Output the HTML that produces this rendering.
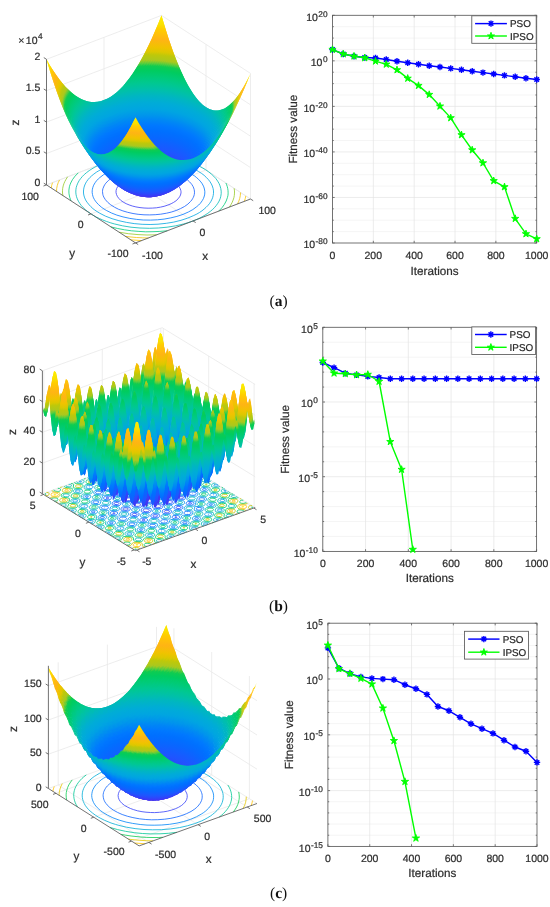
<!DOCTYPE html>
<html lang="en"><head><meta charset="utf-8"><title>Benchmark functions and convergence curves</title>
<style>html,body{margin:0;padding:0;background:#fff}svg{display:block}svg text{stroke:#2e2e2e;stroke-width:.22px;text-rendering:geometricPrecision}svg .cap text{stroke:none}</style></head>
<body><svg width="550" height="907" viewBox="0 0 550 907" font-family="'Liberation Sans',Arial,Helvetica,sans-serif">
<rect width="550" height="907" fill="#fff"/>
<g>
<path d="M135.5 242.9L46.5 184.9L46.5 59.3M193 220.9L104 162.9L104 37.3M250.5 199L161.5 141L161.5 15.4M135.5 242.9L250.5 199L250.5 73.4M91 213.9L206 170L206 44.4M46.5 184.9L161.5 141L161.5 15.4M46.5 184.9L161.5 141L250.5 199M46.5 153.5L161.5 109.6L250.5 167.6M46.5 122.1L161.5 78.2L250.5 136.2M46.5 90.7L161.5 46.8L250.5 104.8M46.5 59.3L161.5 15.4L250.5 73.4" fill="none" stroke="#e9e9e9" stroke-width="0.8"/>
<g fill="none" stroke-width="0.8" stroke-linejoin="round">
<path transform="scale(.1)" stroke-width="8" d="M1335 1774l42-8 45-6 43-3 47 1 40 3 47 7 41 9 39 13 34 15 29 16 25 19 20 21 13 21 8 22 2 13 0 12-5 21-9 18-15 20-21 20-24 16-24 13-34 14-37 12-35 8-42 7-41 3-42 1-41-2-40-4-41-7-36-9-32-11-29-12-30-16-25-18-17-17-15-19-10-22-5-21 1-20 6-20 12-21 17-19 20-17 27-18 26-12 29-11 37-12" stroke="#383cf8"/>
<path transform="scale(.1)" stroke-width="8" d="M1237 1725l54-15 64-12 65-7 68-1 68 3 68 8 62 13 55 16 53 21 46 24 22 15 16 12 17 16 13 14 11 14 11 18 7 16 5 16 2 14 1 18-2 16-4 16-6 14-7 13-8 13-13 15-26 26-34 24-40 21-44 19-49 16-47 11-58 10-55 5-55 2-57-1-59-5-51-8-54-12-47-14-45-17-39-20-37-23-30-25-24-27-16-26-6-14-4-14-3-27 1-15 3-14 11-27 7-12 11-16 25-26 29-23 38-23 42-19 45-16" stroke="#145eff"/>
<path transform="scale(.1)" stroke-width="8" d="M1191 1678l72-18 77-13 80-8 80-1 79 4 80 10 75 16 68 20 30 12 34 14 26 13 29 17 27 17 19 16 18 16 17 18 16 20 11 19 9 19 6 21 4 22 0 18-2 19-6 21-6 16-10 18-11 16-12 16-14 14-20 17-39 29-44 24-54 24-61 20-62 15-66 12-67 7-68 3-74-1-65-6-69-10-68-15-62-18-53-21-52-26-23-14-22-15-33-29-16-17-14-17-11-17-9-17-6-16-4-17-3-18 0-18 2-16 4-18 6-17 9-18 11-17 12-16 17-18 16-14 38-29 44-25 54-24 56-19" stroke="#0077ff"/>
<path transform="scale(.1)" stroke-width="8" d="M1140 1642l45-13 41-9 42-8 44-7 47-5 45-4 47-2 46 0 48 2 45 3 47 5 44 6 44 9 42 9 42 11 40 13 37 13 34 15 37 18 29 17 31 20 24 18 21 20 22 23 17 22 13 22 9 20 8 25 4 24 0 24-3 22-6 23-9 21-10 19-13 19-16 19-18 18-19 17-21 17-27 18-24 14-31 15-61 26-67 22-73 18-74 12-83 9-79 3-80-2-79-7-77-12-76-17-68-20-65-25-57-29-28-17-22-15-20-15-21-20-16-17-17-21-13-18-10-19-8-20-6-21-3-20 0-20 2-19 4-20 7-21 9-19 10-17 15-20 17-19 18-17 21-17 26-19 23-14 29-17 60-26 64-23" stroke="#00a5e1"/>
<path transform="scale(.1)" stroke-width="8" d="M1126 1601l45-11 48-10 44-8 52-7 51-5 55-3 53-1 47 0 49 3 52 4 47 6 51 8 48 9 52 13 41 11 45 15 42 17 39 17 36 19 33 19 30 21 27 22 24 22 22 24 18 26 13 22 10 24 8 28 4 26 0 24-4 27-7 25-10 23-13 22-14 20-19 23-18 18-24 20-25 19-28 18-29 17-30 16-38 16-35 14-42 14-37 11-81 19-87 14-88 8-87 3-96-3-90-8-85-14-82-19-41-12-38-13-36-14-34-15-32-15-29-17-27-17-30-21-23-19-20-19-19-21-16-21-14-23-11-23-8-22-5-24-2-22 1-23 3-22 7-23 9-22 13-24 15-21 19-23 18-18 24-20 25-19 28-18 29-17 30-16 38-16 35-14 74-24" stroke="#00bab7"/>
<path transform="scale(.1)" stroke-width="8" d="M1673 2308l-74 6-69 3-73 1-68-4-74-6-70-10-68-13-68-16M2259 1830l7 17 7 20 4 17 3 19 1 19 0 17-2 18-5 19-12 34-19 35-23 32-33 34M711 2009l-7-17-7-20-7-34-1-18 0-19 5-34 6-19 7-18 18-34 25-34 33-34M1297 1531l74-6 69-3 73-1 68 4 74 6 70 10 68 13 68 16" stroke="#00cb78"/>
<path transform="scale(.1)" stroke-width="8" d="M1566 2348l-96 2-90-4-97-9-92-15M2341 1883l4 26 0 22-2 24-4 22-8 24-10 24-12 22-15 24M629 1956l-4-26 0-22 2-25 5-24 7-22 10-23 12-22 15-24M1404 1491l96-2 90 4 97 9 92 15" stroke="#96c926"/>
<path transform="scale(.1)" stroke-width="8" d="M1485 2380l-62-2-59-3-54-5-55-6M2405 1925l-2 31-6 29-9 27-13 27M565 1914l2-31 6-29 9-27 13-27M1485 1459l62 2 59 3 54 5 55 6" stroke="#f3c004"/>
<path transform="scale(.1)" stroke-width="8" d="M1416 2406l-108-8M2458 1959l-6 28-8 26M512 1880l5-27 9-27M1554 1433l108 8" stroke="#ffc903"/>
</g>
<linearGradient id="ga" gradientUnits="userSpaceOnUse" x1="1355" y1="2429" x2="936.5" y2="1332.8"><stop offset="0" stop-color="#482cde"/><stop offset="0.05" stop-color="#4432ee"/><stop offset="0.1" stop-color="#383cf8"/><stop offset="0.17" stop-color="#1e56ff"/><stop offset="0.234" stop-color="#0867ff"/><stop offset="0.275" stop-color="#0070ff"/><stop offset="0.305" stop-color="#0078ff"/><stop offset="0.338" stop-color="#0087f5"/><stop offset="0.365" stop-color="#0096eb"/><stop offset="0.4" stop-color="#00a5e1"/><stop offset="0.44" stop-color="#00acd7"/><stop offset="0.485" stop-color="#00b6c1"/><stop offset="0.52" stop-color="#00c0aa"/><stop offset="0.56" stop-color="#00c891"/><stop offset="0.6" stop-color="#00cb78"/><stop offset="0.64" stop-color="#00cc5f"/><stop offset="0.668" stop-color="#0fcc50"/><stop offset="0.685" stop-color="#5acd3c"/><stop offset="0.705" stop-color="#aac81e"/><stop offset="0.74" stop-color="#bec80a"/><stop offset="0.76" stop-color="#dcc800"/><stop offset="0.79" stop-color="#f0c300"/><stop offset="0.84" stop-color="#ffb414"/><stop offset="0.91" stop-color="#ffcd00"/><stop offset="0.94" stop-color="#fae100"/><stop offset="1" stop-color="#ffee00"/></linearGradient>
<g transform="scale(.1)" fill="url(#ga)" >
<path transform="translate(-885.4 -577)" d="M1350 1170l32 56 32 51 32 48 32 44 32 40 32 37 32 32 32 29 32 24 32 21 32 17 32 13 32 9 32 5 32 2 31-3 32-6 32-11 32-14 32-18 32-22 32-25 32-30 32-33 32-38 32-41 32-45 32-49 32-53 32-57 32-61 32-64 32-69 31-72 32-76 32-80 10 32-32 80-32 76-32 72-32 69-32 64-32 61-32 57-32 53-32 49-32 45-32 41-32 37-32 34-32 30-32 25-31 22-32 18-32 14-32 11-32 6-32 3-32-2-32-5-32-9-32-13-32-17-32-21-32-24-32-29-32-32-32-37-32-40-32-44-31-48-32-51-32-56z"/>
<path transform="translate(-885.4 -577)" d="M1350 1170l32 56 32 51 32 48 32 44 32 40 32 37 32 32 32 29 32 24 32 21 32 17 32 13 32 9 32 5 32 2 31-3 32-6 32-11 32-14 32-18 32-22 32-25 32-30 32-33 32-38 32-41 32-45 32-49 32-53 32-57 32-61 32-64 32-69 31-72 32-76 32-80 19 63-32 80-32 76-32 73-32 68-32 65-32 60-32 57-32 53-32 49-32 45-31 41-32 38-32 33-32 30-32 26-32 22-32 18-32 14-32 10-32 6-32 3-32-1-32-6-32-9-32-13-32-17-32-20-32-25-31-29-32-32-32-36-32-40-32-44-32-48-32-52-32-56z"/>
<path transform="translate(-876.1 -570.9)" d="M1350 1196l32 56 32 51 32 48 32 44 32 40 32 37 32 32 32 28 32 25 32 21 32 17 32 13 32 9 32 5 32 2 31-3 32-6 32-11 32-14 32-18 32-22 32-25 32-30 32-34 32-37 32-41 32-45 32-49 32-53 32-57 32-61 32-64 32-69 31-72 32-76 32-80 19 62-32 80-32 76-32 73-32 68-32 65-32 60-32 57-32 53-32 49-32 45-31 41-32 38-32 33-32 30-32 26-32 21-32 18-32 15-32 10-32 6-32 3-32-2-32-5-32-9-32-13-32-17-32-21-32-24-31-29-32-32-32-36-32-41-32-44-32-47-32-52-32-56z"/>
<path transform="translate(-866.8 -564.9)" d="M1350 1221l32 56 32 52 32 48 32 44 32 40 32 36 32 32 32 29 32 24 32 21 32 17 32 13 32 9 32 5 32 2 31-3 32-6 32-10 32-14 32-18 32-22 32-26 32-30 32-33 32-38 32-41 32-45 32-49 32-53 32-57 32-60 32-65 32-68 31-73 32-76 32-80 19 61-32 80-32 77-32 72-32 68-32 65-32 60-32 57-32 53-32 49-32 45-31 42-32 37-32 33-32 30-32 26-32 22-32 18-32 14-32 10-32 7-32 2-32-1-32-6-32-9-32-13-32-17-32-20-32-25-31-29-32-32-32-36-32-40-32-44-32-48-32-52-32-56z"/>
<path transform="translate(-857.6 -558.9)" d="M1350 1246l32 56 32 51 32 48 32 44 32 40 32 37 32 32 32 29 32 24 32 21 32 17 32 13 32 9 32 5 32 2 31-3 32-6 32-10 32-15 32-18 32-22 32-25 32-30 32-33 32-38 32-41 32-45 32-49 32-53 32-57 32-61 32-64 32-69 31-72 32-76 32-80 19 60-32 80-32 76-32 73-32 68-32 64-32 61-32 57-32 53-32 49-32 45-31 41-32 38-32 33-32 30-32 26-32 21-32 18-32 15-32 10-32 6-32 3-32-2-32-5-32-9-32-13-32-17-32-21-32-24-31-29-32-32-32-36-32-41-32-44-32-48-32-51-32-56z"/>
<path transform="translate(-848.3 -552.8)" d="M1350 1270l32 56 32 52 32 48 32 44 32 40 32 36 32 32 32 29 32 25 32 20 32 17 32 13 32 9 32 6 32 1 31-3 32-6 32-10 32-14 32-18 32-22 32-26 32-30 32-33 32-38 32-41 32-45 32-49 32-53 32-57 32-60 32-65 32-68 31-73 32-76 32-80 19 59-32 80-32 76-32 73-32 68-32 65-32 60-32 57-32 53-32 49-32 45-31 41-32 38-32 33-32 30-32 26-32 22-32 18-32 14-32 10-32 6-32 3-32-1-32-6-32-9-32-13-32-17-32-21-32-24-31-29-32-32-32-36-32-40-32-44-32-48-32-52-32-56z"/>
<path transform="translate(-839 -546.8)" d="M1350 1294l32 56 32 51 32 48 32 44 32 40 32 37 32 32 32 29 32 24 32 21 32 17 32 13 32 9 32 5 32 2 31-3 32-6 32-11 32-14 32-18 32-22 32-25 32-30 32-33 32-38 32-41 32-45 32-49 32-53 32-57 32-61 32-64 32-69 31-72 32-76 32-80 19 58-32 80-32 76-32 72-32 69-32 64-32 61-32 57-32 53-32 49-32 45-31 41-32 37-32 34-32 30-32 25-32 22-32 18-32 14-32 11-32 6-32 3-32-2-32-5-32-9-32-13-32-17-32-21-32-25-31-28-32-32-32-37-32-40-32-44-32-48-32-51-32-56z"/>
<path transform="translate(-829.7 -540.7)" d="M1350 1317l32 56 32 52 32 47 32 44 32 41 32 36 32 32 32 29 32 24 32 21 32 17 32 13 32 9 32 5 32 2 31-3 32-6 32-10 32-14 32-18 32-22 32-26 32-30 32-33 32-38 32-41 32-45 32-49 32-53 32-57 32-60 32-65 32-68 31-73 32-76 32-80 19 57-32 80-32 76-32 72-32 69-32 64-32 61-32 57-32 53-32 49-32 45-31 41-32 38-32 33-32 30-32 25-32 22-32 18-32 14-32 11-32 6-32 3-32-2-32-5-32-9-32-13-32-17-32-21-32-24-31-29-32-32-32-37-32-40-32-44-32-48-32-51-32-56z"/>
<path transform="translate(-820.5 -534.7)" d="M1350 1340l32 55 32 52 32 48 32 44 32 40 32 37 32 32 32 28 32 25 32 21 32 17 32 13 32 9 32 5 32 1 31-2 32-6 32-11 32-14 32-18 32-22 32-26 32-29 32-34 32-37 32-41 32-45 32-49 32-53 32-57 32-61 32-64 32-69 31-72 32-76 32-80 19 55-32 81-32 76-32 72-32 68-32 65-32 61-32 56-32 53-32 49-32 45-31 42-32 37-32 34-32 29-32 26-32 22-32 18-32 14-32 10-32 7-32 2-32-1-32-6-32-9-32-13-32-17-32-20-32-25-31-28-32-33-32-36-32-40-32-44-32-48-32-52-32-56z"/>
<path transform="translate(-811.2 -528.6)" d="M1350 1362l32 56 32 51 32 48 32 44 32 40 32 37 32 32 32 28 32 25 32 21 32 17 32 13 32 9 32 5 32 2 31-3 32-6 32-11 32-14 32-18 32-22 32-25 32-30 32-34 32-37 32-41 32-45 32-49 32-53 32-57 32-61 32-64 32-69 31-72 32-76 32-80 19 54-32 81-32 76-32 72-32 68-32 65-32 61-32 56-32 53-32 49-32 45-31 42-32 37-32 34-32 29-32 26-32 22-32 18-32 14-32 10-32 7-32 2-32-1-32-6-32-9-32-13-32-17-32-20-32-25-31-28-32-33-32-36-32-40-32-44-32-48-32-52-32-56z"/>
<path transform="translate(-801.9 -522.6)" d="M1350 1383l32 56 32 52 32 48 32 44 32 40 32 36 32 33 32 28 32 25 32 20 32 17 32 13 32 9 32 6 32 1 31-2 32-7 32-10 32-14 32-18 32-22 32-26 32-30 32-33 32-37 32-42 32-45 32-49 32-53 32-57 32-60 32-65 32-68 31-72 32-77 32-80 19 54-32 80-32 76-32 72-32 69-32 64-32 61-32 57-32 53-32 49-32 45-31 41-32 37-32 34-32 30-32 25-32 22-32 18-32 14-32 11-32 6-32 3-32-2-32-5-32-9-32-13-32-17-32-21-32-24-31-29-32-32-32-37-32-40-32-44-32-48-32-51-32-56z"/>
<path transform="translate(-792.7 -516.6)" d="M1350 1404l32 56 32 52 32 48 32 44 32 40 32 36 32 32 32 29 32 25 32 20 32 17 32 13 32 9 32 6 32 1 31-2 32-7 32-10 32-14 32-18 32-22 32-26 32-30 32-33 32-37 32-42 32-45 32-49 32-53 32-57 32-60 32-65 32-68 31-72 32-77 32-80 19 53-32 80-32 76-32 72-32 69-32 64-32 61-32 57-32 53-32 49-32 45-31 41-32 37-32 34-32 30-32 25-32 22-32 18-32 14-32 11-32 6-32 2-32-1-32-5-32-9-32-13-32-17-32-21-32-25-31-28-32-32-32-37-32-40-32-44-32-48-32-52-32-55z"/>
<path transform="translate(-783.4 -510.5)" d="M1350 1425l32 55 32 52 32 48 32 44 32 40 32 37 32 32 32 28 32 25 32 21 32 17 32 13 32 9 32 5 32 1 31-2 32-6 32-11 32-14 32-18 32-22 32-25 32-30 32-34 32-37 32-41 32-45 32-49 32-53 32-57 32-61 32-64 32-69 31-72 32-76 32-80 19 51-32 80-32 76-32 73-32 68-32 65-32 60-32 57-32 53-32 49-32 45-31 41-32 38-32 33-32 30-32 26-32 22-32 18-32 14-32 10-32 6-32 3-32-2-32-5-32-9-32-13-32-17-32-21-32-24-31-29-32-32-32-36-32-41-32-44-32-47-32-52-32-56z"/>
<path transform="translate(-774.1 -504.5)" d="M1350 1445l32 55 32 52 32 48 32 44 32 40 32 36 32 33 32 28 32 25 32 21 32 17 32 13 32 9 32 5 32 1 31-2 32-7 32-10 32-14 32-18 32-22 32-26 32-29 32-34 32-37 32-41 32-46 32-49 32-52 32-57 32-61 32-64 32-69 31-72 32-76 32-80 19 50-32 80-32 76-32 72-32 69-32 64-32 61-32 57-32 53-32 49-32 45-31 41-32 38-32 33-32 30-32 25-32 22-32 18-32 14-32 11-32 6-32 3-32-2-32-5-32-9-32-13-32-17-32-21-32-24-31-29-32-32-32-37-32-40-32-44-32-48-32-51-32-56z"/>
<path transform="translate(-764.8 -498.4)" d="M1350 1464l32 56 32 51 32 48 32 44 32 41 32 36 32 32 32 29 32 24 32 21 32 17 32 13 32 9 32 5 32 2 31-3 32-6 32-10 32-15 32-18 32-21 32-26 32-30 32-33 32-38 32-41 32-45 32-49 32-53 32-57 32-61 32-64 32-68 31-73 32-76 32-80 19 49-32 80-32 76-32 73-32 68-32 65-32 60-32 57-32 53-32 49-32 45-31 41-32 38-32 33-32 30-32 26-32 22-32 18-32 14-32 10-32 6-32 3-32-2-32-5-32-9-32-13-32-17-32-21-32-24-31-29-32-32-32-36-32-40-32-44-32-48-32-52-32-56z"/>
<path transform="translate(-755.6 -492.4)" d="M1350 1483l32 56 32 51 32 48 32 44 32 40 32 37 32 32 32 29 32 24 32 21 32 17 32 13 32 9 32 5 32 2 31-3 32-6 32-11 32-14 32-18 32-22 32-25 32-30 32-34 32-37 32-41 32-45 32-49 32-53 32-57 32-61 32-64 32-69 31-72 32-76 32-80 19 48-32 80-32 76-32 72-32 69-32 64-32 61-32 57-32 53-32 49-32 45-31 41-32 38-32 33-32 30-32 25-32 22-32 18-32 14-32 11-32 6-32 3-32-2-32-5-32-9-32-13-32-17-32-21-32-24-31-29-32-32-32-37-32-40-32-44-32-48-32-51-32-56z"/>
<path transform="translate(-746.3 -486.4)" d="M1350 1501l32 56 32 52 32 47 32 44 32 41 32 36 32 32 32 29 32 24 32 21 32 17 32 13 32 9 32 5 32 2 31-3 32-6 32-10 32-14 32-18 32-22 32-26 32-30 32-33 32-38 32-41 32-45 32-49 32-53 32-57 32-60 32-65 32-68 31-73 32-76 32-80 19 47-32 80-32 76-32 73-32 68-32 65-32 60-32 57-32 53-32 49-32 45-31 41-32 38-32 33-32 30-32 26-32 21-32 18-32 15-32 10-32 6-32 3-32-2-32-5-32-9-32-13-32-17-32-21-32-24-31-29-32-32-32-36-32-41-32-44-32-47-32-52-32-56z"/>
<path transform="translate(-737 -480.3)" d="M1350 1519l32 56 32 51 32 48 32 44 32 40 32 37 32 32 32 28 32 25 32 21 32 17 32 13 32 9 32 5 32 2 31-3 32-6 32-11 32-14 32-18 32-22 32-25 32-30 32-34 32-37 32-41 32-45 32-49 32-53 32-57 32-61 32-64 32-69 31-72 32-76 32-80 19 46-32 80-32 76-32 72-32 69-32 64-32 61-32 57-32 52-32 49-32 46-31 41-32 37-32 34-32 29-32 26-32 22-32 18-32 14-32 11-32 6-32 2-32-1-32-5-32-9-32-13-32-17-32-21-32-25-31-28-32-33-32-36-32-40-32-44-32-48-32-52-32-55z"/>
<path transform="translate(-727.8 -474.3)" d="M1350 1536l32 56 32 51 32 48 32 44 32 40 32 37 32 32 32 29 32 24 32 21 32 17 32 13 32 9 32 5 32 2 31-3 32-6 32-10 32-15 32-18 32-21 32-26 32-30 32-33 32-38 32-41 32-45 32-49 32-53 32-57 32-61 32-64 32-68 31-73 32-76 32-80 19 45-32 80-32 76-32 72-32 69-32 64-32 61-32 57-32 53-32 49-32 45-31 41-32 37-32 34-32 30-32 25-32 22-32 18-32 14-32 11-32 6-32 2-32-1-32-5-32-9-32-13-32-17-32-21-32-25-31-28-32-32-32-37-32-40-32-44-32-48-32-52-32-55z"/>
<path transform="translate(-718.5 -468.2)" d="M1350 1553l32 55 32 52 32 48 32 44 32 40 32 36 32 33 32 28 32 25 32 21 32 17 32 13 32 9 32 5 32 1 31-2 32-7 32-10 32-14 32-18 32-22 32-26 32-29 32-34 32-37 32-41 32-46 32-49 32-53 32-56 32-61 32-64 32-69 31-72 32-76 32-80 19 43-32 80-32 77-32 72-32 68-32 65-32 60-32 57-32 53-32 49-32 45-31 42-32 37-32 33-32 30-32 26-32 22-32 18-32 14-32 10-32 7-32 2-32-1-32-6-32-9-32-13-32-17-32-20-32-25-31-29-32-32-32-36-32-40-32-44-32-48-32-52-32-56z"/>
<path transform="translate(-709.2 -462.2)" d="M1350 1569l32 55 32 52 32 48 32 44 32 40 32 36 32 33 32 28 32 25 32 21 32 17 32 13 32 9 32 5 32 1 31-2 32-6 32-11 32-14 32-18 32-22 32-26 32-29 32-34 32-37 32-41 32-46 32-49 32-52 32-57 32-61 32-64 32-69 31-72 32-76 32-80 19 42-32 80-32 77-32 72-32 68-32 65-32 60-32 57-32 53-32 49-32 45-31 42-32 37-32 33-32 30-32 26-32 22-32 18-32 14-32 10-32 6-32 3-32-1-32-6-32-9-32-13-32-17-32-20-32-25-31-29-32-32-32-36-32-40-32-44-32-48-32-52-32-56z"/>
<path transform="translate(-699.9 -456.1)" d="M1350 1584l32 56 32 52 32 48 32 44 32 40 32 36 32 32 32 29 32 25 32 20 32 17 32 13 32 9 32 6 32 1 31-3 32-6 32-10 32-14 32-18 32-22 32-26 32-30 32-33 32-38 32-41 32-45 32-49 32-53 32-57 32-60 32-65 32-68 31-73 32-76 32-80 19 42-32 80-32 76-32 72-32 69-32 64-32 61-32 57-32 53-32 49-32 45-31 41-32 37-32 34-32 30-32 25-32 22-32 18-32 14-32 11-32 6-32 2-32-1-32-5-32-9-32-13-32-17-32-21-32-25-31-28-32-32-32-37-32-40-32-44-32-48-32-52-32-55z"/>
<path transform="translate(-690.7 -450.1)" d="M1350 1599l32 56 32 52 32 48 32 44 32 40 32 36 32 32 32 29 32 25 32 20 32 17 32 13 32 9 32 6 32 1 31-3 32-6 32-10 32-14 32-18 32-22 32-26 32-30 32-33 32-38 32-41 32-45 32-49 32-53 32-57 32-60 32-65 32-68 31-73 32-76 32-80 19 41-32 80-32 76-32 72-32 69-32 64-32 61-32 57-32 52-32 49-32 46-31 41-32 37-32 34-32 29-32 26-32 22-32 18-32 14-32 10-32 7-32 2-32-1-32-5-32-9-32-13-32-17-32-21-32-25-31-28-32-33-32-36-32-40-32-44-32-48-32-52-32-55z"/>
<path transform="translate(-681.4 -444.1)" d="M1350 1614l32 55 32 52 32 48 32 44 32 40 32 36 32 33 32 28 32 25 32 21 32 17 32 13 32 9 32 5 32 1 31-2 32-7 32-10 32-14 32-18 32-22 32-26 32-29 32-34 32-37 32-41 32-46 32-49 32-52 32-57 32-61 32-64 32-69 31-72 32-76 32-80 19 39-32 80-32 76-32 73-32 68-32 64-32 61-32 57-32 53-32 49-32 45-31 41-32 38-32 33-32 30-32 26-32 21-32 18-32 15-32 10-32 6-32 3-32-2-32-5-32-9-32-13-32-17-32-21-32-24-31-29-32-32-32-36-32-41-32-44-32-48-32-51-32-56z"/>
<path transform="translate(-672.1 -438)" d="M1350 1628l32 55 32 52 32 48 32 44 32 40 32 36 32 33 32 28 32 25 32 21 32 17 32 13 32 9 32 5 32 1 31-2 32-7 32-10 32-14 32-18 32-22 32-26 32-29 32-34 32-37 32-41 32-46 32-49 32-53 32-56 32-61 32-65 32-68 31-72 32-76 32-80 19 38-32 80-32 76-32 72-32 69-32 64-32 61-32 57-32 53-32 49-32 45-31 41-32 37-32 34-32 30-32 25-32 22-32 18-32 14-32 11-32 6-32 3-32-2-32-5-32-9-32-13-32-17-32-21-32-25-31-28-32-32-32-37-32-40-32-44-32-48-32-51-32-56z"/>
<path transform="translate(-662.9 -432)" d="M1350 1641l32 56 32 51 32 48 32 44 32 40 32 37 32 32 32 29 32 24 32 21 32 17 32 13 32 9 32 5 32 2 31-3 32-6 32-11 32-14 32-18 32-22 32-25 32-30 32-33 32-38 32-41 32-45 32-49 32-53 32-57 32-61 32-64 32-69 31-72 32-76 32-80 19 37-32 80-32 76-32 73-32 68-32 65-32 60-32 57-32 53-32 49-32 45-31 41-32 38-32 33-32 30-32 26-32 21-32 19-32 14-32 10-32 6-32 3-32-2-32-5-32-9-32-13-32-17-32-21-32-24-31-29-32-32-32-36-32-41-32-44-32-47-32-52-32-56z"/>
<path transform="translate(-653.6 -425.9)" d="M1350 1654l32 55 32 52 32 48 32 44 32 40 32 37 32 32 32 28 32 25 32 21 32 17 32 13 32 9 32 5 32 1 31-2 32-6 32-11 32-14 32-18 32-22 32-26 32-29 32-34 32-37 32-41 32-45 32-49 32-53 32-57 32-61 32-64 32-69 31-72 32-76 32-80 19 36-32 80-32 76-32 72-32 69-32 64-32 61-32 57-32 53-32 49-32 45-31 41-32 37-32 34-32 30-32 25-32 22-32 18-32 14-32 11-32 6-32 2-32-1-32-5-32-9-32-13-32-17-32-21-32-25-31-28-32-32-32-37-32-40-32-44-32-48-32-51-32-56z"/>
<path transform="translate(-644.3 -419.9)" d="M1350 1666l32 56 32 51 32 48 32 44 32 41 32 36 32 32 32 29 32 24 32 21 32 17 32 13 32 9 32 5 32 2 31-3 32-6 32-10 32-15 32-18 32-21 32-26 32-30 32-33 32-38 32-41 32-45 32-49 32-53 32-57 32-61 32-64 32-68 31-73 32-76 32-80 19 35-32 80-32 76-32 73-32 68-32 64-32 61-32 57-32 53-32 49-32 45-31 41-32 38-32 33-32 30-32 26-32 21-32 18-32 15-32 10-32 6-32 3-32-2-32-5-32-9-32-13-32-17-32-21-32-24-31-29-32-32-32-37-32-40-32-44-32-48-32-51-32-56z"/>
<path transform="translate(-635.1 -413.9)" d="M1350 1678l32 55 32 52 32 48 32 44 32 40 32 36 32 33 32 28 32 25 32 21 32 17 32 13 32 9 32 5 32 1 31-2 32-6 32-11 32-14 32-18 32-22 32-26 32-29 32-34 32-37 32-41 32-45 32-49 32-53 32-57 32-61 32-64 32-69 31-72 32-76 32-80 19 34-32 80-32 76-32 72-32 69-32 64-32 61-32 56-32 53-32 49-32 46-31 41-32 37-32 34-32 29-32 26-32 22-32 18-32 14-32 10-32 7-32 2-32-1-32-5-32-9-32-13-32-17-32-21-32-25-31-28-32-33-32-36-32-40-32-44-32-48-32-52-32-55z"/>
<path transform="translate(-625.8 -407.8)" d="M1350 1689l32 56 32 51 32 48 32 44 32 40 32 37 32 32 32 29 32 24 32 21 32 17 32 13 32 9 32 5 32 2 31-3 32-6 32-11 32-14 32-18 32-22 32-25 32-30 32-33 32-38 32-41 32-45 32-49 32-53 32-57 32-61 32-64 32-69 31-72 32-76 32-80 19 33-32 80-32 76-32 72-32 69-32 64-32 61-32 57-32 52-32 50-32 45-31 41-32 37-32 34-32 29-32 26-32 22-32 18-32 14-32 11-32 6-32 2-32-1-32-5-32-9-32-13-32-17-32-21-32-25-31-28-32-33-32-36-32-40-32-44-32-48-32-52-32-55z"/>
<path transform="translate(-616.5 -401.8)" d="M1350 1700l32 55 32 52 32 48 32 44 32 40 32 36 32 33 32 28 32 25 32 21 32 16 32 13 32 10 32 5 32 1 31-2 32-7 32-10 32-14 32-18 32-22 32-26 32-29 32-34 32-37 32-42 32-45 32-49 32-53 32-56 32-61 32-65 32-68 31-72 32-76 32-80 19 31-32 80-32 76-32 73-32 68-32 65-32 60-32 57-32 53-32 49-32 45-31 41-32 38-32 33-32 30-32 26-32 22-32 18-32 14-32 10-32 6-32 3-32-1-32-6-32-9-32-13-32-17-32-20-32-25-31-29-32-32-32-36-32-40-32-44-32-48-32-52-32-56z"/>
<path transform="translate(-607.2 -395.7)" d="M1350 1710l32 55 32 52 32 48 32 44 32 40 32 36 32 33 32 28 32 25 32 21 32 17 32 13 32 9 32 5 32 1 31-2 32-7 32-10 32-14 32-18 32-22 32-26 32-29 32-34 32-37 32-41 32-46 32-49 32-53 32-56 32-61 32-64 32-69 31-72 32-76 32-80 19 30-32 80-32 76-32 73-32 68-32 65-32 60-32 57-32 53-32 49-32 45-31 41-32 38-32 33-32 30-32 26-32 22-32 18-32 14-32 10-32 6-32 3-32-1-32-6-32-9-32-13-32-17-32-20-32-25-31-29-32-32-32-36-32-40-32-44-32-48-32-52-32-56z"/>
<path transform="translate(-598 -389.7)" d="M1350 1719l32 56 32 52 32 48 32 44 32 40 32 36 32 32 32 29 32 24 32 21 32 17 32 13 32 9 32 5 32 2 31-3 32-6 32-10 32-14 32-18 32-22 32-26 32-30 32-33 32-38 32-41 32-45 32-49 32-53 32-57 32-60 32-65 32-68 31-73 32-76 32-80 19 30-32 80-32 76-32 72-32 69-32 64-32 61-32 57-32 52-32 49-32 46-31 41-32 37-32 34-32 29-32 26-32 22-32 18-32 14-32 10-32 7-32 2-32-1-32-5-32-9-32-13-32-17-32-21-32-25-31-28-32-33-32-36-32-40-32-44-32-48-32-52-32-55z"/>
<path transform="translate(-588.7 -383.6)" d="M1350 1728l32 56 32 52 32 48 32 44 32 40 32 36 32 32 32 29 32 24 32 21 32 17 32 13 32 9 32 5 32 2 31-3 32-6 32-10 32-14 32-18 32-22 32-26 32-30 32-33 32-38 32-41 32-45 32-49 32-53 32-57 32-60 32-65 32-68 31-73 32-76 32-80 19 29-32 80-32 76-32 72-32 69-32 64-32 61-32 56-32 53-32 49-32 46-31 41-32 37-32 34-32 29-32 26-32 22-32 18-32 14-32 10-32 7-32 2-32-1-32-5-32-9-32-13-32-17-32-21-32-25-31-28-32-33-32-36-32-40-32-44-32-48-32-52-32-55z"/>
<path transform="translate(-579.4 -377.6)" d="M1350 1737l32 55 32 52 32 48 32 44 32 40 32 36 32 33 32 28 32 25 32 21 32 17 32 13 32 9 32 5 32 1 31-2 32-7 32-10 32-14 32-18 32-22 32-26 32-29 32-34 32-37 32-41 32-46 32-49 32-53 32-56 32-61 32-64 32-69 31-72 32-76 32-80 19 27-32 80-32 76-32 72-32 69-32 64-32 61-32 57-32 53-32 49-32 45-31 41-32 38-32 33-32 30-32 25-32 22-32 18-32 14-32 11-32 6-32 3-32-2-32-5-32-9-32-13-32-17-32-21-32-24-31-29-32-32-32-37-32-40-32-44-32-48-32-51-32-56z"/>
<path transform="translate(-570.2 -371.6)" d="M1350 1745l32 55 32 52 32 48 32 44 32 40 32 36 32 33 32 28 32 25 32 21 32 16 32 13 32 10 32 5 32 1 31-2 32-7 32-10 32-14 32-18 32-22 32-26 32-29 32-34 32-37 32-42 32-45 32-49 32-53 32-56 32-61 32-65 32-68 31-72 32-76 32-80 19 26-32 80-32 76-32 72-32 69-32 64-32 61-32 57-32 53-32 49-32 45-31 41-32 37-32 34-32 30-32 25-32 22-32 18-32 14-32 11-32 6-32 2-32-1-32-5-32-9-32-13-32-17-32-21-32-25-31-28-32-32-32-37-32-40-32-44-32-48-32-52-32-55z"/>
<path transform="translate(-560.9 -365.5)" d="M1350 1752l32 56 32 51 32 48 32 44 32 40 32 37 32 32 32 29 32 24 32 21 32 17 32 13 32 9 32 5 32 2 31-3 32-6 32-11 32-14 32-18 32-22 32-25 32-30 32-34 32-37 32-41 32-45 32-49 32-53 32-57 32-61 32-64 32-69 31-72 32-76 32-80 19 25-32 80-32 76-32 73-32 68-32 64-32 61-32 57-32 53-32 49-32 45-31 41-32 38-32 33-32 30-32 26-32 21-32 18-32 15-32 10-32 6-32 3-32-2-32-5-32-9-32-13-32-17-32-21-32-24-31-29-32-32-32-36-32-41-32-44-32-48-32-51-32-56z"/>
<path transform="translate(-551.6 -359.5)" d="M1350 1759l32 55 32 52 32 48 32 44 32 40 32 36 32 33 32 28 32 25 32 21 32 17 32 13 32 9 32 5 32 1 31-2 32-7 32-10 32-14 32-18 32-22 32-26 32-29 32-34 32-37 32-41 32-46 32-49 32-52 32-57 32-61 32-64 32-69 31-72 32-76 32-80 19 24-32 80-32 76-32 72-32 69-32 64-32 61-32 57-32 53-32 49-32 45-31 41-32 37-32 34-32 30-32 25-32 22-32 18-32 14-32 11-32 6-32 2-32-1-32-5-32-9-32-13-32-17-32-21-32-25-31-28-32-32-32-37-32-40-32-44-32-48-32-52-32-55z"/>
<path transform="translate(-542.3 -353.4)" d="M1350 1765l32 56 32 51 32 48 32 44 32 40 32 37 32 32 32 29 32 24 32 21 32 17 32 13 32 9 32 5 32 2 31-3 32-6 32-11 32-14 32-18 32-22 32-25 32-30 32-33 32-38 32-41 32-45 32-49 32-53 32-57 32-61 32-64 32-69 31-72 32-76 32-80 19 23-32 80-32 76-32 72-32 69-32 64-32 61-32 57-32 53-32 49-32 45-31 41-32 38-32 33-32 30-32 25-32 22-32 18-32 14-32 11-32 6-32 3-32-2-32-5-32-9-32-13-32-17-32-21-32-24-31-29-32-32-32-37-32-40-32-44-32-48-32-51-32-56z"/>
<path transform="translate(-533.1 -347.4)" d="M1350 1771l32 55 32 52 32 48 32 44 32 40 32 36 32 33 32 28 32 25 32 21 32 17 32 13 32 9 32 5 32 1 31-2 32-7 32-10 32-14 32-18 32-22 32-26 32-29 32-34 32-37 32-41 32-46 32-49 32-52 32-57 32-61 32-64 32-69 31-72 32-76 32-80 19 22-32 80-32 76-32 72-32 68-32 65-32 61-32 56-32 53-32 49-32 46-31 41-32 37-32 34-32 29-32 26-32 22-32 18-32 14-32 10-32 7-32 2-32-1-32-5-32-9-32-13-32-17-32-21-32-25-31-28-32-33-32-36-32-40-32-44-32-48-32-52-32-55z"/>
<path transform="translate(-523.8 -341.4)" d="M1350 1776l32 56 32 51 32 48 32 44 32 40 32 37 32 32 32 29 32 24 32 21 32 17 32 13 32 9 32 5 32 2 31-3 32-6 32-11 32-14 32-18 32-22 32-25 32-30 32-34 32-37 32-41 32-45 32-49 32-53 32-57 32-61 32-64 32-69 31-72 32-76 32-80 19 21-32 80-32 76-32 72-32 69-32 64-32 61-32 57-32 52-32 49-32 46-31 41-32 37-32 34-32 29-32 26-32 22-32 18-32 14-32 10-32 7-32 2-32-1-32-5-32-9-32-13-32-17-32-21-32-25-31-28-32-33-32-36-32-40-32-44-32-48-32-52-32-55z"/>
<path transform="translate(-514.5 -335.3)" d="M1350 1781l32 55 32 52 32 48 32 44 32 40 32 36 32 33 32 28 32 25 32 21 32 16 32 13 32 10 32 5 32 1 31-2 32-7 32-10 32-14 32-18 32-22 32-26 32-29 32-34 32-37 32-42 32-45 32-49 32-53 32-56 32-61 32-65 32-68 31-72 32-76 32-80 19 19-32 80-32 76-32 73-32 68-32 65-32 60-32 57-32 53-32 49-32 45-31 41-32 38-32 33-32 30-32 26-32 22-32 18-32 14-32 10-32 6-32 3-32-1-32-6-32-9-32-13-32-17-32-20-32-25-31-29-32-32-32-36-32-40-32-44-32-48-32-52-32-56z"/>
<path transform="translate(-505.3 -329.3)" d="M1350 1785l32 55 32 52 32 48 32 44 32 40 32 36 32 33 32 28 32 25 32 21 32 17 32 13 32 9 32 5 32 1 31-2 32-7 32-10 32-14 32-18 32-22 32-26 32-29 32-34 32-37 32-41 32-46 32-49 32-53 32-56 32-61 32-65 32-68 31-72 32-76 32-80 19 18-32 80-32 76-32 73-32 68-32 65-32 60-32 57-32 53-32 49-32 45-31 41-32 38-32 33-32 30-32 26-32 22-32 18-32 14-32 10-32 6-32 3-32-1-32-6-32-9-32-13-32-17-32-21-32-24-31-29-32-32-32-36-32-40-32-44-32-48-32-52-32-56z"/>
<path transform="translate(-496 -323.2)" d="M1350 1788l32 56 32 52 32 47 32 44 32 41 32 36 32 32 32 29 32 24 32 21 32 17 32 13 32 9 32 5 32 2 31-3 32-6 32-10 32-14 32-18 32-22 32-26 32-30 32-33 32-38 32-41 32-45 32-49 32-53 32-57 32-60 32-65 32-68 31-73 32-76 32-80 19 18-32 80-32 76-32 72-32 69-32 64-32 61-32 57-32 52-32 49-32 46-31 41-32 37-32 34-32 29-32 26-32 22-32 18-32 14-32 10-32 7-32 2-32-1-32-5-32-9-32-13-32-17-32-21-32-25-31-28-32-33-32-36-32-40-32-44-32-48-32-52-32-55z"/>
<path transform="translate(-486.7 -317.2)" d="M1350 1791l32 56 32 52 32 47 32 44 32 41 32 36 32 32 32 29 32 24 32 21 32 17 32 13 32 9 32 5 32 2 31-3 32-6 32-10 32-14 32-18 32-22 32-26 32-30 32-33 32-38 32-41 32-45 32-49 32-53 32-57 32-60 32-65 32-68 31-73 32-76 32-80 19 17-32 80-32 76-32 72-32 68-32 65-32 61-32 56-32 53-32 49-32 46-31 41-32 37-32 34-32 29-32 26-32 22-32 18-32 14-32 10-32 7-32 2-32-1-32-5-32-10-32-13-32-16-32-21-32-25-31-28-32-33-32-36-32-40-32-44-32-48-32-52-32-55z"/>
<path transform="translate(-477.4 -311.1)" d="M1350 1794l32 55 32 52 32 48 32 44 32 40 32 36 32 33 32 28 32 25 32 21 32 17 32 13 32 9 32 5 32 1 31-2 32-7 32-10 32-14 32-18 32-22 32-26 32-29 32-34 32-37 32-41 32-46 32-49 32-53 32-56 32-61 32-65 32-68 31-72 32-76 32-80 19 15-32 80-32 76-32 72-32 69-32 64-32 61-32 57-32 53-32 49-32 45-31 41-32 38-32 33-32 30-32 25-32 22-32 18-32 14-32 11-32 6-32 3-32-2-32-5-32-9-32-13-32-17-32-21-32-24-31-29-32-32-32-37-32-40-32-44-32-48-32-51-32-56z"/>
<path transform="translate(-468.2 -305.1)" d="M1350 1796l32 55 32 52 32 48 32 44 32 40 32 36 32 33 32 28 32 25 32 21 32 16 32 13 32 10 32 5 32 1 31-2 32-7 32-10 32-14 32-18 32-22 32-26 32-29 32-34 32-37 32-42 32-45 32-49 32-53 32-56 32-61 32-65 32-68 31-72 32-76 32-80 19 14-32 80-32 76-32 72-32 69-32 64-32 61-32 57-32 53-32 49-32 45-31 41-32 37-32 34-32 29-32 26-32 22-32 18-32 14-32 11-32 6-32 2-32-1-32-5-32-9-32-13-32-17-32-21-32-25-31-28-32-32-32-37-32-40-32-44-32-48-32-52-32-55z"/>
<path transform="translate(-458.9 -299.1)" d="M1350 1797l32 56 32 51 32 48 32 44 32 40 32 37 32 32 32 29 32 24 32 21 32 17 32 13 32 9 32 5 32 2 31-3 32-6 32-11 32-14 32-18 32-22 32-25 32-30 32-34 32-37 32-41 32-45 32-49 32-53 32-57 32-61 32-64 32-69 31-72 32-76 32-80 19 13-32 80-32 76-32 73-32 68-32 64-32 61-32 57-32 53-32 49-32 45-31 41-32 38-32 33-32 30-32 26-32 21-32 18-32 15-32 10-32 6-32 3-32-2-32-5-32-9-32-13-32-17-32-21-32-24-31-29-32-32-32-36-32-41-32-44-32-48-32-51-32-56z"/>
<path transform="translate(-449.6 -293)" d="M1350 1798l32 55 32 52 32 48 32 44 32 40 32 36 32 33 32 28 32 25 32 21 32 17 32 13 32 9 32 5 32 1 31-2 32-7 32-10 32-14 32-18 32-22 32-26 32-29 32-34 32-37 32-41 32-46 32-49 32-52 32-57 32-61 32-64 32-69 31-72 32-76 32-80 19 12-32 80-32 76-32 72-32 69-32 64-32 61-32 57-32 53-32 49-32 45-31 41-32 37-32 34-32 29-32 26-32 22-32 18-32 14-32 11-32 6-32 2-32-1-32-5-32-9-32-13-32-17-32-21-32-25-31-28-32-32-32-37-32-40-32-44-32-48-32-52-32-55z"/>
<path transform="translate(-440.4 -287)" d="M1350 1798l32 56 32 51 32 48 32 44 32 40 32 37 32 32 32 29 32 24 32 21 32 17 32 13 32 9 32 5 32 2 31-3 32-6 32-11 32-14 32-18 32-22 32-25 32-30 32-33 32-38 32-41 32-45 32-49 32-53 32-57 32-61 32-64 32-69 31-72 32-76 32-80 19 11-32 80-32 76-32 72-32 69-32 64-32 61-32 57-32 53-32 49-32 45-31 41-32 38-32 33-32 30-32 25-32 22-32 18-32 14-32 11-32 6-32 3-32-2-32-5-32-9-32-13-32-17-32-21-32-24-31-29-32-32-32-37-32-40-32-44-32-48-32-51-32-56z"/>
<path transform="translate(-431.1 -280.9)" d="M1350 1798l32 55 32 52 32 48 32 44 32 40 32 36 32 33 32 28 32 25 32 21 32 17 32 13 32 9 32 5 32 1 31-2 32-7 32-10 32-14 32-18 32-22 32-26 32-29 32-34 32-37 32-41 32-46 32-49 32-52 32-57 32-61 32-64 32-69 31-72 32-76 32-80 19 10-32 80-32 76-32 72-32 68-32 65-32 61-32 56-32 53-32 49-32 46-31 41-32 37-32 34-32 29-32 26-32 22-32 18-32 14-32 10-32 7-32 2-32-1-32-5-32-10-32-13-32-16-32-21-32-25-31-28-32-33-32-36-32-40-32-44-32-48-32-52-32-55z"/>
<path transform="translate(-421.8 -274.9)" d="M1350 1797l32 56 32 51 32 48 32 44 32 40 32 37 32 32 32 29 32 24 32 21 32 17 32 13 32 9 32 5 32 2 31-3 32-6 32-11 32-14 32-18 32-22 32-25 32-30 32-34 32-37 32-41 32-45 32-49 32-53 32-57 32-61 32-64 32-69 31-72 32-76 32-80 19 9-32 80-32 76-32 72-32 69-32 64-32 61-32 57-32 52-32 49-32 46-31 41-32 37-32 34-32 29-32 26-32 22-32 18-32 14-32 10-32 7-32 2-32-1-32-5-32-9-32-13-32-17-32-21-32-25-31-28-32-33-32-36-32-40-32-44-32-48-32-52-32-55z"/>
<path transform="translate(-412.6 -268.9)" d="M1350 1796l32 55 32 52 32 48 32 44 32 40 32 36 32 33 32 28 32 25 32 21 32 16 32 13 32 10 32 5 32 1 31-2 32-7 32-10 32-14 32-18 32-22 32-26 32-29 32-34 32-37 32-42 32-45 32-49 32-53 32-56 32-61 32-65 32-68 31-72 32-76 32-80 19 7-32 80-32 76-32 73-32 68-32 65-32 60-32 57-32 53-32 49-32 45-31 41-32 38-32 33-32 30-32 26-32 22-32 18-32 14-32 10-32 6-32 3-32-1-32-6-32-9-32-13-32-17-32-21-32-24-31-29-32-32-32-36-32-40-32-44-32-48-32-52-32-56z"/>
<path transform="translate(-403.3 -262.8)" d="M1350 1794l32 55 32 52 32 48 32 44 32 40 32 36 32 33 32 28 32 25 32 21 32 17 32 13 32 9 32 5 32 1 31-2 32-7 32-10 32-14 32-18 32-22 32-26 32-29 32-34 32-37 32-41 32-46 32-49 32-53 32-56 32-61 32-65 32-68 31-72 32-76 32-80 19 6-32 80-32 76-32 73-32 68-32 65-32 60-32 57-32 53-32 49-32 45-31 41-32 38-32 33-32 30-32 26-32 22-32 18-32 14-32 10-32 6-32 3-32-1-32-6-32-9-32-13-32-17-32-20-32-25-31-29-32-32-32-36-32-40-32-44-32-48-32-52-32-56z"/>
<path transform="translate(-394 -256.8)" d="M1350 1791l32 56 32 52 32 47 32 44 32 41 32 36 32 32 32 29 32 24 32 21 32 17 32 13 32 9 32 5 32 2 31-3 32-6 32-10 32-14 32-18 32-22 32-26 32-30 32-33 32-38 32-41 32-45 32-49 32-53 32-57 32-60 32-65 32-68 31-73 32-76 32-80 19 6-32 80-32 76-32 72-32 69-32 64-32 61-32 57-32 52-32 49-32 46-31 41-32 37-32 34-32 29-32 26-32 22-32 18-32 14-32 10-32 7-32 2-32-1-32-5-32-9-32-13-32-17-32-21-32-25-31-28-32-33-32-36-32-40-32-44-32-48-32-52-32-55z"/>
<path transform="translate(-384.7 -250.7)" d="M1350 1788l32 56 32 52 32 47 32 44 32 41 32 36 32 32 32 29 32 24 32 21 32 17 32 13 32 9 32 5 32 2 31-3 32-6 32-10 32-14 32-18 32-22 32-26 32-30 32-33 32-38 32-41 32-45 32-49 32-53 32-57 32-60 32-65 32-68 31-73 32-76 32-80 19 5-32 80-32 76-32 72-32 68-32 65-32 61-32 56-32 53-32 49-32 46-31 41-32 37-32 34-32 29-32 26-32 22-32 18-32 14-32 10-32 7-32 2-32-1-32-5-32-9-32-13-32-17-32-21-32-25-31-28-32-33-32-36-32-40-32-44-32-48-32-52-32-55z"/>
<path transform="translate(-375.5 -244.7)" d="M1350 1785l32 55 32 52 32 48 32 44 32 40 32 36 32 33 32 28 32 25 32 21 32 17 32 13 32 9 32 5 32 1 31-2 32-7 32-10 32-14 32-18 32-22 32-26 32-29 32-34 32-37 32-41 32-46 32-49 32-53 32-56 32-61 32-65 32-68 31-72 32-76 32-80 19 3-32 80-32 76-32 72-32 69-32 64-32 61-32 57-32 53-32 49-32 45-31 41-32 38-32 33-32 30-32 25-32 22-32 18-32 14-32 11-32 6-32 3-32-2-32-5-32-9-32-13-32-17-32-21-32-24-31-29-32-32-32-37-32-40-32-44-32-48-32-51-32-56z"/>
<path transform="translate(-366.2 -238.6)" d="M1350 1781l32 55 32 52 32 48 32 44 32 40 32 36 32 33 32 28 32 25 32 21 32 16 32 13 32 10 32 5 32 1 31-2 32-7 32-10 32-14 32-18 32-22 32-26 32-29 32-34 32-37 32-42 32-45 32-49 32-53 32-56 32-61 32-65 32-68 31-72 32-76 32-80 19 2-32 80-32 76-32 72-32 69-32 64-32 61-32 57-32 53-32 49-32 45-31 41-32 37-32 34-32 30-32 25-32 22-32 18-32 14-32 11-32 6-32 2-32-1-32-5-32-9-32-13-32-17-32-21-32-25-31-28-32-32-32-37-32-40-32-44-32-48-32-52-32-55z"/>
<path transform="translate(-356.9 -232.6)" d="M1350 1776l32 56 32 51 32 48 32 44 32 40 32 37 32 32 32 29 32 24 32 21 32 17 32 13 32 9 32 5 32 2 31-3 32-6 32-11 32-14 32-18 32-22 32-25 32-30 32-34 32-37 32-41 32-45 32-49 32-53 32-57 32-61 32-64 32-69 31-72 32-76 32-80 19 1-32 80-32 76-32 73-32 68-32 64-32 61-32 57-32 53-32 49-32 45-31 41-32 38-32 33-32 30-32 26-32 21-32 18-32 15-32 10-32 6-32 3-32-2-32-5-32-9-32-13-32-17-32-21-32-24-31-29-32-32-32-36-32-41-32-44-32-48-32-51-32-56z"/>
<path transform="translate(-347.7 -226.6)" d="M1350 1771l32 55 32 52 32 48 32 44 32 40 32 36 32 33 32 28 32 25 32 21 32 17 32 13 32 9 32 5 32 1 31-2 32-7 32-10 32-14 32-18 32-22 32-26 32-29 32-34 32-37 32-41 32-46 32-49 32-52 32-57 32-61 32-64 32-69 31-72 32-76 32-80 19 0-32 80-32 76-32 72-32 69-32 64-32 61-32 57-32 53-32 49-32 45-31 41-32 37-32 34-32 30-32 25-32 22-32 18-32 14-32 11-32 6-32 2-32-1-32-5-32-9-32-13-32-17-32-21-32-25-31-28-32-32-32-37-32-40-32-44-32-48-32-52-32-55z"/>
<path transform="translate(-338.4 -220.5)" d="M1350 1765l32 56 32 51 32 48 32 44 32 40 32 37 32 32 32 29 32 24 32 21 32 17 32 13 32 9 32 5 32 2 31-3 32-6 32-11 32-14 32-18 32-22 32-25 32-30 32-33 32-38 32-41 32-45 32-49 32-53 32-57 32-61 32-64 32-69 31-72 32-76 32-80 19-1-32 80-32 76-32 72-32 69-32 64-32 61-32 57-32 53-32 49-32 45-31 41-32 38-32 33-32 30-32 25-32 22-32 18-32 14-32 11-32 6-32 3-32-2-32-5-32-9-32-13-32-17-32-21-32-24-31-29-32-32-32-37-32-40-32-44-32-48-32-51-32-56z"/>
<path transform="translate(-329.1 -214.5)" d="M1350 1759l32 55 32 52 32 48 32 44 32 40 32 36 32 33 32 28 32 25 32 21 32 17 32 13 32 9 32 5 32 1 31-2 32-7 32-10 32-14 32-18 32-22 32-26 32-29 32-34 32-37 32-41 32-46 32-49 32-52 32-57 32-61 32-64 32-69 31-72 32-76 32-80 19-2-32 80-32 76-32 72-32 69-32 64-32 61-32 56-32 53-32 49-32 46-31 41-32 37-32 34-32 29-32 26-32 22-32 18-32 14-32 10-32 7-32 2-32-1-32-5-32-9-32-13-32-17-32-21-32-25-31-28-32-33-32-36-32-40-32-44-32-48-32-52-32-55z"/>
<path transform="translate(-319.8 -208.4)" d="M1350 1752l32 56 32 51 32 48 32 44 32 40 32 37 32 32 32 29 32 24 32 21 32 17 32 13 32 9 32 5 32 2 31-3 32-6 32-11 32-14 32-18 32-22 32-25 32-30 32-34 32-37 32-41 32-45 32-49 32-53 32-57 32-61 32-64 32-69 31-72 32-76 32-80 19-3-32 80-32 76-32 72-32 69-32 64-32 61-32 57-32 52-32 49-32 46-31 41-32 37-32 34-32 29-32 26-32 22-32 18-32 14-32 10-32 7-32 2-32-1-32-5-32-9-32-13-32-17-32-21-32-25-31-28-32-33-32-36-32-40-32-44-32-48-32-52-32-55z"/>
<path transform="translate(-310.6 -202.4)" d="M1350 1745l32 55 32 52 32 48 32 44 32 40 32 36 32 33 32 28 32 25 32 21 32 16 32 13 32 10 32 5 32 1 31-2 32-7 32-10 32-14 32-18 32-22 32-26 32-29 32-34 32-37 32-42 32-45 32-49 32-53 32-56 32-61 32-65 32-68 31-72 32-76 32-80 19-5-32 80-32 76-32 73-32 68-32 65-32 60-32 57-32 53-32 49-32 45-31 41-32 38-32 33-32 30-32 26-32 22-32 18-32 14-32 10-32 6-32 3-32-1-32-6-32-9-32-13-32-17-32-20-32-25-31-29-32-32-32-36-32-40-32-44-32-48-32-52-32-56z"/>
<path transform="translate(-301.3 -196.4)" d="M1350 1737l32 55 32 52 32 48 32 44 32 40 32 36 32 33 32 28 32 25 32 21 32 17 32 13 32 9 32 5 32 1 31-2 32-7 32-10 32-14 32-18 32-22 32-26 32-29 32-34 32-37 32-41 32-46 32-49 32-53 32-56 32-61 32-64 32-69 31-72 32-76 32-80 19-6-32 80-32 76-32 73-32 68-32 65-32 60-32 57-32 53-32 49-32 45-31 41-32 38-32 33-32 30-32 26-32 22-32 18-32 14-32 10-32 6-32 3-32-1-32-6-32-9-32-13-32-17-32-20-32-25-31-29-32-32-32-36-32-40-32-44-32-48-32-52-32-56z"/>
<path transform="translate(-292 -190.3)" d="M1350 1728l32 56 32 52 32 48 32 44 32 40 32 36 32 32 32 29 32 24 32 21 32 17 32 13 32 9 32 5 32 2 31-3 32-6 32-10 32-14 32-18 32-22 32-26 32-30 32-33 32-38 32-41 32-45 32-49 32-53 32-57 32-60 32-65 32-68 31-73 32-76 32-80 19-6-32 80-32 76-32 72-32 69-32 64-32 61-32 57-32 52-32 50-32 45-31 41-32 37-32 34-32 29-32 26-32 22-32 18-32 14-32 11-32 6-32 2-32-1-32-5-32-9-32-13-32-17-32-21-32-25-31-28-32-33-32-36-32-40-32-44-32-48-32-52-32-55z"/>
<path transform="translate(-282.8 -184.3)" d="M1350 1719l32 56 32 52 32 48 32 44 32 40 32 36 32 32 32 29 32 24 32 21 32 17 32 13 32 9 32 5 32 2 31-3 32-6 32-10 32-14 32-18 32-22 32-26 32-30 32-33 32-38 32-41 32-45 32-49 32-53 32-57 32-60 32-65 32-68 31-73 32-76 32-80 19-7-32 80-32 76-32 72-32 69-32 64-32 61-32 56-32 53-32 49-32 46-31 41-32 37-32 34-32 29-32 26-32 22-32 18-32 14-32 10-32 7-32 2-32-1-32-5-32-9-32-13-32-17-32-21-32-25-31-28-32-33-32-36-32-40-32-44-32-48-32-52-32-55z"/>
<path transform="translate(-273.5 -178.2)" d="M1350 1710l32 55 32 52 32 48 32 44 32 40 32 36 32 33 32 28 32 25 32 21 32 17 32 13 32 9 32 5 32 1 31-2 32-7 32-10 32-14 32-18 32-22 32-26 32-29 32-34 32-37 32-41 32-46 32-49 32-53 32-56 32-61 32-64 32-69 31-72 32-76 32-80 19-9-32 80-32 76-32 73-32 68-32 64-32 61-32 57-32 53-32 49-32 45-31 41-32 38-32 33-32 30-32 26-32 21-32 18-32 15-32 10-32 6-32 3-32-2-32-5-32-9-32-13-32-17-32-21-32-24-31-29-32-32-32-37-32-40-32-44-32-48-32-51-32-56z"/>
<path transform="translate(-264.2 -172.2)" d="M1350 1700l32 55 32 52 32 48 32 44 32 40 32 36 32 33 32 28 32 25 32 21 32 16 32 13 32 10 32 5 32 1 31-2 32-7 32-10 32-14 32-18 32-22 32-26 32-29 32-34 32-37 32-42 32-45 32-49 32-53 32-56 32-61 32-65 32-68 31-72 32-76 32-80 19-10-32 80-32 76-32 72-32 69-32 64-32 61-32 57-32 53-32 49-32 45-31 41-32 37-32 34-32 30-32 25-32 22-32 18-32 14-32 11-32 6-32 2-32-1-32-5-32-9-32-13-32-17-32-21-32-25-31-28-32-32-32-37-32-40-32-44-32-48-32-51-32-56z"/>
<path transform="translate(-254.9 -166.1)" d="M1350 1689l32 56 32 51 32 48 32 44 32 40 32 37 32 32 32 29 32 24 32 21 32 17 32 13 32 9 32 5 32 2 31-3 32-6 32-11 32-14 32-18 32-22 32-25 32-30 32-33 32-38 32-41 32-45 32-49 32-53 32-57 32-61 32-64 32-69 31-72 32-76 32-80 19-11-32 80-32 76-32 73-32 68-32 65-32 60-32 57-32 53-32 49-32 45-31 41-32 38-32 33-32 30-32 26-32 21-32 19-32 14-32 10-32 6-32 3-32-2-32-5-32-9-32-13-32-17-32-21-32-24-31-29-32-32-32-36-32-41-32-44-32-47-32-52-32-56z"/>
<path transform="translate(-245.7 -160.1)" d="M1350 1678l32 55 32 52 32 48 32 44 32 40 32 36 32 33 32 28 32 25 32 21 32 17 32 13 32 9 32 5 32 1 31-2 32-6 32-11 32-14 32-18 32-22 32-26 32-29 32-34 32-37 32-41 32-45 32-49 32-53 32-57 32-61 32-64 32-69 31-72 32-76 32-80 19-12-32 80-32 76-32 72-32 69-32 64-32 61-32 57-32 53-32 49-32 45-31 41-32 37-32 34-32 30-32 25-32 22-32 18-32 14-32 11-32 6-32 3-32-2-32-5-32-9-32-13-32-17-32-21-32-25-31-28-32-32-32-37-32-40-32-44-32-48-32-51-32-56z"/>
<path transform="translate(-236.4 -154.1)" d="M1350 1666l32 56 32 51 32 48 32 44 32 41 32 36 32 32 32 29 32 24 32 21 32 17 32 13 32 9 32 5 32 2 31-3 32-6 32-10 32-15 32-18 32-21 32-26 32-30 32-33 32-38 32-41 32-45 32-49 32-53 32-57 32-61 32-64 32-68 31-73 32-76 32-80 19-13-32 80-32 76-32 73-32 68-32 64-32 61-32 57-32 53-32 49-32 45-31 41-32 38-32 33-32 30-32 26-32 21-32 18-32 15-32 10-32 6-32 3-32-2-32-5-32-9-32-13-32-17-32-21-32-24-31-29-32-32-32-36-32-41-32-44-32-48-32-51-32-56z"/>
<path transform="translate(-227.1 -148)" d="M1350 1654l32 55 32 52 32 48 32 44 32 40 32 37 32 32 32 28 32 25 32 21 32 17 32 13 32 9 32 5 32 1 31-2 32-6 32-11 32-14 32-18 32-22 32-26 32-29 32-34 32-37 32-41 32-45 32-49 32-53 32-57 32-61 32-64 32-69 31-72 32-76 32-80 19-14-32 80-32 76-32 72-32 69-32 64-32 61-32 57-32 52-32 49-32 46-31 41-32 37-32 34-32 29-32 26-32 22-32 18-32 14-32 10-32 7-32 2-32-1-32-5-32-9-32-13-32-17-32-21-32-25-31-28-32-33-32-36-32-40-32-44-32-48-32-52-32-55z"/>
<path transform="translate(-217.9 -142)" d="M1350 1641l32 56 32 51 32 48 32 44 32 40 32 37 32 32 32 29 32 24 32 21 32 17 32 13 32 9 32 5 32 2 31-3 32-6 32-11 32-14 32-18 32-22 32-25 32-30 32-33 32-38 32-41 32-45 32-49 32-53 32-57 32-61 32-64 32-69 31-72 32-76 32-80 19-15-32 80-32 76-32 72-32 69-32 64-32 61-32 57-32 53-32 49-32 45-31 41-32 37-32 34-32 30-32 25-32 22-32 18-32 14-32 11-32 6-32 2-32-1-32-5-32-9-32-13-32-17-32-21-32-25-31-28-32-32-32-37-32-40-32-44-32-48-32-52-32-55z"/>
<path transform="translate(-208.6 -135.9)" d="M1350 1628l32 55 32 52 32 48 32 44 32 40 32 36 32 33 32 28 32 25 32 21 32 17 32 13 32 9 32 5 32 1 31-2 32-7 32-10 32-14 32-18 32-22 32-26 32-29 32-34 32-37 32-41 32-46 32-49 32-53 32-56 32-61 32-65 32-68 31-72 32-76 32-80 19-17-32 80-32 77-32 72-32 68-32 65-32 60-32 57-32 53-32 49-32 45-31 42-32 37-32 33-32 30-32 26-32 22-32 18-32 14-32 10-32 6-32 3-32-1-32-6-32-9-32-13-32-17-32-20-32-25-31-29-32-32-32-36-32-40-32-44-32-48-32-52-32-56z"/>
<path transform="translate(-199.3 -129.9)" d="M1350 1614l32 55 32 52 32 48 32 44 32 40 32 36 32 33 32 28 32 25 32 21 32 17 32 13 32 9 32 5 32 1 31-2 32-7 32-10 32-14 32-18 32-22 32-26 32-29 32-34 32-37 32-41 32-46 32-49 32-52 32-57 32-61 32-64 32-69 31-72 32-76 32-80 19-18-32 80-32 77-32 72-32 68-32 65-32 60-32 57-32 53-32 49-32 45-31 42-32 37-32 33-32 30-32 26-32 22-32 18-32 14-32 10-32 7-32 2-32-1-32-6-32-9-32-13-32-17-32-20-32-25-31-29-32-32-32-36-32-40-32-44-32-48-32-52-32-56z"/>
<path transform="translate(-190.1 -123.9)" d="M1350 1599l32 56 32 52 32 48 32 44 32 40 32 36 32 32 32 29 32 25 32 20 32 17 32 13 32 9 32 6 32 1 31-3 32-6 32-10 32-14 32-18 32-22 32-26 32-30 32-33 32-38 32-41 32-45 32-49 32-53 32-57 32-60 32-65 32-68 31-73 32-76 32-80 19-18-32 80-32 76-32 72-32 69-32 64-32 61-32 57-32 53-32 49-32 45-31 41-32 37-32 34-32 30-32 25-32 22-32 18-32 14-32 11-32 6-32 2-32-1-32-5-32-9-32-13-32-17-32-21-32-25-31-28-32-32-32-37-32-40-32-44-32-48-32-52-32-55z"/>
<path transform="translate(-180.8 -117.8)" d="M1350 1584l32 56 32 52 32 48 32 44 32 40 32 36 32 32 32 29 32 25 32 20 32 17 32 13 32 9 32 6 32 1 31-3 32-6 32-10 32-14 32-18 32-22 32-26 32-30 32-33 32-38 32-41 32-45 32-49 32-53 32-57 32-60 32-65 32-68 31-73 32-76 32-80 19-19-32 80-32 76-32 72-32 69-32 64-32 61-32 57-32 52-32 49-32 46-31 41-32 37-32 34-32 29-32 26-32 22-32 18-32 14-32 11-32 6-32 2-32-1-32-5-32-9-32-13-32-17-32-21-32-25-31-28-32-33-32-36-32-40-32-44-32-48-32-52-32-55z"/>
<path transform="translate(-171.5 -111.8)" d="M1350 1569l32 55 32 52 32 48 32 44 32 40 32 36 32 33 32 28 32 25 32 21 32 17 32 13 32 9 32 5 32 1 31-2 32-6 32-11 32-14 32-18 32-22 32-26 32-29 32-34 32-37 32-41 32-46 32-49 32-52 32-57 32-61 32-64 32-69 31-72 32-76 32-80 19-21-32 80-32 76-32 73-32 68-32 65-32 60-32 57-32 53-32 49-32 45-31 41-32 38-32 33-32 30-32 26-32 21-32 18-32 15-32 10-32 6-32 3-32-2-32-5-32-9-32-13-32-17-32-21-32-24-31-29-32-32-32-36-32-41-32-44-32-47-32-52-32-56z"/>
<path transform="translate(-162.2 -105.7)" d="M1350 1553l32 55 32 52 32 48 32 44 32 40 32 36 32 33 32 28 32 25 32 21 32 17 32 13 32 9 32 5 32 1 31-2 32-7 32-10 32-14 32-18 32-22 32-26 32-29 32-34 32-37 32-41 32-46 32-49 32-53 32-56 32-61 32-64 32-69 31-72 32-76 32-80 19-22-32 80-32 76-32 72-32 69-32 64-32 61-32 57-32 53-32 49-32 45-31 41-32 38-32 33-32 30-32 25-32 22-32 18-32 14-32 11-32 6-32 3-32-2-32-5-32-9-32-13-32-17-32-21-32-24-31-29-32-32-32-37-32-40-32-44-32-48-32-51-32-56z"/>
<path transform="translate(-153 -99.7)" d="M1350 1536l32 56 32 51 32 48 32 44 32 40 32 37 32 32 32 29 32 24 32 21 32 17 32 13 32 9 32 5 32 2 31-3 32-6 32-10 32-15 32-18 32-21 32-26 32-30 32-33 32-38 32-41 32-45 32-49 32-53 32-57 32-61 32-64 32-68 31-73 32-76 32-80 19-23-32 80-32 76-32 73-32 68-32 65-32 60-32 57-32 53-32 49-32 45-31 41-32 38-32 33-32 30-32 26-32 22-32 18-32 14-32 10-32 6-32 3-32-2-32-5-32-9-32-13-32-17-32-21-32-24-31-29-32-32-32-36-32-40-32-44-32-48-32-52-32-56z"/>
<path transform="translate(-143.7 -93.6)" d="M1350 1519l32 56 32 51 32 48 32 44 32 40 32 37 32 32 32 28 32 25 32 21 32 17 32 13 32 9 32 5 32 2 31-3 32-6 32-11 32-14 32-18 32-22 32-25 32-30 32-34 32-37 32-41 32-45 32-49 32-53 32-57 32-61 32-64 32-69 31-72 32-76 32-80 19-24-32 80-32 76-32 72-32 69-32 64-32 61-32 57-32 53-32 49-32 45-31 41-32 38-32 33-32 30-32 25-32 22-32 18-32 14-32 11-32 6-32 3-32-2-32-5-32-9-32-13-32-17-32-21-32-24-31-29-32-32-32-37-32-40-32-44-32-48-32-51-32-56z"/>
<path transform="translate(-134.4 -87.6)" d="M1350 1501l32 56 32 52 32 47 32 44 32 41 32 36 32 32 32 29 32 24 32 21 32 17 32 13 32 9 32 5 32 2 31-3 32-6 32-10 32-14 32-18 32-22 32-26 32-30 32-33 32-38 32-41 32-45 32-49 32-53 32-57 32-60 32-65 32-68 31-73 32-76 32-80 19-25-32 80-32 76-32 73-32 68-32 65-32 60-32 57-32 53-32 49-32 45-31 41-32 38-32 33-32 30-32 26-32 22-32 18-32 14-32 10-32 6-32 3-32-2-32-5-32-9-32-13-32-17-32-21-32-24-31-29-32-32-32-36-32-41-32-44-32-47-32-52-32-56z"/>
<path transform="translate(-125.2 -81.6)" d="M1350 1483l32 56 32 51 32 48 32 44 32 40 32 37 32 32 32 29 32 24 32 21 32 17 32 13 32 9 32 5 32 2 31-3 32-6 32-11 32-14 32-18 32-22 32-25 32-30 32-34 32-37 32-41 32-45 32-49 32-53 32-57 32-61 32-64 32-69 31-72 32-76 32-80 19-26-32 80-32 76-32 72-32 69-32 64-32 61-32 57-32 53-32 49-32 45-31 41-32 37-32 34-32 30-32 25-32 22-32 18-32 14-32 11-32 6-32 2-32-1-32-5-32-9-32-13-32-17-32-21-32-25-31-28-32-32-32-37-32-40-32-44-32-48-32-52-32-55z"/>
<path transform="translate(-115.9 -75.5)" d="M1350 1464l32 56 32 51 32 48 32 44 32 41 32 36 32 32 32 29 32 24 32 21 32 17 32 13 32 9 32 5 32 2 31-3 32-6 32-10 32-15 32-18 32-21 32-26 32-30 32-33 32-38 32-41 32-45 32-49 32-53 32-57 32-61 32-64 32-68 31-73 32-76 32-80 19-27-32 80-32 76-32 72-32 69-32 64-32 61-32 57-32 53-32 49-32 45-31 41-32 37-32 34-32 30-32 25-32 22-32 18-32 14-32 11-32 6-32 3-32-2-32-5-32-9-32-13-32-17-32-21-32-24-31-29-32-32-32-37-32-40-32-44-32-48-32-51-32-56z"/>
<path transform="translate(-106.6 -69.5)" d="M1350 1445l32 55 32 52 32 48 32 44 32 40 32 36 32 33 32 28 32 25 32 21 32 17 32 13 32 9 32 5 32 1 31-2 32-7 32-10 32-14 32-18 32-22 32-26 32-29 32-34 32-37 32-41 32-46 32-49 32-52 32-57 32-61 32-64 32-69 31-72 32-76 32-80 19-29-32 81-32 76-32 72-32 68-32 65-32 61-32 56-32 53-32 49-32 45-31 42-32 37-32 34-32 29-32 26-32 22-32 18-32 14-32 10-32 7-32 2-32-1-32-6-32-9-32-13-32-17-32-20-32-25-31-28-32-33-32-36-32-40-32-44-32-48-32-52-32-56z"/>
<path transform="translate(-97.3 -63.4)" d="M1350 1425l32 55 32 52 32 48 32 44 32 40 32 37 32 32 32 28 32 25 32 21 32 17 32 13 32 9 32 5 32 1 31-2 32-6 32-11 32-14 32-18 32-22 32-25 32-30 32-34 32-37 32-41 32-45 32-49 32-53 32-57 32-61 32-64 32-69 31-72 32-76 32-80 19-30-32 81-32 76-32 72-32 68-32 65-32 61-32 56-32 53-32 49-32 45-31 42-32 37-32 34-32 29-32 26-32 22-32 18-32 14-32 10-32 7-32 2-32-1-32-6-32-9-32-13-32-17-32-20-32-25-31-28-32-33-32-36-32-40-32-44-32-48-32-52-32-56z"/>
<path transform="translate(-88.1 -57.4)" d="M1350 1404l32 56 32 52 32 48 32 44 32 40 32 36 32 32 32 29 32 25 32 20 32 17 32 13 32 9 32 6 32 1 31-2 32-7 32-10 32-14 32-18 32-22 32-26 32-30 32-33 32-37 32-42 32-45 32-49 32-53 32-57 32-60 32-65 32-68 31-72 32-77 32-80 19-30-32 80-32 76-32 72-32 69-32 64-32 61-32 57-32 53-32 49-32 45-31 41-32 38-32 33-32 30-32 25-32 22-32 18-32 14-32 11-32 6-32 3-32-2-32-5-32-9-32-13-32-17-32-21-32-24-31-29-32-32-32-37-32-40-32-44-32-48-32-51-32-56z"/>
<path transform="translate(-78.8 -51.4)" d="M1350 1383l32 56 32 52 32 48 32 44 32 40 32 36 32 33 32 28 32 25 32 20 32 17 32 13 32 9 32 6 32 1 31-2 32-7 32-10 32-14 32-18 32-22 32-26 32-30 32-33 32-37 32-42 32-45 32-49 32-53 32-57 32-60 32-65 32-68 31-72 32-77 32-80 19-31-32 80-32 76-32 72-32 69-32 64-32 61-32 57-32 53-32 49-32 45-31 41-32 37-32 34-32 30-32 25-32 22-32 18-32 14-32 11-32 6-32 3-32-2-32-5-32-9-32-13-32-17-32-21-32-25-31-28-32-32-32-37-32-40-32-44-32-48-32-51-32-56z"/>
<path transform="translate(-69.5 -45.3)" d="M1350 1362l32 56 32 51 32 48 32 44 32 40 32 37 32 32 32 28 32 25 32 21 32 17 32 13 32 9 32 5 32 2 31-3 32-6 32-11 32-14 32-18 32-22 32-25 32-30 32-34 32-37 32-41 32-45 32-49 32-53 32-57 32-61 32-64 32-69 31-72 32-76 32-80 19-33-32 80-32 76-32 73-32 68-32 65-32 60-32 57-32 53-32 49-32 45-31 41-32 38-32 33-32 30-32 26-32 22-32 18-32 14-32 10-32 6-32 3-32-1-32-6-32-9-32-13-32-17-32-21-32-24-31-29-32-32-32-36-32-40-32-44-32-48-32-52-32-56z"/>
<path transform="translate(-60.3 -39.3)" d="M1350 1340l32 55 32 52 32 48 32 44 32 40 32 37 32 32 32 28 32 25 32 21 32 17 32 13 32 9 32 5 32 1 31-2 32-6 32-11 32-14 32-18 32-22 32-26 32-29 32-34 32-37 32-41 32-45 32-49 32-53 32-57 32-61 32-64 32-69 31-72 32-76 32-80 19-34-32 80-32 76-32 73-32 68-32 64-32 61-32 57-32 53-32 49-32 45-31 41-32 38-32 33-32 30-32 26-32 21-32 18-32 15-32 10-32 6-32 3-32-2-32-5-32-9-32-13-32-17-32-21-32-24-31-29-32-32-32-36-32-41-32-44-32-48-32-51-32-56z"/>
<path transform="translate(-51 -33.2)" d="M1350 1317l32 56 32 52 32 47 32 44 32 41 32 36 32 32 32 29 32 24 32 21 32 17 32 13 32 9 32 5 32 2 31-3 32-6 32-10 32-14 32-18 32-22 32-26 32-30 32-33 32-38 32-41 32-45 32-49 32-53 32-57 32-60 32-65 32-68 31-73 32-76 32-80 19-35-32 80-32 77-32 72-32 68-32 65-32 60-32 57-32 53-32 49-32 45-31 42-32 37-32 33-32 30-32 26-32 22-32 18-32 14-32 10-32 7-32 2-32-1-32-6-32-9-32-13-32-17-32-20-32-25-31-29-32-32-32-36-32-40-32-44-32-48-32-52-32-56z"/>
<path transform="translate(-41.7 -27.2)" d="M1350 1294l32 56 32 51 32 48 32 44 32 40 32 37 32 32 32 29 32 24 32 21 32 17 32 13 32 9 32 5 32 2 31-3 32-6 32-11 32-14 32-18 32-22 32-25 32-30 32-33 32-38 32-41 32-45 32-49 32-53 32-57 32-61 32-64 32-69 31-72 32-76 32-80 19-36-32 80-32 76-32 73-32 68-32 65-32 60-32 57-32 53-32 49-32 45-31 41-32 38-32 33-32 30-32 26-32 21-32 18-32 15-32 10-32 6-32 3-32-2-32-5-32-9-32-13-32-17-32-21-32-24-31-29-32-32-32-36-32-41-32-44-32-47-32-52-32-56z"/>
<path transform="translate(-32.4 -21.1)" d="M1350 1270l32 56 32 52 32 48 32 44 32 40 32 36 32 32 32 29 32 25 32 20 32 17 32 13 32 9 32 6 32 1 31-3 32-6 32-10 32-14 32-18 32-22 32-26 32-30 32-33 32-38 32-41 32-45 32-49 32-53 32-57 32-60 32-65 32-68 31-73 32-76 32-80 19-37-32 80-32 76-32 73-32 68-32 65-32 60-32 57-32 53-32 49-32 45-31 41-32 38-32 33-32 30-32 26-32 22-32 18-32 14-32 10-32 6-32 3-32-1-32-6-32-9-32-13-32-17-32-20-32-25-31-29-32-32-32-36-32-40-32-44-32-48-32-52-32-56z"/>
<path transform="translate(-23.2 -15.1)" d="M1350 1246l32 56 32 51 32 48 32 44 32 40 32 37 32 32 32 29 32 24 32 21 32 17 32 13 32 9 32 5 32 2 31-3 32-6 32-10 32-15 32-18 32-22 32-25 32-30 32-33 32-38 32-41 32-45 32-49 32-53 32-57 32-61 32-64 32-69 31-72 32-76 32-80 19-38-32 80-32 76-32 72-32 69-32 64-32 61-32 57-32 53-32 49-32 45-31 41-32 38-32 33-32 30-32 25-32 22-32 18-32 14-32 11-32 6-32 3-32-2-32-5-32-9-32-13-32-17-32-21-32-24-31-29-32-32-32-37-32-40-32-44-32-48-32-51-32-56z"/>
<path transform="translate(-13.9 -9.1)" d="M1350 1221l32 56 32 52 32 48 32 44 32 40 32 36 32 32 32 29 32 24 32 21 32 17 32 13 32 9 32 5 32 2 31-3 32-6 32-10 32-14 32-18 32-22 32-26 32-30 32-33 32-38 32-41 32-45 32-49 32-53 32-57 32-60 32-65 32-68 31-73 32-76 32-80 19-39-32 80-32 76-32 73-32 68-32 64-32 61-32 57-32 53-32 49-32 45-31 41-32 38-32 33-32 30-32 26-32 21-32 18-32 15-32 10-32 6-32 3-32-2-32-5-32-9-32-13-32-17-32-21-32-24-31-29-32-32-32-36-32-41-32-44-32-48-32-51-32-56z"/>
</g>
<path d="M250.5 199L135.5 242.9L46.5 184.9L46.5 59.3M135.5 242.9l2.7 1.7M193 220.9l2.7 1.7M250.5 199l2.7 1.7M135.5 242.9l-3 1.1M91 213.9l-3 1.1M46.5 184.9l-3 1.1M46.5 184.9l-2.7 -1.7M46.5 153.5l-2.7 -1.7M46.5 122.1l-2.7 -1.7M46.5 90.7l-2.7 -1.7M46.5 59.3l-2.7 -1.7" fill="none" stroke="#5a5a5a" stroke-width="0.85"/>
<g fill="#2e2e2e">
<text x="40.3" y="60.3" text-anchor="end" font-size="10.5">2</text>
<text x="40.3" y="91.4" text-anchor="end" font-size="10.5">1.5</text>
<text x="40.3" y="122.6" text-anchor="end" font-size="10.5">1</text>
<text x="40.3" y="154.3" text-anchor="end" font-size="10.5">0.5</text>
<text x="40.4" y="186.1" text-anchor="end" font-size="10.5">0</text>
<text x="18.3" y="43.6" font-size="10.5">×<tspan dx="1.4">10</tspan><tspan dx="0.4" dy="-4.3" font-size="8.3">4</tspan></text>
<text transform="translate(19 122.6) rotate(-90)" text-anchor="middle" font-size="11.7">z</text>
<text x="30.2" y="199.6" text-anchor="middle" font-size="10.5">100</text>
<text x="80.6" y="228.4" text-anchor="middle" font-size="10.5">0</text>
<text x="118" y="257.4" text-anchor="middle" font-size="10.5">-100</text>
<text x="152.4" y="258.5" text-anchor="middle" font-size="10.5">-100</text>
<text x="202.5" y="236.3" text-anchor="middle" font-size="10.5">0</text>
<text x="258.4" y="214.4" text-anchor="start" font-size="10.5">100</text>
<text x="72.2" y="256.7" text-anchor="middle" font-size="11.7">y</text>
<text x="205.1" y="259.7" text-anchor="middle" font-size="11.7">x</text>
</g>
</g>
<g>
<path d="M136.8 550.1L43.8 493.3L43.8 370.3M195.3 529L102.3 472.2L102.3 349.2M253.8 508L160.8 451.2L160.8 328.2M134.3 549.9L254.1 506.8L254.1 383.8M88.9 522.2L208.7 479.1L208.7 356.1M43.5 494.5L163.3 451.4L163.3 328.4M42.4 493.8L162.2 450.7L255.2 507.5M42.4 463.1L162.2 419.9L255.2 476.8M42.4 432.3L162.2 389.2L255.2 446M42.4 401.6L162.2 358.4L255.2 415.2M42.4 370.8L162.2 327.7L255.2 384.5" fill="none" stroke="#e9e9e9" stroke-width="0.8"/>
<g fill="none" stroke-width="0.85" stroke-linejoin="round">
<path transform="scale(.1)" stroke-width="8.5" d="M1753 5168l9-1 5 2 2 1 0 3-3 3-5 1-8-1-3-1-2-3 1-2 4-2M1643 5213l0 1-2 0 2-1M1875 5130l-1 0 1 0M1540 5149l12-2 16 3 6 3 2 2 0 3 0 3-5 5-11 4-13 0-11-3-6-4-2-5 1-3 2-2 3-2 6-2M1663 5104l14 1 13 4 2 2 3 4 0 3-1 3-3 2-6 4-13 2-13-1-12-4-5-5 0-4 2-3 2-2 6-3 11-3M1773 5065l11-1 7 0 9 2 7 4 1 2 1 2 0 3-3 4-3 2-10 3-14 0-11-3-5-3-2-5 3-6 2-2 7-2M1428 5194l9 0 7 1 6 3 1 4-2 2-7 3-5 1-10-2-6-3 0-3 3-4 4-2M1894 5027l7-1 8 1 6 3 1 3 0 2-3 2-7 3-6 0-8-1-4-2-1-2-1-3 2-3 6-2M1564 5047l19-1 10 2 9 2 6 4 2 2 1 4 0 4-3 5-5 4-12 4-17 0-11-1-9-3-3-2-4-4-2-4 1-4 5-7 6-3 7-2M1454 5089l15 0 15 4 3 1 5 4 1 5-1 4-2 3-5 4-12 3-19 0-14-3-3-2-5-4-1-5 1-3 2-4 5-3 7-3 8-1M1687 5005l20 2 13 4 2 1 3 5-1 7-1 2-6 4-12 4-19 0-14-3-3-2-4-4-1-6 1-3 2-3 4-4 7-2 9-2M1335 5135l11-1 16 3 6 3 1 2 1 3-1 3-4 5-12 3-12 0-12-2-5-4-2-2 0-3 1-3 2-3 3-2 7-2M1800 4967l16 0 11 2 6 4 1 2 1 3-1 3-2 3-3 2-8 2-11 1-6 0-10-2-4-3-3-3 0-3 1-3 4-4 8-4M1230 5187l-1 0 1 0M1928 4936l-2 0 2 0M1357 5034l20-1 10 1 9 3 3 1 4 5 2 3-1 5-2 4-5 5-12 3-18 1-10-2-9-2-3-2-5-4-1-4 0-4 2-3 3-4 7-4 6-1M1478 4990l22 1 10 2 7 3 3 2 3 5 0 5-2 4-4 5-6 3-14 3-21-1-10-2-7-3-4-4-2-5 1-4 3-6 8-5 13-3M1590 4950l19-1 10 2 9 2 3 2 5 4 1 4 0 4-3 5-5 4-13 4-11 0-10-1-15-3-3-1-4-5-2-3 1-5 2-4 5-5 11-3M1250 5078l14 0 13 4 3 2 1 3 1 4-1 3-2 3-6 3-13 3-14-1-12-4-3-2-2-4 0-4 2-3 2-2 6-3 11-2M1716 4910l14 1 12 4 3 2 2 4 0 4-2 3-5 4-12 3-16 0-13-4-4-5-1-2 0-3 3-4 6-4 13-3M1137 5127l6 1 4 1 2 2 0 3-3 2-5 1-7 0-4-2-2-2 1-3 4-2 4-1M1835 4876l7 0 4 2 2 2-1 3-4 2-5 1-9-2-2-2 0-3 3-2 5-1M1384 4937l18-1 11 1 9 3 3 2 4 4 2 5-2 5-4 5-3 2-12 3-17 1-10-2-9-2-6-4-2-2-1-4 0-4 2-3 3-4 7-3 7-2M1275 4979l15 0 14 3 3 2 4 4 1 6-1 3-2 3-4 4-12 3-19 0-10-2-8-3-2-1-3-5 0-6 2-3 6-4 3-2 13-2M1508 4895l14 1 14 3 3 2 5 4 1 5-1 3-2 4-5 3-12 4-18 0-11-2-7-3-3-2-3-5 0-3 3-6 5-4 3-1 14-3M1156 5024l16 0 10 2 4 3 3 3 0 3-1 3-4 5-7 2-5 1-12 0-11-2-6-4-1-2-1-3 1-3 2-3 3-2 9-3M1622 4857l13 0 12 2 5 4 2 2 0 3 0 3-6 5-7 2-17 1-10-3-6-3-1-2-1-3 1-3 4-5 11-3M1050 5077l-2 0 2 0M1747 4826l-1 0-1 0 2 0M1183 4927l14 0 11 3 5 3 2 3 0 2-1 3-4 5-7 2-11 1-6 0-10-2-7-4-1-2-1-2 0-3 3-4 3-2 10-3M1304 4884l13 1 12 4 5 5 0 4-2 3-4 4-13 3-16 0-13-4-4-4-1-2 0-3 2-4 4-3 4-2 13-2M1416 4843l13 0 11 3 6 4 1 2 1 3-1 3-5 4-6 2-6 1-13 0-12-3-5-4 0-3 0-4 5-4 11-4M1072 4973l12 1 5 4 0 3-4 4-4 2-9 0-9-3-3-3 0-3 6-4 6-1M1537 4805l7 1 8 2 3 3-1 4-3 2-7 2-6 0-10-2-2-2-1-2 1-4 4-2 7-2M1217 4836l6 1 3 1 2 3-1 2-3 2-5 1-5 0-5-2-2-1 0-4 3-2 7-1M1102 4883l-1 0 1 0M1335 4799l-2 1 0-1 2 0" stroke="#2f45fa"/>
<path transform="scale(.1)" stroke-width="8.5" d="M1731 5260l7 1 9 2 4 4 1 3-2 2-5 4-9 2-12-1-7-3-3-5 2-4 6-3 9-2M1843 5217l14 1 9 2 4 4 0 5-4 5-7 2-11 1-7-1-7-1-5-4-1-3 0-3 4-5 11-3M1964 5177l7 0 9 2 4 4 0 3-1 3-6 3-9 2-11-1-7-3-3-5 1-3 6-4 10-1M1617 5310l2 2-5-1 3-1M2082 5142l1 3-3-2 2-1M1742 5155l23 0 12 1 9 3 6 3 2 2 2 5-1 6-4 6-3 2-6 3-8 2-11 1-13 0-11-2-9-3-3-1-4-4-1-6 1-6 2-5 5-4 12-3M1632 5197l21 1 11 2 7 3 3 2 3 4 1 4-2 5-2 4-6 4-11 3-21 1-12-2-8-2-5-4-3-4 0-4 1-6 4-5 3-2 8-3 8-1M1865 5114l21 0 10 2 8 3 2 2 4 5 0 4-1 4-3 4-5 4-12 4-21 0-11-1-9-3-5-4-2-3-1-4 2-7 3-5 7-3 13-2M1513 5243l17-1 16 3 6 4 2 2 1 4 0 3-4 5-3 2-12 4-17 0-10-2-9-5-2-5 0-3 2-4 2-3 6-3 5-1M1978 5075l18 0 15 3 6 3 2 2 1 5 0 3-4 5-3 2-13 3-15 0-15-3-5-4-2-2 0-6 1-3 5-4 9-4M1402 5291l10-1 5 1 7 4 1 4-2 2-7 3-11 0-5-1-5-4 0-2 3-4 4-2M2099 5041l8-2 9 1 6 4 1 2 0 3-3 2-8 2-6 1-8-2-3-2-2-2 0-2 2-3 4-2M1531 5138l30 0 18 2 9 3 6 3 3 5 0 5-2 7-3 5-4 5-6 3-9 2-10 1-20 0-18-3-8-2-6-4-2-5-1-5 2-9 3-6 5-4 7-3 6 0M1642 5095l14-1 23 2 17 2 10 2 6 4 3 4 0 6-2 8-3 5-4 5-7 4-8 2-17 0-17 0-18-3-9-2-5-4-2-5 0-8 2-8 2-6 5-4 3-2 7-1M1764 5054l29 1 17 2 9 2 6 4 3 4 1 6-1 6-3 6-5 5-6 3-9 2-11 1-19-1-18-2-9-2-5-4-3-5 1-8 3-9 6-8 7-2 7-1M1423 5182l22 1 12 1 9 3 6 3 3 5 0 5-1 5-4 5-5 4-12 4-10 1-17-1-11-2-9-2-5-4-3-5 0-7 2-6 4-4 3-2 7-3 9-1M1888 5015l22 0 11 2 9 3 6 3 3 5 1 5-2 5-3 5-6 4-12 4-11 0-16 0-11-2-9-2-5-4-3-5 0-5 3-7 3-5 6-4 14-2M1307 5230l17-1 16 3 6 3 2 2 1 3-1 4-1 3-5 5-12 3-11 1-16-2-10-5-1-3-1-5 1-3 3-4 7-3 5-1M2005 4978l17 0 15 3 3 2 5 4 1 5 0 3-4 4-3 2-13 3-15 0-15-3-5-3-2-3 0-6 1-3 5-4 10-4M1205 5283l0 1-5 1 3-2 2 0M2136 4948l-2 2-2 0 0-1 4-1M1539 5036l15 0 47 3 18 2 9 3 2 2 1 5-1 9-4 12-3 6-5 5-3 1-9 2-18 0-33-2-18-2-8-3-2-2-1-5 2-15 6-19 3-2 2 0M1435 5079l54 3 12 2 9 2 2 2 1 5-1 9-4 11-3 6-5 4-3 2-9 1-17 1-24-2-17-2-10-2-5-4-2-4 0-9 2-11 3-6 4-5 3-1 10-2M1667 4996l18 0 30 2 16 3 8 3 4 4 1 5-1 9-3 8-3 5-5 5-3 1-9 2-17 0-30-1-18-2-9-3-2-2-1-3 1-5 3-14 3-9 4-5 3-2 10-1M1324 5125l12-1 19 1 18 2 10 2 3 2 4 4 1 5-2 9-3 6-4 5-6 3-9 2-10 1-20-1-17-2-9-3-6-3-2-5-1-8 2-7 3-5 5-4 12-3M1789 4957l10 0 20 1 17 2 9 3 6 3 3 5 0 8-2 7-3 5-5 4-13 3-30 0-18-2-10-2-5-4-2-4 0-6 3-9 3-6 4-4 8-3 5-1M1219 5171l22 0 11 2 7 3 3 2 3 5 0 3-2 6-3 4-4 3-12 4-10 1-11-1-11-1-8-3-6-4-3-4 0-6 1-4 2-3 6-4 7-2 8-1M1917 4920l19 0 16 4 6 4 3 4 1 4-1 5-3 4-5 4-13 3-11 1-13-1-16-4-3-1-4-4-1-6 2-6 4-5 6-4 13-2M1113 5220l11 2 6 3 2 3-1 3-2 3-7 3-11 1-10-2-6-4-1-4 5-5 8-2 6-1M2044 4885l11 2 6 4 1 2 0 3-4 4-8 3-8 0-10-2-6-4-1-2 1-3 2-3 7-3 9-1M1452 4980l74 4 17 3 1 2 0 6-7 27-4 8-2 3-11 0-70-4-17-3-1-2 0-6 9-33 2-2 2-3 7 0M1337 5024l12-1 26 2 40 2 10 2 2 2-1 6-4 16-5 12-4 5-3 2-15 1-52-3-11-2-8-3-2-2-2-5 1-8 2-10 5-11 6-4 3-1M1570 4940l17 0 40 3 17 2 8 3 3 4 1 5-2 13-4 12-4 5-4 1-9 2-59-3-19-2-4-1-2-2 1-6 4-16 5-12 4-5 3-2 4-1M1237 5069l20 0 23 1 11 2 8 3 2 2 2 5-1 8-3 8-3 5-5 5-12 3-17 1-17-1-17-2-9-3-6-4-3-4 0-8 2-8 3-6 6-4 7-2 9-1M1703 4901l17 0 17 2 16 3 7 3 4 4 2 5 0 7-4 9-4 5-6 3-15 3-18-1-23-1-11-2-8-3-3-4-1-5 3-11 4-8 5-5 3-1 15-3M1122 5116l10-1 15 0 12 1 9 3 3 1 4 5 2 5-2 5-3 6-5 4-11 4-11 0-13 0-12-2-8-2-6-4-3-4-1-6 1-3 2-3 4-5 7-3 6-1M1820 4864l11 0 13 0 12 2 8 2 6 4 3 4 1 6-1 3-4 6-5 4-13 3-22 0-12-1-9-3-3-1-4-5-2-5 2-5 3-6 5-4 11-4M1019 5164l13 1 8 3 4 4 0 3-1 3-6 4-11 2-13-1-8-3-4-4 0-3 2-3 4-3 3-2 9-1M1950 4829l13 1 8 3 4 4-1 5-5 4-12 3-13-1-8-3-4-4 0-3 1-3 6-4 11-2M1371 4927l17 0 33 2 18 2 8 3 3 4 0 6-4 19-4 12-3 2-5 0-19 0-52-4-15-4-3-4 0-6 3-12 4-9 6-8 7-2 6-1M1260 4970l20 0 30 2 11 1 9 3 2 2 1 3-1 5-4 17-4 9-5 4-4 1-11 0-49-3-10-2-8-3-4-4-1-5 2-11 3-9 4-5 3-2 7-2 9-1M1493 4886l19 0 23 2 16 3 8 3 4 4 1 8-3 14-4 9-6 3-16 2-48-3-12-2-9-2-2-2-1-3 0-5 4-14 4-9 5-4 3-2 14-2M1142 5015l14-1 19 1 18 2 10 2 3 2 4 4 0 5-1 9-5 9-4 4-8 3-4 1-11 0-20-1-17-2-9-3-6-3-3-5-1-5 1-7 3-5 4-5 7-3 6-2M1607 4848l12-1 20 1 17 2 9 3 6 3 2 5 1 8-2 7-3 5-5 4-13 3-30 0-18-2-10-2-3-2-4-4-1-5 2-9 3-6 4-5 6-3 7-2M1039 5061l22 0 15 4 3 1 4 4 1 6-2 6-4 5-6 4-13 2-21-1-10-2-8-3-4-4-2-2 0-6 2-4 2-3 5-4 8-2 8-1M1738 4810l21 0 9 3 7 3 3 2 3 4 0 6-1 4-2 3-6 4-7 2-8 1-22 0-11-2-7-3-5-4-1-6 1-3 3-6 8-6 15-2M923 5111l11-1 10 2 6 4 1 2-1 3-2 3-7 3-10 1-10-2-6-4-1-2 0-3 4-4 5-2M1855 4776l10-1 10 2 6 4 1 4-5 5-8 2-6 1-11-2-6-3-2-3 1-3 2-3 8-3M1288 4875l14 0 23 1 17 3 7 3 4 4 1 5-2 11-3 9-5 4-3 2-15 2-41-3-10-2-8-3-5-4-1-5 2-9 3-7 7-7 8-3 7-1M1167 4919l15-2 19 1 18 2 9 2 5 4 3 5 0 5-2 10-3 5-5 5-3 1-9 2-11 0-20-1-17-2-9-2-6-4-3-4-1-6 1-6 3-6 5-5 6-3 5-1M1400 4835l13-1 19 0 19 3 8 2 6 4 2 5 1 8-3 9-4 5-6 4-15 2-37-3-11-1-8-3-2-2-3-5 0-5 2-7 3-5 4-5 6-3 6-2M1062 4962l24 0 11 2 9 2 5 4 3 5 0 5-3 7-3 5-6 4-14 2-12 0-16-1-10-2-7-3-5-4-2-5 1-6 2-5 8-6 7-3 8-1M1528 4795l22 0 11 2 9 2 5 4 3 5 0 7-2 6-4 4-6 4-15 2-26-1-11-2-7-3-5-4-1-5 1-6 2-4 4-5 6-4 14-2M948 5009l17 0 15 3 5 3 2 3 0 6-1 3-5 4-12 4-15 0-15-3-6-3-2-3-1-5 0-3 4-4 3-2 11-3M1647 4758l16-1 14 4 3 2 4 4 1 4-1 3-4 6-10 3-18 1-16-3-6-3-2-2-1-3 1-4 1-3 5-5 7-2 6-1M844 5063l0 1-4 1 2-2 2 0M1776 4728l-3 2-2 0 0-1 5-1M1201 4825l12-1 13 0 11 2 9 3 5 3 3 5 0 5-2 6-4 5-6 3-14 3-23-2-11-2-7-2-3-2-3-5-1-5 1-4 6-7 7-3 7-2M1093 4867l21 0 14 4 5 4 2 3 1 4-2 7-3 5-3 2-12 3-11 1-15-1-10-2-8-3-2-2-4-5 0-5 2-5 2-2 5-4 8-3 10-1M1325 4783l21 1 14 3 5 4 3 4 0 4-1 6-4 5-3 2-12 3-11 1-14-1-11-2-7-3-5-4-2-5 1-4 3-6 9-5 14-3M975 4912l16 0 15 3 5 4 2 2 0 5-1 4-5 4-12 4-18 0-8-2-7-2-5-4-1-3 0-6 4-4 3-2 12-3M1441 4744l16 0 14 4 5 3 2 3 1 3-1 4-2 2-5 4-12 4-19-1-13-4-5-3-1-3 0-3 2-5 2-2 6-4 10-2M866 4959l12 2 3 2 2 2 0 3-4 4-5 1-8 1-9-3-4-4 0-3 6-3 7-2M1565 4708l6 1 8 2 2 4 0 3-3 2-8 2-6 0-9-2-3-2-1-2 1-3 4-3 9-2M1126 4776l12 1 7 3 3 5 0 3-2 3-2 2-8 2-11 1-11-2-6-3-3-5 2-5 6-3 13-2M1005 4819l10 0 8 2 5 4 1 3-1 3-6 4-9 1-8 0-9-2-4-4 0-3 1-3 6-3 6-2M1238 4735l8 0 10 2 5 4 1 3-1 3-3 3-4 1-9 2-7-1-9-2-4-4-1-3 2-2 5-4 7-2M893 4868l3 2-2 1-2-3 1 0M1357 4701l5 1-3 1-2-2" stroke="#056aff"/>
<path transform="scale(.1)" stroke-width="8.5" d="M1835 5333l-7 1-11 0-5-1-7-3-3-5 0-3 2-3 6-3 7-2 8 0 7 1 8 2 4 4 1 3-2 5-5 3M1944 5294l-10-1-8-1-4-2-5-3-2-5 1-3 2-3 6-3 15-2 15 2 7 3 2 2 1 5-2 4M2068 5249l-8 2-11-1-5-1-7-3-2-4-1-3 3-4 5-3 7-2 8 0 7 1 8 3 5 3 1 3-1 3-2 2-4 3M1710 5361l4 1 4 3-1 3-2 2-10 1-5-1-3-2-1-2 1-3 4-1 9-1M2175 5194l8 3 1 2-2 2-3 2-5 1-7-1-5-3 0-3 3-2 4-1 6 0M1715 5249l28 1 21 4 6 4 2 2 2 5-1 6-3 6-4 4-7 4-8 2-11 1-14 0-12-2-10-2-6-3-4-4-2-6 1-8 3-6 4-5 8-2 7-1M1826 5206l13 0 20 2 13 1 10 3 6 3 3 5 1 5-1 6-4 5-4 4-7 4-8 2-10 1-18-1-22-3-6-3-4-4-2-6 1-7 3-9 4-5 4-1 8-2M1948 5166l28 1 20 4 6 3 3 5 1 5-2 6-2 4-4 4-7 3-8 2-17 1-14-1-11-1-9-3-5-4-2-4 0-9 2-6 3-5 3-2 7-3 8 0M1606 5294l21 1 11 2 8 3 2 1 4 5 0 4-1 5-3 4-5 4-12 3-11 1-11 0-11-2-8-3-5-3-3-5 0-6 1-4 4-5 3-1 7-3 9-1M2071 5127l21 1 10 2 8 3 3 1 3 5 1 4-1 4-3 5-6 4-12 3-21 1-11-2-9-3-5-3-2-5 0-6 2-6 5-4 3-2 14-2M1487 5343l14-2 15 3 6 3 2 2 1 2-1 3-2 4-3 2-7 3-14 1-11-2-4-1-5-4-2-5 1-3 2-3 8-3M2186 5091l10-1 6 0 11 3 7 3 2 2 0 5-3 5-11 4-12 1-12-2-7-4-3-3 0-3 1-3 4-4 7-3M1187 4816l18 0 51 2 11-1 4-1 5-5 9-23 6-7 6-4 4-1 15-1 43 1 23 4 3 1 2 5-2 26 2 5 2 2 3 2 9 3 24 2 31 1 10-1 8-2 5-5 3-5 11-26 2-3 5 0 82 4 12 2 4 1 0 6-3 23 0 6 3 5 3 1 7 3 29 4 32 1 13-3 3-2 5-4 12-26 4-4 4-1 17-1 31 2 18 2 15 3 5 4 3 5 0 8-3 21 0 3 2 2 3 1 11 2 56 6 15 2 6 4 2 5 0 9-4 20 1 6 3 2 10 2 60 6 13 4 4 4 2 8-2 11-4 12-5 5-3 2-10 1-56-2-15 2-4 1-5 4-3 6-3 9-1 9 1 5 4 4 3 2 20 4 61 6 2 2 0 6-8 30-4 9-3 2-5 0-57-2-22 1-7 3-5 4-3 6-3 9-1 6 0 5 3 5 3 2 14 3 54 6 9 2 3 2 2 5-2 9-4 12-2 5-4 5-6 4-5 1-22 1-50-2-10 1-4 2-4 4-10 27-4 5-5 4-15 2-63-3-11 1-4 1-5 5-8 20-4 8-5 4-4 2-8 2-17 0-24-1-26-2-10-2-3-1-2-5 2-26-2-5-2-2-3-2-9-3-24-2-31-1-10 1-8 2-5 5-3 5-11 26-2 3-5 0-82-4-12-2-4-1 0-6 3-23 0-6-3-5-3-1-7-3-29-4-32-1-13 3-3 2-5 4-12 26-4 4-4 1-17 1-31-2-18-2-15-3-5-4-3-5 0-8 3-21 0-3-2-2-3-1-11-2-56-6-15-2-6-4-2-5 0-9 4-20-1-6-3-2-10-2-49-5-16-2-8-3-3-2-2-5-1-5 4-17 2-6 5-5 3-2 10-1 56 2 15-2 4-1 5-4 5-12 2-9 0-5-2-5-6-4-20-4-56-5-5-1-2-2 1-9 8-30 3-6 3-2 62 2 22-1 4-1 5-4 4-5 4-9 2-9 0-5-3-5-3-2-14-3-54-6-9-2-3-2-2-5 2-9 4-12 4-8 5-4 3-2 9-1 18-1 50 2 10-1 4-2 4-4 7-21 5-8 4-5 3-2 9-1M1491 5231l48 3 29 3 5 1 2 2 1 5 0 6-4 10-5 8-5 4-7 3-10 1-17 1-32-3-12-5-4-4-1-5 1-13 3-12 1-3 3-2 4 0M1957 5064l46 3 17 2 9 2 6 4 3 4 1 9-2 7-3 5-5 5-6 3-9 2-17 0-20 0-19-2-11-2-3-1-2-5 1-12 6-21 2-3 6 0M1384 5281l9-2 11 0 15 1 17 2 8 3 3 2 2 4 0 6-1 5-4 5-5 4-7 3-10 1-11 1-23-3-11-4-4-5-2-5 1-7 3-6 5-4 4-1M2081 5030l8-2 11 0 16 1 16 3 7 2 5 4 2 5 0 6-3 5-4 5-11 4-10 1-15 0-13-1-10-1-4-2-6-4-1-2-1-5 2-7 2-6 5-4 4-2M1281 5329l14-1 14 2 7 4 1 2 1 2 0 3-5 6-7 3-15 1-11-2-3-1-6-4-2-5 2-4 2-2 8-4M2213 4994l15-1 12 3 6 3 2 2 0 6-3 4-11 4-12 1-6-1-9-2-6-4-1-4 1-3 4-5 8-3M1629 5147l-10 5-4 5-3 5-2 9 0 6 2 5 3 2 9 2 11 2 42 3 16-1 4-1 2-3 4-12 2-11-2-8-5-4-14-4-18-1-22-1-15 2M1749 5104l-11 4-4 5-3 5-3 8 0 6 1 5 5 4 9 2 10 2 45 3 11 0 4-1 5-5 4-12 1-13-1-5-5-4-15-3-19-2-18 0-16 1M1289 5219l24 0 52 4 5 1 2 2 0 3-4 12-4 10-5 7-6 4-9 2-10 1-33-2-11-2-8-3-6-3-3-5-1-5 1-7 3-12 4-5 4-1 5-1M1987 4968l15 0 27 2 17 2 9 3 6 3 3 5 0 8-1 7-3 5-4 5-7 3-9 2-17 1-27-1-20-2-10-2-1-2 1-6 8-25 4-5 2-2 7-1M1193 5268l22 0 15 3 6 4 2 2 1 5-1 4-3 6-5 4-11 4-11 1-11-1-11-1-9-3-5-4-3-4 0-6 1-5 4-4 4-2 7-2 8-1M2124 4933l21 1 10 2 7 3 3 2 3 4 1 5-1 4-3 4-6 4-13 3-11 1-12-1-17-3-3-2-4-4-1-5 2-7 4-5 6-3 14-3M1084 5321l7 0 4 2 3 2 0 2-3 3-4 1-5 1-5-1-4-2-1-2 0-2 2-2 6-2M2248 4902l7 1 4 1 2 2 1 3-3 2-8 2-6-1-4-2-1-2 0-2 2-2 6-2M1429 5134l-9 2-6 3-5 5-3 5-2 6 0 6 2 5 6 3 9 3 18 2 21 1 11-1 9-2 3-1 6-8 2-6 1-8-2-5-5-4-7-3-16-3-16-1-17 1M1786 5007l-14 2-6 4-4 4-3 8-1 6 2 5 4 4 7 3 10 2 17 2 19 1 15-2 6-4 4-5 3-6 1-9-1-6-4-4-8-3-11-1-19-2-17 1M1552 5093l-13 3-6 3-4 5-3 7 0 6 3 5 6 3 8 3 11 1 18 1 11 0 13-3 5-4 3-5 2-7-1-6-3-4-6-4-9-2-11-2-24 0M1668 5051l-13 3-5 4-4 5-2 6 0 5 3 5 6 4 8 2 11 2 27 1 13-3 6-4 4-5 1-5 1-6-2-5-4-4-8-3-10-1-15-2-17 1M1093 5211l26-1 18 2 10 2 4 1 4 5 0 5-1 6-3 6-4 4-6 4-8 2-11 1-12 0-14-2-10-2-7-3-4-4-2-5 0-6 3-6 4-5 7-3 6-1M2025 4876l15-1 14 1 11 2 9 2 5 4 4 4 1 6-2 7-3 5-6 4-13 3-11 0-18 0-13-1-9-3-3-1-4-5-1-5 3-9 3-5 5-4 7-3 6-1M978 5276l-3-3 0-3 1-2 2-3 7-3 8-1 7 0 8 1 6 2 4 4 0 3-1 4-6 4-8 2-5 0-12-1-6-2M2178 4847l3 3 1 3-1 3-2 2-7 3-9 2-8-1-7-1-6-2-3-4-1-3 2-4 5-3 8-3 6 0 10 1 7 2M1213 5119l-4 0-7 4-6 7-5 11-2 10 1 5 3 2 10 2 12 1 47 2 10-2 3-1 5-4 2-3 3-9 1-8-1-6-2-2-5-4-9-2-19-3-20-1-17 1M1801 4907l-8 2-5 4-5 8-2 11 1 5 3 5 7 3 9 3 17 2 26 1 11 0 8-2 5-4 4-6 4-10 2-9 0-6-2-2-8-3-38-3-29 1M1335 5080l-10 5-4 5-4 6 0 6 1 5 5 4 4 1 9 3 12 1 17 1 11-1 12-4 5-4 3-5 1-7-2-5-3-5-7-3-10-2-18-2-12 0-10 1M1687 4954l-10 4-4 5-2 6 0 6 2 5 4 3 4 2 9 2 18 3 14 0 10-1 11-5 4-5 3-5 1-6-1-5-4-4-7-3-10-2-19-2-13 0-10 2M1459 5039l-12 4-5 5-3 5 0 5 1 5 5 4 4 2 9 2 12 1 18 0 13-3 6-4 3-5 1-5-1-6-4-4-3-1-9-3-11-2-14 0-10 0M1574 4997l-11 5-4 4-2 6-1 4 2 5 5 4 4 1 9 3 12 1 21-1 11-3 5-5 3-5 0-6-2-5-2-2-7-3-21-4-12 0-10 1M1007 5154l30 0 23 4 3 1 4 5 0 5-1 6-4 7-4 5-6 4-8 2-23 1-17-2-9-2-7-3-5-4-2-7 1-7 2-5 4-5 7-3 12-2M1938 4819l10 0 18 1 11 2 8 3 6 3 3 5 1 7-2 6-3 6-6 4-12 3-17 0-23-1-11-2-8-2-4-5 0-5 3-10 4-6 8-6 14-3M882 5218l1-5 3-4 11-4 16 0 6 1 8 2 3 5 1 2-1 4-4 4-11 4-9 0-10-1M2094 4795l-1 5-3 4-11 4-16 0-6-1-8-2-3-5-1-2 1-4 4-4 11-4 9 0 10 1M1117 5063l-4 1-5 4-6 13-4 15 2 5 3 2 11 1 26 2 18 1 17-1 8-2 3-2 4-5 3-5 2-8-1-8-3-5-7-3-14-3-18-2-20-1-15 1M1709 4851l-8 2-5 4-5 9-1 11 1 6 4 4 7 3 10 2 21 3 19 0 11-1 8-2 5-4 4-5 4-8 2-10 1-5-1-3-3-2-4-1-41-3-29 0M1249 5024l-13 3-5 4-4 5-1 6 0 5 2 5 5 4 9 2 13 2 19 1 10-1 12-4 5-4 3-5 2-6-1-5-4-5-6-3-9-2-11-2-15-1-11 1M1605 4896l-13 3-7 4-3 4-3 7 1 6 2 5 6 3 8 3 10 2 19 1 11-1 12-3 6-4 3-5 2-7 0-6-3-4-3-2-8-3-11-2-29-1M1372 4983l-13 3-6 3-4 5-2 7 1 5 4 4 3 2 9 3 11 1 22 0 12-3 6-4 3-5 2-4-1-5-3-5-3-2-8-2-10-2-23-1M1488 4941l-13 3-6 4-2 4-2 6 1 6 4 4 3 1 9 3 11 2 14 0 10 0 12-4 5-5 2-4 1-6-1-5-5-4-4-2-9-2-12-1-18 0M912 5101l9-1 18 0 19 1 9 3 3 1 4 5 1 5-2 6-2 6-4 4-6 4-8 2-11 1-13 0-13-2-10-2-7-3-4-4-3-5 1-6 2-6 5-5 7-3 5-1M1844 4766l10-1 14 0 17 3 8 2 6 4 3 4 1 6-1 7-3 5-6 4-13 3-29 0-12-2-10-2-4-1-4-5 0-5 1-6 3-6 4-4 6-4 9-2M798 5166l-3-3-1-3 1-3 2-2 7-3 9-2 8 1 7 1 6 2 3 4 1 3-2 4-5 3-8 3-6 0-10-1-7-2M1998 4737l3 3 0 3-1 2-2 3-7 3-8 1-7 0-8-1-6-2-4-4 0-3 1-4 6-4 8-2 5 0 12 1 6 2M1153 4966l-9 1-3 2-5 4-3 6-2 7-1 8 3 5 6 3 9 3 19 1 18 1 10-1 12-4 5-4 4-5 2-8-1-5-2-5-6-4-9-2-15-2-20-2-12 1M1505 4839l-9 2-3 1-5 5-2 5-2 9 1 6 3 4 6 4 9 2 17 2 16 1 16-2 7-2 6-4 3-5 3-6 1-6-1-5-4-5-3-1-9-3-18-2-21-1-11 1M1272 4926l-11 3-5 5-3 5-1 6 1 5 3 5 6 3 9 3 11 1 15 1 11-1 9-2 7-3 4-4 3-6 1-6-1-5-4-4-4-2-8-2-12-2-20-1-11 1M1388 4884l-4 1-7 3-4 5-2 5-1 7 2 5 4 4 4 2 9 2 11 2 18 0 11-1 8-2 6-3 4-5 2-4 1-6-1-5-4-4-8-4-10-2-17-1-22 1M932 5001l21-2 41 2 12 1 4 2 1 2-2 9-5 16-2 6-4 5-2 2-9 1-26-1-20-2-15-2-8-3-5-4-2-8 1-7 3-6 5-7 7-3 5-1M1630 4749l18-1 21 2 17 2 12 4 4 4 2 8-1 10-3 9-4 5-4 1-10 1-52-2-24-3-2-2 1-6 4-13 4-8 7-7 10-4M833 5047l23 1 14 3 3 2 4 4 1 5-2 7-4 5-6 3-13 3-22-1-10-2-7-3-5-4-1-3-1-5 2-5 2-2 6-4 8-3 8-1M1764 4713l21 0 10 3 7 3 2 2 3 4 0 6-1 5-4 4-4 2-12 3-25 0-11-2-8-3-2-2-3-4 0-6 4-7 8-5 8-3 7 0M726 5100l5 1 4 2 1 2 0 2-2 2-4 1-5 1-8-2-2-2-1-3 3-2 9-2M1890 4681l9 3 1 2 0 2-2 2-6 2-7 0-4-2-3-2 0-2 3-3 9-2M1167 4865l-4 1-5 5-4 15-1 7 0 5 3 5 3 2 15 3 19 2 18 0 16-1 8-3 5-4 4-5 3-5 1-8 0-5-3-5-7-3-15-3-18-2-27-1-11 0M1283 4823l-4 1-3 5-3 10-2 11 2 8 5 4 4 2 10 2 18 1 16 1 17-1 8-2 6-4 4-5 4-8 2-9-2-6-1-2-7-3-16-3-22-2-26-1-10 1M957 4904l16-1 26 0 25 2 8 3 2 5 0 6-3 15-4 12-2 3-5 1-26-2-32-3-11-2-7-3-5-4-2-5 0-6 2-6 3-6 5-5 10-4M1422 4737l14-2 27 1 17 2 12 5 4 4 1 8-2 16-3 9-3 2-6 0-19-1-46-3-15-3-2-2-1-5 0-6 4-10 3-6 4-4 7-4 4-1M856 4949l24 0 11 1 9 3 6 4 2 4 0 6-3 7-3 5-6 4-14 2-12 0-16-1-10-3-7-2-5-4-2-5 0-6 3-5 7-6 8-3 8-1M1555 4698l22 0 11 2 8 3 5 3 3 5 1 7-2 6-4 5-3 2-13 3-18 0-14-1-11-2-8-3-3-2-2-4 0-6 3-7 4-5 6-3 15-3M745 4997l14 0 10 3 6 4 1 4-1 3-1 3-4 3-10 3-14 0-6-1-7-3-5-5-1-4 2-3 5-4 11-3M1676 4662l15 1 8 2 4 2 3 4 1 3-1 3-6 5-13 3-12-1-12-3-4-4-1-2 1-4 2-3 5-3 10-3M1112 4767l12-1 18 1 16 3 6 3 4 4 2 6-1 7-3 9-4 5-4 1-15 2-34-3-10-2-8-2-5-4-2-5 1-6 3-7 3-3 5-4 8-3 8-1M991 4810l13-1 14 0 17 2 9 3 5 4 2 4 0 9-2 6-3 5-3 2-3 2-9 1-11 1-21-2-14-3-8-2-3-2-3-5-1-5 2-6 2-4 4-4 7-3 6-2M1224 4726l12-1 14 0 17 3 8 2 6 4 2 5 1 8-2 6-4 5-2 3-4 1-9 2-12 0-20-2-15-2-7-3-3-2-3-4-1-6 2-6 6-7 7-4 7-2M887 4853l21 1 14 4 3 1 4 5 1 5-2 6-4 5-2 2-12 4-11 0-14 0-11-3-8-3-5-3-1-4-1-4 2-5 8-7 8-2 10-2M1352 4686l21 1 13 4 5 3 3 5 0 6-1 4-4 5-3 1-12 4-12 0-13-1-11-2-8-3-4-3-2-6 1-4 3-5 9-6 15-3M772 4900l13 0 10 3 6 4 1 4-1 3-1 3-5 3-9 3-13 0-14-4-5-5-1-4 2-3 5-4 12-3M1470 4649l14 1 9 2 5 4 2 2 0 3-1 3-5 5-5 1-8 2-13-1-11-3-5-4-1-2 1-4 2-3 6-4 10-2M1032 4719l10 1 8 1 4 2 5 3 2 5-1 3-2 3-6 3-15 2-15-2-7-3-2-2-1-5 2-4M908 4764l8-2 11 1 5 1 7 3 2 4 1 3-3 4-5 3-7 2-8 0-7-1-8-3-5-3-1-3 1-3 2-2 4-3M1141 4680l7-1 11 0 5 1 7 3 3 5 0 3-2 3-6 3-7 2-8 0-7-1-8-2-4-4-1-3 2-5 5-3M806 4809l5 1 3 3 0 3-3 2-4 1-6 0-8-3-1-2 2-2 3-2 9-1M1271 4642l5 1 3 2 1 2-1 3-4 1-9 1-4-1-4-3 1-3 2-2 10-1" stroke="#0099e9"/>
<path transform="scale(.1)" stroke-width="8.5" d="M1592 5420l-10 0-7-2-4-1-5-4-2-5 1-5 2-3 7-3 15-2 9 1 10 2 6 3 2 2 2 5-2 4M1697 5383l-15-3-7-4-4-4-1-7 1-7 4-5 6-3 9-2 12 0 17 1 11 2 11 5 3 4 0 6M1808 5343l-11-2-8-3-3-1-4-5-2-8 2-11 3-5 5-4 10-1 13 0 22 2 17 2 11 5 3 4 0 6M1922 5302l-11-2-9-3-3-1-3-5-1-8 1-9 2-10 4-4 11-1 20 1 36 5 11 4 4 5 0 5M2040 5259l-11-1-9-3-3-2-3-4-1-8 2-11 2-6 6-4 9-1 12 0 23 2 16 3 11 4 4 5 0 5M2162 5215l-12-1-8-3-3-2-3-4-1-5 1-8 4-6 5-3 9-2 11-1 14 1 15 3 8 3 5 4 2 5 0 2M2290 5169l-7 0-11-2-4-1-5-4-1-5 1-4 1-3 6-4 14-2 12 1 9 2 7 3 2 2 1 4-1 5M1081 4758l11-1 57 2 11 0 10-1 7-3 4-5 5-8 8-17 4-5 3-2 4-1 11 0 63 2 15-2 3-1 5-5 9-19 6-8 6-4 14-2 17 0 25 1 18 2 9 2 3 2 3 5 0 22 3 8 6 3 9 3 24 2 26 1 10-1 8-2 6-4 4-5 9-20 4-5 3-1 9-2 18 0 37 2 19 2 10 2 3 2 2 4 0 23 2 8 5 4 9 2 23 3 31 2 14-3 4-1 5-5 13-24 6-4 4-1 16-1 26 1 22 2 14 4 6 3 2 5 1 6-1 20 2 5 2 2 14 3 62 6 10 2 3 2 3 2 1 5-2 17 0 9 1 2 4 5 7 3 10 2 61 6 10 2 2 2 0 3-4 27 1 5 3 5 6 3 10 2 53 6 15 4 2 2 1 5-3 29 1 5 2 2 4 2 9 2 53 7 13 4 4 4 2 7-2 12-5 11-5 4-3 2-10 1-48 0-16 1-7 3-5 4-3 6-2 6-2 9 1 5 4 5 2 1 9 3 10 2 47 5 10 3 2 2 2 5-2 9-4 17-5 8-6 4-4 1-54-1-11 1-10 2-6 3-5 4-5 12-1 6 0 5 2 5 6 4 15 3 46 6 9 2 3 2 1 2 1 6-3 14-4 8-4 5-7 3-4 2-16 1-48-1-15 2-3 2-4 5-12 29-4 4-4 2-15 2-55-1-10 1-8 2-6 4-3 5-11 26-1 3-3 2-11 1-62-2-11 1-9 2-7 6-5 8-8 17-4 5-3 2-4 1-11 0-63-2-15 2-3 1-5 5-9 19-4 6-5 4-3 2-9 2-16 0-24-1-25-2-9-2-3-2-3-5 0-22-3-8-6-3-9-3-24-2-26-1-10 1-8 2-6 4-4 5-9 20-4 5-3 1-9 2-18 0-37-2-19-2-10-2-3-2-2-4 0-23-2-8-5-4-9-2-23-3-31-2-14 3-4 1-5 5-13 24-6 4-4 1-16 1-26-1-22-2-14-4-6-3-2-5-1-6 1-20-2-5-2-2-14-3-62-6-10-2-3-2-3-2-1-5 2-17 0-9-1-2-4-5-7-3-10-2-61-6-10-2-2-2 0-3 4-27-1-5-3-5-6-3-10-2-53-6-15-4-2-2-1-5 3-29-1-5-2-2-4-2-9-2-42-5-16-3-8-3-2-1-2-3-2-5 1-8 3-12 3-5 5-4 3-2 10-1 48 0 16-1 7-3 5-4 5-12 2-6-1-6-2-5-4-3-9-3-10-2-52-7-5-1-2-2-1-2 0-9 4-17 4-9 4-4 4-2 10-1 48 1 11-1 10-2 3-1 6-4 4-5 3-8 1-7 0-5-2-5-6-4-15-3-46-6-9-2-3-2-2-5 1-9 3-11 5-8 5-4 4-1 9-2 17-1 42 1 15-2 3-2 4-5 12-29 4-4 4-2 15-2 55 1 10-1 8-2 6-4 3-5 11-26 1-3 3-2M1473 5331l36 1 29 4 4 1 4 4 0 8-3 7-5 8-5 4-7 3-9 2-13 0-18-1-13-2-8-3-5-3-3-5-1-5 1-10 4-9 2-2 4-2 6 0M2171 5079l13 0 21 2 17 3 9 2 6 3 4 5 1 5-1 7-4 6-4 4-7 3-9 2-16 1-14 0-19-2-10-2-5-4-1-5 1-9 3-9 4-8 3-2 8-2M1375 5380l21 1 14 3 2 2 3 5 0 6-2 3-5 4-12 4-16 1-11-1-8-3-3-2-4-4-1-5 1-4 1-3 6-4 8-2 6-1M2307 5045l19 1 13 4 3 2 3 4 0 5-1 3-2 3-5 4-13 3-20 0-14-4-3-1-3-5-1-5 2-5 5-5 3-1 14-3M1612 5246l-12 3-6 4-3 5-4 9 0 6 2 5 3 2 7 2 11 2 40 3 15-2 3-2 4-5 2-9 1-8-2-5-4-4-8-3-15-3-17-1-17 1M1964 5119l-12 4-5 4-4 5-2 5 0 6 1 5 5 4 7 3 10 2 37 3 15-1 4-2 4-5 3-9 2-9-1-6-4-4-8-3-17-2-19-1-16 1M1735 5205l-13 3-6 3-4 5-2 4-1 6 1 5 4 4 8 3 13 3 15 1 17 0 9-1 4-2 3-2 3-5 3-6 0-6-2-5-4-4-7-3-10-2-13-2-18 1M1851 5163l-13 3-5 4-4 5-2 6 0 5 3 5 6 3 9 3 11 2 20 1 11 0 9-2 3-2 6-8 2-8-1-5-3-5-5-3-9-3-12-1-15-1-11 1M1263 5319l9-1 12 0 44 3 9 2 3 2 1 2 0 6-4 10-3 5-4 5-6 4-9 2-10 1-15 0-18-2-9-3-7-3-4-4-2-5 0-6 2-9 4-6 7-3M2194 4984l11-1 19 0 19 3 14 3 6 4 4 4 1 5-1 8-3 5-5 4-7 4-9 1-30 1-20-1-10-2-4-2-2-5 0-6 3-9 5-11 5-4 4-1M1150 5382l1-4 4-5 3-1 8-3 11 0 9 0 13 4 5 4 0 2-1 6-4 4-12 4-7 1-11-1M2367 4962l-1 5-3 3-11 4-11 1-11 0-5-2-8-3-3-4-1-3 2-4 4-5 7-3 4-1 18 1M1403 5234l-11 4-5 5-4 5-2 6 1 5 3 5 3 1 8 3 11 2 20 1 12 0 13-3 5-4 4-5 1-6-1-6-2-4-5-4-8-3-17-2-16-1-10 1M1991 5023l-12 4-4 4-3 6-1 5 1 5 4 4 6 3 9 3 17 2 24 0 4-1 7-3 4-5 3-5 1-7 0-5-4-5-6-3-10-2-13-1-17 0-10 1M1529 5195l-12 3-4 3-4 4-1 3 0 6 1 2 5 4 8 3 11 1 20 0 12-3 4-4 2-3 1-4-1-5-4-4-3-2-8-3-10-1-17 0M1880 5068l-11 4-3 2-4 5-1 3 0 5 4 4 3 2 8 2 10 2 19 0 12-3 5-4 2-3 1-6-1-3-3-4-3-2-8-3-12-1-18 0M1647 5155l-11 4-5 5-1 6 3 4 3 2 14 4 15 0 13-3 5-4 2-3 0-6-2-2-5-4-13-4-18 1M1763 5113l-11 4-4 5-1 3 2 5 2 2 7 3 16 3 12-1 11-3 3-2 2-5 1-5-2-3-5-3-4-2-12-2-17 1M1051 5321l3-5 6-4 13-3 11-1 17 1 11 2 8 3 5 4 0 5-1 6-6 7-6 4-8 2-16 1M2286 4912l-2 3-4 5-7 3-9 1-16 1-14-1-11-2-7-3-4-4 0-5 3-8 3-5 6-4 4-1 9-2 12 0M1193 5219l-12 3-7 7-5 8-1 6-1 6 3 4 8 3 12 2 40 1 14-2 6-3 4-5 2-7 0-8-2-5-5-4-7-3-16-3-16-1-17 1M2017 4922l-13 4-5 4-3 5-2 8 1 5 3 5 5 4 8 2 17 3 19 1 12 0 5-1 7-3 5-4 4-8 3-11-1-5-3-4-4-2-10-2-20-1-28 0M1322 5181l-13 3-8 6-3 6 0 3 3 5 2 2 7 3 11 2 20 0 13-3 4-2 3-4 2-4-1-5-1-3-4-4-8-3-8-1-19-1M1910 4970l-13 3-6 3-2 3-2 5 1 5 5 5 3 1 8 3 12 1 17 0 12-4 4-5 2-2 1-4-2-6-4-4-3-1-15-3-18 0M1444 5143l-13 3-4 5-1 3 1 4 6 4 10 2 12 0 8-2 4-1 4-4 0-3 0-3-4-4-10-3-13-1M1795 5016l-8 2-4 2-4 4 0 4 1 3 6 4 14 2 11 0 8-3 5-4 0-4 0-2-4-4-13-4-12 0M1563 5103l-8 2-4 3-2 3 1 3 2 2 8 3 11 0 8-2 3-3 1-3-1-3-3-2-8-2-8-1M1679 5061l-8 3-3 2-1 3 1 3 5 3 7 2 11-1 7-3 2-2 0-4-3-3-9-3-9 0M956 5263l4-5 5-4 13-3 17 0 23 1 12 1 9 2 2 2 1 3 0 6-4 11-6 7-10 5-9 2-11 0M2200 4860l-4 5-5 4-13 3-17 1-23-1-12-2-9-2-2-3-1-2 1-6 3-10 6-8 5-4 4-1 10-2 11 0M1099 5165l-10 5-4 4-3 7-1 6 1 5 4 4 4 2 22 3 17 1 11-1 12-4 5-4 3-5 1-8-1-5-4-4-7-3-14-3-14-1-12 0-10 1M1923 4869l-7 3-6 4-3 5-1 6 1 5 4 5 10 5 10 2 16 1 11 0 10-1 10-5 5-5 3-7 1-6-2-5-2-2-7-3-11-2-20-2-12 1-10 1M1229 5128l-12 4-4 4-1 3 1 6 4 4 4 2 16 2 14 0 11-5 4-4 1-3 0-4-2-2-5-4-14-4-17 1M1816 4916l-11 4-4 5-1 3 1 5 5 4 4 2 15 3 14-1 11-4 3-3 2-3 0-6-3-4-3-2-15-3-18 0M1357 5090l-10 1-6 4 0 4 4 4 8 2 9 1 6-2 3-2 2-2 1-3-3-3-7-3-7-1M1708 4963l-9 2-5 4-1 3 5 4 9 3 7 0 6-2 6-3 1-3-3-4-7-3-9-1M1474 5052l-5 1-1 3 2 2 8 1 4-2-1-3-3-2-4 0M1595 5010l-6 0-3 2-1 2 3 2 5 1 5-1 1-2 0-2-4-2M865 5207l3-5 6-4 13-3 37 0 20 2 10 2 1 2 1 3-3 9-4 9-5 8-6 4-4 1-9 2-12 0M2111 4806l-3 5-6 4-13 3-37 0-20-2-10-2-1-2-1-3 3-9 4-9 5-8 6-4 4-1 9-2 12 0M1018 5108l-14 2-6 4-5 5-3 7-1 6 2 5 5 4 9 3 12 1 26 0 14-2 6-3 5-5 2-6 0-6-3-5-4-4-8-3-10-2-16-1-11 0M1836 4812l-9 2-6 3-4 5-2 5 0 6 1 5 4 4 7 3 14 3 14 1 12 0 10-1 10-5 4-4 3-7 1-6-1-5-4-4-4-2-22-3-17-1-11 1M1142 5071l-13 3-6 4-2 3-1 3 1 4 3 4 3 2 15 3 16 0 10-3 3-2 4-4 1-3-1-4-5-5-13-4-15-1M1730 4860l-13 3-6 4-1 2-1 3 0 4 2 2 5 4 14 4 16-1 10-2 3-2 4-5 1-3 0-3-3-4-2-2-14-4-15 0M1260 5035l-7 2-3 2-1 3 1 2 5 4 10 2 8-1 7-2 2-3 1-3-5-4-9-3-9 1M1612 4908l-7 3-2 2 0 4 5 4 10 2 6 0 8-3 3-3 0-3-4-4-9-3-10 1M1382 4996l-5 3 0 2 4 2 6 0 3-2 1-2-3-2-6-1M1498 4954l-4 2 1 3 3 2 4 0 5-1 1-3-2-2-8-1M776 5153l4-5 5-4 13-3 17-1 23 1 12 2 9 2 2 3 1 2-1 6-3 10-6 8-5 4-4 1-10 2-11 0M2020 4750l-4 5-5 4-13 3-17 0-23-1-12-1-9-2-2-2-1-3 0-6 4-11 6-7 10-5 9-2 11 0M917 5050l-5 1-7 3-6 7-3 6-3 10 1 5 3 4 9 3 18 2 19 1 16-1 13-4 5-4 3-5 2-8-1-5-3-5-5-4-8-2-17-3-19-1-12 0M1741 4754l-9 2-6 3-4 5-2 6 0 9 2 5 5 4 7 3 12 2 17 2 15 0 10-1 7-3 5-4 4-5 4-9 1-9-3-4-4-2-10-2-19-2-32 0M1043 5014l-12 4-4 5-2 2-1 4 2 6 4 4 3 1 16 3 12 1 10-1 12-4 3-4 2-3 1-4-1-4-5-5-3-1-8-3-12-1-17 0M1630 4803l-11 4-4 4-2 3 0 4 2 5 4 4 4 1 9 3 11 1 16-1 11-4 4-3 3-4 1-3-1-5-4-5-3-1-9-3-12-1-19 1M1161 4977l-7 4-2 2 0 4 2 4 6 4 10 2 15-1 8-3 4-4 0-4-1-3-3-2-7-3-12-1-13 1M1517 4850l-8 2-4 5 0 5 4 4 4 2 13 2 11-1 4-1 6-3 3-5-1-5-6-4-9-2-7 0-10 1M1290 4936l-9 2-5 4 0 4 3 3 9 3 7 0 6-1 7-4 1-3-1-3-2-2-8-2-8-1M1405 4894l-8 2-3 3-1 3 1 3 3 2 8 2 8 1 8-2 3-2 2-3 0-4-6-4-9-1-6 0M690 5101l2-3 4-5 7-3 9-1 16-1 14 1 11 2 7 3 4 4 0 5-3 8-3 5-6 4-4 1-9 2-12 0M1925 4692l-3 5-6 4-13 3-11 1-17-1-11-2-8-3-5-4 0-5 1-6 6-7 6-4 8-2 16-1M940 4955l-4 2-5 3-4 6-2 6 0 6 2 5 5 4 3 1 10 2 13 1 17 0 10-1 12-4 4-4 3-6 1-5-1-5-4-4-6-3-9-3-18-2-17 0-10 1M1528 4744l-7 3-4 5-3 5 0 6 2 5 3 4 11 5 21 3 12 0 10-1 8-3 6-3 4-5 3-5 1-6-2-5-2-3-7-3-9-2-20-2-18 0-9 2M1071 4916l-12 3-5 4-2 3-1 4 1 5 3 4 3 2 8 3 12 1 18 0 11-4 3-2 4-5 1-3 0-5-4-4-3-2-8-2-10-2-19 0M1423 4789l-12 3-4 4-2 4-1 3 1 5 4 4 6 3 16 3 11 1 10-2 10-4 5-5 1-3 1-3-2-5-2-2-7-3-18-3-17 0M1190 4876l-11 3-5 5-1 3 0 4 4 5 3 1 14 4 14 0 13-3 4-3 3-4 0-5-1-3-5-4-14-3-18 0M1311 4833l-13 3-5 4-2 3 0 6 2 2 5 4 13 4 18-1 11-4 5-5 1-6-3-4-3-2-14-4-15 0M728 4989l16-1 19 0 20 1 10 2 4 2 2 5-1 9-4 12-5 7-3 2-9 2-12 0-20-1-17-3-9-2-6-4-4-4-1-5 1-6 2-4 4-5 5-4 8-3M1659 4654l12-1 18 1 15 1 13 4 5 4 4 7 0 6-2 9-4 6-2 2-4 1-10 1-44-1-12-2-9-2-3-2-1-5 1-6 4-10 4-5 5-4 10-4M609 5051l1-5 3-3 11-4 11-1 11 0 5 2 8 3 3 4 1 3-2 4-4 5-7 3-4 1-18-1M1826 4631l-1 4-4 5-3 1-8 3-11 0-9 0-13-4-5-4 0-2 1-6 4-4 12-4 7-1 11 1M964 4854l-4 0-6 4-3 6-2 6-2 9 1 6 4 4 3 2 10 2 18 2 19 0 10-1 9-2 6-4 4-4 3-6 1-5 0-5-3-5-6-3-9-3-17-2-19-2-17 1M1316 4727l-5 1-5 4-4 8-1 9 1 6 3 4 10 5 10 2 16 2 18 0 9-2 8-2 6-4 3-5 3-6 1-6-1-5-1-3-6-3-9-2-20-3-20-1-16 1M1089 4813l-9 2-3 2-4 5-3 6-1 8 2 5 4 4 3 1 9 3 12 1 15 1 11-1 9-2 7-3 4-4 4-6 0-6-1-5-2-2-6-3-9-3-11-2-20-1-11 0M1209 4771l-9 1-4 2-5 4-3 6-1 6 1 6 3 4 5 4 9 2 12 2 13 1 16-1 8-3 6-3 4-5 2-4 1-6-1-5-2-2-6-4-9-2-11-2-29-1M754 4893l15-2 20 0 19 2 10 2 5 4 1 5-1 9-4 12-3 5-3 2-4 1-11 1-34-3-15-3-8-3-4-4-3-4 0-6 1-4 4-6 4-4 11-4M1452 4642l13-2 18 0 15 2 13 4 5 3 4 8-1 9-2 9-4 5-4 2-10 1-44-3-12-1-9-3-4-4-1-3 1-5 3-7 3-6 4-4 6-4 6-1M644 4941l8-2 11 0 19 2 4 2 5 3 2 5-1 6-2 4-4 3-11 4-18 0-16-4-7-3-2-2-2-4 1-3 3-6 5-4 5-1M1575 4606l15-2 12 1 9 2 7 3 4 4 1 5-1 4-4 5-3 2-8 2-16 1-11-1-10-2-6-3-2-2-1-3 0-4 1-3 3-4 10-5M1054 4711l11 2 9 3 3 1 3 5 1 8-1 9-2 10-4 4-11 1-20-1-36-5-11-4-4-5 0-5M936 4754l11 1 9 3 3 2 3 4 1 8-2 11-2 6-6 4-9 1-12 0-23-2-16-3-11-4-4-5 0-5M1168 4670l11 2 8 3 3 1 4 5 2 8-2 11-3 5-5 4-10 1-13 0-22-2-17-2-11-5-3-4 0-6M814 4798l12 1 8 3 3 2 3 4 1 5-1 8-4 6-5 3-9 2-11 1-14-1-15-3-8-3-5-4-2-5 0-2M1279 4630l15 3 7 4 4 4 1 7-1 7-4 5-6 3-9 2-12 0-17-1-11-2-11-5-3-4 0-6M686 4844l7 0 11 2 4 1 5 4 1 5-1 4-1 3-6 4-14 2-12-1-9-2-7-3-2-2-1-4 1-5M1384 4593l10 0 7 2 4 1 5 4 2 5-1 5-2 3-7 3-15 2-9-1-10-2-6-3-2-2-2-5 2-4" stroke="#00b9ba"/>
<path transform="scale(.1)" stroke-width="8.5" d="M1468 5465l-15-3-7-3-4-5-1-5 1-5 4-5 7-4 9-1 12 0 15 1 9 2 7 3 2 3 1 5 0 3M1572 5428l-11-2-8-3-3-2-3-4-2-8 0-17-1-5-2-2-5-1-31-3-45-2-15 2-3 1-4 5-11 19-7 6-7 3-9 2-24 0-24-2-9-3-7-3-4-4-2-5-1-22-3-5-3-1-10-2-19-2-58-3-4 0-4 2-2 2-10 19-4 5-5 5-11 4-16 1M1679 5389l-18-2-7-3-3-5 1-17-1-8-4-4-6-4-15-3-24-1-17 0-12 3-9 6-5 8-4 13-1 6 1 2 9 3 67 6 7 4 2 2-1 9M1786 5351l-11 1-4 2-3 3M2138 5224l-11 2-7 4M2267 5177l-18-1-4-2-3-1-2-3 0-5 4-27-1-2-3-2-16-3-28-1-18 0-14 2-9 5-6 8-2 5-1 6 1 5 2 3 5 3 8 3 52 7 9 2 3 2 2 2-1 9M2383 4972l-7 7-11 4-21 1-43 0-9 1-2 2-4 9-5 19-1 8 2 5 2 2 9 3 45 6 10 2 8 3 5 4 2 5 0 5-1 6-3 6-4 5-5 4-8 2-15 2-42 0-15 1-4 2-4 5-4 8-3 12-2 10-1 5 2 3 3 1 46 6 16 3 10 5 4 4 1 5M2398 5130l-16-2-4-2-5-3-2-5 1-8 3-5 6-4 8-2 11 0 13 1 10 2 8 3 5 3 2 5 0 3M1360 5490l3 2-1 1-4 1-5-2 0-1 4-1 3 0M2524 5071l3 2-1 1-3 1-3 0-3-2 0-1 4-1 3 0M1702 5304l-11 5-5 4-3 5-1 5 1 6 3 4 3 2 9 2 14 2 20 2 11-1 9-1 4-2 2-2 3-5 2-8-2-8-3-4-7-3-9-3-13-1-13 0-14 1M2058 5177l-12 3-5 4-4 5-1 7 1 5 4 4 3 2 8 3 10 2 21 2 12 0 9-2 4-1 2-2 4-6 2-6 0-7-2-5-5-4-8-3-14-2-18 0-11 1M1824 5263l-11 4-5 4-3 5-1 3 1 6 3 4 3 2 9 2 10 2 25 1 13-3 3-2 4-5 1-5 0-5-2-5-5-4-8-3-10-2-14 0-13 1M1940 5221l-11 4-4 5-3 4 0 5 0 3 4 5 3 1 8 3 14 2 14 1 11-1 8-2 3-1 3-2 3-6 1-6-1-5-3-5-6-3-10-2-12-1-12 0-10 1M1235 5433l1-3 4-5 3-1 8-3 10-1 16 1 11 2 8 2 5 4 1 6-2 5-4 5-6 4-8 2-17 1M2463 5021l-1 3-5 4-7 3-9 2-10 1-13-1-10-2-7-3-4-5 0-5 3-7 4-5 7-3 4-1 18 0M1376 5331l-12 3-5 4-4 5-4 9-1 6 1 5 2 2 9 3 11 1 28 2 18 1 10-2 3-2 4-4 3-10 0-7-2-6-5-4-7-3-15-3-18-1-16 1M2200 5034l-12 4-6 4-3 5-2 5 0 6 1 5 5 4 7 3 13 2 34 3 15-1 4-2 4-5 3-9 2-10 0-5-3-5-8-2-18-2-20-1-16 1M1505 5293l-13 3-8 6-3 5 0 4 3 5 2 1 8 3 10 2 20 1 13-3 3-2 4-5 2-3-1-5-1-3-4-4-7-3-10-2-18 0M2092 5081l-13 3-5 4-2 2-2 3 0 6 1 2 5 4 7 3 9 2 20 1 13-3 5-3 3-3 1-6 0-3-2-5-3-2-7-3-11-2-19 0M1626 5255l-9 1-3 2-5 4-1 3 1 3 4 4 12 4 13 0 8-2 4-2 3-3 1-4 0-2-4-4-11-4-13 0M1978 5128l-9 2-3 1-4 4-1 3 1 3 4 4 10 3 13 1 11-2 4-3 2-3 1-3 0-2-2-3-5-3-10-2-12 0M1746 5215l-9 2-4 3-1 5 3 3 9 2 10 1 8-3 3-2 1-4-1-2-2-2-9-3-8 0M1861 5173l-8 2-3 3-1 3 1 3 3 1 8 3 8 1 9-2 3-2 2-3 0-2-1-2-5-4-10-1-6 0M1133 5371l4-9 2-2 9-2 69 2 9-1 2-2 3-6 2-13 0-8-3-5-2-2-11-5-16-2-24-2-16 2-8 2-5 4-6 7-9 17-4 4-9 2-18 0M2300 4921l-4 8-7 4-10 1-53 0-10 1-7 3-6 7-3 6 0 5 1 8 4 5 3 1 12 4 17 3 27 2 18 0 3-2 2-2 11-26 3-6 7-3 4 0 19 0M1293 5280l-12 3-4 2-3 5-2 3 0 6 3 4 3 2 8 2 12 2 19 0 12-3 5-4 2-3 1-4-1-5-4-5-3-1-8-3-11-2-17 1M2116 4983l-12 4-3 2-4 4-1 3 1 6 3 4 3 2 8 3 11 2 19 0 12-4 5-4 2-3 1-3-1-6-3-4-3-2-14-4-13 0-11 0M1414 5245l-7 3-2 3 0 2 2 3 5 2 9 2 10-1 5-3 3-3 0-3-2-2-4-2-9-2-10 1M2002 5033l-5 2-4 4 2 5 4 2 9 2 8 0 7-2 2-2 2-3 0-3-2-2-5-2-8-2-10 1M1080 5262l-13 4-5 3-4 5-4 7 0 6 1 5 6 4 9 2 12 1 29 0 13-2 6-4 4-5 1-7-1-6-3-5-6-3-9-3-11-1-14-1-11 0M2140 4881l-13 3-6 4-4 5-2 6 1 6 3 4 5 4 9 3 16 2 16 1 11-1 4-1 7-3 4-5 3-5 2-8 0-6-4-4-4-2-10-2-12-1-26 0M1208 5228l-5 0-8 3-4 5-1 3 2 4 5 4 10 2 17-1 7-2 5-5 0-3 0-2-5-5-11-3-12 0M2031 4931l-12 4-5 4 0 3 2 4 5 4 9 2 7 1 10-1 8-3 4-4 1-3-1-3-4-4-11-3-13-1M1033 5310l-2-4-3-2-9-3M2217 4870l1 3 3 2 10 4M987 5209l-11 4-5 4-3 6-1 5 1 5 4 4 4 2 10 2 12 1 23-1 12-4 2-2 4-5 1-6-1-5-8-6-8-3-14-2-12 0-10 1M2046 4828l-11 4-5 4-2 5-1 5 2 4 3 3 6 4 9 2 11 2 13 0 10-1 11-4 5-5 3-5 1-6-2-5-2-2-8-3-21-3-22 1M1121 5174l-10 2-5 4-1 4 4 4 7 2 10 0 6-1 6-4 1-3-3-4-7-3-8-1M1944 4878l-9 2-6 4-1 4 5 4 7 2 9 0 7-1 6-4 0-3-2-4-8-3-8-1M900 5152l-13 3-6 4-3 5-2 6 0 6 3 4 4 2 8 2 12 2 22 0 9-2 7-3 5-4 2-3 1-5-1-5-4-4-6-4-9-2-11-2-18 0M1960 4771l-10 2-7 3-2 2-4 5-1 6 1 5 8 6 8 3 10 1 22 1 9-2 6-3 5-4 3-5 1-4 0-5-3-4-2-2-9-3-11-1-24-1M1024 5119l-7 3-3 4 0 3 5 4 11 2 7-1 7-2 3-4 1-3-5-4-9-2-10 0M1848 4823l-8 3-2 2-1 2 1 3 5 4 10 1 8 0 7-3 3-3 0-3-4-4-9-2-10 0M800 5095l-4 1-7 3-4 5-4 7-1 6 0 6 4 4 4 2 10 2 15 1 18 0 10-1 12-4 4-4 3-6 1-6-2-5-4-4-7-3-10-3-15-1-12-1-11 1M1860 4714l-8 2-6 4-4 5-1 5 0 6 2 4 5 4 7 3 10 3 14 1 12 0 10-1 8-3 5-3 4-5 4-7 0-9-3-4-4-2-9-2-17-1-19-1-10 1M929 5061l-8 3-2 2-2 2-1 3 2 5 6 4 10 2 15-1 8-3 5-4 0-3-2-4-5-4-9-2-7-1-10 1M1752 4765l-7 2-5 5 0 3 0 2 5 5 3 1 15 3 10-1 8-3 3-3 2-4-2-5-5-4-10-2-17 1M759 5143l-1-3-3-2-10-4M1943 4703l2 4 3 2 9 3M676 5092l4-8 7-4 10-1 53 0 10-1 7-3 6-7 3-6 0-5-1-8-4-5-3-1-12-4-17-3-27-2-18 0-3 2-2 2-11 26-3 6-7 3-4 0-19 0M1843 4642l-4 9-2 2-9 2-69-2-9 1-2 2-3 6-2 13 0 8 3 5 2 2 11 5 16 2 24 2 16-2 8-2 5-4 6-7 9-17 4-4 9-2 18 0M835 5000l-12 4-4 4-2 3-2 3 1 6 3 4 3 2 14 4 13 0 11 0 12-4 3-2 4-4 1-3-1-6-3-4-3-2-8-3-11-2-19 0M1659 4704l-12 3-5 5-2 3-1 3 1 5 4 5 7 3 15 3 12 0 10-1 10-5 4-4 2-4 0-3-1-5-2-2-7-3-16-3-19 0M957 4966l-6 3-2 3 0 3 2 2 5 2 8 2 10-1 5-2 4-4-1-3-1-2-4-2-9-2-11 1M1545 4754l-7 4-1 2 2 5 4 2 9 2 9 0 6-2 4-5 0-2-2-3-5-2-9-2-10 1M593 5041l4-5 6-3 13-3 16-1 48 0 4-1 2-2 3-6 3-9 3-13 1-8-2-5-2-2-14-4-40-5-14-3-7-4-3-4-1-6 0-5 2-6 3-6 5-4 7-3 9-2 10-1 48 0 9-1 4-2 4-5 4-8 5-19 1-8-2-3-8-2-41-5-20-4-6-4-3-2-1-2-1-5M1404 4585l11 2 8 3 3 2 3 4 2 8 0 17 1 5 2 2 5 1 31 3 45 2 15-2 3-1 4-5 11-19 7-6 7-3 9-2 24 0 24 2 9 3 7 3 4 4 2 5 1 22 3 5 3 1 10 2 19 2 58 3 4 0 4-2 2-2 10-19 4-5 5-5 11-4 16-1M728 4938l-4 1-6 4-3 6-3 9-1 7 0 5 3 5 4 1 10 2 19 2 29-1 9-2 6-4 5-4 3-6 0-8-1-5-5-4-7-3-10-2-18-2-19-1-11 0M1552 4642l-5 1-6 4-3 8-1 10 1 5 3 4 6 4 8 2 11 2 18 1 16-1 8-2 7-3 4-4 5-9 2-6 0-6-1-2-2-2-9-3-39-3-23 0M859 4902l-11 4-4 5-2 3 0 4 1 5 4 4 3 2 16 3 12 0 11-1 11-4 4-4 2-3 0-3-1-5-2-2-6-4-9-3-11-1-18 0M1447 4691l-8 2-3 2-4 5-1 3-1 3 2 5 4 4 3 2 9 2 12 1 16 0 12-4 4-4 2-4 1-3-1-5-2-3-6-3-9-2-11-2-19 1M978 4866l-6 3-2 3-1 3 2 5 6 3 9 2 7 1 10-1 7-3 4-5 0-5-1-2-6-4-14-2-6 0-9 2M1330 4739l-6 4-2 2 0 4 2 3 2 2 8 3 12 2 13-2 6-4 2-2 1-3-2-5-6-4-4-1-12-1-14 2M1107 4824l-9 2-4 4-1 3 0 1 3 3 8 3 11 0 8-2 3-3 1-3-1-3-3-1-8-3-8-1M1222 4782l-8 3-2 2-2 3 1 3 6 4 7 1 11-1 7-3 2-2 0-4-3-3-9-2-10-1M513 4992l1-3 5-4 7-3 9-2 10-1 13 1 10 2 7 3 4 5 0 5-3 7-4 5-7 3-4 1-18 0M1741 4580l-1 3-4 5-3 1-8 3-10 1-16-1-11-2-8-2-5-4-1-6 2-5 4-5 6-4 8-2 17-1M709 4836l18 1 4 2 3 1 2 3 0 5-4 27 1 2 3 2 16 3 28 1 18 0 14-2 9-5 6-8 2-5 1-6-1-5-2-3-5-3-8-3-52-7-9-2-3-2-2-2 1-9M1297 4624l18 2 7 3 3 5-1 17 1 8 4 4 6 4 15 3 24 1 17 0 12-3 9-6 5-8 4-13 1-6-1-2-9-3-67-6-7-4-2-2 1-9M876 4800l-4 1-6 3-4 6-2 6 0 7 2 5 5 4 3 2 10 2 12 1 16 0 10-1 8-2 7-3 4-5 3-5 0-4-1-5-4-4-6-4-10-2-17-2-15-1-11 1M1228 4673l-8 3-4 5-2 6-1 6 2 6 3 4 11 5 10 2 14 1 12-1 9-1 8-3 6-4 3-4 2-5 1-6-2-5-2-2-7-3-10-2-18-2-17-1-10 1M996 4760l-4 2-6 3-3 6-1 3 0 6 2 5 5 3 3 2 10 2 12 1 12 0 10-1 11-4 4-5 3-4 0-6-2-5-9-5-9-2-16-2-12 0-10 1M1112 4718l-4 2-5 4-3 6-1 5 1 5 2 2 5 4 3 2 10 2 9 1 12 0 11-1 11-4 5-4 4-5 0-6-2-5-2-2-7-3-15-3-13-1-12 0-9 1M578 4883l16 2 4 2 5 3 2 5-1 8-3 5-6 4-8 2-11 0-13-1-10-2-8-3-5-3-2-5 0-3M1508 4548l15 3 7 3 4 5 1 5-1 5-4 5-7 4-9 1-12 0-15-1-9-2-7-3-2-3-1-5 0-3M456 4938l3 2 0 1-4 1-3 0-3-2 1-1 3-1 3 0M1620 4519l3 2 0 1-4 1-3 0-3-2 1-1 6-1M838 4789l11-2 7-4M1190 4662l11-1 4-2 3-3" stroke="#00cb6c"/>
<path transform="scale(.1)" stroke-width="8.5" d="M1323 5487l3-6 2-2 7-3 9-1 19 0 17 2 8 3 5 3 1 3 0 6M1451 5471l-15-3-4-1-5-4-3-7-2-20-3-4-3-2-13-4-29-2-25-1-15 2-3 1-6 4-12 18-7 7-11 4-16 1M1551 5435l-12 2-7 5M2374 5139l-12 2-3 1-4 4M2477 5029l-6 7-12 4-15 2-41 0-13 3-6 4-2 2-5 12-1 8 0 5 0 3 4 4 11 5 39 6 14 3 7 3 2 2 1 3 1 5M2512 5089l-17-2-6-3-4-5 0-8 5-9 5-3 9-3 17 0M1470 5388l-8 2-7 3-4 5-3 4-2 6 0 6 3 4 3 2 9 2 11 2 30 2 15-2 3-2 4-4 3-10 0-6-3-5-5-4-8-3-16-2-14-1-11 1M2289 5093l-10 4-5 5-2 5-1 4 1 5 4 5 4 1 7 3 16 3 16 1 12 0 5-1 8-2 5-8 3-8 0-5-1-6-5-4-8-2-18-2-16 0-15 2M1594 5351l-11 4-6 6 0 6 3 4 3 2 9 2 8 1 17 0 8-2 3-2 4-5 1-4-2-5-5-4-3-1-16-3-13 1M2186 5139l-12 3-6 3-2 3-1 3 1 4 1 2 5 4 15 4 18 0 8-3 6-4 1-2 1-3 0-4-3-5-3-1-13-4-16 0M1717 5313l-8 3-3 2-1 2 1 3 5 4 10 2 9 0 6-3 3-3 0-4-4-4-9-2-9 0M2068 5187l-7 2-3 4 1 3 5 4 10 2 7 0 8-3 3-4 0-3-4-4-9-2-11 1M1838 5275l-4 1-2 2 1 2 5 2 6 0 3-2 1-2-3-2-7-1M1954 5233l-4 2 0 3 4 2 7 0 3-1 2-3-3-3-4 0-5 0M1263 5374l-13 3-5 4-5 5-3 7-1 6 2 5 2 2 8 3 11 1 18 2 18 0 13-3 3-2 5-4 2-6 0-8-2-5-5-4-7-3-15-3-15 0-11 0M2323 4993l-9 2-7 3-5 4-3 3-1 6 0 6 4 4 6 4 8 2 13 3 26 1 9-2 4-1 5-4 3-6 3-8 0-5-2-5-2-2-8-3-11-2-16-1-17 1M1390 5339l-9 2-3 2-4 4-1 3 0 3 4 4 12 3 13 1 7-2 5-2 4-4 1-3-1-3-3-4-4-1-9-3-12 0M2214 5043l-9 2-3 1-5 4-1 4 1 2 4 4 12 4 12 0 11-2 4-3 2-3 1-3-2-4-6-4-10-2-11 0M1216 5422l-2-4-2-2-11-3M2399 4982l2 3 3 2 10 4M1175 5324l-11 4-5 5 0 6 3 5 3 2 13 3 15 1 14-3 5-4 2-2 1-4-1-4-3-4-3-2-8-2-8-1-17 0M2235 4943l-12 4-5 5 0 4 2 4 2 3 6 3 16 3 14-1 4-1 7-3 5-6 0-6-3-4-3-2-15-3-18 0M1091 5273l-8 2-3 2-1 3 0 3 6 4 8 2 11-1 7-3 2-3-1-4-3-3-8-2-10 0M2151 4892l-9 2-4 3-1 3 1 2 2 2 8 3 11 1 8-3 4-3 0-3-1-3-2-2-9-2-8 0M1001 5221l-4 2-1 3 3 2 8 0 4-1 1-1 0-3-4-2-7 0M2057 4841l-2 4 2 2 4 1 5-1 5-2-1-3-3-1-6-1-4 1M910 5166l-5 2 1 3 3 1 6 1 4-1 2-3-2-3-6-1-3 1M1969 4785l-4 1-1 1 0 3 5 2 6 0 4-2 1-3-3-2-8 0M817 5105l-8 3-4 3 0 3 1 3 2 2 9 2 8 0 9-2 3-2 2-2-1-4-6-4-9-2-6 0M1877 4724l-9 2-5 5 0 2 2 3 6 3 8 2 10-2 7-3 1-3 0-3-6-4-8-2-6 0M723 5044l-13 3-5 4-2 3-1 4 0 3 3 4 3 2 15 3 16 0 10-2 6-4 2-2 1-3 0-4-4-5-3-1-13-4-15-1M1783 4663l-14 3-5 4-2 2-1 4 1 4 3 4 3 2 14 3 15 0 12-3 4-2 4-4 0-6-3-5-3-2-13-3-15-1M621 4982l-9 2-4 1-5 4-3 6-3 8 0 5 2 5 5 4 10 2 16 1 18 0 10-1 11-4 5-4 4-5 0-4 0-6-4-4-6-4-8-2-13-3-26-1M1676 4602l-8 2-3 2-5 4-2 8 0 6 2 5 5 4 7 3 10 2 14 1 12 0 10-1 8-2 5-4 5-5 3-7 1-6-1-3-1-2-6-3-10-3-16-1-19-1-11 1M742 4950l-6 4-3 5 2 5 6 4 10 2 16-1 7-2 5-5 1-3-1-2-1-2-6-4-16-3-14 2M1565 4654l-6 4-1 2-1 3 2 5 2 2 8 3 11 1 11-1 4-1 6-4 2-5-1-5-5-3-6-2-12-1-14 2M577 5031l-2-3-3-2-10-4M1760 4591l2 4 2 2 11 3M499 4984l6-7 12-4 15-2 41 0 13-3 6-4 2-2 3-6 2-8 1-11 0-3-4-4-11-5-39-6-14-3-7-3-2-2-1-3-1-5M1525 4542l15 3 4 1 5 4 3 7 2 20 3 4 3 2 13 4 25 2 29 1 15-2 3-1 6-4 12-18 7-7 11-4 16-1M640 4885l-4 1-6 3-3 6-3 8 0 5 1 6 5 4 3 1 10 2 13 1 16 0 10-1 9-2 6-3 5-5 2-3 1-6-1-5-4-5-7-3-9-2-17-2-17-1-10 1M1464 4588l-8 3-2 2-4 5-1 8 0 5 3 5 5 4 8 3 10 2 15 1 11 0 9-2 8-3 5-4 4-4 2-5 1-6-1-5-2-2-7-3-10-2-19-2-17-1-10 1M771 4848l-4 1-7 3-5 6 0 3 1 5 5 4 3 2 14 2 16 0 12-5 4-5 1-3-1-3-3-4-3-2-15-4-18 0M1364 4636l-13 3-6 4-1 4 0 5 1 3 5 4 13 3 15 1 12-3 6-4 3-4 0-6-3-4-3-2-14-3-15-1M890 4812l-5 4-1 3 1 4 7 3 5 1 11-1 7-2 3-4-1-3-2-2-7-3-8-1-10 1M1246 4684l-7 3-2 4 0 3 1 2 7 3 9 1 10-1 4-3 3-3-1-3-5-4-10-2-9 0M1012 4774l-2 3 3 3 4 0 5 0 4-2 0-3-4-2-6 0-4 1M1132 4731l-3 2-1 2 3 2 7 1 4-1 2-2-1-2-3-2-8 0M464 4924l17 2 6 3 4 5 0 8-5 9-5 3-9 3-17 0M1653 4526l-3 6-2 2-7 3-9 1-19 0-17-2-8-3-5-3-1-3 0-6M602 4874l12-2 3-1 4-4M1425 4578l12-2 7-5" stroke="#c3c808"/>
<path transform="scale(.1)" stroke-width="8.5" d="M1357 5432l-12 3-6 3-4 5-3 6 0 6 4 4 3 2 8 2 12 2 24 1 14-3 3-2 4-4 2-7-1-5-2-5-5-3-8-3-10-2-12-1-11 1M2412 5051l-8 3-6 3-4 4-1 4-1 3 2 5 4 4 6 3 21 4 12 1 11-1 4-1 7-3 5-8 2-6 0-5-3-5-3-2-8-2-12-2-15 0-13 1M1480 5398l-7 3-3 4 0 3 5 4 10 2 9-1 7-2 3-4 0-3-1-2-7-3-5-1-11 0M2304 5102l-7 2-3 2-1 3 1 2 5 4 10 2 9 0 7-3 3-3 0-3-5-4-9-3-10 1M1274 5384l-9 3-3 3-1 3 1 2 2 2 9 3 9 0 9-2 3-2 1-2 1-2-1-3-6-3-10-2-5 0M2333 5003l-8 2-5 4 0 4 3 3 8 3 11 0 8-2 3-3 1-3-1-3-2-2-8-2-10-1M634 4994l-8 2-3 2-1 3 1 4 5 3 9 2 10-1 7-3 2-2 0-3-1-2-6-4-9-1-6 0M1694 4613l-9 2-4 3 0 5 3 3 8 3 10 0 9-3 3-3 1-3-1-2-2-2-9-3-9 0M524 4930l-4 1-5 4-3 6-2 6 0 5 1 3 5 4 4 1 10 2 12 1 22-1 8-3 6-3 4-4 1-4 1-3-2-5-4-4-6-3-13-3-14-2-12 0-9 2M1583 4549l-4 1-5 4-3 5-1 6 2 5 3 5 11 4 10 2 12 1 11-1 9-1 9-5 4-5 3-6 0-6-1-2-3-2-7-3-10-2-18-2-12 0-10 2M658 4896l-7 3-3 3 0 3 2 3 7 3 5 1 10-1 7-2 3-2 1-3-1-2-5-4-10-2-9 0M1478 4601l-6 4-1 3 2 3 7 3 5 1 11 0 7-3 3-4 0-3-2-2-7-3-10-1-9 2" stroke="#ffbe0c"/>
<path transform="scale(.1)" stroke-width="8.5" d="M1366 5444l-5 3 1 3 3 1 7 1 4-1 2-3 0-1-3-2-4-1-5 0M2425 5063l-4 1-2 2 1 3 7 2 5 0 4-2 0-3-2-2-9-1M544 4942l-4 2-1 3 3 2 9 1 4-1 2-2-1-3-3-1-9-1M1604 4561l-4 1-2 3 0 1 3 2 4 1 5 0 5-3-1-3-3-1-7-1" stroke="#feec00"/>
</g>
<linearGradient id="gb" gradientUnits="userSpaceOnUse" x1="1354" y1="5506" x2="958.8" y2="4407.4"><stop offset="0" stop-color="#482cde"/><stop offset="0.05" stop-color="#4432ee"/><stop offset="0.1" stop-color="#383cf8"/><stop offset="0.17" stop-color="#1e56ff"/><stop offset="0.234" stop-color="#0867ff"/><stop offset="0.275" stop-color="#0070ff"/><stop offset="0.305" stop-color="#0078ff"/><stop offset="0.338" stop-color="#0087f5"/><stop offset="0.365" stop-color="#0096eb"/><stop offset="0.4" stop-color="#00a5e1"/><stop offset="0.44" stop-color="#00acd7"/><stop offset="0.485" stop-color="#00b6c1"/><stop offset="0.52" stop-color="#00c0aa"/><stop offset="0.56" stop-color="#00c891"/><stop offset="0.6" stop-color="#00cb78"/><stop offset="0.64" stop-color="#00cc5f"/><stop offset="0.668" stop-color="#0fcc50"/><stop offset="0.685" stop-color="#5acd3c"/><stop offset="0.705" stop-color="#aac81e"/><stop offset="0.74" stop-color="#bec80a"/><stop offset="0.76" stop-color="#dcc800"/><stop offset="0.79" stop-color="#f0c300"/><stop offset="0.84" stop-color="#ffb414"/><stop offset="0.91" stop-color="#ffcd00"/><stop offset="0.94" stop-color="#fae100"/><stop offset="1" stop-color="#ffee00"/></linearGradient>
<g transform="scale(.1)" fill="url(#gb)" >
<path transform="translate(-925.8 -565.4)" d="M1350 4614l11 50 11-1 10-47 11-76 11-75 11-46 11 1 11 50 11 87 11 96 11 78 10 34 11-16 11-60 11-81 11-73 11-39 11 12 11 58 11 89 10 92 11 65 11 19 11-32 11-71 11-85 11-69 11-29 11 21 10 66 11 90 11 84 11 52 11 3 11-47 11-80 11-86 11-64 11-19 10 31 11 72 11 88 11 75 11 37 11-13 11-60 11-88 11-86 10-56 11-9 11 40 11 76 11 85 11 64 11 22 11-29 11-73 10-93 11-83 11-49 11 2 11 48 11 78 11 80 11 52 11 6 10-45 11-83 11-96 11-80 11-39 11 12 11 56 11 78 11 72 10 39 11-10 11-60 11-92 11-98 11-73 11-30 11 22 11 61 11 77 10 63 11 24 11-27 11-73 11-99 11-97 11-66 11-19 11 30 10 65 11 73 11 53 11 8 11-42 11-85 11-105 11-94 11-58 10-9 11 39 11 67 11 67 11 40 11-7 11-58 8 59-11 58-11 7-10-39-11-68-11-67-11-39-11 9-11 58-11 95-11 104-11 85-10 43-11-9-11-52-11-74-11-65-11-30-11 19-11 67-11 96-10 100-11 73-11 26-11-24-11-63-11-77-11-61-11-22-11 30-11 74-10 97-11 92-11 60-11 10-11-39-11-72-11-78-11-56-11-12-10 40-11 79-11 96-11 83-11 45-11-5-11-53-11-79-11-78-10-49-11-1-11 48-11 84-11 92-11 73-11 29-11-21-11-65-10-85-11-76-11-40-11 9-11 56-11 86-11 88-11 60-11 14-10-38-11-75-11-88-11-72-11-31-11 19-11 64-11 86-11 80-10 47-11-3-11-52-11-84-11-89-11-66-11-22-11 29-11 69-11 85-10 71-11 32-11-19-11-65-11-91-11-89-11-59-11-11-11 38-10 73-11 81-11 60-11 16-11-34-11-77-11-97-11-86-11-51-10-1-11 47-11 75-11 75-11 48-11 0-11-50z"/>
<path transform="translate(-925.8 -565.4)" d="M1350 4614l11 50 11-1 10-47 11-76 11-75 11-46 11 1 11 50 11 87 11 96 11 78 10 34 11-16 11-60 11-81 11-73 11-39 11 12 11 58 11 89 10 92 11 65 11 19 11-32 11-71 11-85 11-69 11-29 11 21 10 66 11 90 11 84 11 52 11 3 11-47 11-80 11-86 11-64 11-19 10 31 11 72 11 88 11 75 11 37 11-13 11-60 11-88 11-86 10-56 11-9 11 40 11 76 11 85 11 64 11 22 11-29 11-73 10-93 11-83 11-49 11 2 11 48 11 78 11 80 11 52 11 6 10-45 11-83 11-96 11-80 11-39 11 12 11 56 11 78 11 72 10 39 11-10 11-60 11-92 11-98 11-73 11-30 11 22 11 61 11 77 10 63 11 24 11-27 11-73 11-99 11-97 11-66 11-19 11 30 10 65 11 73 11 53 11 8 11-42 11-85 11-105 11-94 11-58 10-9 11 39 11 67 11 67 11 40 11-7 11-58 17 68-11 58-11 7-11-40-11-68-11-67-11-38-11 8-10 59-11 94-11 104-11 85-11 43-11-9-11-52-11-73-11-65-10-31-11 19-11 67-11 97-11 99-11 73-11 27-11-25-11-63-10-76-11-62-11-21-11 29-11 74-11 98-11 92-11 59-11 11-11-39-10-72-11-79-11-56-11-11-11 39-11 80-11 96-11 83-11 45-10-6-11-52-11-80-11-78-11-49-11-1-11 48-11 84-11 93-10 72-11 30-11-22-11-65-11-84-11-76-11-41-11 9-11 57-10 86-11 87-11 60-11 14-11-37-11-75-11-89-11-71-11-32-10 20-11 63-11 87-11 80-11 46-11-2-11-52-11-84-11-90-10-66-11-21-11 29-11 69-11 85-11 70-11 32-11-18-11-65-11-92-10-89-11-59-11-11-11 38-11 73-11 81-11 60-11 17-11-35-10-77-11-96-11-87-11-51-11 0-11 46-11 75-11 76-11 47-10 1-11-50z"/>
<path transform="translate(-917.3 -560.3)" d="M1350 4668l11 50 11-1 10-47 11-76 11-75 11-46 11 1 11 50 11 87 11 96 11 78 10 34 11-16 11-60 11-81 11-73 11-39 11 12 11 58 11 89 10 92 11 65 11 19 11-32 11-71 11-85 11-69 11-29 11 21 10 66 11 90 11 84 11 52 11 3 11-47 11-80 11-86 11-64 11-19 10 31 11 72 11 88 11 75 11 37 11-13 11-60 11-88 11-86 10-56 11-9 11 40 11 76 11 85 11 64 11 22 11-29 11-73 10-93 11-83 11-49 11 2 11 48 11 78 11 80 11 52 11 6 10-45 11-83 11-96 11-80 11-39 11 12 11 56 11 78 11 72 10 39 11-10 11-60 11-92 11-98 11-73 11-30 11 22 11 61 11 77 10 63 11 24 11-27 11-73 11-99 11-97 11-66 11-19 11 30 10 65 11 73 11 53 11 8 11-42 11-85 11-105 11-94 11-58 10-9 11 39 11 67 11 67 11 40 11-7 11-58 17-30-11 58-11 7-11-40-11-67-11-67-11-39-11 9-10 58-11 94-11 105-11 85-11 42-11-8-11-53-11-73-11-65-10-30-11 19-11 66-11 97-11 99-11 73-11 27-11-24-11-63-10-77-11-61-11-22-11 30-11 73-11 98-11 92-11 60-11 10-11-39-10-72-11-79-11-55-11-12-11 39-11 80-11 96-11 83-11 45-10-6-11-52-11-80-11-78-11-48-11-2-11 49-11 83-11 93-10 73-11 29-11-22-11-64-11-85-11-76-11-40-11 9-11 56-10 86-11 88-11 60-11 13-11-37-11-75-11-88-11-72-11-31-10 19-11 64-11 86-11 80-11 47-11-3-11-52-11-84-11-90-10-66-11-21-11 29-11 69-11 85-11 71-11 32-11-19-11-65-11-92-10-89-11-58-11-12-11 39-11 73-11 81-11 60-11 16-11-34-10-78-11-96-11-87-11-50-11-1-11 46-11 75-11 76-11 47-10 1-11-50z"/>
<path transform="translate(-908.9 -555.1)" d="M1350 4671l11 50 11 0 10-48 11-75 11-75 11-47 11 1 11 51 11 86 11 97 11 77 10 35 11-17 11-60 11-81 11-73 11-38 11 11 11 59 11 89 10 91 11 65 11 19 11-32 11-71 11-84 11-70 11-29 11 22 10 66 11 89 11 85 11 51 11 3 11-47 11-80 11-86 11-64 11-19 10 31 11 72 11 88 11 76 11 37 11-14 11-60 11-87 11-86 10-57 11-9 11 40 11 76 11 85 11 65 11 22 11-30 11-73 10-92 11-84 11-48 11 1 11 49 11 78 11 79 11 53 11 6 10-45 11-84 11-96 11-79 11-39 11 11 11 56 11 78 11 72 10 39 11-10 11-60 11-92 11-97 11-74 11-29 11 21 11 61 11 77 10 63 11 24 11-26 11-73 11-99 11-97 11-67 11-19 11 30 10 66 11 73 11 52 11 9 11-43 11-85 11-104 11-95 11-58 10-9 11 39 11 67 11 68 11 40 11-8 11-58 17-105-11 58-11 8-11-40-11-68-11-67-11-38-11 8-10 59-11 94-11 104-11 85-11 43-11-9-11-52-11-73-11-65-10-31-11 19-11 67-11 97-11 99-11 73-11 26-11-24-11-63-10-77-11-61-11-21-11 29-11 74-11 97-11 92-11 60-11 10-11-38-10-73-11-78-11-56-11-11-11 39-11 79-11 97-11 83-11 45-10-6-11-53-11-79-11-78-11-49-11-1-11 48-11 84-11 93-10 72-11 30-11-22-11-65-11-85-11-75-11-41-11 9-11 57-10 86-11 87-11 60-11 14-11-37-11-76-11-88-11-72-11-31-10 19-11 64-11 86-11 80-11 47-11-3-11-51-11-85-11-89-10-66-11-22-11 30-11 69-11 84-11 71-11 32-11-19-11-65-11-91-10-89-11-59-11-11-11 38-11 73-11 81-11 60-11 17-11-35-10-77-11-97-11-86-11-51-11 0-11 46-11 75-11 75-11 48-10 1-11-51z"/>
<path transform="translate(-900.4 -549.9)" d="M1350 4628l11 50 11-1 10-47 11-76 11-75 11-46 11 0 11 51 11 87 11 96 11 77 10 35 11-17 11-60 11-81 11-73 11-38 11 11 11 59 11 89 10 92 11 65 11 18 11-32 11-70 11-85 11-69 11-29 11 21 10 66 11 90 11 84 11 52 11 2 11-46 11-80 11-87 11-63 11-20 10 32 11 71 11 89 11 75 11 37 11-14 11-60 11-87 11-86 10-57 11-9 11 41 11 76 11 84 11 65 11 22 11-30 11-72 10-93 11-84 11-48 11 1 11 49 11 78 11 80 11 52 11 6 10-45 11-83 11-96 11-80 11-39 11 11 11 56 11 79 11 72 10 39 11-11 11-59 11-92 11-98 11-74 11-29 11 21 11 62 11 76 10 63 11 25 11-27 11-73 11-99 11-97 11-67 11-19 11 31 10 65 11 73 11 52 11 9 11-43 11-85 11-104 11-94 11-59 10-8 11 38 11 67 11 68 11 40 11-7 11-58 17-133-11 58-11 8-11-40-11-68-11-67-11-38-11 8-10 58-11 95-11 104-11 85-11 43-11-9-11-52-11-73-11-65-10-31-11 19-11 67-11 97-11 99-11 73-11 26-11-24-11-63-10-77-11-61-11-21-11 29-11 74-11 97-11 92-11 60-11 10-10-38-11-73-11-78-11-56-11-11-11 39-11 79-11 96-11 84-11 45-10-6-11-53-11-79-11-78-11-49-11-1-11 48-11 84-11 93-10 72-11 30-11-22-11-65-11-85-11-75-11-41-11 9-11 57-10 86-11 87-11 60-11 14-11-37-11-76-11-88-11-72-11-31-10 19-11 64-11 86-11 80-11 47-11-3-11-51-11-85-11-89-10-66-11-22-11 30-11 69-11 84-11 71-11 32-11-19-11-65-10-91-11-89-11-59-11-11-11 38-11 73-11 81-11 60-11 17-11-35-10-77-11-97-11-86-11-51-11 0-11 46-11 75-11 75-11 48-10 0-11-50z"/>
<path transform="translate(-892 -544.8)" d="M1350 4556l11 50 11 0 10-48 11-75 11-75 11-47 11 1 11 51 11 86 11 97 11 77 10 34 11-16 11-60 11-81 11-73 11-38 11 11 11 59 11 89 10 91 11 65 11 19 11-32 11-71 11-85 11-69 11-29 11 21 10 67 11 89 11 84 11 52 11 3 11-47 11-80 11-86 11-64 11-19 10 31 11 72 11 88 11 75 11 38 11-14 11-60 11-88 11-86 10-56 11-9 11 40 11 76 11 85 11 65 11 21 11-29 11-73 10-92 11-84 11-48 11 1 11 49 11 78 11 79 11 53 11 5 10-45 11-83 11-96 11-79 11-40 11 12 11 56 11 78 11 72 10 39 11-10 11-60 11-92 11-97 11-74 11-30 11 22 11 61 11 77 10 63 11 24 11-27 11-72 11-100 11-97 11-66 11-19 11 30 10 65 11 74 11 52 11 8 11-42 11-85 11-104 11-95 11-58 10-9 11 39 11 67 11 68 11 39 11-7 11-58 17-103-11 58-11 7-11-40-11-67-11-67-11-39-11 9-10 58-11 94-11 105-11 85-11 42-11-8-11-53-11-73-11-65-10-30-11 19-11 66-11 97-11 99-11 73-11 27-11-24-11-63-10-77-11-61-11-22-11 30-11 73-11 98-11 92-11 60-11 10-11-39-10-72-11-79-11-55-11-12-11 39-11 80-11 96-11 83-11 45-10-6-11-52-11-80-11-78-11-48-11-2-11 49-11 83-11 93-10 73-11 29-11-22-11-64-11-85-11-76-11-40-11 9-11 56-10 86-11 87-11 61-11 13-11-37-11-75-11-88-11-72-11-31-10 19-11 64-11 86-11 80-11 47-11-3-11-52-11-84-11-90-10-66-11-21-11 29-11 69-11 85-11 71-11 32-11-19-11-65-10-92-11-89-11-58-11-12-11 39-11 73-11 81-11 60-11 16-11-35-10-77-11-96-11-87-11-50-11-1-11 46-11 75-11 76-11 47-10 1-11-50z"/>
<path transform="translate(-883.5 -539.6)" d="M1350 4485l11 50 11 0 10-48 11-75 11-75 11-47 11 1 11 50 11 87 11 96 11 78 10 34 11-16 11-60 11-81 11-73 11-38 11 11 11 59 11 89 10 91 11 65 11 19 11-32 11-71 11-85 11-69 11-29 11 21 10 66 11 90 11 84 11 52 11 3 11-47 11-80 11-86 11-64 11-19 10 31 11 72 11 88 11 75 11 38 11-14 11-60 11-88 11-86 10-56 11-9 11 40 11 76 11 85 11 65 11 21 11-29 11-73 10-93 11-83 11-49 11 2 11 48 11 79 11 79 11 53 11 5 10-45 11-83 11-96 11-80 11-39 11 12 11 56 11 78 11 72 10 39 11-10 11-60 11-92 11-97 11-74 11-30 11 22 11 61 11 77 10 63 11 24 11-27 11-73 11-99 11-97 11-66 11-19 11 30 10 65 11 74 11 52 11 8 11-42 11-85 11-105 11-94 11-58 10-9 11 39 11 67 11 67 11 40 11-7 11-58 17-27-11 57-11 8-11-40-11-68-11-67-11-38-11 8-10 59-11 94-11 104-11 85-11 43-11-9-11-52-11-73-11-65-10-31-11 19-11 67-11 97-11 99-11 73-11 27-11-25-11-63-10-76-11-62-11-21-11 29-11 74-11 98-11 92-11 59-11 11-10-39-11-72-11-79-11-56-11-11-11 39-11 80-11 96-11 83-11 45-10-6-11-52-11-80-11-78-11-49-11-1-11 48-11 84-11 93-10 72-11 30-11-22-11-65-11-85-11-75-11-41-11 9-11 57-10 86-11 87-11 60-11 14-11-37-11-75-11-89-11-71-11-32-10 20-11 63-11 86-11 80-11 47-11-2-11-52-11-84-11-90-10-66-11-21-11 29-11 69-11 84-11 71-11 32-11-18-11-66-10-91-11-89-11-59-11-11-11 38-11 73-11 81-11 60-11 17-11-35-10-77-11-97-11-86-11-51-11 0-11 46-11 75-11 75-11 48-10 1-11-50z"/>
<path transform="translate(-875 -534.4)" d="M1350 4443l11 50 11-1 10-47 11-76 11-75 11-46 11 0 11 51 11 87 11 96 11 77 10 35 11-17 11-60 11-81 11-73 11-38 11 11 11 59 11 89 10 91 11 66 11 18 11-32 11-71 11-84 11-69 11-29 11 21 10 66 11 90 11 84 11 52 11 2 11-46 11-81 11-86 11-63 11-20 10 32 11 71 11 89 11 75 11 37 11-14 11-60 11-87 11-86 10-57 11-9 11 41 11 76 11 84 11 65 11 22 11-30 11-72 10-93 11-84 11-48 11 1 11 49 11 78 11 80 11 52 11 6 10-45 11-83 11-96 11-80 11-39 11 11 11 56 11 79 11 72 10 39 11-11 11-59 11-92 11-98 11-74 11-29 11 21 11 62 11 76 10 63 11 25 11-27 11-73 11-99 11-97 11-67 11-19 11 31 10 65 11 73 11 52 11 9 11-43 11-85 11-104 11-94 11-59 10-8 11 38 11 67 11 68 11 40 11-7 11-58 17 69-11 58-11 7-11-40-11-67-11-67-11-39-11 9-10 58-11 94-11 105-11 85-11 42-11-8-11-53-11-73-11-65-10-30-11 19-11 66-11 97-11 99-11 73-11 27-11-24-11-63-10-77-11-61-11-22-11 30-11 74-11 97-11 92-11 60-11 10-11-39-10-72-11-78-11-56-11-12-11 39-11 80-11 96-11 83-11 45-10-5-11-53-11-79-11-79-11-48-11-2-11 49-11 83-11 93-10 73-11 29-11-22-11-64-11-85-11-76-11-40-11 9-11 56-10 86-11 88-11 60-11 14-11-38-11-75-11-88-11-72-11-31-10 19-11 64-11 86-11 80-11 47-11-3-11-52-11-84-11-90-10-66-11-21-11 29-11 69-11 85-11 71-11 32-11-19-11-65-11-91-10-89-11-59-11-11-11 38-11 73-11 81-11 60-11 16-11-34-10-78-11-96-11-87-11-50-11-1-11 47-11 75-11 75-11 48-10 0-11-50z"/>
<path transform="translate(-866.6 -529.3)" d="M1350 4447l11 50 11 0 10-48 11-75 11-75 11-47 11 1 11 51 11 86 11 97 11 77 10 35 11-17 11-60 11-81 11-73 11-38 11 11 11 59 11 89 10 91 11 65 11 19 11-32 11-71 11-85 11-69 11-29 11 22 10 66 11 89 11 85 11 51 11 3 11-47 11-80 11-86 11-64 11-19 10 31 11 72 11 88 11 76 11 37 11-14 11-60 11-88 11-85 10-57 11-9 11 40 11 76 11 85 11 65 11 21 11-29 11-73 10-92 11-84 11-48 11 1 11 49 11 78 11 79 11 53 11 5 10-45 11-83 11-96 11-79 11-39 11 11 11 56 11 78 11 72 10 39 11-10 11-60 11-92 11-97 11-74 11-29 11 21 11 61 11 77 10 63 11 24 11-26 11-73 11-100 11-96 11-67 11-19 11 30 10 65 11 74 11 52 11 9 11-43 11-85 11-104 11-95 11-58 10-9 11 39 11 67 11 68 11 39 11-7 11-58 17 155-11 58-11 8-11-40-11-68-11-67-11-38-11 8-10 59-11 94-11 104-11 85-11 43-11-9-11-52-11-73-11-65-10-31-11 19-11 67-11 97-11 99-11 73-11 27-11-25-11-63-10-77-11-61-11-21-11 29-11 74-11 97-11 93-11 59-11 11-11-39-10-73-11-78-11-56-11-11-11 39-11 79-11 97-11 83-11 45-10-6-11-53-11-79-11-78-11-49-11-1-11 48-11 84-11 93-10 72-11 30-11-22-11-65-11-85-11-75-11-41-11 9-11 57-10 86-11 87-11 60-11 14-11-37-11-76-11-88-11-72-11-31-10 20-11 63-11 86-11 80-11 47-11-3-11-51-11-85-11-89-10-66-11-22-11 30-11 69-11 84-11 71-11 32-11-19-11-65-11-91-10-89-11-59-11-11-11 38-11 73-11 81-11 60-11 17-11-35-10-77-11-97-11-86-11-51-11 0-11 46-11 75-11 75-11 48-10 1-11-51z"/>
<path transform="translate(-858.1 -524.1)" d="M1350 4502l11 50 11-1 10-47 11-76 11-75 11-46 11 1 11 50 11 87 11 96 11 77 10 35 11-17 11-60 11-81 11-73 11-38 11 11 11 59 11 89 10 92 11 65 11 19 11-33 11-70 11-85 11-69 11-29 11 21 10 66 11 90 11 84 11 52 11 2 11-46 11-80 11-87 11-63 11-20 10 32 11 71 11 89 11 75 11 37 11-13 11-61 11-87 11-86 10-57 11-9 11 41 11 76 11 85 11 64 11 22 11-30 11-72 10-93 11-84 11-48 11 1 11 49 11 78 11 80 11 52 11 6 10-45 11-83 11-96 11-80 11-39 11 12 11 55 11 79 11 72 10 39 11-11 11-59 11-92 11-98 11-74 11-29 11 21 11 62 11 77 10 63 11 24 11-27 11-73 11-99 11-97 11-67 11-19 11 31 10 65 11 73 11 52 11 9 11-43 11-85 11-104 11-94 11-59 10-8 11 38 11 68 11 67 11 40 11-7 11-58 17 201-11 58-11 7-11-40-11-67-11-67-11-39-11 9-10 58-11 94-11 105-11 85-11 42-11-9-11-52-11-73-11-65-10-30-11 19-11 66-11 97-11 99-11 73-11 27-11-24-11-63-10-77-11-61-11-22-11 30-11 73-11 98-11 92-11 59-11 11-11-39-10-72-11-79-11-55-11-12-11 39-11 80-11 96-11 83-11 45-10-6-11-52-11-80-11-78-11-48-11-2-11 49-11 83-11 93-10 72-11 30-11-22-11-64-11-85-11-76-11-41-11 10-11 56-10 86-11 87-11 61-11 13-11-37-11-75-11-88-11-72-11-31-10 19-11 63-11 87-11 80-11 46-11-2-11-52-11-84-11-90-10-66-11-21-11 29-11 69-11 85-11 71-11 32-11-19-11-65-10-92-11-89-11-59-11-11-11 39-11 73-11 81-11 60-11 16-11-35-10-77-11-96-11-87-11-50-11-1-11 46-11 75-11 76-11 47-10 1-11-50z"/>
<path transform="translate(-849.7 -518.9)" d="M1350 4592l11 50 11 0 10-48 11-75 11-75 11-47 11 1 11 51 11 86 11 97 11 77 10 34 11-16 11-60 11-81 11-73 11-38 11 11 11 59 11 89 10 91 11 65 11 19 11-32 11-71 11-85 11-69 11-29 11 22 10 66 11 89 11 84 11 52 11 3 11-47 11-80 11-86 11-64 11-19 10 31 11 72 11 88 11 75 11 38 11-14 11-60 11-88 11-86 10-56 11-9 11 40 11 76 11 85 11 65 11 21 11-29 11-73 10-92 11-84 11-48 11 1 11 49 11 78 11 79 11 53 11 5 10-45 11-83 11-96 11-79 11-40 11 12 11 56 11 78 11 72 10 39 11-10 11-60 11-92 11-97 11-74 11-30 11 22 11 61 11 77 10 63 11 24 11-27 11-72 11-100 11-96 11-67 11-19 11 30 10 65 11 74 11 52 11 8 11-42 11-85 11-104 11-95 11-58 10-9 11 39 11 67 11 68 11 39 11-7 11-58 17 192-11 58-11 7-11-40-11-67-11-67-11-39-11 9-10 58-11 94-11 105-11 85-11 42-11-8-11-53-11-73-11-65-10-30-11 19-11 66-11 97-11 99-11 73-11 27-11-24-11-63-10-77-11-61-11-22-11 30-11 73-11 98-11 92-11 60-11 10-11-39-10-72-11-79-11-55-11-12-11 39-11 80-11 96-11 83-11 45-10-6-11-52-11-80-11-78-11-48-11-2-11 49-11 83-11 93-10 73-11 29-11-22-11-64-11-85-11-76-11-40-11 9-11 56-10 86-11 87-11 61-11 13-11-37-11-75-11-88-11-72-11-31-10 19-11 64-11 86-11 80-11 47-11-3-11-52-11-84-11-90-10-66-11-21-11 29-11 69-11 85-11 71-11 32-11-19-11-65-11-92-10-89-11-58-11-12-11 39-11 73-11 81-11 60-11 16-11-35-10-77-11-96-11-87-11-50-11-1-11 46-11 75-11 76-11 47-10 1-11-50z"/>
<path transform="translate(-841.2 -513.8)" d="M1350 4693l11 50 11-1 10-48 11-75 11-75 11-46 11 0 11 51 11 86 11 97 11 77 10 35 11-17 11-60 11-81 11-73 11-38 11 11 11 59 11 89 10 91 11 66 11 18 11-32 11-71 11-84 11-69 11-30 11 22 10 66 11 90 11 84 11 52 11 2 11-47 11-80 11-86 11-63 11-20 10 32 11 71 11 89 11 75 11 37 11-14 11-60 11-87 11-86 10-57 11-9 11 41 11 75 11 85 11 65 11 22 11-30 11-72 10-93 11-84 11-48 11 1 11 49 11 78 11 80 11 52 11 6 10-45 11-83 11-96 11-80 11-39 11 11 11 56 11 79 11 72 10 39 11-11 11-59 11-93 11-97 11-74 11-29 11 21 11 61 11 77 10 63 11 25 11-27 11-73 11-99 11-97 11-67 11-19 11 31 10 65 11 73 11 52 11 9 11-43 11-85 11-104 11-94 11-59 10-8 11 38 11 67 11 68 11 40 11-8 11-57 17 130-11 58-11 7-11-40-11-68-11-67-11-38-11 8-10 59-11 94-11 104-11 85-11 43-11-9-11-52-11-73-11-65-10-31-11 19-11 67-11 97-11 99-11 73-11 27-11-25-11-63-10-76-11-62-11-21-11 29-11 74-11 98-11 92-11 59-11 11-11-39-10-72-11-79-11-56-11-11-11 39-11 80-11 96-11 83-11 45-10-6-11-52-11-80-11-78-11-49-11-1-11 48-11 84-11 93-10 72-11 30-11-22-11-65-11-84-11-76-11-41-11 9-11 57-10 86-11 87-11 60-11 14-11-37-11-75-11-89-11-71-11-32-10 20-11 63-11 87-11 80-11 46-11-2-11-52-11-84-11-90-10-66-11-21-11 29-11 69-11 85-11 70-11 32-11-18-11-66-10-91-11-89-11-59-11-11-11 38-11 73-11 81-11 60-11 17-11-35-10-77-11-96-11-87-11-51-11 0-11 46-11 75-11 76-11 47-10 1-11-50z"/>
<path transform="translate(-832.8 -508.6)" d="M1350 4774l11 50 11-1 10-47 11-76 11-75 11-46 11 0 11 51 11 87 11 96 11 77 10 35 11-17 11-60 11-81 11-73 11-38 11 11 11 59 11 89 10 91 11 66 11 18 11-32 11-71 11-84 11-69 11-29 11 21 10 66 11 90 11 84 11 52 11 2 11-46 11-81 11-86 11-63 11-20 10 32 11 71 11 89 11 75 11 37 11-14 11-60 11-87 11-86 10-57 11-9 11 41 11 76 11 84 11 65 11 22 11-30 11-72 10-93 11-84 11-48 11 1 11 49 11 78 11 80 11 52 11 6 10-45 11-83 11-96 11-80 11-39 11 11 11 56 11 79 11 72 10 39 11-11 11-59 11-92 11-98 11-74 11-29 11 21 11 62 10 76 11 63 11 25 11-27 11-73 11-99 11-97 11-67 11-19 11 31 10 65 11 73 11 52 11 9 11-43 11-85 11-104 11-94 11-59 10-8 11 38 11 67 11 68 11 40 11-7 11-58 17 36-11 58-11 7-11-40-11-67-11-67-11-39-11 9-10 58-11 94-11 105-11 85-11 42-11-8-11-53-11-73-11-65-10-30-11 19-11 66-11 97-11 99-11 73-11 27-11-24-11-63-10-77-11-61-11-22-11 30-11 73-11 98-11 92-11 60-11 10-11-39-10-72-11-79-11-55-11-12-11 39-11 80-11 96-11 83-11 45-10-6-11-52-11-80-11-78-11-48-11-2-11 49-11 83-11 93-10 73-11 29-11-22-11-64-11-85-11-76-11-40-11 9-11 56-10 86-11 88-11 60-11 13-11-37-11-75-11-88-11-72-11-31-10 19-11 64-11 86-11 80-11 47-11-3-11-52-11-84-11-90-10-66-11-21-11 29-11 69-11 85-11 71-11 32-11-19-11-65-11-92-10-89-11-58-11-12-11 39-11 73-11 81-11 60-11 16-11-34-10-78-11-96-11-87-11-50-11-1-11 46-11 75-11 76-11 47-10 1-11-50z"/>
<path transform="translate(-824.3 -503.5)" d="M1350 4812l11 50 11 0 10-48 11-75 11-75 11-47 11 1 11 51 11 86 11 97 11 77 10 35 11-17 11-60 11-81 11-73 11-38 11 11 11 59 11 89 10 91 11 65 11 19 11-32 11-71 11-84 11-70 11-29 11 22 10 66 11 89 11 85 11 51 11 3 11-47 11-80 11-86 11-64 11-19 10 31 11 72 11 88 11 76 11 37 11-14 11-60 11-87 11-86 10-57 11-9 11 40 11 76 11 85 11 65 11 22 11-30 11-73 10-92 11-84 11-48 11 1 11 49 11 78 11 79 11 53 11 6 10-45 11-84 11-96 11-79 11-39 11 11 11 56 11 78 11 72 10 39 11-10 11-60 11-92 11-97 11-74 11-29 11 21 11 61 11 77 10 63 11 24 11-26 11-73 11-99 11-97 11-67 11-19 11 30 10 66 11 73 11 52 11 9 11-43 11-85 11-104 11-95 11-58 10-9 11 39 11 67 11 68 11 40 11-8 11-58 17-58-11 58-11 7-11-40-11-67-11-67-11-39-11 9-10 58-11 94-11 105-11 85-11 42-11-9-11-52-11-73-11-65-10-30-11 19-11 66-11 97-11 99-11 73-11 27-11-24-11-63-10-77-11-61-11-22-11 30-11 73-11 98-11 92-11 59-11 11-11-39-10-72-11-79-11-55-11-12-11 39-11 80-11 96-11 83-11 45-10-6-11-52-11-80-11-78-11-48-11-2-11 49-11 83-11 93-10 73-11 29-11-22-11-64-11-85-11-76-11-41-11 10-11 56-10 86-11 87-11 61-11 13-11-37-11-75-11-88-11-72-11-31-10 19-11 63-11 87-11 80-11 47-11-3-11-52-11-84-11-90-10-66-11-21-11 29-11 69-11 85-11 71-11 32-11-19-11-65-11-92-10-89-11-59-11-11-11 39-11 73-11 81-11 60-11 16-11-35-10-77-11-96-11-87-11-50-11-1-11 46-11 75-11 76-11 47-10 1-11-50z"/>
<path transform="translate(-815.9 -498.3)" d="M1350 4800l11 50 11-1 10-47 11-76 11-75 11-46 11 0 11 51 11 87 11 96 11 77 10 35 11-17 11-60 11-81 11-73 11-38 11 11 11 59 11 89 10 91 11 66 11 18 11-32 11-70 11-85 11-69 11-29 11 21 10 66 11 90 11 84 11 52 11 2 11-46 11-80 11-87 11-63 11-20 10 32 11 71 11 89 11 75 11 37 11-14 11-60 11-87 11-86 10-57 11-9 11 41 11 76 11 84 11 65 11 22 11-30 11-72 10-93 11-84 11-48 11 1 11 49 11 78 11 80 11 52 11 6 10-45 11-83 11-96 11-80 11-39 11 11 11 56 11 79 11 72 10 39 11-11 11-59 11-92 11-98 11-74 11-29 11 21 11 62 10 76 11 63 11 25 11-27 11-73 11-99 11-97 11-67 11-19 11 31 10 65 11 73 11 52 11 9 11-43 11-85 11-104 11-94 11-59 10-8 11 38 11 67 11 68 11 40 11-7 11-58 17-123-11 58-11 7-11-40-11-67-11-68-11-38-11 8-10 59-11 94-11 105-11 84-11 43-11-9-11-52-11-73-11-65-10-31-11 19-11 67-11 97-11 99-11 73-11 27-11-24-11-63-10-77-11-62-11-21-11 29-11 74-11 98-11 92-11 59-11 11-11-39-10-72-11-79-11-55-11-12-11 39-11 80-11 96-11 83-11 45-10-6-11-52-11-80-11-78-11-49-11-1-11 49-11 83-11 93-10 72-11 30-11-22-11-64-11-85-11-76-11-41-11 9-11 57-10 86-11 87-11 61-11 13-11-37-11-75-11-89-11-71-11-32-10 20-11 63-11 87-11 80-11 46-11-2-11-52-11-84-11-90-10-66-11-21-11 29-11 69-11 85-11 70-11 33-11-19-11-65-11-92-10-89-11-59-11-11-11 39-11 72-11 81-11 60-11 17-11-35-10-77-11-96-11-87-11-50-11-1-11 46-11 75-11 76-11 47-10 1-11-50z"/>
<path transform="translate(-807.4 -493.1)" d="M1350 4744l11 50 11-1 10-48 11-75 11-75 11-46 11 0 11 51 11 86 11 97 11 77 10 35 11-17 11-60 11-81 11-73 11-38 11 11 11 59 11 89 10 91 11 66 11 18 11-32 11-71 11-84 11-69 11-30 11 22 10 66 11 90 11 84 11 52 11 2 11-47 11-80 11-86 11-63 11-20 10 32 11 71 11 89 11 75 11 37 11-14 11-60 11-87 11-86 10-57 11-9 11 41 11 75 11 85 11 65 11 22 11-30 11-72 10-93 11-84 11-48 11 1 11 49 11 78 11 80 11 52 11 6 10-45 11-83 11-96 11-80 11-39 11 11 11 56 11 79 11 72 10 39 11-11 11-59 11-92 11-98 11-74 11-29 11 21 11 62 11 76 10 63 11 25 11-27 11-73 11-99 11-97 11-67 11-19 11 31 10 65 11 73 11 52 11 9 11-43 11-85 11-104 11-94 11-59 10-8 11 38 11 67 11 68 11 40 11-8 11-57 17-136-11 58-11 7-11-40-11-67-11-68-11-38-11 8-10 59-11 94-11 105-11 84-11 43-11-9-11-52-11-73-11-65-10-31-11 19-11 67-11 97-11 99-11 73-11 27-11-24-11-63-10-77-11-62-11-21-11 29-11 74-11 98-11 92-11 59-11 11-11-39-10-72-11-79-11-55-11-12-11 39-11 80-11 96-11 83-11 45-10-6-11-52-11-80-11-78-11-49-11-1-11 49-11 83-11 93-10 72-11 30-11-22-11-64-11-85-11-76-11-41-11 9-11 57-10 86-11 87-11 61-11 13-11-37-11-75-11-89-11-71-11-32-10 20-11 63-11 87-11 80-11 46-11-2-11-52-11-84-11-90-10-66-11-21-11 29-11 69-11 85-11 70-11 33-11-19-11-65-11-92-10-89-11-59-11-11-11 39-11 72-11 81-11 60-11 17-11-35-10-77-11-96-11-87-11-50-11-1-11 46-11 75-11 76-11 47-10 1-11-50z"/>
<path transform="translate(-799 -488)" d="M1350 4666l11 51 11-1 10-48 11-75 11-75 11-46 11 0 11 51 11 86 11 97 11 77 10 35 11-17 11-60 11-81 11-73 11-38 11 11 11 59 11 89 10 91 11 65 11 19 11-32 11-71 11-84 11-69 11-30 11 22 10 66 11 89 11 85 11 51 11 3 11-47 11-80 11-86 11-64 11-19 10 31 11 72 11 88 11 76 11 37 11-14 11-60 11-87 11-86 10-57 11-9 11 41 11 75 11 85 11 65 11 22 11-30 11-72 10-93 11-84 11-48 11 1 11 49 11 78 11 79 11 53 11 6 10-45 11-84 11-96 11-79 11-39 11 11 11 56 11 78 11 73 10 38 11-10 11-60 11-92 11-97 11-74 11-29 11 21 11 61 11 77 10 63 11 24 11-26 11-73 11-99 11-97 11-67 11-19 11 31 10 65 11 73 11 52 11 9 11-43 11-85 11-104 11-94 11-59 10-8 11 38 11 67 11 68 11 40 11-8 11-58 17-93-11 58-11 8-11-40-11-68-11-67-11-38-11 8-10 58-11 95-11 104-11 85-11 43-11-9-11-52-11-73-11-65-10-31-11 19-11 67-11 97-11 99-11 73-11 26-11-24-11-63-10-77-11-61-11-21-11 29-11 74-11 97-11 92-11 60-11 10-10-38-11-73-11-78-11-56-11-11-11 39-11 79-11 96-11 84-11 45-10-6-11-53-11-79-11-78-11-49-11-1-11 48-11 84-11 92-10 73-11 30-11-22-11-65-11-85-11-76-11-40-11 9-11 57-10 86-11 87-11 60-11 14-11-37-11-76-11-88-11-72-11-31-10 19-11 64-11 86-11 80-11 47-11-3-11-51-11-85-11-89-10-66-11-22-11 30-11 69-11 84-11 71-11 32-11-19-11-65-11-91-10-89-11-59-11-11-11 38-11 73-11 81-11 60-11 17-11-35-10-77-11-97-11-86-11-51-11-1-11 47-11 75-11 75-11 48-10 0-11-50z"/>
<path transform="translate(-790.5 -482.8)" d="M1350 4597l11 51 11-1 10-48 11-75 11-75 11-46 11 0 11 51 11 86 11 97 11 77 10 35 11-17 11-60 11-81 11-73 11-38 11 11 11 59 11 89 10 91 11 65 11 19 11-32 11-71 11-84 11-69 11-30 11 22 10 66 11 89 11 85 11 51 11 3 11-47 11-80 11-86 11-64 11-19 10 31 11 72 11 88 11 76 11 37 11-14 11-60 11-87 11-86 10-57 11-9 11 41 11 75 11 85 11 65 11 22 11-30 11-72 10-93 11-84 11-48 11 1 11 49 11 78 11 79 11 53 11 6 10-45 11-83 11-97 11-79 11-39 11 11 11 56 11 78 11 73 10 38 11-10 11-60 11-92 11-97 11-74 11-29 11 21 11 61 11 77 10 63 11 24 11-26 11-73 11-99 11-97 11-67 11-19 11 31 10 65 11 73 11 52 11 9 11-43 11-85 11-104 11-94 11-59 10-8 11 38 11 67 11 68 11 40 11-8 11-58 17-9-11 58-11 8-11-40-11-68-11-67-11-38-11 8-10 59-11 94-11 104-11 85-11 43-11-9-11-52-11-73-11-65-10-31-11 19-11 67-11 97-11 99-11 73-11 26-11-24-11-63-10-77-11-61-11-21-11 29-11 74-11 97-11 92-11 60-11 10-10-38-11-73-11-78-11-56-11-11-11 39-11 79-11 97-11 83-11 45-10-6-11-53-11-79-11-78-11-49-11-1-11 48-11 84-11 93-10 72-11 30-11-22-11-65-11-85-11-75-11-41-11 9-11 57-10 86-11 87-11 60-11 14-11-37-11-76-11-88-11-72-11-31-10 19-11 64-11 86-11 80-11 47-11-3-11-51-11-85-11-89-10-66-11-22-11 30-11 69-11 84-11 71-11 32-11-19-11-65-10-91-11-89-11-59-11-11-11 38-11 73-11 81-11 60-11 17-11-35-10-77-11-97-11-86-11-51-11 0-11 46-11 75-11 75-11 48-10 1-11-51z"/>
<path transform="translate(-782 -477.6)" d="M1350 4563l11 50 11 0 10-48 11-75 11-75 11-47 11 1 11 50 11 87 11 96 11 78 10 34 11-16 11-60 11-81 11-73 11-39 11 12 11 59 11 89 10 91 11 65 11 19 11-32 11-71 11-85 11-69 11-29 11 21 10 66 11 90 11 84 11 52 11 3 11-47 11-80 11-86 11-64 11-19 10 31 11 72 11 88 11 75 11 37 11-13 11-60 11-88 11-86 10-56 11-9 11 40 11 76 11 85 11 64 11 22 11-29 11-73 10-93 11-83 11-49 11 2 11 48 11 79 11 79 11 52 11 6 10-45 11-83 11-96 11-80 11-39 11 12 11 56 11 78 11 72 10 39 11-10 11-60 11-92 11-97 11-74 11-30 11 22 11 61 11 77 10 63 11 24 11-27 11-73 11-99 11-97 11-66 11-19 11 30 10 65 11 73 11 53 11 8 11-42 11-85 11-105 11-94 11-58 10-9 11 39 11 67 11 67 11 40 11-7 11-58 17 88-11 58-11 7-11-39-11-68-11-67-11-39-11 9-10 58-11 95-11 104-11 85-11 43-11-9-11-52-11-74-11-65-10-30-11 19-11 67-11 96-11 100-11 73-11 26-11-24-11-63-10-77-11-61-11-21-11 29-11 74-11 97-11 92-11 60-11 10-10-39-11-72-11-78-11-56-11-12-11 40-11 79-11 96-11 83-11 45-10-5-11-53-11-79-11-78-11-49-11-1-11 48-11 84-11 92-10 73-11 29-11-21-11-65-11-85-11-76-11-40-11 9-11 57-10 85-11 88-11 60-11 14-11-37-11-76-11-88-11-72-11-31-10 19-11 64-11 86-11 80-11 47-11-3-11-51-11-85-11-89-10-66-11-22-11 29-11 69-11 85-11 71-11 32-11-19-11-65-11-91-10-89-11-59-11-11-11 38-11 73-11 81-11 60-11 17-11-35-10-77-11-97-11-86-11-51-11-1-11 47-11 75-11 75-11 48-10 0-11-50z"/>
<path transform="translate(-773.6 -472.5)" d="M1350 4578l11 50 11 0 10-48 11-75 11-75 11-47 11 1 11 50 11 87 11 96 11 78 10 34 11-16 11-60 11-81 11-73 11-38 11 11 11 59 11 89 10 91 11 65 11 19 11-32 11-71 11-85 11-69 11-29 11 21 10 66 11 90 11 84 11 52 11 3 11-47 11-80 11-86 11-64 11-19 10 31 11 72 11 88 11 75 11 38 11-14 11-60 11-88 11-86 10-56 11-9 11 40 11 76 11 85 11 65 11 21 11-29 11-73 10-93 11-83 11-49 11 2 11 49 11 78 11 79 11 53 11 5 10-45 11-83 11-96 11-79 11-40 11 12 11 56 11 78 11 72 10 39 11-10 11-60 11-92 11-97 11-74 11-30 11 22 11 61 11 77 10 63 11 24 11-27 11-72 11-100 11-97 11-66 11-19 11 30 10 65 11 74 11 52 11 8 11-42 11-85 11-104 11-95 11-58 10-9 11 39 11 67 11 68 11 39 11-7 11-58 17 166-11 58-11 7-11-39-11-68-11-67-11-39-11 9-10 58-11 95-11 104-11 85-11 43-11-9-11-52-11-74-11-65-10-30-11 19-11 67-11 96-11 100-11 73-11 26-11-24-11-63-10-77-11-61-11-21-11 29-11 74-11 97-11 92-11 60-11 10-11-39-10-72-11-78-11-56-11-12-11 40-11 79-11 96-11 83-11 45-10-5-11-53-11-79-11-78-11-49-11-1-11 48-11 84-11 92-10 73-11 29-11-21-11-65-11-85-11-76-11-40-11 9-11 56-10 86-11 88-11 60-11 14-11-38-11-75-11-88-11-72-11-31-10 19-11 64-11 86-11 80-11 47-11-3-11-52-11-84-11-89-10-66-11-22-11 29-11 69-11 85-11 71-11 32-11-19-11-65-11-91-10-89-11-59-11-11-11 38-11 73-11 81-11 60-11 16-11-34-10-77-11-97-11-86-11-51-11-1-11 47-11 75-11 75-11 48-10 0-11-50z"/>
<path transform="translate(-765.1 -467.3)" d="M1350 4641l11 50 11-1 10-47 11-76 11-75 11-46 11 1 11 50 11 87 11 96 11 77 10 35 11-16 11-60 11-81 11-73 11-39 11 11 11 59 11 89 10 92 11 65 11 19 11-32 11-71 11-85 11-69 11-29 11 21 10 66 11 90 11 84 11 52 11 3 11-47 11-80 11-87 11-63 11-19 10 31 11 72 11 88 11 75 11 37 11-13 11-61 11-87 11-86 10-56 11-10 11 41 11 76 11 85 11 64 11 22 11-29 11-73 10-93 11-83 11-49 11 2 11 48 11 78 11 80 11 52 11 6 10-45 11-83 11-96 11-80 11-39 11 12 11 55 11 79 11 72 10 39 11-10 11-60 11-92 11-98 11-73 11-30 11 22 11 61 11 77 10 63 11 24 11-27 11-73 11-99 11-97 11-66 11-19 11 30 10 65 11 73 11 53 11 8 11-42 11-85 11-105 11-94 11-58 10-9 11 39 11 67 11 67 11 40 11-7 11-58 17 198-11 58-11 8-11-40-11-68-11-67-11-38-11 8-10 59-11 94-11 104-11 85-11 43-11-9-11-52-11-73-11-65-10-31-11 19-11 67-11 97-11 99-11 73-11 26-11-24-11-63-10-77-11-61-11-21-11 29-11 74-11 97-11 92-11 60-11 10-10-38-11-73-11-78-11-56-11-11-11 39-11 79-11 97-11 83-11 45-10-6-11-53-11-79-11-78-11-49-11-1-11 48-11 84-11 93-10 72-11 30-11-22-11-65-11-85-11-75-11-41-11 9-11 57-10 86-11 87-11 60-11 14-11-37-11-76-11-88-11-72-11-31-10 19-11 64-11 86-11 80-11 47-11-3-11-51-11-85-11-89-10-66-11-22-11 30-11 69-11 84-11 71-11 32-11-19-11-65-10-91-11-89-11-59-11-11-11 38-11 73-11 81-11 60-11 17-11-35-10-77-11-97-11-86-11-51-11 0-11 46-11 75-11 75-11 48-10 1-11-51z"/>
<path transform="translate(-756.7 -462.1)" d="M1350 4734l11 50 11-1 10-47 11-76 11-75 11-46 11 1 11 50 11 87 11 96 11 77 10 35 11-16 11-60 11-82 11-72 11-39 11 11 11 59 11 89 10 92 11 65 11 19 11-32 11-71 11-85 11-69 11-29 11 21 10 66 11 90 11 84 11 52 11 2 11-46 11-80 11-87 11-63 11-20 10 32 11 72 11 88 11 75 11 37 11-13 11-61 11-87 11-86 10-56 11-10 11 41 11 76 11 85 11 64 11 22 11-30 11-72 10-93 11-83 11-49 11 2 11 48 11 78 11 80 11 52 11 6 10-45 11-83 11-96 11-80 11-39 11 12 11 55 11 79 11 72 10 39 11-11 11-59 11-92 11-98 11-74 11-29 11 22 11 61 11 77 10 63 11 24 11-27 11-73 11-99 11-97 11-67 11-18 11 30 10 65 11 73 11 52 11 9 11-42 11-85 11-105 11-94 11-58 10-9 11 39 11 67 11 67 11 40 11-7 11-58 17 174-11 58-11 8-11-40-11-68-11-67-11-38-11 8-10 59-11 94-11 104-11 85-11 43-11-9-11-52-11-73-11-65-10-31-11 19-11 67-11 97-11 99-11 73-11 27-11-25-11-63-10-77-11-61-11-21-11 29-11 74-11 97-11 93-11 59-11 11-11-39-10-73-11-78-11-56-11-11-11 39-11 79-11 97-11 83-11 45-10-6-11-53-11-79-11-78-11-49-11-1-11 48-11 84-11 93-10 72-11 30-11-22-11-65-11-85-11-75-11-41-11 9-11 57-10 86-11 87-11 60-11 14-11-37-11-76-11-88-11-72-11-31-10 20-11 63-11 86-11 80-11 47-11-3-11-51-11-85-11-89-10-66-11-22-11 30-11 69-11 84-11 71-11 32-11-19-11-65-11-91-10-89-11-59-11-11-11 38-11 73-11 81-11 60-11 17-11-35-10-77-11-97-11-86-11-51-11 0-11 46-11 75-11 75-11 48-10 1-11-51z"/>
<path transform="translate(-748.2 -457)" d="M1350 4829l11 50 11 0 10-48 11-75 11-75 11-47 11 1 11 51 11 86 11 97 11 77 10 34 11-16 11-60 11-81 11-73 11-38 11 11 11 59 11 89 10 91 11 65 11 19 11-32 11-71 11-85 11-69 11-29 11 21 10 67 11 89 11 84 11 52 11 3 11-47 11-80 11-86 11-64 11-19 10 31 11 72 11 88 11 75 11 38 11-14 11-60 11-88 11-86 10-56 11-9 11 40 11 76 11 85 11 65 11 21 11-29 11-73 10-92 11-84 11-48 11 1 11 49 11 78 11 79 11 53 11 5 10-45 11-83 11-96 11-79 11-40 11 12 11 56 11 78 11 72 10 39 11-10 11-60 11-92 11-97 11-74 11-30 11 22 11 61 11 77 10 63 11 24 11-27 11-72 11-100 11-97 11-66 11-19 11 30 10 65 11 74 11 52 11 8 11-42 11-85 11-104 11-95 11-58 10-9 11 39 11 67 11 68 11 39 11-7 11-58 17 102-11 58-11 7-11-39-11-68-11-67-11-39-11 9-10 58-11 95-11 104-11 85-11 43-11-9-11-52-11-74-11-65-10-30-11 19-11 67-11 96-11 100-11 73-11 26-11-24-11-63-10-77-11-61-11-21-11 29-11 74-11 97-11 92-11 60-11 10-10-39-11-72-11-78-11-56-11-12-11 40-11 79-11 96-11 83-11 45-10-5-11-53-11-79-11-78-11-49-11-1-11 48-11 84-11 92-10 73-11 29-11-21-11-65-11-85-11-76-11-40-11 9-11 57-10 85-11 88-11 60-11 14-11-37-11-76-11-88-11-72-11-31-10 19-11 64-11 86-11 80-11 47-11-3-11-51-11-85-11-89-10-66-11-22-11 29-11 69-11 85-11 71-11 32-11-19-11-65-10-91-11-89-11-59-11-11-11 38-11 73-11 81-11 60-11 17-11-35-10-77-11-97-11-86-11-51-11-1-11 47-11 75-11 75-11 48-10 0-11-50z"/>
<path transform="translate(-739.8 -451.8)" d="M1350 4898l11 50 11 0 10-48 11-75 11-75 11-47 11 1 11 51 11 86 11 97 11 77 10 34 11-16 11-60 11-81 11-73 11-38 11 11 11 59 11 89 10 91 11 65 11 19 11-32 11-71 11-85 11-69 11-29 11 22 10 66 11 89 11 84 11 52 11 3 11-47 11-80 11-86 11-64 11-19 10 31 11 72 11 88 11 75 11 38 11-14 11-60 11-88 11-86 10-56 11-9 11 40 11 76 11 85 11 65 11 21 11-29 11-73 10-92 11-84 11-48 11 1 11 49 11 78 11 79 11 53 11 5 10-45 11-83 11-96 11-79 11-40 11 12 11 56 11 78 11 72 10 39 11-10 11-60 11-92 11-97 11-74 11-30 11 22 11 61 11 77 10 63 11 24 11-27 11-72 11-100 11-96 11-67 11-19 11 30 10 65 11 74 11 52 11 8 11-42 11-85 11-104 11-95 11-58 10-9 11 39 11 67 11 68 11 39 11-7 11-58 17 5-11 58-11 7-11-39-11-68-11-67-11-39-11 9-10 58-11 95-11 104-11 85-11 42-11-8-11-52-11-74-11-65-10-30-11 19-11 66-11 97-11 100-11 72-11 27-11-24-11-63-10-77-11-61-11-22-11 30-11 74-11 97-11 92-11 60-11 10-11-39-10-72-11-78-11-56-11-12-11 40-11 79-11 96-11 83-11 45-10-5-11-53-11-79-11-78-11-49-11-2-11 49-11 83-11 93-10 73-11 29-11-21-11-65-11-85-11-76-11-40-11 9-11 56-10 86-11 88-11 60-11 14-11-38-11-75-11-88-11-72-11-31-10 19-11 64-11 86-11 80-11 47-11-3-11-52-11-84-11-90-10-66-11-21-11 29-11 69-11 85-11 71-11 32-11-19-11-65-11-91-10-89-11-59-11-11-11 38-11 73-11 81-11 60-11 16-11-34-10-78-11-96-11-87-11-50-11-1-11 47-11 75-11 75-11 48-10 0-11-50z"/>
<path transform="translate(-731.3 -446.7)" d="M1350 4921l11 50 11-1 10-47 11-76 11-75 11-46 11 1 11 50 11 87 11 96 11 77 10 35 11-16 11-60 11-81 11-73 11-39 11 12 11 58 11 89 10 92 11 65 11 19 11-32 11-71 11-85 11-69 11-29 11 21 10 66 11 90 11 84 11 52 11 3 11-47 11-80 11-87 11-63 11-19 10 31 11 72 11 88 11 75 11 37 11-13 11-61 11-87 11-86 10-56 11-9 11 40 11 76 11 85 11 64 11 22 11-29 11-73 10-93 11-83 11-49 11 2 11 48 11 78 11 80 11 52 11 6 10-45 11-83 11-96 11-80 11-39 11 12 11 55 11 79 11 72 10 39 11-10 11-60 11-92 11-98 11-73 11-30 11 22 11 61 11 77 10 63 11 24 11-27 11-73 11-99 11-97 11-66 11-19 11 30 10 65 11 73 11 53 11 8 11-42 11-85 11-105 11-94 11-58 10-9 11 39 11 67 11 67 11 40 11-7 11-58 17-85-11 58-11 7-11-39-11-68-11-67-11-39-11 9-10 58-11 95-11 104-11 85-11 42-11-8-11-52-11-74-11-65-10-30-11 19-11 67-11 96-11 100-11 72-11 27-11-24-11-63-10-77-11-61-11-22-11 30-11 74-11 97-11 92-11 60-11 10-11-39-10-72-11-78-11-56-11-12-11 40-11 79-11 96-11 83-11 45-10-5-11-53-11-79-11-78-11-49-11-1-11 48-11 84-11 92-10 73-11 29-11-21-11-65-11-85-11-76-11-40-11 9-11 56-10 86-11 88-11 60-11 14-11-38-11-75-11-88-11-72-11-31-10 19-11 64-11 86-11 80-11 47-11-3-11-52-11-84-11-89-10-66-11-22-11 29-11 69-11 85-11 71-11 32-11-19-11-65-10-91-11-89-11-59-11-11-11 38-11 73-11 81-11 60-11 16-11-34-10-77-11-97-11-86-11-51-11-1-11 47-11 75-11 75-11 48-10 0-11-50z"/>
<path transform="translate(-722.9 -441.5)" d="M1350 4893l11 50 11-1 10-47 11-76 11-75 11-46 11 1 11 50 11 87 11 96 11 77 10 35 11-17 11-60 11-81 11-72 11-39 11 11 11 59 11 89 10 92 11 65 11 19 11-33 11-70 11-85 11-69 11-29 11 21 10 66 11 90 11 84 11 52 11 2 11-46 11-80 11-87 11-63 11-20 10 32 11 71 11 89 11 75 11 37 11-13 11-61 11-87 11-86 10-57 11-9 11 41 11 76 11 85 11 64 11 22 11-30 11-72 10-93 11-83 11-49 11 1 11 49 11 78 11 80 11 52 11 6 10-45 11-83 11-96 11-80 11-39 11 12 11 55 11 79 11 72 10 39 11-11 11-59 11-92 11-98 11-74 11-29 11 21 11 62 11 77 10 63 11 24 11-27 11-73 11-99 11-97 11-67 11-19 11 31 10 65 11 73 11 52 11 9 11-43 11-84 11-105 11-94 11-59 10-8 11 38 11 68 11 67 11 40 11-7 11-58 17-138-11 58-11 8-11-40-11-68-11-67-11-38-11 8-10 58-11 95-11 104-11 85-11 43-11-9-11-52-11-73-11-65-10-31-11 19-11 67-11 97-11 99-11 73-11 26-11-24-11-63-10-77-11-61-11-21-11 29-11 74-11 97-11 92-11 60-11 10-10-38-11-73-11-78-11-56-11-11-11 39-11 79-11 96-11 84-11 45-10-6-11-53-11-79-11-78-11-49-11-1-11 48-11 84-11 92-10 73-11 30-11-22-11-65-11-85-11-76-11-40-11 9-11 57-10 86-11 87-11 60-11 14-11-37-11-76-11-88-11-72-11-31-10 19-11 64-11 86-11 80-11 47-11-3-11-51-11-85-11-89-10-66-11-22-11 30-11 69-11 84-11 71-11 32-11-19-11-65-10-91-11-89-11-59-11-11-11 38-11 73-11 81-11 60-11 17-11-35-10-77-11-97-11-86-11-51-11 0-11 46-11 75-11 75-11 48-10 0-11-50z"/>
<path transform="translate(-714.4 -436.3)" d="M1350 4826l11 50 11-1 10-47 11-76 11-75 11-46 11 1 11 50 11 87 11 96 11 77 10 35 11-16 11-60 11-82 11-72 11-39 11 11 11 59 11 89 10 92 11 65 11 19 11-32 11-71 11-85 11-69 11-29 11 21 10 66 11 90 11 84 11 52 11 2 11-46 11-80 11-87 11-63 11-20 10 32 11 72 11 88 11 75 11 37 11-13 11-61 11-87 11-86 10-56 11-10 11 41 11 76 11 85 11 64 11 22 11-30 11-72 10-93 11-83 11-49 11 2 11 48 11 78 11 80 11 52 11 6 10-45 11-83 11-96 11-80 11-39 11 12 11 55 11 79 11 72 10 39 11-11 11-59 11-92 11-98 11-74 11-29 11 22 11 61 11 77 10 63 11 24 11-27 11-73 11-99 11-97 11-67 11-19 11 31 10 65 11 73 11 52 11 9 11-42 11-85 11-105 11-94 11-58 10-9 11 38 11 68 11 67 11 40 11-7 11-58 17-136-11 58-11 7-11-39-11-68-11-67-11-39-11 9-10 58-11 95-11 104-11 85-11 43-11-9-11-52-11-74-11-65-10-30-11 19-11 67-11 96-11 100-11 73-11 26-11-24-11-63-10-77-11-61-11-21-11 29-11 74-11 97-11 92-11 60-11 10-11-39-10-72-11-78-11-56-11-11-11 39-11 79-11 96-11 84-11 45-10-6-11-53-11-79-11-78-11-49-11-1-11 48-11 84-11 92-10 73-11 29-11-21-11-65-11-85-11-76-11-40-11 9-11 57-10 85-11 88-11 60-11 14-11-37-11-76-11-88-11-72-11-31-10 19-11 64-11 86-11 80-11 47-11-3-11-51-11-85-11-89-10-66-11-22-11 29-11 69-11 85-11 71-11 32-11-19-11-65-11-91-10-89-11-59-11-11-11 38-11 73-11 81-11 60-11 17-11-35-10-77-11-97-11-86-11-51-11-1-11 47-11 75-11 75-11 48-10 0-11-50z"/>
<path transform="translate(-706 -431.2)" d="M1350 4745l11 50 11 0 10-48 11-75 11-75 11-47 11 1 11 50 11 87 11 96 11 78 10 34 11-16 11-60 11-81 11-73 11-38 11 11 11 59 11 89 10 91 11 65 11 19 11-32 11-71 11-85 11-69 11-29 11 21 10 66 11 90 11 84 11 52 11 3 11-47 11-80 11-86 11-64 11-19 10 31 11 72 11 88 11 75 11 38 11-14 11-60 11-88 11-86 10-56 11-9 11 40 11 76 11 85 11 64 11 22 11-29 11-73 10-93 11-83 11-49 11 2 11 48 11 79 11 79 11 53 11 5 10-45 11-83 11-96 11-80 11-39 11 12 11 56 11 78 11 72 10 39 11-10 11-60 11-92 11-97 11-74 11-30 11 22 11 61 11 77 10 63 11 24 11-27 11-73 11-99 11-97 11-66 11-19 11 30 10 65 11 73 11 53 11 8 11-42 11-85 11-105 11-94 11-58 10-9 11 39 11 67 11 67 11 40 11-7 11-58 17-80-11 58-11 7-11-40-11-67-11-67-11-39-11 9-10 58-11 94-11 105-11 85-11 42-11-8-11-53-11-73-11-65-10-30-11 19-11 66-11 97-11 99-11 73-11 27-11-24-11-63-10-77-11-61-11-22-11 30-11 73-11 98-11 92-11 60-11 10-10-39-11-72-11-79-11-55-11-12-11 39-11 80-11 96-11 83-11 45-10-6-11-52-11-80-11-78-11-48-11-2-11 49-11 83-11 93-10 73-11 29-11-22-11-64-11-85-11-76-11-40-11 9-11 56-10 86-11 87-11 61-11 13-11-37-11-75-11-88-11-72-11-31-10 19-11 64-11 86-11 80-11 47-11-3-11-52-11-84-11-90-10-66-11-21-11 29-11 69-11 85-11 71-11 32-11-19-11-65-11-92-10-89-11-58-11-12-11 39-11 73-11 81-11 60-11 16-11-35-10-77-11-96-11-87-11-50-11-1-11 46-11 75-11 76-11 47-10 1-11-50z"/>
<path transform="translate(-697.5 -426)" d="M1350 4680l11 50 11-1 10-47 11-76 11-75 11-46 11 1 11 50 11 87 11 96 11 77 10 35 11-16 11-60 11-81 11-73 11-39 11 12 11 58 11 89 10 92 11 65 11 19 11-32 11-71 11-85 11-69 11-29 11 21 10 66 11 90 11 84 11 52 11 3 11-47 11-80 11-87 11-63 11-19 10 31 11 72 11 88 11 75 11 37 11-13 11-61 11-87 11-86 10-56 11-9 11 40 11 76 11 85 11 64 11 22 11-29 11-73 10-93 11-83 11-49 11 2 11 48 11 78 11 80 11 52 11 6 10-45 11-83 11-96 11-80 11-39 11 12 11 55 11 79 11 72 10 39 11-10 11-60 11-92 11-98 11-73 11-30 11 22 11 61 11 77 10 63 11 24 11-27 11-73 11-99 11-97 11-66 11-19 11 30 10 65 11 73 11 53 11 8 11-42 11-85 11-105 11-94 11-58 10-9 11 39 11 67 11 67 11 40 11-7 11-58 17 10-11 58-11 7-11-39-11-68-11-67-11-39-11 9-10 58-11 95-11 104-11 85-11 43-11-9-11-52-11-73-11-66-10-30-11 19-11 67-11 97-11 99-11 73-11 26-11-24-11-63-10-77-11-61-11-21-11 29-11 74-11 97-11 92-11 60-11 10-11-39-10-72-11-78-11-56-11-11-11 39-11 79-11 96-11 84-11 45-10-6-11-53-11-79-11-78-11-49-11-1-11 48-11 84-11 92-10 73-11 30-11-22-11-65-11-85-11-76-11-40-11 9-11 57-10 86-11 87-11 60-11 14-11-37-11-76-11-88-11-72-11-31-10 19-11 64-11 86-11 80-11 47-11-3-11-51-11-85-11-89-10-66-11-22-11 29-11 70-11 84-11 71-11 32-11-19-11-65-11-91-10-89-11-59-11-11-11 38-11 73-11 81-11 60-11 17-11-35-10-77-11-97-11-86-11-51-11-1-11 47-11 75-11 75-11 48-10 0-11-50z"/>
<path transform="translate(-689 -420.8)" d="M1350 4655l11 50 11-1 10-47 11-76 11-75 11-46 11 0 11 51 11 87 11 96 11 77 10 35 11-17 11-60 11-81 11-73 11-38 11 11 11 59 11 89 10 91 11 66 11 18 11-32 11-71 11-84 11-69 11-29 11 21 10 66 11 90 11 84 11 52 11 2 11-46 11-81 11-86 11-63 11-20 10 32 11 71 11 89 11 75 11 37 11-14 11-60 11-87 11-86 10-57 11-9 11 41 11 76 11 84 11 65 11 22 11-30 11-72 10-93 11-84 11-48 11 1 11 49 11 78 11 80 11 52 11 6 10-45 11-83 11-96 11-80 11-39 11 11 11 56 11 79 11 72 10 39 11-11 11-59 11-92 11-98 11-74 11-29 11 21 11 62 11 76 10 63 11 25 11-27 11-73 11-99 11-97 11-67 11-19 11 31 10 65 11 73 11 52 11 9 11-43 11-85 11-104 11-94 11-59 10-8 11 38 11 67 11 68 11 40 11-7 11-58 17 105-11 58-11 7-11-39-11-68-11-67-11-39-11 9-10 58-11 95-11 104-11 85-11 43-11-9-11-52-11-74-11-65-10-30-11 19-11 67-11 96-11 100-11 73-11 26-11-24-11-63-10-77-11-61-11-21-11 29-11 74-11 97-11 92-11 60-11 10-10-39-11-72-11-78-11-56-11-11-11 39-11 79-11 96-11 84-11 45-10-6-11-53-11-79-11-78-11-49-11-1-11 48-11 84-11 92-10 73-11 29-11-21-11-65-11-85-11-76-11-40-11 9-11 57-10 85-11 88-11 60-11 14-11-37-11-76-11-88-11-72-11-31-10 19-11 64-11 86-11 80-11 47-11-3-11-51-11-85-11-89-10-66-11-22-11 29-11 69-11 85-11 71-11 32-11-19-11-65-11-91-10-89-11-59-11-11-11 38-11 73-11 81-11 60-11 17-11-35-10-77-11-97-11-86-11-51-11-1-11 47-11 75-11 75-11 48-10 0-11-50z"/>
<path transform="translate(-680.6 -415.7)" d="M1350 4680l11 50 11-1 10-47 11-76 11-75 11-46 11 1 11 50 11 87 11 96 11 78 10 34 11-16 11-60 11-81 11-73 11-39 11 12 11 58 11 89 10 92 11 65 11 19 11-32 11-71 11-85 11-69 11-29 11 21 10 66 11 90 11 84 11 52 11 3 11-47 11-80 11-86 11-64 11-19 10 31 11 72 11 88 11 75 11 37 11-13 11-60 11-88 11-86 10-56 11-9 11 40 11 76 11 85 11 64 11 22 11-29 11-73 10-93 11-83 11-49 11 2 11 48 11 78 11 80 11 52 11 6 10-45 11-83 11-96 11-80 11-39 11 12 11 55 11 79 11 72 10 39 11-10 11-60 11-92 11-98 11-73 11-30 11 22 11 61 11 77 10 63 11 24 11-27 11-73 11-99 11-97 11-66 11-19 11 30 10 65 11 73 11 53 11 8 11-42 11-85 11-105 11-94 11-58 10-9 11 39 11 67 11 67 11 40 11-7 11-58 17 174-11 58-11 7-11-40-11-67-11-68-11-38-11 8-10 59-11 94-11 105-11 85-11 42-11-9-11-52-11-73-11-65-10-31-11 19-11 67-11 97-11 99-11 73-11 27-11-24-11-63-10-77-11-61-11-22-11 29-11 74-11 98-11 92-11 59-11 11-11-39-10-72-11-79-11-55-11-12-11 39-11 80-11 96-11 83-11 45-10-6-11-52-11-80-11-78-11-49-11-1-11 49-11 83-11 93-10 72-11 30-11-22-11-64-11-85-11-76-11-41-11 10-11 56-10 86-11 87-11 61-11 13-11-37-11-75-11-89-11-71-11-32-10 20-11 63-11 87-11 80-11 46-11-2-11-52-11-84-11-90-10-66-11-21-11 29-11 69-11 85-11 71-11 32-11-19-11-65-11-92-10-89-11-59-11-11-11 39-11 72-11 82-11 60-11 16-11-35-10-77-11-96-11-87-11-50-11-1-11 46-11 75-11 76-11 47-10 1-11-50z"/>
<path transform="translate(-672.1 -410.5)" d="M1350 4750l11 50 11-1 10-47 11-76 11-75 11-46 11 1 11 50 11 87 11 96 11 77 10 35 11-16 11-60 11-81 11-73 11-39 11 12 11 58 11 89 10 92 11 65 11 19 11-32 11-71 11-85 11-69 11-29 11 21 10 66 11 90 11 84 11 52 11 3 11-47 11-80 11-87 11-63 11-19 10 31 11 72 11 88 11 75 11 37 11-13 11-61 11-87 11-86 10-56 11-9 11 40 11 76 11 85 11 64 11 22 11-29 11-73 10-93 11-83 11-49 11 2 11 48 11 78 11 80 11 52 11 6 10-45 11-83 11-96 11-80 11-39 11 12 11 55 11 79 11 72 10 39 11-10 11-60 11-92 11-98 11-73 11-30 11 22 11 61 11 77 10 63 11 24 11-27 11-73 11-99 11-97 11-66 11-19 11 30 10 65 11 73 11 53 11 8 11-42 11-85 11-105 11-94 11-58 10-9 11 39 11 67 11 67 11 40 11-7 11-58 17 192-11 58-11 7-11-40-11-67-11-67-11-39-11 9-10 58-11 94-11 105-11 85-11 42-11-8-11-53-11-73-11-65-10-30-11 19-11 66-11 97-11 99-11 73-11 27-11-24-11-63-10-77-11-61-11-22-11 30-11 73-11 98-11 92-11 60-11 10-10-39-11-72-11-78-11-56-11-12-11 39-11 80-11 96-11 83-11 45-10-6-11-52-11-80-11-78-11-48-11-2-11 49-11 83-11 93-10 73-11 29-11-22-11-64-11-85-11-76-11-40-11 9-11 56-10 86-11 88-11 60-11 13-11-37-11-75-11-88-11-72-11-31-10 19-11 64-11 86-11 80-11 47-11-3-11-52-11-84-11-90-10-66-11-21-11 29-11 69-11 85-11 71-11 32-11-19-11-65-11-92-10-89-11-58-11-12-11 39-11 73-11 81-11 60-11 16-11-34-10-78-11-96-11-87-11-50-11-1-11 46-11 75-11 76-11 47-10 1-11-50z"/>
<path transform="translate(-663.7 -405.3)" d="M1350 4843l11 51 11-1 10-48 11-75 11-75 11-46 11 0 11 51 11 86 11 97 11 77 10 35 11-17 11-60 11-81 11-73 11-38 11 11 11 59 11 89 10 91 11 65 11 19 11-32 11-71 11-84 11-69 11-30 11 22 10 66 11 89 11 85 11 51 11 3 11-47 11-80 11-86 11-63 11-20 10 31 11 72 11 88 11 76 11 37 11-14 11-60 11-87 11-86 10-57 11-9 11 41 11 75 11 85 11 65 11 22 11-30 11-72 10-93 11-84 11-48 11 1 11 49 11 78 11 79 11 53 11 6 10-45 11-83 11-97 11-79 11-39 11 11 11 56 11 78 11 73 10 39 11-11 11-59 11-93 11-97 11-74 11-29 11 21 11 61 11 77 10 63 11 25 11-27 11-73 11-99 11-97 11-67 11-19 11 31 10 65 11 73 11 52 11 9 11-43 11-85 11-104 11-94 11-59 10-8 11 38 11 67 11 68 11 40 11-8 11-58 17 155-11 58-11 7-11-40-11-68-11-67-11-38-11 8-10 59-11 94-11 104-11 85-11 43-11-9-11-52-11-73-11-65-10-31-11 19-11 67-11 97-11 99-11 73-11 27-11-25-11-63-10-76-11-62-11-21-11 29-11 74-11 98-11 92-11 59-11 11-11-39-10-72-11-79-11-56-11-11-11 39-11 80-11 96-11 83-11 45-10-6-11-52-11-80-11-78-11-49-11-1-11 48-11 84-11 93-10 72-11 30-11-22-11-65-11-84-11-76-11-41-11 9-11 57-10 86-11 87-11 60-11 14-11-37-11-75-11-89-11-71-11-32-10 20-11 63-11 86-11 80-11 47-11-2-11-52-11-84-11-90-10-66-11-21-11 29-11 69-11 84-11 71-11 32-11-18-11-66-11-91-10-89-11-59-11-11-11 38-11 73-11 81-11 60-11 17-11-35-10-77-11-97-11-86-11-51-11 0-11 46-11 75-11 76-11 47-10 1-11-50z"/>
<path transform="translate(-655.2 -400.2)" d="M1350 4932l11 50 11-1 10-47 11-76 11-75 11-46 11 0 11 51 11 87 11 96 11 77 10 35 11-17 11-60 11-81 11-73 11-38 11 11 11 59 11 89 10 92 11 65 11 18 11-32 11-70 11-85 11-69 11-29 11 21 10 66 11 90 11 84 11 52 11 2 11-46 11-80 11-87 11-63 11-20 10 32 11 71 11 89 11 75 11 37 11-14 11-60 11-87 11-86 10-57 11-9 11 41 11 76 11 84 11 65 11 22 11-30 11-72 10-93 11-84 11-48 11 1 11 49 11 78 11 80 11 52 11 6 10-45 11-83 11-96 11-80 11-39 11 11 11 56 11 79 11 72 10 39 11-11 11-59 11-92 11-98 11-74 11-29 11 21 11 62 11 76 10 63 11 25 11-27 11-73 11-99 11-97 11-67 11-19 11 31 10 65 11 73 11 52 11 9 11-43 11-85 11-104 11-94 11-59 10-8 11 38 11 67 11 68 11 40 11-7 11-58 17 72-11 58-11 7-11-39-11-68-11-67-11-39-11 9-10 58-11 95-11 104-11 85-11 42-11-8-11-52-11-74-11-65-10-30-11 19-11 67-11 96-11 100-11 72-11 27-11-24-11-63-10-77-11-61-11-22-11 30-11 74-11 97-11 92-11 60-11 10-10-39-11-72-11-78-11-56-11-12-11 40-11 79-11 96-11 83-11 45-10-5-11-53-11-79-11-78-11-49-11-1-11 48-11 84-11 92-10 73-11 29-11-21-11-65-11-85-11-76-11-40-11 9-11 56-10 86-11 88-11 60-11 14-11-38-11-75-11-88-11-72-11-31-10 19-11 64-11 86-11 80-11 47-11-3-11-52-11-84-11-89-10-66-11-22-11 29-11 69-11 85-11 71-11 32-11-19-11-65-10-91-11-89-11-59-11-11-11 38-11 73-11 81-11 60-11 16-11-34-10-77-11-97-11-86-11-51-11-1-11 47-11 75-11 75-11 48-10 0-11-50z"/>
<path transform="translate(-646.8 -395)" d="M1350 4987l11 50 11 0 10-48 11-75 11-75 11-47 11 1 11 51 11 86 11 97 11 77 10 35 11-17 11-60 11-81 11-73 11-38 11 11 11 59 11 89 10 91 11 65 11 19 11-32 11-71 11-85 11-69 11-29 11 22 10 66 11 89 11 85 11 51 11 3 11-47 11-80 11-86 11-64 11-19 10 31 11 72 11 88 11 76 11 37 11-14 11-60 11-88 11-85 10-57 11-9 11 40 11 76 11 85 11 65 11 21 11-29 11-73 10-92 11-84 11-48 11 1 11 49 11 78 11 79 11 53 11 6 10-45 11-84 11-96 11-79 11-39 11 11 11 56 11 78 11 72 10 39 11-10 11-60 11-92 11-97 11-74 11-29 11 21 11 61 11 77 10 63 11 24 11-26 11-73 11-100 11-96 11-67 11-19 11 30 10 65 11 74 11 52 11 9 11-43 11-85 11-104 11-95 11-58 10-9 11 39 11 67 11 68 11 39 11-7 11-58 17-26-11 58-11 8-11-40-11-68-11-67-11-39-11 9-10 58-11 95-11 104-11 85-11 43-11-9-11-52-11-73-11-66-10-30-11 19-11 67-11 97-11 99-11 73-11 26-11-24-11-63-10-77-11-61-11-21-11 29-11 74-11 97-11 92-11 60-11 10-10-39-11-72-11-78-11-56-11-11-11 39-11 79-11 96-11 84-11 45-10-6-11-53-11-79-11-78-11-49-11-1-11 48-11 84-11 92-10 73-11 30-11-22-11-65-11-85-11-76-11-40-11 9-11 57-10 86-11 87-11 60-11 14-11-37-11-76-11-88-11-72-11-31-10 19-11 64-11 86-11 80-11 47-11-3-11-51-11-85-11-89-10-66-11-22-11 29-11 70-11 84-11 71-11 32-11-19-11-65-10-91-11-89-11-59-11-11-11 38-11 73-11 81-11 60-11 17-11-35-10-77-11-97-11-86-11-51-11-1-11 47-11 75-11 75-11 48-10 0-11-50z"/>
<path transform="translate(-638.3 -389.9)" d="M1350 4994l11 50 11-1 10-47 11-76 11-75 11-46 11 1 11 50 11 87 11 96 11 77 10 35 11-16 11-60 11-82 11-72 11-39 11 11 11 59 11 89 10 92 11 65 11 19 11-32 11-71 11-85 11-69 11-29 11 21 10 66 11 90 11 84 11 52 11 2 11-46 11-80 11-87 11-63 11-20 10 32 11 72 11 88 11 75 11 37 11-13 11-61 11-87 11-86 10-56 11-10 11 41 11 76 11 85 11 64 11 22 11-30 11-72 10-93 11-83 11-49 11 2 11 48 11 78 11 80 11 52 11 6 10-45 11-83 11-96 11-80 11-39 11 12 11 55 11 79 11 72 10 39 11-11 11-59 11-92 11-98 11-74 11-29 11 22 11 61 11 77 10 63 11 24 11-27 11-73 11-99 11-97 11-67 11-19 11 31 10 65 11 73 11 52 11 9 11-42 11-85 11-105 11-94 11-58 10-9 11 38 11 68 11 67 11 40 11-7 11-58 17-109-11 58-11 7-11-39-11-68-11-67-11-39-11 9-10 58-11 95-11 104-11 85-11 43-11-9-11-52-11-74-11-65-10-30-11 19-11 67-11 96-11 100-11 73-11 26-11-24-11-63-10-77-11-61-11-21-11 29-11 74-11 97-11 92-11 60-11 10-10-39-11-72-11-78-11-56-11-12-11 40-11 79-11 96-11 83-11 45-10-5-11-53-11-79-11-78-11-49-11-1-11 48-11 84-11 92-10 73-11 29-11-21-11-65-11-85-11-76-11-40-11 9-11 57-10 85-11 88-11 60-11 14-11-37-11-76-11-88-11-72-11-31-10 19-11 64-11 86-11 80-11 47-11-3-11-51-11-85-11-89-10-66-11-22-11 29-11 69-11 85-11 71-11 32-11-19-11-65-10-91-11-89-11-59-11-11-11 38-11 73-11 81-11 60-11 17-11-35-10-77-11-97-11-86-11-51-11-1-11 47-11 75-11 75-11 48-10 0-11-50z"/>
<path transform="translate(-629.9 -384.7)" d="M1350 4951l11 50 11 0 10-48 11-76 11-74 11-47 11 1 11 50 11 87 11 96 11 78 10 34 11-16 11-60 11-81 11-73 11-39 11 12 11 58 11 89 10 92 11 65 11 19 11-32 11-71 11-85 11-69 11-29 11 21 10 66 11 90 11 84 11 52 11 3 11-47 11-80 11-86 11-64 11-19 10 31 11 72 11 88 11 75 11 37 11-13 11-60 11-88 11-86 10-56 11-9 11 40 11 76 11 85 11 64 11 22 11-29 11-73 10-93 11-83 11-49 11 2 11 48 11 79 11 79 11 52 11 6 10-45 11-83 11-96 11-80 11-39 11 12 11 56 11 78 11 72 10 39 11-10 11-60 11-92 11-98 11-73 11-30 11 22 11 61 11 77 10 63 11 24 11-27 11-73 11-99 11-97 11-66 11-19 11 30 10 65 11 73 11 53 11 8 11-42 11-85 11-105 11-94 11-58 10-9 11 39 11 67 11 67 11 40 11-7 11-58 17-148-11 58-11 7-11-40-11-67-11-67-11-39-11 9-10 58-11 94-11 105-11 85-11 42-11-9-11-52-11-73-11-65-10-30-11 18-11 67-11 97-11 99-11 73-11 27-11-24-11-63-10-77-11-61-11-22-11 29-11 74-11 98-11 92-11 59-11 11-11-39-10-72-11-79-11-55-11-12-11 39-11 80-11 96-11 83-11 45-10-6-11-52-11-80-11-78-11-48-11-2-11 49-11 83-11 93-10 72-11 30-11-22-11-64-11-85-11-76-11-41-11 10-11 56-10 86-11 87-11 61-11 13-11-37-11-75-11-88-11-72-11-32-10 20-11 63-11 87-11 80-11 46-11-2-11-52-11-84-11-90-10-66-11-21-11 29-11 69-11 85-11 71-11 32-11-19-11-65-11-92-10-89-11-59-11-11-11 39-11 73-11 81-11 60-11 16-11-35-10-77-11-96-11-87-11-50-11-1-11 46-11 75-11 76-11 47-10 1-11-50z"/>
<path transform="translate(-621.4 -379.5)" d="M1350 4875l11 50 11-1 10-47 11-76 11-75 11-46 11 1 11 50 11 87 11 96 11 77 10 35 11-16 11-60 11-81 11-73 11-39 11 11 11 59 11 89 10 92 11 65 11 19 11-32 11-71 11-85 11-69 11-29 11 21 10 66 11 90 11 84 11 52 11 3 11-47 11-80 11-87 11-63 11-19 10 31 11 72 11 88 11 75 11 37 11-13 11-61 11-87 11-86 10-56 11-10 11 41 11 76 11 85 11 64 11 22 11-29 11-73 10-93 11-83 11-49 11 2 11 48 11 78 11 80 11 52 11 6 10-45 11-83 11-96 11-80 11-39 11 12 11 55 11 79 11 72 10 39 11-11 11-59 11-92 11-98 11-73 11-30 11 22 11 61 11 77 10 63 11 24 11-27 11-73 11-99 11-97 11-66 11-19 11 30 10 65 11 73 11 52 11 9 11-42 11-85 11-105 11-94 11-58 10-9 11 39 11 67 11 67 11 40 11-7 11-58 17-132-11 58-11 7-11-39-11-68-11-67-11-39-11 9-10 58-11 95-11 104-11 85-11 43-11-9-11-52-11-74-11-65-10-30-11 19-11 67-11 96-11 100-11 73-11 26-11-24-11-63-10-77-11-61-11-21-11 29-11 74-11 97-11 92-11 60-11 10-10-39-11-72-11-78-11-56-11-12-11 40-11 79-11 96-11 83-11 45-10-5-11-53-11-79-11-78-11-49-11-1-11 48-11 84-11 92-10 73-11 29-11-21-11-65-11-85-11-76-11-40-11 9-11 57-10 85-11 88-11 60-11 14-11-37-11-76-11-88-11-72-11-31-10 19-11 64-11 86-11 80-11 47-11-3-11-51-11-85-11-89-10-66-11-22-11 29-11 69-11 85-11 71-11 32-11-19-11-65-10-91-11-89-11-59-11-11-11 38-11 73-11 81-11 60-11 17-11-35-10-77-11-97-11-86-11-51-11-1-11 47-11 75-11 75-11 48-10 0-11-50z"/>
<path transform="translate(-613 -374.4)" d="M1350 4793l11 50 11-1 10-48 11-75 11-75 11-46 11 0 11 51 11 86 11 97 11 77 10 35 11-17 11-60 11-81 11-73 11-38 11 11 11 59 11 89 10 91 11 65 11 19 11-32 11-71 11-84 11-69 11-30 11 22 10 66 11 90 11 84 11 52 11 2 11-47 11-80 11-86 11-63 11-20 10 32 11 71 11 88 11 76 11 37 11-14 11-60 11-87 11-86 10-57 11-9 11 41 11 75 11 85 11 65 11 22 11-30 11-72 10-93 11-84 11-48 11 1 11 49 11 78 11 80 11 52 11 6 10-45 11-83 11-96 11-80 11-39 11 11 11 56 11 79 11 72 10 39 11-11 11-59 11-93 11-97 11-74 11-29 11 21 11 61 11 77 10 63 11 25 11-27 11-73 11-99 11-97 11-67 11-19 11 31 10 65 11 73 11 52 11 9 11-43 11-85 11-104 11-94 11-59 10-8 11 38 11 67 11 68 11 40 11-8 11-57 17-65-11 58-11 7-11-40-11-67-11-68-11-38-11 8-10 59-11 94-11 105-11 84-11 43-11-9-11-52-11-73-11-65-10-31-11 19-11 67-11 97-11 99-11 73-11 27-11-24-11-63-10-77-11-62-11-21-11 29-11 74-11 98-11 92-11 59-11 11-10-39-11-72-11-79-11-55-11-12-11 39-11 80-11 96-11 83-11 45-10-6-11-52-11-80-11-78-11-49-11-1-11 49-11 83-11 93-10 72-11 30-11-22-11-64-11-85-11-76-11-41-11 9-11 57-10 86-11 87-11 61-11 13-11-37-11-75-11-89-11-71-11-32-10 20-11 63-11 87-11 80-11 46-11-2-11-52-11-84-11-90-10-66-11-21-11 29-11 69-11 85-11 70-11 33-11-19-11-65-10-92-11-89-11-59-11-11-11 39-11 72-11 81-11 60-11 17-11-35-10-77-11-96-11-87-11-50-11-1-11 46-11 75-11 76-11 47-10 1-11-50z"/>
<path transform="translate(-604.5 -369.2)" d="M1350 4733l11 50 11-1 10-47 11-76 11-75 11-46 11 1 11 50 11 87 11 96 11 77 10 35 11-16 11-60 11-81 11-73 11-39 11 12 11 58 11 89 10 92 11 65 11 19 11-32 11-71 11-85 11-69 11-29 11 21 10 66 11 90 11 84 11 52 11 3 11-47 11-80 11-87 11-63 11-19 10 31 11 72 11 88 11 75 11 37 11-13 11-61 11-87 11-86 10-56 11-10 11 41 11 76 11 85 11 64 11 22 11-29 11-73 10-93 11-83 11-49 11 2 11 48 11 78 11 80 11 52 11 6 10-45 11-83 11-96 11-80 11-39 11 12 11 55 11 79 11 72 10 39 11-10 11-60 11-92 11-98 11-73 11-30 11 22 11 61 11 77 10 63 11 24 11-27 11-73 11-99 11-97 11-66 11-19 11 30 10 65 11 73 11 53 11 8 11-42 11-85 11-105 11-94 11-58 10-9 11 39 11 67 11 67 11 40 11-7 11-58 17 30-11 58-11 7-11-40-11-67-11-67-11-39-11 9-10 58-11 94-11 105-11 85-11 42-11-8-11-53-11-73-11-65-10-30-11 19-11 66-11 97-11 99-11 73-11 27-11-24-11-63-10-77-11-61-11-22-11 30-11 73-11 98-11 92-11 60-11 10-11-39-10-72-11-78-11-56-11-12-11 39-11 80-11 96-11 83-11 45-10-6-11-52-11-79-11-79-11-48-11-2-11 49-11 83-11 93-10 73-11 29-11-22-11-64-11-85-11-76-11-40-11 9-11 56-10 86-11 88-11 60-11 13-11-37-11-75-11-88-11-72-11-31-10 19-11 64-11 86-11 80-11 47-11-3-11-52-11-84-11-90-10-66-11-21-11 29-11 69-11 85-11 71-11 32-11-19-11-65-11-92-10-89-11-58-11-12-11 39-11 73-11 81-11 60-11 16-11-34-10-78-11-96-11-87-11-50-11-1-11 47-11 74-11 76-11 48-10 0-11-50z"/>
<path transform="translate(-596 -364)" d="M1350 4717l11 51 11-1 10-48 11-75 11-75 11-46 11 0 11 51 11 86 11 97 11 77 10 35 11-17 11-60 11-81 11-73 11-38 11 11 11 59 11 89 10 91 11 65 11 19 11-32 11-71 11-84 11-69 11-30 11 22 10 66 11 89 11 85 11 51 11 3 11-47 11-80 11-86 11-64 11-19 10 31 11 72 11 88 11 76 11 37 11-14 11-60 11-87 11-86 10-57 11-9 11 41 11 75 11 85 11 65 11 22 11-30 11-72 10-93 11-84 11-48 11 1 11 49 11 78 11 79 11 53 11 6 10-45 11-83 11-97 11-79 11-39 11 11 11 56 11 78 11 73 10 38 11-10 11-60 11-92 11-97 11-74 11-29 11 21 11 61 11 77 10 63 11 24 11-26 11-73 11-99 11-97 11-67 11-19 11 31 10 65 11 73 11 52 11 9 11-43 11-85 11-104 11-94 11-59 10-8 11 38 11 67 11 68 11 40 11-8 11-58 17 122-11 58-11 7-11-40-11-68-11-67-11-38-11 8-10 59-11 94-11 104-11 85-11 43-11-9-11-52-11-73-11-65-10-31-11 19-11 67-11 97-11 99-11 73-11 27-11-25-11-63-10-76-11-62-11-21-11 29-11 74-11 98-11 92-11 59-11 11-11-39-10-72-11-79-11-56-11-11-11 39-11 80-11 96-11 83-11 45-10-6-11-52-11-80-11-78-11-49-11-1-11 48-11 84-11 93-10 72-11 30-11-22-11-65-11-84-11-76-11-41-11 9-11 57-10 86-11 87-11 60-11 14-11-37-11-75-11-89-11-71-11-32-10 20-11 63-11 87-11 80-11 46-11-2-11-52-11-84-11-90-10-66-11-21-11 29-11 69-11 85-11 70-11 32-11-18-11-65-11-92-10-89-11-59-11-11-11 38-11 73-11 81-11 60-11 17-11-35-10-77-11-96-11-87-11-51-11 0-11 46-11 75-11 76-11 47-10 1-11-50z"/>
<path transform="translate(-587.6 -358.9)" d="M1350 4753l11 50 11-1 10-47 11-76 11-75 11-46 11 1 11 50 11 87 11 96 11 77 10 35 11-17 11-60 11-81 11-73 11-38 11 11 11 59 11 89 10 92 11 65 11 18 11-32 11-70 11-85 11-69 11-29 11 21 10 66 11 90 11 84 11 52 11 2 11-46 11-80 11-87 11-63 11-20 10 32 11 71 11 89 11 75 11 37 11-14 11-60 11-87 11-86 10-57 11-9 11 41 11 76 11 84 11 65 11 22 11-30 11-72 10-93 11-84 11-48 11 1 11 49 11 78 11 80 11 52 11 6 10-45 11-83 11-96 11-80 11-39 11 12 11 55 11 79 11 72 10 39 11-11 11-59 11-92 11-98 11-74 11-29 11 21 11 62 11 76 10 63 11 25 11-27 11-73 11-99 11-97 11-67 11-19 11 31 10 65 11 73 11 52 11 9 11-43 11-85 11-104 11-94 11-59 10-8 11 38 11 67 11 68 11 40 11-7 11-58 17 178-11 58-11 7-11-40-11-67-11-67-11-39-11 9-10 58-11 94-11 105-11 85-11 42-11-9-11-52-11-73-11-65-10-31-11 19-11 67-11 97-11 99-11 73-11 27-11-24-11-63-10-77-11-61-11-22-11 29-11 74-11 98-11 92-11 59-11 11-11-39-10-72-11-79-11-55-11-12-11 39-11 80-11 96-11 83-11 45-10-6-11-52-11-80-11-78-11-48-11-2-11 49-11 83-11 93-10 72-11 30-11-22-11-64-11-85-11-76-11-41-11 10-11 56-10 86-11 87-11 61-11 13-11-37-11-75-11-88-11-72-11-32-10 20-11 63-11 87-11 80-11 46-11-2-11-52-11-84-11-90-10-66-11-21-11 29-11 69-11 85-11 71-11 32-11-19-11-65-11-92-10-89-11-59-11-11-11 39-11 72-11 82-11 60-11 16-11-35-10-77-11-96-11-87-11-50-11-1-11 46-11 75-11 76-11 47-10 1-11-50z"/>
<path transform="translate(-579.1 -353.7)" d="M1350 4828l11 50 11 0 10-48 11-75 11-75 11-47 11 1 11 51 11 86 11 97 11 77 10 35 11-17 11-60 11-81 11-73 11-38 11 11 11 59 11 89 10 91 11 65 11 19 11-32 11-71 11-84 11-70 11-29 11 22 10 66 11 89 11 85 11 51 11 3 11-47 11-80 11-86 11-64 11-19 10 31 11 72 11 88 11 76 11 37 11-14 11-60 11-87 11-86 10-57 11-9 11 40 11 76 11 85 11 65 11 22 11-30 11-73 10-92 11-84 11-48 11 1 11 49 11 78 11 79 11 53 11 6 10-45 11-84 11-96 11-79 11-39 11 11 11 56 11 78 11 72 10 39 11-10 11-60 11-92 11-97 11-74 11-29 11 21 11 61 11 77 10 63 11 24 11-26 11-73 11-99 11-97 11-67 11-19 11 30 10 66 11 73 11 52 11 9 11-43 11-85 11-104 11-95 11-58 10-9 11 39 11 67 11 68 11 40 11-8 11-58 17 182-11 58-11 7-11-40-11-67-11-67-11-39-11 9-10 58-11 94-11 105-11 85-11 42-11-8-11-52-11-74-11-65-10-30-11 19-11 66-11 97-11 99-11 73-11 27-11-24-11-63-10-77-11-61-11-22-11 30-11 74-11 97-11 92-11 60-11 10-11-39-10-72-11-78-11-56-11-12-11 40-11 79-11 96-11 83-11 45-10-5-11-53-11-79-11-79-11-48-11-2-11 49-11 83-11 93-10 73-11 29-11-21-11-65-11-85-11-76-11-40-11 9-11 56-10 86-11 88-11 60-11 14-11-38-11-75-11-88-11-72-11-31-10 19-11 64-11 86-11 80-11 47-11-3-11-52-11-84-11-90-10-66-11-21-11 29-11 69-11 85-11 71-11 32-11-19-11-65-11-91-10-89-11-59-11-11-11 38-11 73-11 81-11 60-11 16-11-34-10-78-11-96-11-87-11-50-11-1-11 47-11 75-11 75-11 48-10 0-11-50z"/>
<path transform="translate(-570.7 -348.5)" d="M1350 4920l11 51 11-1 10-48 11-75 11-75 11-46 11 0 11 51 11 86 11 97 11 77 10 35 11-17 11-60 11-81 11-73 11-38 11 11 11 59 11 89 10 91 11 65 11 19 11-32 11-71 11-84 11-69 11-30 11 22 10 66 11 90 11 84 11 51 11 3 11-47 11-80 11-86 11-63 11-20 10 31 11 72 11 88 11 76 11 37 11-14 11-60 11-87 11-86 10-57 11-9 11 41 11 75 11 85 11 65 11 22 11-30 11-72 10-93 11-84 11-48 11 1 11 49 11 78 11 80 11 52 11 6 10-45 11-83 11-97 11-79 11-39 11 11 11 56 11 78 11 73 10 39 11-11 11-59 11-93 11-97 11-74 11-29 11 21 11 61 11 77 10 63 11 25 11-27 11-73 11-99 11-97 11-67 11-19 11 31 10 65 11 73 11 52 11 9 11-43 11-85 11-104 11-94 11-59 10-8 11 38 11 67 11 68 11 40 11-8 11-58 17 131-11 58-11 7-11-39-11-68-11-67-11-39-11 9-10 58-11 95-11 104-11 85-11 43-11-9-11-52-11-74-11-65-10-30-11 19-11 67-11 96-11 100-11 73-11 26-11-24-11-63-10-77-11-61-11-21-11 29-11 74-11 97-11 92-11 60-11 10-11-39-10-72-11-78-11-56-11-12-11 40-11 79-11 96-11 83-11 45-10-5-11-53-11-79-11-78-11-49-11-1-11 48-11 84-11 92-10 73-11 29-11-21-11-65-11-85-11-76-11-40-11 9-11 56-10 86-11 88-11 60-11 14-11-38-11-75-11-88-11-72-11-31-10 19-11 64-11 86-11 80-11 47-11-3-11-52-11-84-11-89-10-66-11-22-11 29-11 69-11 85-11 71-11 32-11-19-11-65-10-91-11-89-11-59-11-11-11 38-11 73-11 81-11 60-11 16-11-34-10-77-11-97-11-86-11-51-11-1-11 47-11 75-11 75-11 48-10 0-11-50z"/>
<path transform="translate(-562.2 -343.4)" d="M1350 5000l11 50 11-1 10-47 11-76 11-75 11-46 11 1 11 50 11 87 11 96 11 77 10 35 11-17 11-60 11-81 11-72 11-39 11 11 11 59 11 89 10 92 11 65 11 19 11-33 11-70 11-85 11-69 11-29 11 21 10 66 11 90 11 84 11 52 11 2 11-46 11-80 11-87 11-63 11-20 10 32 11 71 11 89 11 75 11 37 11-13 11-61 11-87 11-86 10-57 11-9 11 41 11 76 11 85 11 64 11 22 11-30 11-72 10-93 11-83 11-49 11 1 11 49 11 78 11 80 11 52 11 6 10-45 11-83 11-96 11-80 11-39 11 12 11 55 11 79 11 72 10 39 11-11 11-59 11-92 11-98 11-74 11-29 11 21 11 62 11 77 10 63 11 24 11-27 11-73 11-99 11-97 11-67 11-19 11 31 10 65 11 73 11 52 11 9 11-43 11-84 11-105 11-94 11-59 10-8 11 38 11 68 11 67 11 40 11-7 11-58 17 41-11 58-11 8-11-40-11-68-11-67-11-38-11 8-10 59-11 94-11 104-11 85-11 43-11-9-11-52-11-73-11-65-10-31-11 19-11 67-11 97-11 99-11 73-11 26-11-24-11-63-10-77-11-61-11-21-11 29-11 74-11 97-11 92-11 60-11 10-11-38-10-73-11-78-11-56-11-11-11 39-11 79-11 97-11 83-11 45-10-6-11-53-11-79-11-78-11-49-11-1-11 48-11 84-11 93-10 72-11 30-11-22-11-65-11-85-11-75-11-41-11 9-11 57-10 86-11 87-11 60-11 14-11-37-11-76-11-88-11-72-11-31-10 19-11 64-11 86-11 80-11 47-11-3-11-51-11-85-11-89-10-66-11-22-11 30-11 69-11 84-11 71-11 32-11-19-11-65-11-91-10-89-11-59-11-11-11 38-11 73-11 81-11 60-11 17-11-35-10-77-11-97-11-86-11-51-11 0-11 46-11 75-11 75-11 48-10 1-11-51z"/>
<path transform="translate(-553.8 -338.2)" d="M1350 5041l11 50 11-1 10-47 11-76 11-75 11-46 11 1 11 50 11 87 11 96 11 77 10 35 11-16 11-60 11-82 11-72 11-39 11 11 11 59 11 89 10 92 11 65 11 19 11-32 11-71 11-85 11-69 11-29 11 21 10 66 11 90 11 84 11 52 11 2 11-46 11-80 11-87 11-63 11-20 10 32 11 72 11 88 11 75 11 37 11-13 11-61 11-87 11-86 10-56 11-10 11 41 11 76 11 85 11 64 11 22 11-30 11-72 10-93 11-83 11-49 11 2 11 48 11 78 11 80 11 52 11 6 10-45 11-83 11-96 11-80 11-39 11 12 11 55 11 79 11 72 10 39 11-11 11-59 11-92 11-98 11-74 11-29 11 22 11 61 11 77 10 63 11 24 11-27 11-73 11-99 11-97 11-67 11-18 11 30 10 65 11 73 11 52 11 9 11-42 11-85 11-105 11-94 11-58 10-9 11 39 11 67 11 67 11 40 11-7 11-58 17-56-11 58-11 7-11-39-11-68-11-67-11-39-11 9-10 58-11 95-11 104-11 85-11 42-11-8-11-52-11-74-11-65-10-30-11 19-11 66-11 97-11 99-11 73-11 27-11-24-11-63-10-77-11-61-11-22-11 30-11 74-11 97-11 92-11 60-11 10-11-39-10-72-11-78-11-56-11-12-11 40-11 79-11 96-11 83-11 45-10-5-11-53-11-79-11-78-11-49-11-2-11 49-11 83-11 93-10 73-11 29-11-21-11-65-11-85-11-76-11-40-11 9-11 56-10 86-11 88-11 60-11 14-11-38-11-75-11-88-11-72-11-31-10 19-11 64-11 86-11 80-11 47-11-3-11-52-11-84-11-90-10-66-11-21-11 29-11 69-11 85-11 71-11 32-11-19-11-65-11-91-10-89-11-59-11-11-11 38-11 73-11 81-11 60-11 16-11-34-10-78-11-96-11-87-11-50-11-1-11 47-11 75-11 75-11 48-10 0-11-50z"/>
<path transform="translate(-545.3 -333.1)" d="M1350 5031l11 50 11 0 10-48 11-75 11-75 11-47 11 1 11 51 11 86 11 97 11 77 10 34 11-16 11-60 11-81 11-73 11-38 11 11 11 59 11 89 10 91 11 65 11 19 11-32 11-71 11-85 11-69 11-29 11 21 10 67 11 89 11 84 11 52 11 3 11-47 11-80 11-86 11-64 11-19 10 31 11 72 11 88 11 75 11 38 11-14 11-60 11-88 11-86 10-56 11-9 11 40 11 76 11 85 11 65 11 21 11-29 11-73 10-92 11-84 11-48 11 1 11 49 11 78 11 79 11 53 11 5 10-45 11-83 11-96 11-79 11-40 11 12 11 56 11 78 11 72 10 39 11-10 11-60 11-92 11-97 11-74 11-30 11 22 11 61 11 77 10 63 11 24 11-27 11-72 11-100 11-97 11-66 11-19 11 30 10 65 11 74 11 52 11 8 11-42 11-85 11-104 11-95 11-58 10-9 11 39 11 67 11 68 11 39 11-7 11-58 17-129-11 58-11 7-11-40-11-68-11-67-11-38-11 8-10 59-11 94-11 104-11 85-11 43-11-9-11-52-11-73-11-65-10-31-11 19-11 67-11 97-11 99-11 73-11 27-11-25-11-63-10-76-11-62-11-21-11 29-11 74-11 98-11 92-11 59-11 11-10-39-11-72-11-79-11-56-11-11-11 39-11 80-11 96-11 83-11 45-10-6-11-52-11-80-11-78-11-49-11-1-11 48-11 84-11 93-10 72-11 30-11-22-11-65-11-84-11-76-11-41-11 9-11 57-10 86-11 87-11 60-11 14-11-37-11-75-11-89-11-71-11-32-10 20-11 63-11 87-11 80-11 46-11-2-11-52-11-84-11-90-10-66-11-21-11 29-11 69-11 85-11 70-11 32-11-18-11-65-10-92-11-89-11-59-11-11-11 38-11 73-11 81-11 60-11 17-11-35-10-77-11-96-11-87-11-51-11 0-11 46-11 75-11 76-11 47-10 1-11-50z"/>
<path transform="translate(-536.9 -327.9)" d="M1350 4975l11 50 11-1 10-47 11-76 11-75 11-46 11 1 11 50 11 87 11 96 11 77 10 35 11-17 11-60 11-81 11-72 11-39 11 11 11 59 11 89 10 92 11 65 11 19 11-33 11-70 11-85 11-69 11-29 11 21 10 66 11 90 11 84 11 52 11 2 11-46 11-80 11-87 11-63 11-20 10 32 11 71 11 89 11 75 11 37 11-13 11-61 11-87 11-86 10-57 11-9 11 41 11 76 11 85 11 64 11 22 11-30 11-72 10-93 11-83 11-49 11 1 11 49 11 78 11 80 11 52 11 6 10-45 11-83 11-96 11-80 11-39 11 12 11 55 11 79 11 72 10 39 11-11 11-59 11-92 11-98 11-74 11-29 11 21 11 62 11 77 10 63 11 24 11-27 11-73 11-99 11-97 11-67 11-19 11 31 10 65 11 73 11 52 11 9 11-43 11-84 11-105 11-94 11-59 10-8 11 38 11 68 11 67 11 40 11-7 11-58 17-155-11 58-11 7-11-40-11-68-11-67-11-38-11 8-10 59-11 94-11 104-11 85-11 43-11-9-11-52-11-73-11-65-10-31-11 19-11 67-11 97-11 99-11 73-11 27-11-25-11-63-10-76-11-62-11-21-11 29-11 74-11 98-11 92-11 59-11 11-11-39-10-72-11-79-11-56-11-11-11 39-11 80-11 96-11 83-11 45-10-6-11-52-11-80-11-78-11-49-11-1-11 48-11 84-11 93-10 72-11 30-11-22-11-65-11-84-11-76-11-41-11 9-11 57-10 86-11 87-11 60-11 14-11-37-11-75-11-89-11-71-11-32-10 20-11 63-11 87-11 80-11 46-11-2-11-52-11-84-11-90-10-66-11-21-11 29-11 69-11 85-11 70-11 32-11-18-11-65-11-92-10-89-11-59-11-11-11 38-11 73-11 81-11 60-11 17-11-35-10-77-11-96-11-87-11-51-11 0-11 46-11 75-11 76-11 47-10 1-11-50z"/>
<path transform="translate(-528.4 -322.7)" d="M1350 4891l11 50 11 0 10-48 11-75 11-75 11-47 11 1 11 51 11 86 11 97 11 77 10 35 11-17 11-60 11-81 11-73 11-38 11 11 11 59 11 89 10 91 11 65 11 19 11-32 11-71 11-84 11-70 11-29 11 22 10 66 11 89 11 85 11 51 11 3 11-47 11-80 11-86 11-64 11-19 10 31 11 72 11 88 11 76 11 37 11-14 11-60 11-87 11-86 10-57 11-9 11 40 11 76 11 85 11 65 11 22 11-30 11-73 10-92 11-84 11-48 11 1 11 49 11 78 11 79 11 53 11 6 10-45 11-84 11-96 11-79 11-39 11 11 11 56 11 78 11 72 10 39 11-10 11-60 11-92 11-97 11-74 11-29 11 21 11 61 11 77 10 63 11 24 11-26 11-73 11-99 11-97 11-67 11-19 11 30 10 66 11 73 11 52 11 9 11-43 11-85 11-104 11-95 11-58 10-9 11 39 11 67 11 68 11 40 11-8 11-58 17-124-11 58-11 7-11-40-11-67-11-67-11-39-11 9-10 58-11 94-11 105-11 85-11 42-11-8-11-53-11-73-11-65-10-30-11 19-11 66-11 97-11 99-11 73-11 27-11-24-11-63-10-77-11-61-11-22-11 30-11 74-11 97-11 92-11 60-11 10-10-39-11-72-11-78-11-56-11-12-11 39-11 80-11 96-11 83-11 45-10-6-11-52-11-79-11-79-11-48-11-2-11 49-11 83-11 93-10 73-11 29-11-22-11-64-11-85-11-76-11-40-11 9-11 56-10 86-11 88-11 60-11 13-11-37-11-75-11-88-11-72-11-31-10 19-11 64-11 86-11 80-11 47-11-3-11-52-11-84-11-90-10-66-11-21-11 29-11 69-11 85-11 71-11 32-11-19-11-65-11-91-10-90-11-58-11-12-11 39-11 73-11 81-11 60-11 16-11-34-10-78-11-96-11-87-11-50-11-1-11 47-11 74-11 76-11 48-10 0-11-50z"/>
<path transform="translate(-520 -317.6)" d="M1350 4809l11 50 11 0 10-48 11-75 11-75 11-47 11 1 11 51 11 86 11 97 11 77 10 35 11-17 11-60 11-81 11-73 11-38 11 11 11 59 11 89 10 91 11 65 11 19 11-32 11-71 11-84 11-70 11-29 11 22 10 66 11 89 11 85 11 51 11 3 11-47 11-80 11-86 11-64 11-19 10 31 11 72 11 88 11 76 11 37 11-14 11-60 11-87 11-86 10-57 11-9 11 40 11 76 11 85 11 65 11 22 11-30 11-73 10-92 11-84 11-48 11 1 11 49 11 78 11 79 11 53 11 6 10-45 11-84 11-96 11-79 11-39 11 11 11 56 11 78 11 72 10 39 11-10 11-60 11-92 11-97 11-74 11-29 11 21 11 61 11 77 10 63 11 24 11-26 11-73 11-99 11-97 11-67 11-19 11 30 10 66 11 73 11 52 11 9 11-43 11-85 11-104 11-95 11-58 10-9 11 39 11 67 11 68 11 40 11-8 11-58 17-47-11 58-11 7-11-40-11-67-11-68-11-38-11 8-10 59-11 94-11 105-11 85-11 42-11-9-11-52-11-73-11-65-10-31-11 19-11 67-11 97-11 99-11 73-11 27-11-24-11-63-10-77-11-61-11-22-11 29-11 74-11 98-11 92-11 59-11 11-11-39-10-72-11-79-11-55-11-12-11 39-11 80-11 96-11 83-11 45-10-6-11-52-11-80-11-78-11-48-11-2-11 49-11 83-11 93-10 72-11 30-11-22-11-64-11-85-11-76-11-41-11 10-11 56-10 86-11 87-11 61-11 13-11-37-11-75-11-88-11-72-11-32-10 20-11 63-11 87-11 80-11 46-11-2-11-52-11-84-11-90-10-66-11-21-11 29-11 69-11 85-11 71-11 32-11-19-11-65-10-92-11-89-11-59-11-11-11 39-11 72-11 82-11 60-11 16-11-35-10-77-11-96-11-87-11-50-11-1-11 46-11 75-11 76-11 47-10 1-11-50z"/>
<path transform="translate(-511.5 -312.4)" d="M1350 4757l11 50 11-1 10-47 11-76 11-75 11-46 11 1 11 50 11 87 11 96 11 77 10 35 11-17 11-60 11-81 11-73 11-38 11 11 11 59 11 89 10 92 11 65 11 19 11-33 11-70 11-85 11-69 11-29 11 21 10 66 11 90 11 84 11 52 11 2 11-46 11-80 11-87 11-63 11-20 10 32 11 71 11 89 11 75 11 37 11-13 11-61 11-87 11-86 10-57 11-9 11 41 11 76 11 84 11 65 11 22 11-30 11-72 10-93 11-84 11-48 11 1 11 49 11 78 11 80 11 52 11 6 10-45 11-83 11-96 11-80 11-39 11 12 11 55 11 79 11 72 10 39 11-11 11-59 11-92 11-98 11-74 11-29 11 21 11 62 11 76 10 64 11 24 11-27 11-73 11-99 11-97 11-67 11-19 11 31 10 65 11 73 11 52 11 9 11-43 11-85 11-104 11-94 11-59 10-8 11 38 11 67 11 68 11 40 11-7 11-58 17 49-11 58-11 7-11-39-11-68-11-67-11-39-11 9-10 58-11 95-11 104-11 85-11 43-11-9-11-52-11-74-11-65-10-30-11 19-11 67-11 96-11 100-11 73-11 26-11-24-11-63-10-77-11-61-11-21-11 29-11 74-11 97-11 92-11 60-11 10-10-39-11-72-11-78-11-56-11-12-11 40-11 79-11 96-11 83-11 45-10-5-11-53-11-79-11-78-11-49-11-1-11 48-11 84-11 92-10 73-11 29-11-21-11-65-11-85-11-76-11-40-11 9-11 57-10 85-11 88-11 60-11 14-11-37-11-76-11-88-11-72-11-31-10 19-11 64-11 86-11 80-11 47-11-3-11-51-11-85-11-89-10-66-11-22-11 29-11 69-11 85-11 71-11 32-11-19-11-65-10-91-11-89-11-59-11-11-11 38-11 73-11 81-11 60-11 17-11-35-10-77-11-97-11-86-11-51-11-1-11 47-11 75-11 75-11 48-10 0-11-50z"/>
<path transform="translate(-503 -307.2)" d="M1350 4751l11 51 11-1 10-48 11-75 11-75 11-46 11 0 11 51 11 86 11 97 11 77 10 35 11-17 11-60 11-81 11-73 11-38 11 11 11 59 11 89 10 91 11 65 11 19 11-32 11-71 11-84 11-69 11-30 11 22 10 66 11 89 11 85 11 51 11 3 11-47 11-80 11-86 11-63 11-20 10 31 11 72 11 88 11 76 11 37 11-14 11-60 11-87 11-86 10-57 11-9 11 41 11 75 11 85 11 65 11 22 11-30 11-72 10-93 11-84 11-48 11 1 11 49 11 78 11 79 11 53 11 6 10-45 11-83 11-97 11-79 11-39 11 11 11 56 11 78 11 73 10 39 11-11 11-59 11-93 11-97 11-74 11-29 11 21 11 61 11 77 10 63 11 25 11-27 11-73 11-99 11-97 11-67 11-19 11 31 10 65 11 73 11 52 11 9 11-43 11-85 11-104 11-94 11-59 10-8 11 38 11 67 11 68 11 40 11-8 11-58 17 135-11 58-11 7-11-40-11-67-11-67-11-39-11 9-10 58-11 94-11 105-11 85-11 42-11-8-11-53-11-73-11-65-10-30-11 19-11 66-11 97-11 99-11 73-11 27-11-24-11-63-10-77-11-61-11-22-11 30-11 73-11 98-11 92-11 60-11 10-11-39-10-72-11-79-11-55-11-12-11 39-11 80-11 96-11 83-11 45-10-6-11-52-11-80-11-78-11-48-11-2-11 49-11 83-11 93-10 73-11 29-11-22-11-64-11-85-11-76-11-40-11 9-11 56-10 86-11 87-11 61-11 13-11-37-11-75-11-88-11-72-11-31-10 19-11 64-11 86-11 80-11 47-11-3-11-52-11-84-11-90-10-66-11-21-11 29-11 69-11 85-11 71-11 32-11-19-11-65-11-92-10-89-11-58-11-12-11 39-11 73-11 81-11 60-11 16-11-35-10-77-11-96-11-87-11-50-11-1-11 46-11 75-11 76-11 47-10 1-11-50z"/>
<path transform="translate(-494.6 -302.1)" d="M1350 4796l11 50 11-1 10-47 11-76 11-75 11-46 11 1 11 50 11 87 11 96 11 77 10 35 11-16 11-60 11-81 11-73 11-39 11 12 11 58 11 89 10 92 11 65 11 19 11-32 11-71 11-85 11-69 11-29 11 21 10 66 11 90 11 84 11 52 11 3 11-47 11-80 11-87 11-63 11-19 10 31 11 72 11 88 11 75 11 37 11-13 11-61 11-87 11-86 10-56 11-9 11 40 11 76 11 85 11 64 11 22 11-29 11-73 10-93 11-83 11-49 11 2 11 48 11 78 11 80 11 52 11 6 10-45 11-83 11-96 11-80 11-39 11 12 11 55 11 79 11 72 10 39 11-10 11-60 11-92 11-98 11-73 11-30 11 22 11 61 11 77 10 63 11 24 11-27 11-73 11-99 11-97 11-66 11-19 11 30 10 65 11 73 11 53 11 8 11-42 11-85 11-105 11-94 11-58 10-9 11 39 11 67 11 67 11 40 11-7 11-58 17 179-11 58-11 7-11-40-11-67-11-68-11-38-11 8-10 59-11 94-11 105-11 84-11 43-11-9-11-52-11-73-11-65-10-31-11 19-11 67-11 97-11 99-11 73-11 27-11-24-11-63-10-77-11-62-11-21-11 29-11 74-11 98-11 92-11 59-11 11-10-39-11-72-11-79-11-55-11-12-11 39-11 80-11 96-11 83-11 45-10-6-11-52-11-80-11-78-11-49-11-1-11 49-11 83-11 93-10 72-11 30-11-22-11-64-11-85-11-76-11-41-11 9-11 57-10 86-11 87-11 61-11 13-11-37-11-75-11-89-11-71-11-32-10 20-11 63-11 87-11 80-11 46-11-2-11-52-11-84-11-90-10-66-11-21-11 29-11 69-11 85-11 70-11 33-11-19-11-65-10-92-11-89-11-59-11-11-11 39-11 72-11 81-11 60-11 17-11-35-10-77-11-96-11-87-11-50-11-1-11 46-11 75-11 76-11 47-10 1-11-50z"/>
<path transform="translate(-486.1 -296.9)" d="M1350 4876l11 50 11-1 10-47 11-76 11-75 11-46 11 0 11 51 11 87 11 96 11 77 10 35 11-17 11-60 11-81 11-73 11-38 11 11 11 59 11 89 10 91 11 66 11 18 11-32 11-70 11-85 11-69 11-29 11 21 10 66 11 90 11 84 11 52 11 2 11-46 11-81 11-86 11-63 11-20 10 32 11 71 11 89 11 75 11 37 11-14 11-60 11-87 11-86 10-57 11-9 11 41 11 76 11 84 11 65 11 22 11-30 11-72 10-93 11-84 11-48 11 1 11 49 11 78 11 80 11 52 11 6 10-45 11-83 11-96 11-80 11-39 11 11 11 56 11 79 11 72 10 39 11-11 11-59 11-92 11-98 11-74 11-29 11 21 11 62 11 76 10 63 11 25 11-27 11-73 11-99 11-97 11-67 11-19 11 31 10 65 11 73 11 52 11 9 11-43 11-85 11-104 11-94 11-59 10-8 11 38 11 67 11 68 11 40 11-7 11-58 17 167-11 58-11 8-11-40-11-68-11-67-11-39-11 9-10 58-11 95-11 104-11 85-11 43-11-9-11-52-11-73-11-66-10-30-11 19-11 67-11 97-11 99-11 73-11 26-11-24-11-63-10-77-11-61-11-21-11 29-11 74-11 97-11 92-11 60-11 10-10-39-11-72-11-78-11-56-11-11-11 39-11 79-11 96-11 84-11 45-10-6-11-53-11-79-11-78-11-49-11-1-11 48-11 84-11 92-10 73-11 30-11-22-11-65-11-85-11-76-11-40-11 9-11 57-10 86-11 87-11 60-11 14-11-37-11-76-11-88-11-72-11-31-10 19-11 64-11 86-11 80-11 47-11-3-11-51-11-85-11-89-10-66-11-22-11 29-11 70-11 84-11 71-11 32-11-19-11-65-10-91-11-89-11-59-11-11-11 38-11 73-11 81-11 60-11 17-11-35-10-77-11-97-11-86-11-51-11-1-11 47-11 75-11 75-11 48-10 0-11-50z"/>
<path transform="translate(-477.7 -291.7)" d="M1350 4964l11 51 11-1 10-48 11-75 11-75 11-46 11 0 11 51 11 86 11 97 11 77 10 35 11-17 11-60 11-81 11-73 11-38 11 11 11 59 11 89 10 91 11 65 11 19 11-32 11-71 11-84 11-69 11-30 11 22 10 66 11 89 11 85 11 51 11 3 11-47 11-80 11-86 11-64 11-19 10 31 11 72 11 88 11 76 11 37 11-14 11-60 11-87 11-86 10-57 11-9 11 41 11 75 11 85 11 65 11 22 11-30 11-72 10-93 11-84 11-48 11 1 11 49 11 78 11 79 11 53 11 6 10-45 11-83 11-97 11-79 11-39 11 11 11 56 11 78 11 73 10 38 11-10 11-60 11-92 11-97 11-74 11-29 11 21 11 61 11 77 10 63 11 24 11-26 11-73 11-99 11-97 11-67 11-19 11 31 10 65 11 73 11 52 11 9 11-43 11-85 11-104 11-94 11-59 10-8 11 38 11 67 11 68 11 40 11-8 11-58 17 105-11 58-11 7-11-40-11-67-11-67-11-39-11 9-10 58-11 94-11 105-11 85-11 42-11-8-11-53-11-73-11-65-10-30-11 19-11 66-11 97-11 99-11 73-11 27-11-24-11-63-10-77-11-61-11-22-11 30-11 74-11 97-11 92-11 60-11 10-10-39-11-72-11-78-11-56-11-12-11 39-11 80-11 96-11 83-11 45-10-6-11-52-11-79-11-79-11-48-11-2-11 49-11 83-11 93-10 73-11 29-11-22-11-64-11-85-11-76-11-40-11 9-11 56-10 86-11 88-11 60-11 13-11-37-11-75-11-88-11-72-11-31-10 19-11 64-11 86-11 80-11 47-11-3-11-52-11-84-11-90-10-66-11-21-11 29-11 69-11 85-11 71-11 32-11-19-11-65-10-91-11-89-11-59-11-12-11 39-11 73-11 81-11 60-11 16-11-34-10-78-11-96-11-87-11-50-11-1-11 47-11 74-11 76-11 48-10 0-11-50z"/>
<path transform="translate(-469.2 -286.6)" d="M1350 5033l11 50 11 0 10-48 11-76 11-74 11-47 11 1 11 50 11 87 11 96 11 78 10 34 11-16 11-60 11-81 11-73 11-39 11 12 11 58 11 89 10 92 11 65 11 19 11-32 11-71 11-85 11-69 11-29 11 21 10 66 11 90 11 84 11 52 11 3 11-47 11-80 11-86 11-64 11-19 10 31 11 72 11 88 11 75 11 37 11-13 11-60 11-88 11-86 10-56 11-9 11 40 11 76 11 85 11 64 11 22 11-29 11-73 10-93 11-83 11-49 11 2 11 48 11 79 11 79 11 52 11 6 10-45 11-83 11-96 11-80 11-39 11 12 11 56 11 78 11 72 10 39 11-10 11-60 11-92 11-98 11-73 11-30 11 22 11 61 11 77 10 63 11 24 11-27 11-73 11-99 11-97 11-66 11-19 11 30 10 65 11 73 11 53 11 8 11-42 11-85 11-105 11-94 11-58 10-9 11 39 11 67 11 67 11 40 11-7 11-58 17 10-11 58-11 8-11-40-11-68-11-67-11-39-11 9-10 58-11 95-11 104-11 85-11 43-11-9-11-52-11-73-11-66-10-30-11 19-11 67-11 97-11 99-11 73-11 26-11-24-11-63-10-77-11-61-11-21-11 29-11 74-11 97-11 92-11 60-11 10-11-39-10-72-11-78-11-56-11-11-11 39-11 79-11 96-11 84-11 45-10-6-11-53-11-79-11-78-11-49-11-1-11 48-11 84-11 92-10 73-11 30-11-22-11-65-11-85-11-76-11-40-11 9-11 57-10 86-11 87-11 60-11 14-11-37-11-76-11-88-11-72-11-31-10 19-11 64-11 86-11 80-11 47-11-3-11-51-11-85-11-89-10-66-11-22-11 29-11 70-11 84-11 71-11 32-11-19-11-65-11-91-10-89-11-59-11-11-11 38-11 73-11 81-11 60-11 17-11-35-10-77-11-97-11-86-11-51-11-1-11 47-11 75-11 75-11 48-10 0-11-50z"/>
<path transform="translate(-460.8 -281.4)" d="M1350 5059l11 50 11-1 10-47 11-76 11-75 11-46 11 1 11 50 11 87 11 96 11 77 10 35 11-17 11-60 11-81 11-73 11-38 11 11 11 59 11 89 10 92 11 65 11 19 11-33 11-70 11-85 11-69 11-29 11 21 10 66 11 90 11 84 11 52 11 2 11-46 11-80 11-87 11-63 11-20 10 32 11 71 11 89 11 75 11 37 11-13 11-61 11-87 11-86 10-57 11-9 11 41 11 76 11 84 11 65 11 22 11-30 11-72 10-93 11-84 11-48 11 1 11 49 11 78 11 80 11 52 11 6 10-45 11-83 11-96 11-80 11-39 11 12 11 55 11 79 11 72 10 39 11-11 11-59 11-92 11-98 11-74 11-29 11 21 11 62 11 76 10 64 11 24 11-27 11-73 11-99 11-97 11-67 11-19 11 31 10 65 11 73 11 52 11 9 11-43 11-85 11-104 11-94 11-59 10-8 11 38 11 68 11 67 11 40 11-7 11-58 17-84-11 58-11 7-11-40-11-67-11-68-11-38-11 8-10 59-11 94-11 105-11 84-11 43-11-9-11-52-11-73-11-65-10-31-11 19-11 67-11 97-11 99-11 73-11 27-11-24-11-63-10-77-11-62-11-21-11 29-11 74-11 98-11 92-11 59-11 11-11-39-10-72-11-79-11-55-11-12-11 39-11 80-11 96-11 83-11 45-10-6-11-52-11-80-11-78-11-49-11-1-11 49-11 83-11 93-10 72-11 30-11-22-11-64-11-85-11-76-11-41-11 9-11 57-10 86-11 87-11 61-11 13-11-37-11-75-11-89-11-71-11-32-10 20-11 63-11 87-11 80-11 46-11-2-11-52-11-84-11-90-10-66-11-21-11 29-11 69-11 85-11 70-11 33-11-19-11-65-11-92-10-89-11-59-11-11-11 39-11 72-11 81-11 60-11 17-11-35-10-77-11-96-11-87-11-50-11-1-11 46-11 75-11 76-11 47-10 1-11-50z"/>
<path transform="translate(-452.3 -276.3)" d="M1350 5033l11 50 11 0 10-48 11-76 11-74 11-47 11 1 11 50 11 87 11 96 11 78 10 34 11-16 11-60 11-81 11-73 11-39 11 12 11 58 11 89 10 92 11 65 11 19 11-32 11-71 11-85 11-69 11-29 11 21 10 66 11 90 11 84 11 52 11 3 11-47 11-80 11-86 11-64 11-19 10 31 11 72 11 88 11 75 11 37 11-13 11-60 11-88 11-86 10-56 11-9 11 40 11 76 11 85 11 64 11 22 11-29 11-73 10-93 11-83 11-49 11 2 11 48 11 79 11 79 11 52 11 6 10-45 11-83 11-96 11-80 11-39 11 12 11 56 11 78 11 72 10 39 11-10 11-60 11-92 11-98 11-73 11-30 11 22 11 61 11 77 10 63 11 24 11-27 11-73 11-99 11-97 11-66 11-19 11 30 10 65 11 73 11 53 11 8 11-42 11-85 11-105 11-94 11-58 10-9 11 39 11 67 11 67 11 40 11-7 11-58 17-147-11 58-11 7-11-40-11-67-11-67-11-39-11 9-10 58-11 94-11 105-11 85-11 42-11-8-11-53-11-73-11-65-10-30-11 19-11 66-11 97-11 99-11 73-11 27-11-24-11-63-10-77-11-61-11-22-11 30-11 73-11 98-11 92-11 60-11 10-10-39-11-72-11-79-11-55-11-12-11 39-11 80-11 96-11 83-11 45-10-6-11-52-11-80-11-78-11-48-11-2-11 49-11 83-11 93-10 73-11 29-11-22-11-64-11-85-11-76-11-40-11 9-11 56-10 86-11 87-11 61-11 13-11-37-11-75-11-88-11-72-11-31-10 19-11 64-11 86-11 80-11 47-11-3-11-52-11-84-11-90-10-66-11-21-11 29-11 69-11 85-11 71-11 32-11-19-11-65-10-92-11-89-11-58-11-12-11 39-11 73-11 81-11 60-11 16-11-35-10-77-11-96-11-87-11-50-11-1-11 46-11 75-11 76-11 47-10 1-11-50z"/>
<path transform="translate(-443.9 -271.1)" d="M1350 4964l11 51 11-1 10-48 11-75 11-75 11-46 11 0 11 51 11 86 11 97 11 77 10 35 11-17 11-60 11-81 11-73 11-38 11 11 11 59 11 89 10 91 11 65 11 19 11-32 11-71 11-84 11-69 11-30 11 22 10 66 11 89 11 85 11 51 11 3 11-47 11-80 11-86 11-64 11-19 10 31 11 72 11 88 11 76 11 37 11-14 11-60 11-87 11-86 10-57 11-9 11 41 11 75 11 85 11 65 11 22 11-30 11-72 10-93 11-84 11-48 11 1 11 49 11 78 11 79 11 53 11 6 10-45 11-83 11-97 11-79 11-39 11 11 11 56 11 78 11 73 10 38 11-10 11-60 11-92 11-97 11-74 11-29 11 21 11 61 11 77 10 63 11 24 11-26 11-73 11-99 11-97 11-67 11-19 11 31 10 65 11 73 11 52 11 9 11-43 11-85 11-104 11-94 11-59 10-8 11 38 11 67 11 68 11 40 11-8 11-58 17-158-11 58-11 7-11-39-11-68-11-67-11-39-11 9-10 58-11 95-11 104-11 85-11 43-11-9-11-52-11-74-11-65-10-30-11 19-11 67-11 96-11 100-11 73-11 26-11-24-11-63-10-77-11-61-11-21-11 29-11 74-11 97-11 92-11 60-11 10-11-39-10-72-11-78-11-56-11-12-11 40-11 79-11 96-11 83-11 45-10-5-11-53-11-79-11-78-11-49-11-1-11 48-11 84-11 92-10 73-11 29-11-21-11-65-11-85-11-76-11-40-11 9-11 57-10 85-11 88-11 60-11 14-11-37-11-76-11-88-11-72-11-31-10 19-11 64-11 86-11 80-11 47-11-3-11-51-11-85-11-89-10-66-11-22-11 29-11 69-11 85-11 71-11 32-11-19-11-65-11-91-10-89-11-59-11-11-11 38-11 73-11 81-11 60-11 17-11-35-10-77-11-97-11-86-11-51-11-1-11 47-11 75-11 75-11 48-10 0-11-50z"/>
<path transform="translate(-435.4 -265.9)" d="M1350 4876l11 50 11-1 10-47 11-76 11-75 11-46 11 0 11 51 11 87 11 96 11 77 10 35 11-17 11-60 11-81 11-73 11-38 11 11 11 59 11 89 10 91 11 66 11 18 11-32 11-70 11-85 11-69 11-29 11 21 10 66 11 90 11 84 11 52 11 2 11-46 11-81 11-86 11-63 11-20 10 32 11 71 11 89 11 75 11 37 11-14 11-60 11-87 11-86 10-57 11-9 11 41 11 76 11 84 11 65 11 22 11-30 11-72 10-93 11-84 11-48 11 1 11 49 11 78 11 80 11 52 11 6 10-45 11-83 11-96 11-80 11-39 11 11 11 56 11 79 11 72 10 39 11-11 11-59 11-92 11-98 11-74 11-29 11 21 11 62 11 76 10 63 11 25 11-27 11-73 11-99 11-97 11-67 11-19 11 31 10 65 11 73 11 52 11 9 11-43 11-85 11-104 11-94 11-59 10-8 11 38 11 67 11 68 11 40 11-7 11-58 17-114-11 58-11 7-11-40-11-67-11-68-11-38-11 8-10 59-11 94-11 105-11 85-11 42-11-9-11-52-11-73-11-65-10-31-11 19-11 67-11 97-11 99-11 73-11 27-11-24-11-63-10-77-11-61-11-22-11 29-11 74-11 98-11 92-11 59-11 11-11-39-10-72-11-79-11-55-11-12-11 39-11 80-11 96-11 83-11 45-10-6-11-52-11-80-11-78-11-48-11-2-11 49-11 83-11 93-10 72-11 30-11-22-11-64-11-85-11-76-11-41-11 10-11 56-10 86-11 87-11 61-11 13-11-37-11-75-11-88-11-72-11-32-10 20-11 63-11 87-11 80-11 46-11-2-11-52-11-84-11-90-10-66-11-21-11 29-11 69-11 85-11 71-11 32-11-19-11-65-11-92-10-89-11-59-11-11-11 39-11 72-11 82-11 60-11 16-11-35-10-77-11-96-11-87-11-50-11-1-11 46-11 75-11 76-11 47-10 1-11-50z"/>
<path transform="translate(-427 -260.8)" d="M1350 4796l11 50 11-1 10-47 11-76 11-75 11-46 11 1 11 50 11 87 11 96 11 77 10 35 11-16 11-60 11-81 11-73 11-39 11 12 11 58 11 89 10 92 11 65 11 19 11-32 11-71 11-85 11-69 11-29 11 21 10 66 11 90 11 84 11 52 11 3 11-47 11-80 11-87 11-63 11-19 10 31 11 72 11 88 11 75 11 37 11-13 11-61 11-87 11-86 10-56 11-9 11 40 11 76 11 85 11 64 11 22 11-29 11-73 10-93 11-83 11-49 11 2 11 48 11 78 11 80 11 52 11 6 10-45 11-83 11-96 11-80 11-39 11 12 11 55 11 79 11 72 10 39 11-10 11-60 11-92 11-98 11-73 11-30 11 22 11 61 11 77 10 63 11 24 11-27 11-73 11-99 11-97 11-66 11-19 11 30 10 65 11 73 11 53 11 8 11-42 11-85 11-105 11-94 11-58 10-9 11 39 11 67 11 67 11 40 11-7 11-58 17-29-11 58-11 7-11-40-11-67-11-67-11-39-11 9-10 58-11 94-11 105-11 85-11 42-11-8-11-53-11-73-11-65-10-30-11 19-11 66-11 97-11 99-11 73-11 27-11-24-11-63-10-77-11-61-11-22-11 30-11 74-11 97-11 92-11 60-11 10-11-39-10-72-11-78-11-56-11-12-11 39-11 80-11 96-11 83-11 45-10-6-11-52-11-79-11-79-11-48-11-2-11 49-11 83-11 93-10 73-11 29-11-22-11-64-11-85-11-76-11-40-11 9-11 56-10 86-11 88-11 60-11 13-11-37-11-75-11-88-11-72-11-31-10 19-11 64-11 86-11 80-11 47-11-3-11-52-11-84-11-90-10-66-11-21-11 29-11 69-11 85-11 71-11 32-11-19-11-65-11-91-10-90-11-58-11-12-11 39-11 73-11 81-11 60-11 16-11-34-10-78-11-96-11-87-11-50-11-1-11 47-11 74-11 76-11 48-10 0-11-50z"/>
<path transform="translate(-418.5 -255.6)" d="M1350 4751l11 51 11-1 10-48 11-75 11-75 11-46 11 0 11 51 11 86 11 97 11 77 10 35 11-17 11-60 11-81 11-73 11-38 11 11 11 59 11 89 10 91 11 65 11 19 11-32 11-71 11-84 11-69 11-30 11 22 10 66 11 89 11 85 11 51 11 3 11-47 11-80 11-86 11-63 11-20 10 31 11 72 11 88 11 76 11 37 11-14 11-60 11-87 11-86 10-57 11-9 11 41 11 75 11 85 11 65 11 22 11-30 11-72 10-93 11-84 11-48 11 1 11 49 11 78 11 79 11 53 11 6 10-45 11-83 11-97 11-79 11-39 11 11 11 56 11 78 11 73 10 39 11-11 11-59 11-93 11-97 11-74 11-29 11 21 11 61 11 77 10 63 11 25 11-27 11-73 11-99 11-97 11-67 11-19 11 31 10 65 11 73 11 52 11 9 11-43 11-85 11-104 11-94 11-59 10-8 11 38 11 67 11 68 11 40 11-8 11-58 17 69-11 58-11 7-11-40-11-68-11-67-11-38-11 8-10 59-11 94-11 104-11 85-11 43-11-9-11-52-11-73-11-65-10-31-11 19-11 67-11 97-11 99-11 73-11 27-11-25-11-63-10-76-11-62-11-21-11 29-11 74-11 98-11 92-11 59-11 11-11-39-10-72-11-79-11-56-11-11-11 39-11 80-11 96-11 83-11 45-10-6-11-52-11-80-11-78-11-49-11-1-11 48-11 84-11 93-10 72-11 30-11-22-11-65-11-84-11-76-11-41-11 9-11 57-10 86-11 87-11 60-11 14-11-37-11-75-11-89-11-71-11-32-10 20-11 63-11 87-11 80-11 46-11-2-11-52-11-84-11-90-10-66-11-21-11 29-11 69-11 85-11 70-11 32-11-18-11-65-11-92-10-89-11-59-11-11-11 38-11 73-11 81-11 60-11 17-11-35-10-77-11-96-11-87-11-51-11 0-11 46-11 75-11 76-11 47-10 1-11-50z"/>
<path transform="translate(-410 -250.4)" d="M1350 4757l11 50 11-1 10-47 11-76 11-75 11-46 11 1 11 50 11 87 11 96 11 77 10 35 11-17 11-60 11-81 11-73 11-38 11 11 11 59 11 89 10 92 11 65 11 19 11-33 11-70 11-85 11-69 11-29 11 21 10 66 11 90 11 84 11 52 11 2 11-46 11-80 11-87 11-63 11-20 10 32 11 71 11 89 11 75 11 37 11-13 11-61 11-87 11-86 10-57 11-9 11 41 11 76 11 84 11 65 11 22 11-30 11-72 10-93 11-84 11-48 11 1 11 49 11 78 11 80 11 52 11 6 10-45 11-83 11-96 11-80 11-39 11 12 11 55 11 79 11 72 10 39 11-11 11-59 11-92 11-98 11-74 11-29 11 21 11 62 11 76 10 64 11 24 11-27 11-73 11-99 11-97 11-67 11-19 11 31 10 65 11 73 11 52 11 9 11-43 11-85 11-104 11-94 11-59 10-8 11 38 11 67 11 68 11 40 11-7 11-58 17 145-11 58-11 7-11-40-11-68-11-67-11-38-11 8-10 59-11 94-11 104-11 85-11 43-11-9-11-52-11-73-11-65-10-31-11 19-11 67-11 97-11 99-11 73-11 27-11-25-11-63-10-76-11-62-11-21-11 29-11 74-11 98-11 92-11 59-11 11-11-39-10-72-11-79-11-56-11-11-11 39-11 80-11 96-11 83-11 45-10-6-11-52-11-80-11-78-11-49-11-1-11 48-11 84-11 93-10 72-11 30-11-22-11-65-11-84-11-76-11-41-11 9-11 57-10 86-11 87-11 60-11 14-11-37-11-75-11-89-11-71-11-32-10 20-11 63-11 87-11 80-11 46-11-2-11-52-11-84-11-90-10-66-11-21-11 29-11 69-11 85-11 70-11 32-11-18-11-65-11-92-10-89-11-59-11-11-11 38-11 73-11 81-11 60-11 17-11-35-10-77-11-96-11-87-11-51-11 0-11 46-11 75-11 76-11 47-10 1-11-50z"/>
<path transform="translate(-401.6 -245.3)" d="M1350 4809l11 50 11 0 10-48 11-75 11-75 11-47 11 1 11 51 11 86 11 97 11 77 10 35 11-17 11-60 11-81 11-73 11-38 11 11 11 59 11 89 10 91 11 65 11 19 11-32 11-71 11-84 11-70 11-29 11 22 10 66 11 89 11 85 11 51 11 3 11-47 11-80 11-86 11-64 11-19 10 31 11 72 11 88 11 76 11 37 11-14 11-60 11-87 11-86 10-57 11-9 11 40 11 76 11 85 11 65 11 22 11-30 11-73 10-92 11-84 11-48 11 1 11 49 11 78 11 79 11 53 11 6 10-45 11-84 11-96 11-79 11-39 11 11 11 56 11 78 11 72 10 39 11-10 11-60 11-92 11-97 11-74 11-29 11 21 11 61 11 77 10 63 11 24 11-26 11-73 11-99 11-97 11-67 11-19 11 30 10 66 11 73 11 52 11 9 11-43 11-85 11-104 11-95 11-58 10-9 11 39 11 67 11 68 11 40 11-8 11-58 17 176-11 58-11 7-11-39-11-68-11-67-11-39-11 9-10 58-11 95-11 104-11 85-11 42-11-8-11-52-11-74-11-65-10-30-11 19-11 66-11 97-11 99-11 73-11 27-11-24-11-63-10-77-11-61-11-22-11 30-11 74-11 97-11 92-11 60-11 10-10-39-11-72-11-78-11-56-11-12-11 40-11 79-11 96-11 83-11 45-10-5-11-53-11-79-11-78-11-49-11-2-11 49-11 83-11 93-10 73-11 29-11-21-11-65-11-85-11-76-11-40-11 9-11 56-10 86-11 88-11 60-11 14-11-38-11-75-11-88-11-72-11-31-10 19-11 64-11 86-11 80-11 47-11-3-11-52-11-84-11-90-10-66-11-21-11 29-11 69-11 85-11 71-11 32-11-19-11-65-11-91-10-89-11-59-11-11-11 38-11 73-11 81-11 60-11 16-11-34-10-78-11-96-11-87-11-50-11-1-11 47-11 75-11 75-11 48-10 0-11-50z"/>
<path transform="translate(-393.1 -240.1)" d="M1350 4891l11 50 11 0 10-48 11-75 11-75 11-47 11 1 11 51 11 86 11 97 11 77 10 35 11-17 11-60 11-81 11-73 11-38 11 11 11 59 11 89 10 91 11 65 11 19 11-32 11-71 11-84 11-70 11-29 11 22 10 66 11 89 11 85 11 51 11 3 11-47 11-80 11-86 11-64 11-19 10 31 11 72 11 88 11 76 11 37 11-14 11-60 11-87 11-86 10-57 11-9 11 40 11 76 11 85 11 65 11 22 11-30 11-73 10-92 11-84 11-48 11 1 11 49 11 78 11 79 11 53 11 6 10-45 11-84 11-96 11-79 11-39 11 11 11 56 11 78 11 72 10 39 11-10 11-60 11-92 11-97 11-74 11-29 11 21 11 61 11 77 10 63 11 24 11-26 11-73 11-99 11-97 11-67 11-19 11 30 10 66 11 73 11 52 11 9 11-43 11-85 11-104 11-95 11-58 10-9 11 39 11 67 11 68 11 40 11-8 11-58 17 150-11 58-11 8-11-40-11-68-11-67-11-38-11 8-10 59-11 94-11 104-11 85-11 43-11-9-11-52-11-73-11-65-10-31-11 19-11 67-11 97-11 99-11 73-11 26-11-24-11-63-10-77-11-61-11-21-11 29-11 74-11 97-11 92-11 60-11 10-11-38-10-73-11-78-11-56-11-11-11 39-11 79-11 97-11 83-11 45-10-6-11-53-11-79-11-78-11-49-11-1-11 48-11 84-11 93-10 72-11 30-11-22-11-65-11-85-11-75-11-41-11 9-11 57-10 86-11 87-11 60-11 14-11-37-11-76-11-88-11-72-11-31-10 19-11 64-11 86-11 80-11 47-11-3-11-51-11-85-11-89-10-66-11-22-11 30-11 69-11 84-11 71-11 32-11-19-11-65-10-91-11-89-11-59-11-11-11 38-11 73-11 81-11 60-11 17-11-35-10-77-11-97-11-86-11-51-11 0-11 46-11 75-11 75-11 48-10 1-11-51z"/>
<path transform="translate(-384.7 -234.9)" d="M1350 4975l11 50 11-1 10-47 11-76 11-75 11-46 11 1 11 50 11 87 11 96 11 77 10 35 11-17 11-60 11-81 11-72 11-39 11 11 11 59 11 89 10 92 11 65 11 19 11-33 11-70 11-85 11-69 11-29 11 21 10 66 11 90 11 84 11 52 11 2 11-46 11-80 11-87 11-63 11-20 10 32 11 71 11 89 11 75 11 37 11-13 11-61 11-87 11-86 10-57 11-9 11 41 11 76 11 85 11 64 11 22 11-30 11-72 10-93 11-83 11-49 11 1 11 49 11 78 11 80 11 52 11 6 10-45 11-83 11-96 11-80 11-39 11 12 11 55 11 79 11 72 10 39 11-11 11-59 11-92 11-98 11-74 11-29 11 21 11 62 11 77 10 63 11 24 11-27 11-73 11-99 11-97 11-67 11-19 11 31 10 65 11 73 11 52 11 9 11-43 11-84 11-105 11-94 11-59 10-8 11 38 11 68 11 67 11 40 11-7 11-58 17 76-11 58-11 7-11-39-11-68-11-67-11-39-11 9-10 58-11 95-11 104-11 85-11 43-11-9-11-52-11-74-11-65-10-30-11 19-11 67-11 96-11 100-11 73-11 26-11-24-11-63-10-77-11-61-11-21-11 29-11 74-11 97-11 92-11 60-11 10-10-39-11-72-11-78-11-56-11-12-11 40-11 79-11 96-11 83-11 45-10-5-11-53-11-79-11-78-11-49-11-1-11 48-11 84-11 92-10 73-11 29-11-21-11-65-11-85-11-76-11-40-11 9-11 56-10 86-11 88-11 60-11 14-11-38-11-75-11-88-11-72-11-31-10 19-11 64-11 86-11 80-11 47-11-3-11-52-11-84-11-89-10-66-11-22-11 29-11 69-11 85-11 71-11 32-11-19-11-65-10-91-11-89-11-59-11-11-11 38-11 73-11 81-11 60-11 16-11-34-10-77-11-97-11-86-11-51-11-1-11 47-11 75-11 75-11 48-10 0-11-50z"/>
<path transform="translate(-376.2 -229.8)" d="M1350 5031l11 50 11 0 10-48 11-75 11-75 11-47 11 1 11 51 11 86 11 97 11 77 10 34 11-16 11-60 11-81 11-73 11-38 11 11 11 59 11 89 10 91 11 65 11 19 11-32 11-71 11-85 11-69 11-29 11 21 10 67 11 89 11 84 11 52 11 3 11-47 11-80 11-86 11-64 11-19 10 31 11 72 11 88 11 75 11 38 11-14 11-60 11-88 11-86 10-56 11-9 11 40 11 76 11 85 11 65 11 21 11-29 11-73 10-92 11-84 11-48 11 1 11 49 11 78 11 79 11 53 11 5 10-45 11-83 11-96 11-79 11-40 11 12 11 56 11 78 11 72 10 39 11-10 11-60 11-92 11-97 11-74 11-30 11 22 11 61 11 77 10 63 11 24 11-27 11-72 11-100 11-97 11-66 11-19 11 30 10 65 11 74 11 52 11 8 11-42 11-85 11-104 11-95 11-58 10-9 11 39 11 67 11 68 11 39 11-7 11-58 17-21-11 58-11 7-11-40-11-67-11-67-11-39-11 9-10 58-11 94-11 105-11 85-11 42-11-8-11-52-11-74-11-65-10-30-11 19-11 66-11 97-11 99-11 73-11 27-11-24-11-63-10-77-11-61-11-22-11 30-11 74-11 97-11 92-11 60-11 10-11-39-10-72-11-78-11-56-11-12-11 40-11 79-11 96-11 83-11 45-10-5-11-53-11-79-11-79-11-48-11-2-11 49-11 83-11 93-10 73-11 29-11-21-11-65-11-85-11-76-11-40-11 9-11 56-10 86-11 88-11 60-11 14-11-38-11-75-11-88-11-72-11-31-10 19-11 64-11 86-11 80-11 47-11-3-11-52-11-84-11-90-10-66-11-21-11 29-11 69-11 85-11 71-11 32-11-19-11-65-11-91-10-89-11-59-11-11-11 38-11 73-11 81-11 60-11 16-11-34-10-78-11-96-11-87-11-50-11-1-11 47-11 75-11 75-11 48-10 0-11-50z"/>
<path transform="translate(-367.8 -224.6)" d="M1350 5041l11 50 11-1 10-47 11-76 11-75 11-46 11 1 11 50 11 87 11 96 11 77 10 35 11-16 11-60 11-82 11-72 11-39 11 11 11 59 11 89 10 92 11 65 11 19 11-32 11-71 11-85 11-69 11-29 11 21 10 66 11 90 11 84 11 52 11 2 11-46 11-80 11-87 11-63 11-20 10 32 11 72 11 88 11 75 11 37 11-13 11-61 11-87 11-86 10-56 11-10 11 41 11 76 11 85 11 64 11 22 11-30 11-72 10-93 11-83 11-49 11 2 11 48 11 78 11 80 11 52 11 6 10-45 11-83 11-96 11-80 11-39 11 12 11 55 11 79 11 72 10 39 11-11 11-59 11-92 11-98 11-74 11-29 11 22 11 61 11 77 10 63 11 24 11-27 11-73 11-99 11-97 11-67 11-18 11 30 10 65 11 73 11 52 11 9 11-42 11-85 11-105 11-94 11-58 10-9 11 39 11 67 11 67 11 40 11-7 11-58 17-110-11 58-11 7-11-40-11-67-11-67-11-39-11 9-10 58-11 94-11 105-11 85-11 42-11-9-11-52-11-73-11-65-10-31-11 19-11 67-11 97-11 99-11 73-11 27-11-24-11-63-10-77-11-61-11-22-11 29-11 74-11 98-11 92-11 59-11 11-10-39-11-72-11-79-11-55-11-12-11 39-11 80-11 96-11 83-11 45-10-6-11-52-11-80-11-78-11-48-11-2-11 49-11 83-11 93-10 72-11 30-11-22-11-64-11-85-11-76-11-41-11 10-11 56-10 86-11 87-11 61-11 13-11-37-11-75-11-88-11-72-11-32-10 20-11 63-11 87-11 80-11 46-11-2-11-52-11-84-11-90-10-66-11-21-11 29-11 69-11 85-11 71-11 32-11-19-11-65-10-92-11-89-11-59-11-11-11 39-11 72-11 82-11 60-11 16-11-35-10-77-11-96-11-87-11-50-11-1-11 46-11 75-11 76-11 47-10 1-11-50z"/>
<path transform="translate(-359.3 -219.5)" d="M1350 5000l11 50 11-1 10-47 11-76 11-75 11-46 11 1 11 50 11 87 11 96 11 77 10 35 11-17 11-60 11-81 11-72 11-39 11 11 11 59 11 89 10 92 11 65 11 19 11-33 11-70 11-85 11-69 11-29 11 21 10 66 11 90 11 84 11 52 11 2 11-46 11-80 11-87 11-63 11-20 10 32 11 71 11 89 11 75 11 37 11-13 11-61 11-87 11-86 10-57 11-9 11 41 11 76 11 85 11 64 11 22 11-30 11-72 10-93 11-83 11-49 11 1 11 49 11 78 11 80 11 52 11 6 10-45 11-83 11-96 11-80 11-39 11 12 11 55 11 79 11 72 10 39 11-11 11-59 11-92 11-98 11-74 11-29 11 21 11 62 11 77 10 63 11 24 11-27 11-73 11-99 11-97 11-67 11-19 11 31 10 65 11 73 11 52 11 9 11-43 11-84 11-105 11-94 11-59 10-8 11 38 11 68 11 67 11 40 11-7 11-58 17-161-11 58-11 7-11-40-11-68-11-67-11-38-11 8-10 59-11 94-11 104-11 85-11 43-11-9-11-52-11-73-11-65-10-31-11 19-11 67-11 97-11 99-11 73-11 27-11-25-11-63-10-76-11-62-11-21-11 29-11 74-11 98-11 92-11 59-11 11-10-39-11-72-11-79-11-56-11-11-11 39-11 80-11 96-11 83-11 45-10-6-11-52-11-80-11-78-11-49-11-1-11 48-11 84-11 93-10 72-11 30-11-22-11-65-11-84-11-76-11-41-11 9-11 57-10 86-11 87-11 60-11 14-11-37-11-75-11-89-11-71-11-32-10 20-11 63-11 87-11 80-11 46-11-2-11-52-11-84-11-90-10-66-11-21-11 29-11 69-11 85-11 70-11 32-11-18-11-65-10-92-11-89-11-59-11-11-11 38-11 73-11 81-11 60-11 17-11-35-10-77-11-96-11-87-11-51-11 0-11 46-11 75-11 76-11 47-10 1-11-50z"/>
<path transform="translate(-350.9 -214.3)" d="M1350 4920l11 51 11-1 10-48 11-75 11-75 11-46 11 0 11 51 11 86 11 97 11 77 10 35 11-17 11-60 11-81 11-73 11-38 11 11 11 59 11 89 10 91 11 65 11 19 11-32 11-71 11-84 11-69 11-30 11 22 10 66 11 90 11 84 11 51 11 3 11-47 11-80 11-86 11-63 11-20 10 31 11 72 11 88 11 76 11 37 11-14 11-60 11-87 11-86 10-57 11-9 11 41 11 75 11 85 11 65 11 22 11-30 11-72 10-93 11-84 11-48 11 1 11 49 11 78 11 80 11 52 11 6 10-45 11-83 11-97 11-79 11-39 11 11 11 56 11 78 11 73 10 39 11-11 11-59 11-93 11-97 11-74 11-29 11 21 11 61 11 77 10 63 11 25 11-27 11-73 11-99 11-97 11-67 11-19 11 31 10 65 11 73 11 52 11 9 11-43 11-85 11-104 11-94 11-59 10-8 11 38 11 67 11 68 11 40 11-8 11-58 17-157-11 58-11 7-11-40-11-67-11-67-11-39-11 9-10 58-11 94-11 105-11 85-11 42-11-8-11-53-11-73-11-65-10-30-11 19-11 66-11 97-11 99-11 73-11 27-11-24-11-63-10-77-11-61-11-22-11 30-11 73-11 98-11 92-11 60-11 10-10-39-11-72-11-78-11-56-11-12-11 39-11 80-11 96-11 83-11 45-10-6-11-52-11-79-11-79-11-48-11-2-11 49-11 83-11 93-10 73-11 29-11-22-11-64-11-85-11-76-11-40-11 9-11 56-10 86-11 88-11 60-11 13-11-37-11-75-11-88-11-72-11-31-10 19-11 64-11 86-11 80-11 47-11-3-11-52-11-84-11-90-10-66-11-21-11 29-11 69-11 85-11 71-11 32-11-19-11-65-10-92-11-89-11-58-11-12-11 39-11 73-11 81-11 60-11 16-11-34-10-78-11-96-11-87-11-50-11-1-11 47-11 74-11 76-11 48-10 0-11-50z"/>
<path transform="translate(-342.4 -209.1)" d="M1350 4828l11 50 11 0 10-48 11-75 11-75 11-47 11 1 11 51 11 86 11 97 11 77 10 35 11-17 11-60 11-81 11-73 11-38 11 11 11 59 11 89 10 91 11 65 11 19 11-32 11-71 11-84 11-70 11-29 11 22 10 66 11 89 11 85 11 51 11 3 11-47 11-80 11-86 11-64 11-19 10 31 11 72 11 88 11 76 11 37 11-14 11-60 11-87 11-86 10-57 11-9 11 40 11 76 11 85 11 65 11 22 11-30 11-73 10-92 11-84 11-48 11 1 11 49 11 78 11 79 11 53 11 6 10-45 11-84 11-96 11-79 11-39 11 11 11 56 11 78 11 72 10 39 11-10 11-60 11-92 11-97 11-74 11-29 11 21 11 61 11 77 10 63 11 24 11-26 11-73 11-99 11-97 11-67 11-19 11 30 10 66 11 73 11 52 11 9 11-43 11-85 11-104 11-95 11-58 10-9 11 39 11 67 11 68 11 40 11-8 11-58 17-100-11 58-11 7-11-40-11-67-11-68-11-38-11 8-10 59-11 94-11 105-11 84-11 43-11-9-11-52-11-73-11-65-10-31-11 19-11 67-11 97-11 99-11 73-11 27-11-24-11-63-10-77-11-62-11-21-11 29-11 74-11 98-11 92-11 59-11 11-10-39-11-72-11-79-11-55-11-12-11 39-11 80-11 96-11 83-11 45-10-6-11-52-11-80-11-78-11-49-11-1-11 49-11 83-11 93-10 72-11 30-11-22-11-64-11-85-11-76-11-41-11 9-11 57-10 86-11 87-11 61-11 13-11-37-11-75-11-89-11-71-11-32-10 20-11 63-11 87-11 80-11 46-11-2-11-52-11-84-11-90-10-66-11-21-11 29-11 69-11 85-11 70-11 33-11-19-11-65-10-92-11-89-11-59-11-11-11 39-11 72-11 81-11 60-11 17-11-35-10-77-11-96-11-87-11-50-11-1-11 46-11 75-11 76-11 47-10 1-11-50z"/>
<path transform="translate(-334 -204)" d="M1350 4753l11 50 11-1 10-47 11-76 11-75 11-46 11 1 11 50 11 87 11 96 11 77 10 35 11-17 11-60 11-81 11-73 11-38 11 11 11 59 11 89 10 92 11 65 11 18 11-32 11-70 11-85 11-69 11-29 11 21 10 66 11 90 11 84 11 52 11 2 11-46 11-80 11-87 11-63 11-20 10 32 11 71 11 89 11 75 11 37 11-14 11-60 11-87 11-86 10-57 11-9 11 41 11 76 11 84 11 65 11 22 11-30 11-72 10-93 11-84 11-48 11 1 11 49 11 78 11 80 11 52 11 6 10-45 11-83 11-96 11-80 11-39 11 12 11 55 11 79 11 72 10 39 11-11 11-59 11-92 11-98 11-74 11-29 11 21 11 62 11 76 10 63 11 25 11-27 11-73 11-99 11-97 11-67 11-19 11 31 10 65 11 73 11 52 11 9 11-43 11-85 11-104 11-94 11-59 10-8 11 38 11 67 11 68 11 40 11-7 11-58 17-10-11 58-11 7-11-39-11-68-11-67-11-39-11 9-10 58-11 95-11 104-11 85-11 43-11-9-11-52-11-74-11-65-10-30-11 19-11 67-11 96-11 100-11 73-11 26-11-24-11-63-10-77-11-61-11-21-11 29-11 74-11 97-11 92-11 60-11 10-10-39-11-72-11-78-11-56-11-12-11 40-11 79-11 96-11 83-11 45-10-5-11-53-11-79-11-78-11-49-11-1-11 48-11 84-11 92-10 73-11 29-11-21-11-65-11-85-11-76-11-40-11 9-11 57-10 85-11 88-11 60-11 14-11-37-11-76-11-88-11-72-11-31-10 19-11 64-11 86-11 80-11 47-11-3-11-51-11-85-11-89-10-66-11-22-11 29-11 69-11 85-11 71-11 32-11-19-11-65-10-91-11-89-11-59-11-11-11 38-11 73-11 81-11 60-11 17-11-35-10-77-11-97-11-86-11-51-11-1-11 47-11 75-11 75-11 48-10 0-11-50z"/>
<path transform="translate(-325.5 -198.8)" d="M1350 4717l11 51 11-1 10-48 11-75 11-75 11-46 11 0 11 51 11 86 11 97 11 77 10 35 11-17 11-60 11-81 11-73 11-38 11 11 11 59 11 89 10 91 11 65 11 19 11-32 11-71 11-84 11-69 11-30 11 22 10 66 11 89 11 85 11 51 11 3 11-47 11-80 11-86 11-64 11-19 10 31 11 72 11 88 11 76 11 37 11-14 11-60 11-87 11-86 10-57 11-9 11 41 11 75 11 85 11 65 11 22 11-30 11-72 10-93 11-84 11-48 11 1 11 49 11 78 11 79 11 53 11 6 10-45 11-83 11-97 11-79 11-39 11 11 11 56 11 78 11 73 10 38 11-10 11-60 11-92 11-97 11-74 11-29 11 21 11 61 11 77 10 63 11 24 11-26 11-73 11-99 11-97 11-67 11-19 11 31 10 65 11 73 11 52 11 9 11-43 11-85 11-104 11-94 11-59 10-8 11 38 11 67 11 68 11 40 11-8 11-58 17 86-11 58-11 7-11-40-11-67-11-67-11-39-11 9-10 58-11 94-11 105-11 85-11 42-11-9-11-52-11-73-11-65-10-30-11 18-11 67-11 97-11 99-11 73-11 27-11-24-11-63-10-77-11-61-11-22-11 29-11 74-11 98-11 92-11 59-11 11-10-39-11-72-11-79-11-55-11-12-11 39-11 80-11 96-11 83-11 45-10-6-11-52-11-80-11-78-11-48-11-2-11 49-11 83-11 93-10 72-11 30-11-22-11-64-11-85-11-76-11-41-11 10-11 56-10 86-11 87-11 61-11 13-11-37-11-75-11-88-11-72-11-32-10 20-11 63-11 87-11 80-11 46-11-2-11-52-11-84-11-90-10-66-11-21-11 29-11 69-11 85-11 71-11 32-11-19-11-65-10-92-11-89-11-59-11-11-11 39-11 73-11 81-11 60-11 16-11-35-10-77-11-96-11-87-11-50-11-1-11 46-11 75-11 76-11 47-10 1-11-50z"/>
<path transform="translate(-317 -193.6)" d="M1350 4733l11 50 11-1 10-47 11-76 11-75 11-46 11 1 11 50 11 87 11 96 11 77 10 35 11-16 11-60 11-81 11-73 11-39 11 12 11 58 11 89 10 92 11 65 11 19 11-32 11-71 11-85 11-69 11-29 11 21 10 66 11 90 11 84 11 52 11 3 11-47 11-80 11-87 11-63 11-19 10 31 11 72 11 88 11 75 11 37 11-13 11-61 11-87 11-86 10-56 11-10 11 41 11 76 11 85 11 64 11 22 11-29 11-73 10-93 11-83 11-49 11 2 11 48 11 78 11 80 11 52 11 6 10-45 11-83 11-96 11-80 11-39 11 12 11 55 11 79 11 72 10 39 11-10 11-60 11-92 11-98 11-73 11-30 11 22 11 61 11 77 10 63 11 24 11-27 11-73 11-99 11-97 11-66 11-19 11 30 10 65 11 73 11 53 11 8 11-42 11-85 11-105 11-94 11-58 10-9 11 39 11 67 11 67 11 40 11-7 11-58 17 152-11 58-11 7-11-39-11-68-11-67-11-39-11 9-10 58-11 95-11 104-11 85-11 43-11-9-11-52-11-74-11-65-10-30-11 19-11 67-11 96-11 100-11 73-11 26-11-24-11-63-10-77-11-61-11-21-11 29-11 74-11 97-11 92-11 60-11 10-10-39-11-72-11-78-11-56-11-12-11 40-11 79-11 96-11 83-11 45-10-5-11-53-11-79-11-78-11-49-11-1-11 48-11 84-11 92-10 73-11 29-11-21-11-65-11-85-11-76-11-40-11 9-11 57-10 85-11 88-11 60-11 14-11-37-11-76-11-88-11-72-11-31-10 19-11 64-11 86-11 80-11 47-11-3-11-51-11-85-11-89-10-66-11-22-11 29-11 69-11 85-11 71-11 32-11-19-11-65-10-91-11-89-11-59-11-11-11 38-11 73-11 81-11 60-11 17-11-35-10-77-11-97-11-86-11-51-11-1-11 47-11 75-11 75-11 48-10 0-11-50z"/>
<path transform="translate(-308.6 -188.5)" d="M1350 4793l11 50 11-1 10-48 11-75 11-75 11-46 11 0 11 51 11 86 11 97 11 77 10 35 11-17 11-60 11-81 11-73 11-38 11 11 11 59 11 89 10 91 11 65 11 19 11-32 11-71 11-84 11-69 11-30 11 22 10 66 11 90 11 84 11 52 11 2 11-47 11-80 11-86 11-63 11-20 10 32 11 71 11 88 11 76 11 37 11-14 11-60 11-87 11-86 10-57 11-9 11 41 11 75 11 85 11 65 11 22 11-30 11-72 10-93 11-84 11-48 11 1 11 49 11 78 11 80 11 52 11 6 10-45 11-83 11-96 11-80 11-39 11 11 11 56 11 79 11 72 10 39 11-11 11-59 11-93 11-97 11-74 11-29 11 21 11 61 11 77 10 63 11 25 11-27 11-73 11-99 11-97 11-67 11-19 11 31 10 65 11 73 11 52 11 9 11-43 11-85 11-104 11-94 11-59 10-8 11 38 11 67 11 68 11 40 11-8 11-57 17 168-11 58-11 8-11-40-11-68-11-67-11-39-11 9-10 58-11 95-11 104-11 85-11 43-11-9-11-52-11-73-11-66-10-30-11 19-11 67-11 97-11 99-11 73-11 26-11-24-11-63-10-77-11-61-11-21-11 29-11 74-11 97-11 92-11 60-11 10-11-39-10-72-11-78-11-56-11-11-11 39-11 79-11 96-11 84-11 45-10-6-11-53-11-79-11-78-11-49-11-1-11 48-11 84-11 92-10 73-11 30-11-22-11-65-11-85-11-76-11-40-11 9-11 57-10 86-11 87-11 60-11 14-11-37-11-76-11-88-11-72-11-31-10 19-11 64-11 86-11 80-11 47-11-3-11-51-11-85-11-89-10-66-11-22-11 29-11 70-11 84-11 71-11 32-11-19-11-65-11-91-10-89-11-59-11-11-11 38-11 73-11 81-11 60-11 17-11-35-10-77-11-97-11-86-11-51-11-1-11 47-11 75-11 75-11 48-10 0-11-50z"/>
<path transform="translate(-300.1 -183.3)" d="M1350 4875l11 50 11-1 10-47 11-76 11-75 11-46 11 1 11 50 11 87 11 96 11 77 10 35 11-16 11-60 11-81 11-73 11-39 11 11 11 59 11 89 10 92 11 65 11 19 11-32 11-71 11-85 11-69 11-29 11 21 10 66 11 90 11 84 11 52 11 3 11-47 11-80 11-87 11-63 11-19 10 31 11 72 11 88 11 75 11 37 11-13 11-61 11-87 11-86 10-56 11-10 11 41 11 76 11 85 11 64 11 22 11-29 11-73 10-93 11-83 11-49 11 2 11 48 11 78 11 80 11 52 11 6 10-45 11-83 11-96 11-80 11-39 11 12 11 55 11 79 11 72 10 39 11-11 11-59 11-92 11-98 11-73 11-30 11 22 11 61 11 77 10 63 11 24 11-27 11-73 11-99 11-97 11-66 11-19 11 30 10 65 11 73 11 52 11 9 11-42 11-85 11-105 11-94 11-58 10-9 11 39 11 67 11 67 11 40 11-7 11-58 17 129-11 58-11 7-11-39-11-68-11-67-11-39-11 9-10 58-11 95-11 104-11 85-11 42-11-8-11-52-11-74-11-65-10-30-11 19-11 67-11 96-11 100-11 72-11 27-11-24-11-63-10-77-11-61-11-22-11 30-11 74-11 97-11 92-11 60-11 10-11-39-10-72-11-78-11-56-11-12-11 40-11 79-11 96-11 83-11 45-10-5-11-53-11-79-11-78-11-49-11-1-11 48-11 84-11 92-10 73-11 29-11-21-11-65-11-85-11-76-11-40-11 9-11 56-10 86-11 88-11 60-11 14-11-38-11-75-11-88-11-72-11-31-10 19-11 64-11 86-11 80-11 47-11-3-11-52-11-84-11-89-10-66-11-22-11 29-11 69-11 85-11 71-11 32-11-19-11-65-11-91-10-89-11-59-11-11-11 38-11 73-11 81-11 60-11 16-11-34-10-77-11-97-11-86-11-51-11-1-11 47-11 75-11 75-11 48-10 0-11-50z"/>
<path transform="translate(-291.7 -178.1)" d="M1350 4951l11 50 11 0 10-48 11-76 11-74 11-47 11 1 11 50 11 87 11 96 11 78 10 34 11-16 11-60 11-81 11-73 11-39 11 12 11 58 11 89 10 92 11 65 11 19 11-32 11-71 11-85 11-69 11-29 11 21 10 66 11 90 11 84 11 52 11 3 11-47 11-80 11-86 11-64 11-19 10 31 11 72 11 88 11 75 11 37 11-13 11-60 11-88 11-86 10-56 11-9 11 40 11 76 11 85 11 64 11 22 11-29 11-73 10-93 11-83 11-49 11 2 11 48 11 79 11 79 11 52 11 6 10-45 11-83 11-96 11-80 11-39 11 12 11 56 11 78 11 72 10 39 11-10 11-60 11-92 11-98 11-73 11-30 11 22 11 61 11 77 10 63 11 24 11-27 11-73 11-99 11-97 11-66 11-19 11 30 10 65 11 73 11 53 11 8 11-42 11-85 11-105 11-94 11-58 10-9 11 39 11 67 11 67 11 40 11-7 11-58 17 47-11 58-11 7-11-40-11-68-11-67-11-38-11 8-10 59-11 94-11 104-11 85-11 43-11-9-11-52-11-73-11-65-10-31-11 19-11 67-11 97-11 99-11 73-11 27-11-25-11-63-10-76-11-62-11-21-11 29-11 74-11 98-11 92-11 59-11 11-11-39-10-72-11-79-11-56-11-11-11 39-11 80-11 96-11 83-11 45-10-6-11-52-11-80-11-78-11-49-11-1-11 48-11 84-11 93-10 72-11 30-11-22-11-65-11-84-11-76-11-41-11 9-11 57-10 86-11 87-11 60-11 14-11-37-11-75-11-89-11-71-11-32-10 20-11 63-11 86-11 80-11 47-11-2-11-52-11-84-11-90-10-66-11-21-11 29-11 69-11 84-11 71-11 32-11-18-11-66-11-91-10-89-11-59-11-11-11 38-11 73-11 81-11 60-11 17-11-35-10-77-11-97-11-86-11-51-11 0-11 46-11 75-11 76-11 47-10 1-11-50z"/>
<path transform="translate(-283.2 -173)" d="M1350 4994l11 50 11-1 10-47 11-76 11-75 11-46 11 1 11 50 11 87 11 96 11 77 10 35 11-16 11-60 11-82 11-72 11-39 11 11 11 59 11 89 10 92 11 65 11 19 11-32 11-71 11-85 11-69 11-29 11 21 10 66 11 90 11 84 11 52 11 2 11-46 11-80 11-87 11-63 11-20 10 32 11 72 11 88 11 75 11 37 11-13 11-61 11-87 11-86 10-56 11-10 11 41 11 76 11 85 11 64 11 22 11-30 11-72 10-93 11-83 11-49 11 2 11 48 11 78 11 80 11 52 11 6 10-45 11-83 11-96 11-80 11-39 11 12 11 55 11 79 11 72 10 39 11-11 11-59 11-92 11-98 11-74 11-29 11 22 11 61 11 77 10 63 11 24 11-27 11-73 11-99 11-97 11-67 11-19 11 31 10 65 11 73 11 52 11 9 11-42 11-85 11-105 11-94 11-58 10-9 11 38 11 68 11 67 11 40 11-7 11-58 17-52-11 58-11 7-11-40-11-67-11-67-11-39-11 9-10 58-11 94-11 105-11 85-11 42-11-8-11-53-11-73-11-65-10-30-11 19-11 66-11 97-11 99-11 73-11 27-11-24-11-63-10-77-11-61-11-22-11 30-11 73-11 98-11 92-11 60-11 10-11-39-10-72-11-78-11-56-11-12-11 39-11 80-11 96-11 83-11 45-10-6-11-52-11-80-11-78-11-48-11-2-11 49-11 83-11 93-10 73-11 29-11-22-11-64-11-85-11-76-11-40-11 9-11 56-10 86-11 88-11 60-11 13-11-37-11-75-11-88-11-72-11-31-10 19-11 64-11 86-11 80-11 47-11-3-11-52-11-84-11-90-10-66-11-21-11 29-11 69-11 85-11 71-11 32-11-19-11-65-11-92-10-89-11-58-11-12-11 39-11 73-11 81-11 60-11 16-11-34-10-78-11-96-11-87-11-50-11-1-11 46-11 75-11 76-11 47-10 1-11-50z"/>
<path transform="translate(-274.8 -167.8)" d="M1350 4987l11 50 11 0 10-48 11-75 11-75 11-47 11 1 11 51 11 86 11 97 11 77 10 35 11-17 11-60 11-81 11-73 11-38 11 11 11 59 11 89 10 91 11 65 11 19 11-32 11-71 11-85 11-69 11-29 11 22 10 66 11 89 11 85 11 51 11 3 11-47 11-80 11-86 11-64 11-19 10 31 11 72 11 88 11 76 11 37 11-14 11-60 11-88 11-85 10-57 11-9 11 40 11 76 11 85 11 65 11 21 11-29 11-73 10-92 11-84 11-48 11 1 11 49 11 78 11 79 11 53 11 6 10-45 11-84 11-96 11-79 11-39 11 11 11 56 11 78 11 72 10 39 11-10 11-60 11-92 11-97 11-74 11-29 11 21 11 61 11 77 10 63 11 24 11-26 11-73 11-100 11-96 11-67 11-19 11 30 10 65 11 74 11 52 11 9 11-43 11-85 11-104 11-95 11-58 10-9 11 39 11 67 11 68 11 39 11-7 11-58 17-133-11 58-11 7-11-40-11-67-11-68-11-38-11 8-10 59-11 94-11 105-11 85-11 42-11-9-11-52-11-73-11-65-10-31-11 19-11 67-11 97-11 99-11 73-11 27-11-24-11-63-10-77-11-61-11-22-11 29-11 74-11 98-11 92-11 59-11 11-11-39-10-72-11-79-11-55-11-12-11 39-11 80-11 96-11 83-11 45-10-6-11-52-11-80-11-78-11-49-11-1-11 49-11 83-11 93-10 72-11 30-11-22-11-64-11-85-11-76-11-41-11 10-11 56-10 86-11 87-11 61-11 13-11-37-11-75-11-89-11-71-11-32-10 20-11 63-11 87-11 80-11 46-11-2-11-52-11-84-11-90-10-66-11-21-11 29-11 69-11 85-11 71-11 32-11-19-11-65-11-92-10-89-11-59-11-11-11 39-11 72-11 82-11 60-11 16-11-35-10-77-11-96-11-87-11-50-11-1-11 46-11 75-11 76-11 47-10 1-11-50z"/>
<path transform="translate(-266.3 -162.7)" d="M1350 4932l11 50 11-1 10-47 11-76 11-75 11-46 11 0 11 51 11 87 11 96 11 77 10 35 11-17 11-60 11-81 11-73 11-38 11 11 11 59 11 89 10 92 11 65 11 18 11-32 11-70 11-85 11-69 11-29 11 21 10 66 11 90 11 84 11 52 11 2 11-46 11-80 11-87 11-63 11-20 10 32 11 71 11 89 11 75 11 37 11-14 11-60 11-87 11-86 10-57 11-9 11 41 11 76 11 84 11 65 11 22 11-30 11-72 10-93 11-84 11-48 11 1 11 49 11 78 11 80 11 52 11 6 10-45 11-83 11-96 11-80 11-39 11 11 11 56 11 79 11 72 10 39 11-11 11-59 11-92 11-98 11-74 11-29 11 21 11 62 11 76 10 63 11 25 11-27 11-73 11-99 11-97 11-67 11-19 11 31 10 65 11 73 11 52 11 9 11-43 11-85 11-104 11-94 11-59 10-8 11 38 11 67 11 68 11 40 11-7 11-58 17-172-11 58-11 7-11-39-11-68-11-67-11-39-11 9-10 58-11 95-11 104-11 85-11 43-11-9-11-52-11-74-11-65-10-30-11 19-11 67-11 96-11 100-11 73-11 26-11-24-11-63-10-77-11-61-11-21-11 29-11 74-11 97-11 92-11 60-11 10-11-39-10-72-11-78-11-56-11-11-11 39-11 79-11 96-11 84-11 45-10-6-11-53-11-79-11-78-11-49-11-1-11 48-11 84-11 92-10 73-11 29-11-21-11-65-11-85-11-76-11-40-11 9-11 57-10 85-11 88-11 60-11 14-11-37-11-76-11-88-11-72-11-31-10 19-11 64-11 86-11 80-11 47-11-3-11-51-11-85-11-89-10-66-11-22-11 29-11 69-11 85-11 71-11 32-11-19-11-65-11-91-10-89-11-59-11-11-11 38-11 73-11 81-11 60-11 17-11-35-10-77-11-97-11-86-11-51-11-1-11 47-11 75-11 75-11 48-10 0-11-50z"/>
<path transform="translate(-257.9 -157.5)" d="M1350 4843l11 51 11-1 10-48 11-75 11-75 11-46 11 0 11 51 11 86 11 97 11 77 10 35 11-17 11-60 11-81 11-73 11-38 11 11 11 59 11 89 10 91 11 65 11 19 11-32 11-71 11-84 11-69 11-30 11 22 10 66 11 89 11 85 11 51 11 3 11-47 11-80 11-86 11-63 11-20 10 31 11 72 11 88 11 76 11 37 11-14 11-60 11-87 11-86 10-57 11-9 11 41 11 75 11 85 11 65 11 22 11-30 11-72 10-93 11-84 11-48 11 1 11 49 11 78 11 79 11 53 11 6 10-45 11-83 11-97 11-79 11-39 11 11 11 56 11 78 11 73 10 39 11-11 11-59 11-93 11-97 11-74 11-29 11 21 11 61 11 77 10 63 11 25 11-27 11-73 11-99 11-97 11-67 11-19 11 31 10 65 11 73 11 52 11 9 11-43 11-85 11-104 11-94 11-59 10-8 11 38 11 67 11 68 11 40 11-8 11-58 17-153-11 58-11 7-11-39-11-68-11-67-11-39-11 9-10 58-11 95-11 104-11 85-11 43-11-9-11-52-11-73-11-66-10-30-11 19-11 67-11 97-11 99-11 73-11 26-11-24-11-63-10-77-11-61-11-21-11 29-11 74-11 97-11 92-11 60-11 10-11-39-10-72-11-78-11-56-11-11-11 39-11 79-11 96-11 84-11 45-10-6-11-53-11-79-11-78-11-49-11-1-11 48-11 84-11 92-10 73-11 30-11-22-11-65-11-85-11-76-11-40-11 9-11 57-10 86-11 87-11 60-11 14-11-37-11-76-11-88-11-72-11-31-10 19-11 64-11 86-11 80-11 47-11-3-11-51-11-85-11-89-10-66-11-22-11 29-11 70-11 84-11 71-11 32-11-19-11-65-11-91-10-89-11-59-11-11-11 38-11 73-11 81-11 60-11 17-11-35-10-77-11-97-11-86-11-51-11-1-11 47-11 75-11 75-11 48-10 0-11-50z"/>
<path transform="translate(-249.4 -152.3)" d="M1350 4750l11 50 11-1 10-47 11-76 11-75 11-46 11 1 11 50 11 87 11 96 11 77 10 35 11-16 11-60 11-81 11-73 11-39 11 12 11 58 11 89 10 92 11 65 11 19 11-32 11-71 11-85 11-69 11-29 11 21 10 66 11 90 11 84 11 52 11 3 11-47 11-80 11-87 11-63 11-19 10 31 11 72 11 88 11 75 11 37 11-13 11-61 11-87 11-86 10-56 11-9 11 40 11 76 11 85 11 64 11 22 11-29 11-73 10-93 11-83 11-49 11 2 11 48 11 78 11 80 11 52 11 6 10-45 11-83 11-96 11-80 11-39 11 12 11 55 11 79 11 72 10 39 11-10 11-60 11-92 11-98 11-73 11-30 11 22 11 61 11 77 10 63 11 24 11-27 11-73 11-99 11-97 11-66 11-19 11 30 10 65 11 73 11 53 11 8 11-42 11-85 11-105 11-94 11-58 10-9 11 39 11 67 11 67 11 40 11-7 11-58 17-85-11 58-11 7-11-40-11-67-11-67-11-39-11 9-10 58-11 94-11 105-11 85-11 42-11-8-11-53-11-73-11-65-10-30-11 19-11 66-11 97-11 99-11 73-11 27-11-24-11-63-10-77-11-61-11-22-11 30-11 73-11 98-11 92-11 60-11 10-11-39-10-72-11-79-11-55-11-12-11 39-11 80-11 96-11 83-11 45-10-6-11-52-11-80-11-78-11-48-11-2-11 49-11 83-11 93-10 73-11 29-11-22-11-64-11-85-11-76-11-40-11 9-11 56-10 86-11 87-11 61-11 13-11-37-11-75-11-88-11-72-11-31-10 19-11 64-11 86-11 80-11 47-11-3-11-52-11-84-11-90-10-66-11-21-11 29-11 69-11 85-11 71-11 32-11-19-11-65-11-92-10-89-11-58-11-12-11 39-11 73-11 81-11 60-11 16-11-35-10-77-11-96-11-87-11-50-11-1-11 46-11 75-11 76-11 47-10 1-11-50z"/>
<path transform="translate(-241 -147.2)" d="M1350 4680l11 50 11-1 10-47 11-76 11-75 11-46 11 1 11 50 11 87 11 96 11 78 10 34 11-16 11-60 11-81 11-73 11-39 11 12 11 58 11 89 10 92 11 65 11 19 11-32 11-71 11-85 11-69 11-29 11 21 10 66 11 90 11 84 11 52 11 3 11-47 11-80 11-86 11-64 11-19 10 31 11 72 11 88 11 75 11 37 11-13 11-60 11-88 11-86 10-56 11-9 11 40 11 76 11 85 11 64 11 22 11-29 11-73 10-93 11-83 11-49 11 2 11 48 11 78 11 80 11 52 11 6 10-45 11-83 11-96 11-80 11-39 11 12 11 55 11 79 11 72 10 39 11-10 11-60 11-92 11-98 11-73 11-30 11 22 11 61 11 77 10 63 11 24 11-27 11-73 11-99 11-97 11-66 11-19 11 30 10 65 11 73 11 53 11 8 11-42 11-85 11-105 11-94 11-58 10-9 11 39 11 67 11 67 11 40 11-7 11-58 17 10-11 58-11 7-11-39-11-68-11-67-11-39-11 9-10 58-11 95-11 104-11 85-11 43-11-9-11-52-11-74-11-65-10-30-11 19-11 67-11 96-11 100-11 73-11 26-11-24-11-63-10-77-11-61-11-21-11 29-11 74-11 97-11 92-11 60-11 10-10-39-11-72-11-78-11-56-11-11-11 39-11 79-11 96-11 84-11 45-10-6-11-53-11-79-11-78-11-49-11-1-11 48-11 84-11 92-10 73-11 29-11-21-11-65-11-85-11-76-11-40-11 9-11 57-10 85-11 88-11 60-11 14-11-37-11-76-11-88-11-72-11-31-10 19-11 64-11 86-11 80-11 47-11-3-11-51-11-85-11-89-10-66-11-22-11 29-11 69-11 85-11 71-11 32-11-19-11-65-10-91-11-89-11-59-11-11-11 38-11 73-11 81-11 60-11 17-11-35-10-77-11-97-11-86-11-51-11-1-11 47-11 75-11 75-11 48-10 0-11-50z"/>
<path transform="translate(-232.5 -142)" d="M1350 4655l11 50 11-1 10-47 11-76 11-75 11-46 11 0 11 51 11 87 11 96 11 77 10 35 11-17 11-60 11-81 11-73 11-38 11 11 11 59 11 89 10 91 11 66 11 18 11-32 11-71 11-84 11-69 11-29 11 21 10 66 11 90 11 84 11 52 11 2 11-46 11-81 11-86 11-63 11-20 10 32 11 71 11 89 11 75 11 37 11-14 11-60 11-87 11-86 10-57 11-9 11 41 11 76 11 84 11 65 11 22 11-30 11-72 10-93 11-84 11-48 11 1 11 49 11 78 11 80 11 52 11 6 10-45 11-83 11-96 11-80 11-39 11 11 11 56 11 79 11 72 10 39 11-11 11-59 11-92 11-98 11-74 11-29 11 21 11 62 11 76 10 63 11 25 11-27 11-73 11-99 11-97 11-67 11-19 11 31 10 65 11 73 11 52 11 9 11-43 11-85 11-104 11-94 11-59 10-8 11 38 11 67 11 68 11 40 11-7 11-58 17 100-11 58-11 8-11-40-11-68-11-67-11-38-11 8-10 58-11 95-11 104-11 85-11 43-11-9-11-52-11-73-11-65-10-31-11 19-11 67-11 97-11 99-11 73-11 26-11-24-11-63-10-77-11-61-11-21-11 29-11 74-11 97-11 92-11 60-11 10-10-38-11-73-11-78-11-56-11-11-11 39-11 79-11 96-11 84-11 45-10-6-11-53-11-79-11-78-11-49-11-1-11 48-11 84-11 92-10 73-11 30-11-22-11-65-11-85-11-76-11-40-11 9-11 57-10 86-11 87-11 60-11 14-11-37-11-76-11-88-11-72-11-31-10 19-11 64-11 86-11 80-11 47-11-3-11-51-11-85-11-89-10-66-11-22-11 30-11 69-11 84-11 71-11 32-11-19-11-65-10-91-11-89-11-59-11-11-11 38-11 73-11 81-11 60-11 17-11-35-10-77-11-97-11-86-11-51-11 0-11 46-11 75-11 75-11 48-10 0-11-50z"/>
<path transform="translate(-224 -136.8)" d="M1350 4680l11 50 11-1 10-47 11-76 11-75 11-46 11 1 11 50 11 87 11 96 11 77 10 35 11-16 11-60 11-81 11-73 11-39 11 12 11 58 11 89 10 92 11 65 11 19 11-32 11-71 11-85 11-69 11-29 11 21 10 66 11 90 11 84 11 52 11 3 11-47 11-80 11-87 11-63 11-19 10 31 11 72 11 88 11 75 11 37 11-13 11-61 11-87 11-86 10-56 11-9 11 40 11 76 11 85 11 64 11 22 11-29 11-73 10-93 11-83 11-49 11 2 11 48 11 78 11 80 11 52 11 6 10-45 11-83 11-96 11-80 11-39 11 12 11 55 11 79 11 72 10 39 11-10 11-60 11-92 11-98 11-73 11-30 11 22 11 61 11 77 10 63 11 24 11-27 11-73 11-99 11-97 11-66 11-19 11 30 10 65 11 73 11 53 11 8 11-42 11-85 11-105 11-94 11-58 10-9 11 39 11 67 11 67 11 40 11-7 11-58 17 156-11 58-11 7-11-39-11-68-11-67-11-39-11 9-10 58-11 95-11 104-11 85-11 42-11-8-11-52-11-74-11-65-10-30-11 19-11 67-11 96-11 100-11 72-11 27-11-24-11-63-10-77-11-61-11-22-11 30-11 74-11 97-11 92-11 60-11 10-10-39-11-72-11-78-11-56-11-12-11 40-11 79-11 96-11 83-11 45-10-5-11-53-11-79-11-78-11-49-11-1-11 48-11 84-11 92-10 73-11 29-11-21-11-65-11-85-11-76-11-40-11 9-11 56-10 86-11 88-11 60-11 14-11-38-11-75-11-88-11-72-11-31-10 19-11 64-11 86-11 80-11 47-11-3-11-52-11-84-11-89-10-66-11-22-11 29-11 69-11 85-11 71-11 32-11-19-11-65-10-91-11-89-11-59-11-11-11 38-11 73-11 81-11 60-11 16-11-34-10-77-11-97-11-86-11-51-11-1-11 47-11 75-11 75-11 48-10 0-11-50z"/>
<path transform="translate(-215.6 -131.7)" d="M1350 4745l11 50 11 0 10-48 11-75 11-75 11-47 11 1 11 50 11 87 11 96 11 78 10 34 11-16 11-60 11-81 11-73 11-38 11 11 11 59 11 89 10 91 11 65 11 19 11-32 11-71 11-85 11-69 11-29 11 21 10 66 11 90 11 84 11 52 11 3 11-47 11-80 11-86 11-64 11-19 10 31 11 72 11 88 11 75 11 38 11-14 11-60 11-88 11-86 10-56 11-9 11 40 11 76 11 85 11 64 11 22 11-29 11-73 10-93 11-83 11-49 11 2 11 48 11 79 11 79 11 53 11 5 10-45 11-83 11-96 11-80 11-39 11 12 11 56 11 78 11 72 10 39 11-10 11-60 11-92 11-97 11-74 11-30 11 22 11 61 11 77 10 63 11 24 11-27 11-73 11-99 11-97 11-66 11-19 11 30 10 65 11 73 11 53 11 8 11-42 11-85 11-105 11-94 11-58 10-9 11 39 11 67 11 67 11 40 11-7 11-58 17 158-11 58-11 7-11-39-11-68-11-67-11-39-11 9-10 58-11 95-11 104-11 85-11 42-11-8-11-52-11-74-11-65-10-30-11 19-11 66-11 97-11 100-11 72-11 27-11-24-11-63-10-77-11-61-11-22-11 30-11 74-11 97-11 92-11 60-11 10-10-39-11-72-11-78-11-56-11-12-11 40-11 79-11 96-11 83-11 45-10-5-11-53-11-79-11-78-11-49-11-2-11 49-11 83-11 93-10 73-11 29-11-21-11-65-11-85-11-76-11-40-11 9-11 56-10 86-11 88-11 60-11 14-11-38-11-75-11-88-11-72-11-31-10 19-11 64-11 86-11 80-11 47-11-3-11-52-11-84-11-90-10-66-11-21-11 29-11 69-11 85-11 71-11 32-11-19-11-65-10-91-11-89-11-59-11-11-11 38-11 73-11 81-11 60-11 16-11-34-10-78-11-96-11-87-11-50-11-1-11 47-11 75-11 75-11 48-10 0-11-50z"/>
<path transform="translate(-207.1 -126.5)" d="M1350 4826l11 50 11-1 10-47 11-76 11-75 11-46 11 1 11 50 11 87 11 96 11 77 10 35 11-16 11-60 11-82 11-72 11-39 11 11 11 59 11 89 10 92 11 65 11 19 11-32 11-71 11-85 11-69 11-29 11 21 10 66 11 90 11 84 11 52 11 2 11-46 11-80 11-87 11-63 11-20 10 32 11 72 11 88 11 75 11 37 11-13 11-61 11-87 11-86 10-56 11-10 11 41 11 76 11 85 11 64 11 22 11-30 11-72 10-93 11-83 11-49 11 2 11 48 11 78 11 80 11 52 11 6 10-45 11-83 11-96 11-80 11-39 11 12 11 55 11 79 11 72 10 39 11-11 11-59 11-92 11-98 11-74 11-29 11 22 11 61 11 77 10 63 11 24 11-27 11-73 11-99 11-97 11-67 11-19 11 31 10 65 11 73 11 52 11 9 11-42 11-85 11-105 11-94 11-58 10-9 11 38 11 68 11 67 11 40 11-7 11-58 17 105-11 58-11 7-11-39-11-68-11-67-11-39-11 9-10 58-11 95-11 104-11 85-11 43-11-9-11-52-11-74-11-65-10-30-11 19-11 67-11 96-11 100-11 73-11 26-11-24-11-63-10-77-11-61-11-21-11 29-11 74-11 97-11 92-11 60-11 10-10-39-11-72-11-78-11-56-11-12-11 40-11 79-11 96-11 83-11 45-10-5-11-53-11-79-11-78-11-49-11-1-11 48-11 84-11 92-10 73-11 29-11-21-11-65-11-85-11-76-11-40-11 9-11 57-10 85-11 88-11 60-11 14-11-37-11-76-11-88-11-72-11-31-10 19-11 64-11 86-11 80-11 47-11-3-11-51-11-85-11-89-10-66-11-22-11 29-11 69-11 85-11 71-11 32-11-19-11-65-10-91-11-89-11-59-11-11-11 38-11 73-11 81-11 60-11 17-11-35-10-77-11-97-11-86-11-51-11-1-11 47-11 75-11 75-11 48-10 0-11-50z"/>
<path transform="translate(-198.7 -121.3)" d="M1350 4893l11 50 11-1 10-47 11-76 11-75 11-46 11 1 11 50 11 87 11 96 11 77 10 35 11-17 11-60 11-81 11-72 11-39 11 11 11 59 11 89 10 92 11 65 11 19 11-33 11-70 11-85 11-69 11-29 11 21 10 66 11 90 11 84 11 52 11 2 11-46 11-80 11-87 11-63 11-20 10 32 11 71 11 89 11 75 11 37 11-13 11-61 11-87 11-86 10-57 11-9 11 41 11 76 11 85 11 64 11 22 11-30 11-72 10-93 11-83 11-49 11 1 11 49 11 78 11 80 11 52 11 6 10-45 11-83 11-96 11-80 11-39 11 12 11 55 11 79 11 72 10 39 11-11 11-59 11-92 11-98 11-74 11-29 11 21 11 62 11 77 10 63 11 24 11-27 11-73 11-99 11-97 11-67 11-19 11 31 10 65 11 73 11 52 11 9 11-43 11-84 11-105 11-94 11-59 10-8 11 38 11 68 11 67 11 40 11-7 11-58 17 15-11 58-11 8-11-40-11-68-11-67-11-38-11 8-10 59-11 94-11 104-11 85-11 43-11-9-11-52-11-73-11-65-10-31-11 19-11 67-11 97-11 99-11 73-11 27-11-25-11-63-10-77-11-61-11-21-11 29-11 74-11 97-11 93-11 59-11 11-10-39-11-73-11-78-11-56-11-11-11 39-11 79-11 97-11 83-11 45-10-6-11-53-11-79-11-78-11-49-11-1-11 48-11 84-11 93-10 72-11 30-11-22-11-65-11-85-11-75-11-41-11 9-11 57-10 86-11 87-11 60-11 14-11-37-11-76-11-88-11-72-11-31-10 20-11 63-11 86-11 80-11 47-11-3-11-51-11-85-11-89-10-66-11-22-11 30-11 69-11 84-11 71-11 32-11-19-11-65-10-91-11-89-11-59-11-11-11 38-11 73-11 81-11 60-11 17-11-35-10-77-11-97-11-86-11-51-11 0-11 46-11 75-11 75-11 48-10 1-11-51z"/>
<path transform="translate(-190.2 -116.2)" d="M1350 4921l11 50 11-1 10-47 11-76 11-75 11-46 11 1 11 50 11 87 11 96 11 77 10 35 11-16 11-60 11-81 11-73 11-39 11 12 11 58 11 89 10 92 11 65 11 19 11-32 11-71 11-85 11-69 11-29 11 21 10 66 11 90 11 84 11 52 11 3 11-47 11-80 11-87 11-63 11-19 10 31 11 72 11 88 11 75 11 37 11-13 11-61 11-87 11-86 10-56 11-9 11 40 11 76 11 85 11 64 11 22 11-29 11-73 10-93 11-83 11-49 11 2 11 48 11 78 11 80 11 52 11 6 10-45 11-83 11-96 11-80 11-39 11 12 11 55 11 79 11 72 10 39 11-10 11-60 11-92 11-98 11-73 11-30 11 22 11 61 11 77 10 63 11 24 11-27 11-73 11-99 11-97 11-66 11-19 11 30 10 65 11 73 11 53 11 8 11-42 11-85 11-105 11-94 11-58 10-9 11 39 11 67 11 67 11 40 11-7 11-58 17-82-11 58-11 8-11-40-11-68-11-67-11-38-11 8-10 59-11 94-11 104-11 85-11 43-11-9-11-52-11-73-11-65-10-31-11 19-11 67-11 97-11 99-11 73-11 26-11-24-11-63-10-77-11-61-11-21-11 29-11 74-11 97-11 92-11 60-11 10-10-38-11-73-11-78-11-56-11-11-11 39-11 79-11 97-11 83-11 45-10-6-11-53-11-79-11-78-11-49-11-1-11 48-11 84-11 93-10 72-11 30-11-22-11-65-11-85-11-75-11-41-11 9-11 57-10 86-11 87-11 60-11 14-11-37-11-76-11-88-11-72-11-31-10 19-11 64-11 86-11 80-11 47-11-3-11-51-11-85-11-89-10-66-11-22-11 30-11 69-11 84-11 71-11 32-11-19-11-65-10-91-11-89-11-59-11-11-11 38-11 73-11 81-11 60-11 17-11-35-10-77-11-97-11-86-11-51-11 0-11 46-11 75-11 75-11 48-10 1-11-51z"/>
<path transform="translate(-181.8 -111)" d="M1350 4898l11 50 11 0 10-48 11-75 11-75 11-47 11 1 11 51 11 86 11 97 11 77 10 34 11-16 11-60 11-81 11-73 11-38 11 11 11 59 11 89 10 91 11 65 11 19 11-32 11-71 11-85 11-69 11-29 11 22 10 66 11 89 11 84 11 52 11 3 11-47 11-80 11-86 11-64 11-19 10 31 11 72 11 88 11 75 11 38 11-14 11-60 11-88 11-86 10-56 11-9 11 40 11 76 11 85 11 65 11 21 11-29 11-73 10-92 11-84 11-48 11 1 11 49 11 78 11 79 11 53 11 5 10-45 11-83 11-96 11-79 11-40 11 12 11 56 11 78 11 72 10 39 11-10 11-60 11-92 11-97 11-74 11-30 11 22 11 61 11 77 10 63 11 24 11-27 11-72 11-100 11-96 11-67 11-19 11 30 10 65 11 74 11 52 11 8 11-42 11-85 11-104 11-95 11-58 10-9 11 39 11 67 11 68 11 39 11-7 11-58 17-154-11 58-11 7-11-39-11-68-11-67-11-39-11 9-10 58-11 95-11 104-11 85-11 43-11-9-11-52-11-74-11-65-10-30-11 19-11 67-11 96-11 100-11 73-11 26-11-24-11-63-10-77-11-61-11-21-11 29-11 74-11 97-11 92-11 60-11 10-10-39-11-72-11-78-11-56-11-12-11 40-11 79-11 96-11 83-11 45-10-5-11-53-11-79-11-78-11-49-11-1-11 48-11 84-11 92-10 73-11 29-11-21-11-65-11-85-11-76-11-40-11 9-11 56-10 86-11 88-11 60-11 14-11-38-11-75-11-88-11-72-11-31-10 19-11 64-11 86-11 80-11 47-11-3-11-52-11-84-11-89-10-66-11-22-11 29-11 69-11 85-11 71-11 32-11-19-11-65-10-91-11-89-11-59-11-11-11 38-11 73-11 81-11 60-11 16-11-34-10-77-11-97-11-86-11-51-11-1-11 47-11 75-11 75-11 48-10 0-11-50z"/>
<path transform="translate(-173.3 -105.9)" d="M1350 4829l11 50 11 0 10-48 11-75 11-75 11-47 11 1 11 51 11 86 11 97 11 77 10 34 11-16 11-60 11-81 11-73 11-38 11 11 11 59 11 89 10 91 11 65 11 19 11-32 11-71 11-85 11-69 11-29 11 21 10 67 11 89 11 84 11 52 11 3 11-47 11-80 11-86 11-64 11-19 10 31 11 72 11 88 11 75 11 38 11-14 11-60 11-88 11-86 10-56 11-9 11 40 11 76 11 85 11 65 11 21 11-29 11-73 10-92 11-84 11-48 11 1 11 49 11 78 11 79 11 53 11 5 10-45 11-83 11-96 11-79 11-40 11 12 11 56 11 78 11 72 10 39 11-10 11-60 11-92 11-97 11-74 11-30 11 22 11 61 11 77 10 63 11 24 11-27 11-72 11-100 11-97 11-66 11-19 11 30 10 65 11 74 11 52 11 8 11-42 11-85 11-104 11-95 11-58 10-9 11 39 11 67 11 68 11 39 11-7 11-58 17-178-11 58-11 7-11-39-11-68-11-67-11-39-11 9-10 58-11 95-11 104-11 85-11 43-11-9-11-52-11-74-11-65-10-30-11 19-11 67-11 96-11 100-11 73-11 26-11-24-11-63-10-77-11-61-11-21-11 29-11 74-11 97-11 92-11 60-11 10-10-39-11-72-11-78-11-56-11-12-11 40-11 79-11 96-11 83-11 45-10-5-11-53-11-79-11-78-11-49-11-1-11 48-11 84-11 92-10 73-11 29-11-21-11-65-11-85-11-76-11-40-11 9-11 57-10 85-11 88-11 60-11 14-11-37-11-76-11-88-11-72-11-31-10 19-11 64-11 86-11 80-11 47-11-3-11-51-11-85-11-89-10-66-11-22-11 29-11 69-11 85-11 71-11 32-11-19-11-65-10-91-11-89-11-59-11-11-11 38-11 73-11 81-11 60-11 17-11-35-10-77-11-97-11-86-11-51-11-1-11 47-11 75-11 75-11 48-10 0-11-50z"/>
<path transform="translate(-164.9 -100.7)" d="M1350 4734l11 50 11-1 10-47 11-76 11-75 11-46 11 1 11 50 11 87 11 96 11 77 10 35 11-16 11-60 11-82 11-72 11-39 11 11 11 59 11 89 10 92 11 65 11 19 11-32 11-71 11-85 11-69 11-29 11 21 10 66 11 90 11 84 11 52 11 2 11-46 11-80 11-87 11-63 11-20 10 32 11 72 11 88 11 75 11 37 11-13 11-61 11-87 11-86 10-56 11-10 11 41 11 76 11 85 11 64 11 22 11-30 11-72 10-93 11-83 11-49 11 2 11 48 11 78 11 80 11 52 11 6 10-45 11-83 11-96 11-80 11-39 11 12 11 55 11 79 11 72 10 39 11-11 11-59 11-92 11-98 11-74 11-29 11 22 11 61 11 77 10 63 11 24 11-27 11-73 11-99 11-97 11-67 11-18 11 30 10 65 11 73 11 52 11 9 11-42 11-85 11-105 11-94 11-58 10-9 11 39 11 67 11 67 11 40 11-7 11-58 17-146-11 58-11 8-11-40-11-68-11-67-11-38-11 8-10 59-11 94-11 104-11 85-11 43-11-9-11-52-11-73-11-65-10-31-11 19-11 67-11 97-11 99-11 73-11 26-11-24-11-63-10-77-11-61-11-21-11 29-11 74-11 97-11 92-11 60-11 10-10-38-11-73-11-78-11-56-11-11-11 39-11 79-11 97-11 83-11 45-10-6-11-53-11-79-11-78-11-49-11-1-11 48-11 84-11 93-10 72-11 30-11-22-11-65-11-85-11-75-11-41-11 9-11 57-10 86-11 87-11 60-11 14-11-37-11-76-11-88-11-72-11-31-10 19-11 64-11 86-11 80-11 47-11-3-11-51-11-85-11-89-10-66-11-22-11 30-11 69-11 84-11 71-11 32-11-19-11-65-10-91-11-89-11-59-11-11-11 38-11 73-11 81-11 60-11 17-11-35-10-77-11-97-11-86-11-51-11 0-11 46-11 75-11 75-11 48-10 1-11-51z"/>
<path transform="translate(-156.4 -95.5)" d="M1350 4641l11 50 11-1 10-47 11-76 11-75 11-46 11 1 11 50 11 87 11 96 11 77 10 35 11-16 11-60 11-81 11-73 11-39 11 11 11 59 11 89 10 92 11 65 11 19 11-32 11-71 11-85 11-69 11-29 11 21 10 66 11 90 11 84 11 52 11 3 11-47 11-80 11-87 11-63 11-19 10 31 11 72 11 88 11 75 11 37 11-13 11-61 11-87 11-86 10-56 11-10 11 41 11 76 11 85 11 64 11 22 11-29 11-73 10-93 11-83 11-49 11 2 11 48 11 78 11 80 11 52 11 6 10-45 11-83 11-96 11-80 11-39 11 12 11 55 11 79 11 72 10 39 11-10 11-60 11-92 11-98 11-73 11-30 11 22 11 61 11 77 10 63 11 24 11-27 11-73 11-99 11-97 11-66 11-19 11 30 10 65 11 73 11 53 11 8 11-42 11-85 11-105 11-94 11-58 10-9 11 39 11 67 11 67 11 40 11-7 11-58 17-68-11 58-11 8-11-40-11-68-11-67-11-38-11 8-10 58-11 95-11 104-11 85-11 43-11-9-11-52-11-73-11-65-10-31-11 19-11 67-11 97-11 99-11 73-11 26-11-24-11-63-10-77-11-61-11-21-11 29-11 74-11 97-11 92-11 60-11 10-11-38-10-73-11-78-11-56-11-11-11 39-11 79-11 96-11 84-11 45-10-6-11-53-11-79-11-78-11-49-11-1-11 48-11 84-11 92-10 73-11 30-11-22-11-65-11-85-11-76-11-40-11 9-11 57-10 86-11 87-11 60-11 14-11-37-11-76-11-88-11-72-11-31-10 19-11 64-11 86-11 80-11 47-11-3-11-51-11-85-11-89-10-66-11-22-11 30-11 69-11 84-11 71-11 32-11-19-11-65-11-91-10-89-11-59-11-11-11 38-11 73-11 81-11 60-11 17-11-35-10-77-11-97-11-86-11-51-11-1-11 47-11 75-11 75-11 48-10 0-11-50z"/>
<path transform="translate(-148 -90.4)" d="M1350 4578l11 50 11 0 10-48 11-75 11-75 11-47 11 1 11 50 11 87 11 96 11 78 10 34 11-16 11-60 11-81 11-73 11-38 11 11 11 59 11 89 10 91 11 65 11 19 11-32 11-71 11-85 11-69 11-29 11 21 10 66 11 90 11 84 11 52 11 3 11-47 11-80 11-86 11-64 11-19 10 31 11 72 11 88 11 75 11 38 11-14 11-60 11-88 11-86 10-56 11-9 11 40 11 76 11 85 11 65 11 21 11-29 11-73 10-93 11-83 11-49 11 2 11 49 11 78 11 79 11 53 11 5 10-45 11-83 11-96 11-79 11-40 11 12 11 56 11 78 11 72 10 39 11-10 11-60 11-92 11-97 11-74 11-30 11 22 11 61 11 77 10 63 11 24 11-27 11-72 11-100 11-97 11-66 11-19 11 30 10 65 11 74 11 52 11 8 11-42 11-85 11-104 11-95 11-58 10-9 11 39 11 67 11 68 11 39 11-7 11-58 17 30-11 58-11 7-11-40-11-67-11-68-11-38-11 8-10 59-11 94-11 105-11 84-11 43-11-9-11-52-11-73-11-65-10-31-11 19-11 67-11 97-11 99-11 73-11 27-11-24-11-63-10-77-11-62-11-21-11 29-11 74-11 98-11 92-11 59-11 11-11-39-10-72-11-79-11-55-11-12-11 39-11 80-11 96-11 83-11 45-10-6-11-52-11-80-11-78-11-49-11-1-11 49-11 83-11 93-10 72-11 30-11-22-11-64-11-85-11-76-11-41-11 9-11 57-10 86-11 87-11 61-11 13-11-37-11-75-11-89-11-71-11-32-10 20-11 63-11 87-11 80-11 46-11-2-11-52-11-84-11-90-10-66-11-21-11 29-11 69-11 85-11 70-11 33-11-19-11-65-11-92-10-89-11-59-11-11-11 39-11 72-11 81-11 60-11 17-11-35-10-77-11-96-11-87-11-50-11-1-11 46-11 75-11 76-11 47-10 1-11-50z"/>
<path transform="translate(-139.5 -85.2)" d="M1350 4563l11 50 11 0 10-48 11-75 11-75 11-47 11 1 11 50 11 87 11 96 11 78 10 34 11-16 11-60 11-81 11-73 11-39 11 12 11 59 11 89 10 91 11 65 11 19 11-32 11-71 11-85 11-69 11-29 11 21 10 66 11 90 11 84 11 52 11 3 11-47 11-80 11-86 11-64 11-19 10 31 11 72 11 88 11 75 11 37 11-13 11-60 11-88 11-86 10-56 11-9 11 40 11 76 11 85 11 64 11 22 11-29 11-73 10-93 11-83 11-49 11 2 11 48 11 79 11 79 11 52 11 6 10-45 11-83 11-96 11-80 11-39 11 12 11 56 11 78 11 72 10 39 11-10 11-60 11-92 11-97 11-74 11-30 11 22 11 61 11 77 10 63 11 24 11-27 11-73 11-99 11-97 11-66 11-19 11 30 10 65 11 73 11 53 11 8 11-42 11-85 11-105 11-94 11-58 10-9 11 39 11 67 11 67 11 40 11-7 11-58 17 114-11 58-11 7-11-40-11-67-11-68-11-38-11 8-10 59-11 94-11 105-11 84-11 43-11-9-11-52-11-73-11-65-10-31-11 19-11 67-11 97-11 99-11 73-11 27-11-24-11-63-10-77-11-62-11-21-11 29-11 74-11 98-11 92-11 59-11 11-10-39-11-72-11-79-11-55-11-12-11 39-11 80-11 96-11 83-11 45-10-6-11-52-11-80-11-78-11-49-11-1-11 49-11 83-11 93-10 72-11 30-11-22-11-64-11-85-11-76-11-41-11 9-11 57-10 86-11 87-11 61-11 13-11-37-11-75-11-89-11-71-11-32-10 20-11 63-11 87-11 80-11 46-11-2-11-52-11-84-11-90-10-66-11-21-11 29-11 69-11 85-11 70-11 33-11-19-11-65-10-92-11-89-11-59-11-11-11 39-11 72-11 81-11 60-11 17-11-35-10-77-11-96-11-87-11-50-11-1-11 46-11 75-11 76-11 47-10 1-11-50z"/>
<path transform="translate(-131 -80)" d="M1350 4597l11 51 11-1 10-48 11-75 11-75 11-46 11 0 11 51 11 86 11 97 11 77 10 35 11-17 11-60 11-81 11-73 11-38 11 11 11 59 11 89 10 91 11 65 11 19 11-32 11-71 11-84 11-69 11-30 11 22 10 66 11 89 11 85 11 51 11 3 11-47 11-80 11-86 11-64 11-19 10 31 11 72 11 88 11 76 11 37 11-14 11-60 11-87 11-86 10-57 11-9 11 41 11 75 11 85 11 65 11 22 11-30 11-72 10-93 11-84 11-48 11 1 11 49 11 78 11 79 11 53 11 6 10-45 11-83 11-97 11-79 11-39 11 11 11 56 11 78 11 73 10 38 11-10 11-60 11-92 11-97 11-74 11-29 11 21 11 61 11 77 10 63 11 24 11-26 11-73 11-99 11-97 11-67 11-19 11 31 10 65 11 73 11 52 11 9 11-43 11-85 11-104 11-94 11-59 10-8 11 38 11 67 11 68 11 40 11-8 11-58 17 157-11 58-11 7-11-40-11-67-11-67-11-39-11 9-10 58-11 94-11 105-11 85-11 42-11-9-11-52-11-73-11-65-10-30-11 19-11 66-11 97-11 99-11 73-11 27-11-24-11-63-10-77-11-61-11-22-11 30-11 73-11 98-11 92-11 59-11 11-11-39-10-72-11-79-11-55-11-12-11 39-11 80-11 96-11 83-11 45-10-6-11-52-11-80-11-78-11-48-11-2-11 49-11 83-11 93-10 73-11 29-11-22-11-64-11-85-11-76-11-41-11 10-11 56-10 86-11 87-11 61-11 13-11-37-11-75-11-88-11-72-11-31-10 19-11 63-11 87-11 80-11 47-11-3-11-52-11-84-11-90-10-66-11-21-11 29-11 69-11 85-11 71-11 32-11-19-11-65-11-92-10-89-11-59-11-11-11 39-11 73-11 81-11 60-11 16-11-35-10-77-11-96-11-87-11-50-11-1-11 46-11 75-11 76-11 47-10 1-11-50z"/>
<path transform="translate(-122.6 -74.9)" d="M1350 4666l11 51 11-1 10-48 11-75 11-75 11-46 11 0 11 51 11 86 11 97 11 77 10 35 11-17 11-60 11-81 11-73 11-38 11 11 11 59 11 89 10 91 11 65 11 19 11-32 11-71 11-84 11-69 11-30 11 22 10 66 11 89 11 85 11 51 11 3 11-47 11-80 11-86 11-64 11-19 10 31 11 72 11 88 11 76 11 37 11-14 11-60 11-87 11-86 10-57 11-9 11 41 11 75 11 85 11 65 11 22 11-30 11-72 10-93 11-84 11-48 11 1 11 49 11 78 11 79 11 53 11 6 10-45 11-84 11-96 11-79 11-39 11 11 11 56 11 78 11 73 10 38 11-10 11-60 11-92 11-97 11-74 11-29 11 21 11 61 11 77 10 63 11 24 11-26 11-73 11-99 11-97 11-67 11-19 11 31 10 65 11 73 11 52 11 9 11-43 11-85 11-104 11-94 11-59 10-8 11 38 11 67 11 68 11 40 11-8 11-58 17 144-11 58-11 7-11-40-11-67-11-67-11-39-11 9-10 58-11 94-11 105-11 85-11 42-11-8-11-53-11-73-11-65-10-30-11 19-11 66-11 97-11 99-11 73-11 27-11-24-11-63-10-77-11-61-11-22-11 30-11 73-11 98-11 92-11 60-11 10-11-39-10-72-11-79-11-55-11-12-11 39-11 80-11 96-11 83-11 45-10-6-11-52-11-80-11-78-11-48-11-2-11 49-11 83-11 93-10 73-11 29-11-22-11-64-11-85-11-76-11-40-11 9-11 56-10 86-11 88-11 60-11 13-11-37-11-75-11-88-11-72-11-31-10 19-11 64-11 86-11 80-11 47-11-3-11-52-11-84-11-90-10-66-11-21-11 29-11 69-11 85-11 71-11 32-11-19-11-65-11-92-10-89-11-58-11-12-11 39-11 73-11 81-11 60-11 16-11-34-10-78-11-96-11-87-11-50-11-1-11 46-11 75-11 76-11 47-10 1-11-50z"/>
<path transform="translate(-114.1 -69.7)" d="M1350 4744l11 50 11-1 10-48 11-75 11-75 11-46 11 0 11 51 11 86 11 97 11 77 10 35 11-17 11-60 11-81 11-73 11-38 11 11 11 59 11 89 10 91 11 66 11 18 11-32 11-71 11-84 11-69 11-30 11 22 10 66 11 90 11 84 11 52 11 2 11-47 11-80 11-86 11-63 11-20 10 32 11 71 11 89 11 75 11 37 11-14 11-60 11-87 11-86 10-57 11-9 11 41 11 75 11 85 11 65 11 22 11-30 11-72 10-93 11-84 11-48 11 1 11 49 11 78 11 80 11 52 11 6 10-45 11-83 11-96 11-80 11-39 11 11 11 56 11 79 11 72 10 39 11-11 11-59 11-92 11-98 11-74 11-29 11 21 11 62 11 76 10 63 11 25 11-27 11-73 11-99 11-97 11-67 11-19 11 31 10 65 11 73 11 52 11 9 11-43 11-85 11-104 11-94 11-59 10-8 11 38 11 67 11 68 11 40 11-8 11-57 17 79-11 58-11 7-11-40-11-68-11-67-11-38-11 8-10 59-11 94-11 104-11 85-11 43-11-9-11-52-11-73-11-65-10-31-11 19-11 67-11 97-11 99-11 73-11 27-11-25-11-63-10-76-11-62-11-21-11 29-11 74-11 98-11 92-11 59-11 11-11-39-10-72-11-79-11-56-11-11-11 39-11 80-11 96-11 83-11 45-10-6-11-52-11-80-11-78-11-49-11-1-11 48-11 84-11 93-10 72-11 30-11-22-11-65-11-84-11-76-11-41-11 9-11 57-10 86-11 87-11 60-11 14-11-37-11-75-11-89-11-71-11-32-10 20-11 63-11 87-11 80-11 46-11-2-11-52-11-84-11-90-10-66-11-21-11 29-11 69-11 85-11 70-11 32-11-18-11-66-11-91-10-89-11-59-11-11-11 38-11 73-11 81-11 60-11 17-11-35-10-77-11-96-11-87-11-51-11 0-11 46-11 75-11 76-11 47-10 1-11-50z"/>
<path transform="translate(-105.7 -64.5)" d="M1350 4800l11 50 11-1 10-47 11-76 11-75 11-46 11 0 11 51 11 87 11 96 11 77 10 35 11-17 11-60 11-81 11-73 11-38 11 11 11 59 11 89 10 91 11 66 11 18 11-32 11-70 11-85 11-69 11-29 11 21 10 66 11 90 11 84 11 52 11 2 11-46 11-80 11-87 11-63 11-20 10 32 11 71 11 89 11 75 11 37 11-14 11-60 11-87 11-86 10-57 11-9 11 41 11 76 11 84 11 65 11 22 11-30 11-72 10-93 11-84 11-48 11 1 11 49 11 78 11 80 11 52 11 6 10-45 11-83 11-96 11-80 11-39 11 11 11 56 11 79 11 72 10 39 11-11 11-59 11-92 11-98 11-74 11-29 11 21 11 62 11 76 10 63 11 25 11-27 11-73 11-99 11-97 11-67 11-19 11 31 10 65 11 73 11 52 11 9 11-43 11-85 11-104 11-94 11-59 10-8 11 38 11 67 11 68 11 40 11-7 11-58 17-16-11 58-11 7-11-40-11-67-11-67-11-39-11 9-10 58-11 94-11 105-11 85-11 42-11-8-11-53-11-73-11-65-10-30-11 19-11 66-11 97-11 99-11 73-11 27-11-24-11-63-10-77-11-61-11-22-11 30-11 73-11 98-11 92-11 60-11 10-11-39-10-72-11-79-11-55-11-12-11 39-11 80-11 96-11 83-11 45-10-6-11-52-11-80-11-78-11-48-11-2-11 49-11 83-11 93-10 73-11 29-11-22-11-64-11-85-11-76-11-40-11 9-11 56-10 86-11 87-11 61-11 13-11-37-11-75-11-88-11-72-11-31-10 19-11 64-11 86-11 80-11 47-11-3-11-52-11-84-11-90-10-66-11-21-11 29-11 69-11 85-11 71-11 32-11-19-11-65-11-92-10-89-11-58-11-12-11 39-11 73-11 81-11 60-11 16-11-35-10-77-11-96-11-87-11-50-11-1-11 46-11 75-11 76-11 47-10 1-11-50z"/>
<path transform="translate(-97.2 -59.4)" d="M1350 4812l11 50 11 0 10-48 11-75 11-75 11-47 11 1 11 51 11 86 11 97 11 77 10 35 11-17 11-60 11-81 11-73 11-38 11 11 11 59 11 89 10 91 11 65 11 19 11-32 11-71 11-84 11-70 11-29 11 22 10 66 11 89 11 85 11 51 11 3 11-47 11-80 11-86 11-64 11-19 10 31 11 72 11 88 11 76 11 37 11-14 11-60 11-87 11-86 10-57 11-9 11 40 11 76 11 85 11 65 11 22 11-30 11-73 10-92 11-84 11-48 11 1 11 49 11 78 11 79 11 53 11 6 10-45 11-84 11-96 11-79 11-39 11 11 11 56 11 78 11 72 10 39 11-10 11-60 11-92 11-97 11-74 11-29 11 21 11 61 11 77 10 63 11 24 11-26 11-73 11-99 11-97 11-67 11-19 11 30 10 66 11 73 11 52 11 9 11-43 11-85 11-104 11-95 11-58 10-9 11 39 11 67 11 68 11 40 11-8 11-58 17-109-11 58-11 7-11-40-11-67-11-67-11-39-11 9-10 58-11 94-11 105-11 85-11 42-11-9-11-52-11-73-11-65-10-30-11 19-11 66-11 97-11 99-11 73-11 27-11-24-11-63-10-77-11-61-11-22-11 30-11 73-11 98-11 92-11 59-11 11-10-39-11-72-11-79-11-55-11-12-11 39-11 80-11 96-11 83-11 45-10-6-11-52-11-80-11-78-11-48-11-2-11 49-11 83-11 93-10 72-11 30-11-22-11-64-11-85-11-76-11-41-11 10-11 56-10 86-11 87-11 61-11 13-11-37-11-75-11-88-11-72-11-31-10 19-11 63-11 87-11 80-11 46-11-2-11-52-11-84-11-90-10-66-11-21-11 29-11 69-11 85-11 71-11 32-11-19-11-65-10-92-11-89-11-59-11-11-11 39-11 73-11 81-11 60-11 16-11-35-10-77-11-96-11-87-11-50-11-1-11 46-11 75-11 76-11 47-10 1-11-50z"/>
<path transform="translate(-88.8 -54.2)" d="M1350 4774l11 50 11-1 10-47 11-76 11-75 11-46 11 0 11 51 11 87 11 96 11 77 10 35 11-17 11-60 11-81 11-73 11-38 11 11 11 59 11 89 10 91 11 66 11 18 11-32 11-71 11-84 11-69 11-29 11 21 10 66 11 90 11 84 11 52 11 2 11-46 11-81 11-86 11-63 11-20 10 32 11 71 11 89 11 75 11 37 11-14 11-60 11-87 11-86 10-57 11-9 11 41 11 76 11 84 11 65 11 22 11-30 11-72 10-93 11-84 11-48 11 1 11 49 11 78 11 80 11 52 11 6 10-45 11-83 11-96 11-80 11-39 11 11 11 56 11 79 11 72 10 39 11-11 11-59 11-92 11-98 11-74 11-29 11 21 11 62 11 76 10 63 11 25 11-27 11-73 11-99 11-97 11-67 11-19 11 31 10 65 11 73 11 52 11 9 11-43 11-85 11-104 11-94 11-59 10-8 11 38 11 67 11 68 11 40 11-7 11-58 17-172-11 58-11 8-11-40-11-68-11-67-11-38-11 8-10 59-11 94-11 104-11 85-11 43-11-9-11-52-11-73-11-65-10-31-11 19-11 67-11 97-11 99-11 73-11 27-11-25-11-63-10-77-11-61-11-21-11 29-11 74-11 97-11 93-11 59-11 11-11-39-10-73-11-78-11-56-11-11-11 39-11 79-11 97-11 83-11 45-10-6-11-53-11-79-11-78-11-49-11-1-11 48-11 84-11 93-10 72-11 30-11-22-11-65-11-85-11-75-11-41-11 9-11 57-10 86-11 87-11 60-11 14-11-37-11-76-11-88-11-72-11-31-10 20-11 63-11 86-11 80-11 47-11-3-11-51-11-85-11-89-10-66-11-22-11 30-11 69-11 84-11 71-11 32-11-19-11-65-11-91-10-89-11-59-11-11-11 38-11 73-11 81-11 60-11 17-11-35-10-77-11-97-11-86-11-51-11 0-11 46-11 75-11 75-11 48-10 1-11-51z"/>
<path transform="translate(-80.3 -49.1)" d="M1350 4693l11 50 11-1 10-48 11-75 11-75 11-46 11 0 11 51 11 86 11 97 11 77 10 35 11-17 11-60 11-81 11-73 11-38 11 11 11 59 11 89 10 91 11 66 11 18 11-32 11-71 11-84 11-69 11-30 11 22 10 66 11 90 11 84 11 52 11 2 11-47 11-80 11-86 11-63 11-20 10 32 11 71 11 89 11 75 11 37 11-14 11-60 11-87 11-86 10-57 11-9 11 41 11 75 11 85 11 65 11 22 11-30 11-72 10-93 11-84 11-48 11 1 11 49 11 78 11 80 11 52 11 6 10-45 11-83 11-96 11-80 11-39 11 11 11 56 11 79 11 72 10 39 11-11 11-59 11-93 11-97 11-74 11-29 11 21 11 61 11 77 10 63 11 25 11-27 11-73 11-99 11-97 11-67 11-19 11 31 10 65 11 73 11 52 11 9 11-43 11-85 11-104 11-94 11-59 10-8 11 38 11 67 11 68 11 40 11-8 11-57 17-181-11 58-11 7-11-40-11-67-11-67-11-39-11 9-10 58-11 94-11 105-11 85-11 42-11-8-11-53-11-73-11-65-10-30-11 19-11 66-11 97-11 99-11 73-11 27-11-24-11-63-10-77-11-61-11-22-11 30-11 74-11 97-11 92-11 60-11 10-10-39-11-72-11-78-11-56-11-12-11 39-11 80-11 96-11 83-11 45-10-5-11-53-11-79-11-79-11-48-11-2-11 49-11 83-11 93-10 73-11 29-11-22-11-64-11-85-11-76-11-40-11 9-11 56-10 86-11 88-11 60-11 14-11-38-11-75-11-88-11-72-11-31-10 19-11 64-11 86-11 80-11 47-11-3-11-52-11-84-11-90-10-66-11-21-11 29-11 69-11 85-11 71-11 32-11-19-11-65-10-91-11-89-11-59-11-11-11 38-11 73-11 81-11 60-11 16-11-34-10-78-11-96-11-87-11-50-11-1-11 47-11 75-11 75-11 48-10 0-11-50z"/>
<path transform="translate(-71.9 -43.9)" d="M1350 4592l11 50 11 0 10-48 11-75 11-75 11-47 11 1 11 51 11 86 11 97 11 77 10 34 11-16 11-60 11-81 11-73 11-38 11 11 11 59 11 89 10 91 11 65 11 19 11-32 11-71 11-85 11-69 11-29 11 22 10 66 11 89 11 84 11 52 11 3 11-47 11-80 11-86 11-64 11-19 10 31 11 72 11 88 11 75 11 38 11-14 11-60 11-88 11-86 10-56 11-9 11 40 11 76 11 85 11 65 11 21 11-29 11-73 10-92 11-84 11-48 11 1 11 49 11 78 11 79 11 53 11 5 10-45 11-83 11-96 11-79 11-40 11 12 11 56 11 78 11 72 10 39 11-10 11-60 11-92 11-97 11-74 11-30 11 22 11 61 11 77 10 63 11 24 11-27 11-72 11-100 11-96 11-67 11-19 11 30 10 65 11 74 11 52 11 8 11-42 11-85 11-104 11-95 11-58 10-9 11 39 11 67 11 68 11 39 11-7 11-58 17-134-11 57-11 8-11-40-11-68-11-67-11-38-11 8-10 59-11 94-11 104-11 85-11 43-11-9-11-52-11-73-11-65-10-31-11 19-11 67-11 97-11 99-11 73-11 27-11-25-11-63-10-76-11-62-11-21-11 29-11 74-11 98-11 92-11 59-11 11-10-39-11-72-11-79-11-56-11-11-11 39-11 80-11 96-11 83-11 45-10-6-11-52-11-80-11-78-11-49-11-1-11 48-11 84-11 93-10 72-11 30-11-22-11-65-11-85-11-75-11-41-11 9-11 57-10 86-11 87-11 60-11 14-11-37-11-75-11-89-11-71-11-32-10 20-11 63-11 86-11 80-11 47-11-2-11-52-11-84-11-90-10-66-11-21-11 29-11 69-11 84-11 71-11 32-11-18-11-66-10-91-11-89-11-59-11-11-11 38-11 73-11 81-11 60-11 17-11-35-10-77-11-97-11-86-11-51-11 0-11 46-11 75-11 75-11 48-10 1-11-50z"/>
<path transform="translate(-63.4 -38.7)" d="M1350 4502l11 50 11-1 10-47 11-76 11-75 11-46 11 1 11 50 11 87 11 96 11 77 10 35 11-17 11-60 11-81 11-73 11-38 11 11 11 59 11 89 10 92 11 65 11 19 11-33 11-70 11-85 11-69 11-29 11 21 10 66 11 90 11 84 11 52 11 2 11-46 11-80 11-87 11-63 11-20 10 32 11 71 11 89 11 75 11 37 11-13 11-61 11-87 11-86 10-57 11-9 11 41 11 76 11 85 11 64 11 22 11-30 11-72 10-93 11-84 11-48 11 1 11 49 11 78 11 80 11 52 11 6 10-45 11-83 11-96 11-80 11-39 11 12 11 55 11 79 11 72 10 39 11-11 11-59 11-92 11-98 11-74 11-29 11 21 11 62 11 77 10 63 11 24 11-27 11-73 11-99 11-97 11-67 11-19 11 31 10 65 11 73 11 52 11 9 11-43 11-85 11-104 11-94 11-59 10-8 11 38 11 68 11 67 11 40 11-7 11-58 17-49-11 58-11 7-11-40-11-67-11-67-11-39-11 9-10 58-11 94-11 105-11 85-11 42-11-8-11-53-11-73-11-65-10-30-11 19-11 66-11 97-11 99-11 73-11 27-11-24-11-63-10-77-11-61-11-22-11 30-11 73-11 98-11 92-11 60-11 10-10-39-11-72-11-79-11-55-11-12-11 39-11 80-11 96-11 83-11 45-10-6-11-52-11-80-11-78-11-48-11-2-11 49-11 83-11 93-10 73-11 29-11-22-11-64-11-85-11-76-11-40-11 9-11 56-10 86-11 87-11 61-11 13-11-37-11-75-11-88-11-72-11-31-10 19-11 64-11 86-11 80-11 47-11-3-11-52-11-84-11-90-10-66-11-21-11 29-11 69-11 85-11 71-11 32-11-19-11-65-10-92-11-89-11-58-11-12-11 39-11 73-11 81-11 60-11 16-11-35-10-77-11-96-11-87-11-50-11-1-11 46-11 75-11 76-11 47-10 1-11-50z"/>
<path transform="translate(-55 -33.6)" d="M1350 4447l11 50 11 0 10-48 11-75 11-75 11-47 11 1 11 51 11 86 11 97 11 77 10 35 11-17 11-60 11-81 11-73 11-38 11 11 11 59 11 89 10 91 11 65 11 19 11-32 11-71 11-85 11-69 11-29 11 22 10 66 11 89 11 85 11 51 11 3 11-47 11-80 11-86 11-64 11-19 10 31 11 72 11 88 11 76 11 37 11-14 11-60 11-88 11-85 10-57 11-9 11 40 11 76 11 85 11 65 11 21 11-29 11-73 10-92 11-84 11-48 11 1 11 49 11 78 11 79 11 53 11 5 10-45 11-83 11-96 11-79 11-39 11 11 11 56 11 78 11 72 10 39 11-10 11-60 11-92 11-97 11-74 11-29 11 21 11 61 11 77 10 63 11 24 11-26 11-73 11-100 11-96 11-67 11-19 11 30 10 65 11 74 11 52 11 9 11-43 11-85 11-104 11-95 11-58 10-9 11 39 11 67 11 68 11 39 11-7 11-58 17 48-11 58-11 8-11-40-11-68-11-67-11-38-11 8-10 58-11 95-11 104-11 85-11 43-11-9-11-52-11-73-11-65-10-31-11 19-11 67-11 97-11 99-11 73-11 26-11-24-11-63-10-77-11-61-11-21-11 29-11 74-11 97-11 92-11 60-11 10-10-38-11-73-11-78-11-56-11-11-11 39-11 79-11 96-11 84-11 45-10-6-11-53-11-79-11-78-11-49-11-1-11 48-11 84-11 93-10 72-11 30-11-22-11-65-11-85-11-75-11-41-11 9-11 57-10 86-11 87-11 60-11 14-11-37-11-76-11-88-11-72-11-31-10 19-11 64-11 86-11 80-11 47-11-3-11-51-11-85-11-89-10-66-11-22-11 30-11 69-11 84-11 71-11 32-11-19-11-65-10-91-11-89-11-59-11-11-11 38-11 73-11 81-11 60-11 17-11-35-10-77-11-97-11-86-11-51-11 0-11 46-11 75-11 75-11 48-10 0-11-50z"/>
<path transform="translate(-46.5 -28.4)" d="M1350 4443l11 50 11-1 10-47 11-76 11-75 11-46 11 0 11 51 11 87 11 96 11 77 10 35 11-17 11-60 11-81 11-73 11-38 11 11 11 59 11 89 10 91 11 66 11 18 11-32 11-71 11-84 11-69 11-29 11 21 10 66 11 90 11 84 11 52 11 2 11-46 11-81 11-86 11-63 11-20 10 32 11 71 11 89 11 75 11 37 11-14 11-60 11-87 11-86 10-57 11-9 11 41 11 76 11 84 11 65 11 22 11-30 11-72 10-93 11-84 11-48 11 1 11 49 11 78 11 80 11 52 11 6 10-45 11-83 11-96 11-80 11-39 11 11 11 56 11 79 11 72 10 39 11-11 11-59 11-92 11-98 11-74 11-29 11 21 11 62 11 76 10 63 11 25 11-27 11-73 11-99 11-97 11-67 11-19 11 31 10 65 11 73 11 52 11 9 11-43 11-85 11-104 11-94 11-59 10-8 11 38 11 67 11 68 11 40 11-7 11-58 17 123-11 58-11 8-11-40-11-68-11-67-11-38-11 8-10 59-11 94-11 104-11 85-11 43-11-9-11-52-11-73-11-65-10-31-11 19-11 67-11 97-11 99-11 73-11 26-11-24-11-63-10-77-11-61-11-21-11 29-11 74-11 97-11 92-11 60-11 10-10-38-11-73-11-78-11-56-11-11-11 39-11 79-11 97-11 83-11 45-10-6-11-53-11-79-11-78-11-49-11-1-11 48-11 84-11 93-10 72-11 30-11-22-11-65-11-85-11-75-11-41-11 9-11 57-10 86-11 87-11 60-11 14-11-37-11-76-11-88-11-72-11-31-10 19-11 64-11 86-11 80-11 47-11-3-11-51-11-85-11-89-10-66-11-22-11 30-11 69-11 84-11 71-11 32-11-19-11-65-10-91-11-89-11-59-11-11-11 38-11 73-11 81-11 60-11 17-11-35-10-77-11-97-11-86-11-51-11 0-11 46-11 75-11 75-11 48-10 1-11-51z"/>
<path transform="translate(-38 -23.2)" d="M1350 4485l11 50 11 0 10-48 11-75 11-75 11-47 11 1 11 50 11 87 11 96 11 78 10 34 11-16 11-60 11-81 11-73 11-38 11 11 11 59 11 89 10 91 11 65 11 19 11-32 11-71 11-85 11-69 11-29 11 21 10 66 11 90 11 84 11 52 11 3 11-47 11-80 11-86 11-64 11-19 10 31 11 72 11 88 11 75 11 38 11-14 11-60 11-88 11-86 10-56 11-9 11 40 11 76 11 85 11 65 11 21 11-29 11-73 10-93 11-83 11-49 11 2 11 48 11 79 11 79 11 53 11 5 10-45 11-83 11-96 11-80 11-39 11 12 11 56 11 78 11 72 10 39 11-10 11-60 11-92 11-97 11-74 11-30 11 22 11 61 11 77 10 63 11 24 11-27 11-73 11-99 11-97 11-66 11-19 11 30 10 65 11 74 11 52 11 8 11-42 11-85 11-105 11-94 11-58 10-9 11 39 11 67 11 67 11 40 11-7 11-58 17 153-11 58-11 7-11-40-11-67-11-67-11-39-11 9-10 58-11 94-11 105-11 85-11 42-11-8-11-53-11-73-11-65-10-30-11 19-11 66-11 97-11 99-11 73-11 27-11-24-11-63-10-77-11-61-11-22-11 30-11 73-11 98-11 92-11 60-11 10-10-39-11-72-11-79-11-55-11-12-11 39-11 80-11 96-11 83-11 45-10-6-11-52-11-80-11-78-11-48-11-2-11 49-11 83-11 93-10 73-11 29-11-22-11-64-11-85-11-76-11-40-11 9-11 56-10 86-11 88-11 60-11 13-11-37-11-75-11-88-11-72-11-31-10 19-11 64-11 86-11 80-11 47-11-3-11-52-11-84-11-90-10-66-11-21-11 29-11 69-11 85-11 71-11 32-11-19-11-65-10-92-11-89-11-58-11-12-11 39-11 73-11 81-11 60-11 16-11-34-10-78-11-96-11-87-11-50-11-1-11 46-11 75-11 76-11 47-10 1-11-50z"/>
<path transform="translate(-29.6 -18.1)" d="M1350 4556l11 50 11 0 10-48 11-75 11-75 11-47 11 1 11 51 11 86 11 97 11 77 10 34 11-16 11-60 11-81 11-73 11-38 11 11 11 59 11 89 10 91 11 65 11 19 11-32 11-71 11-85 11-69 11-29 11 21 10 67 11 89 11 84 11 52 11 3 11-47 11-80 11-86 11-64 11-19 10 31 11 72 11 88 11 75 11 38 11-14 11-60 11-88 11-86 10-56 11-9 11 40 11 76 11 85 11 65 11 21 11-29 11-73 10-92 11-84 11-48 11 1 11 49 11 78 11 79 11 53 11 5 10-45 11-83 11-96 11-79 11-40 11 12 11 56 11 78 11 72 10 39 11-10 11-60 11-92 11-97 11-74 11-30 11 22 11 61 11 77 10 63 11 24 11-27 11-72 11-100 11-97 11-66 11-19 11 30 10 65 11 74 11 52 11 8 11-42 11-85 11-104 11-95 11-58 10-9 11 39 11 67 11 68 11 39 11-7 11-58 17 126-11 58-11 7-11-40-11-68-11-67-11-38-11 8-10 59-11 94-11 104-11 85-11 43-11-9-11-52-11-73-11-65-10-31-11 19-11 67-11 97-11 99-11 73-11 27-11-25-11-63-10-76-11-62-11-21-11 29-11 74-11 98-11 92-11 59-11 11-10-39-11-72-11-79-11-56-11-11-11 39-11 80-11 96-11 83-11 45-10-6-11-52-11-80-11-78-11-49-11-1-11 48-11 84-11 93-10 72-11 30-11-22-11-65-11-84-11-76-11-41-11 9-11 57-10 86-11 87-11 60-11 14-11-37-11-75-11-89-11-71-11-32-10 20-11 63-11 87-11 80-11 46-11-2-11-52-11-84-11-90-10-66-11-21-11 29-11 69-11 85-11 70-11 32-11-18-11-65-10-92-11-89-11-59-11-11-11 38-11 73-11 81-11 60-11 17-11-35-10-77-11-96-11-87-11-51-11 0-11 46-11 75-11 76-11 47-10 1-11-50z"/>
<path transform="translate(-21.1 -12.9)" d="M1350 4628l11 50 11-1 10-47 11-76 11-75 11-46 11 0 11 51 11 87 11 96 11 77 10 35 11-17 11-60 11-81 11-73 11-38 11 11 11 59 11 89 10 92 11 65 11 18 11-32 11-70 11-85 11-69 11-29 11 21 10 66 11 90 11 84 11 52 11 2 11-46 11-80 11-87 11-63 11-20 10 32 11 71 11 89 11 75 11 37 11-14 11-60 11-87 11-86 10-57 11-9 11 41 11 76 11 84 11 65 11 22 11-30 11-72 10-93 11-84 11-48 11 1 11 49 11 78 11 80 11 52 11 6 10-45 11-83 11-96 11-80 11-39 11 11 11 56 11 79 11 72 10 39 11-11 11-59 11-92 11-98 11-74 11-29 11 21 11 62 11 76 10 63 11 25 11-27 11-73 11-99 11-97 11-67 11-19 11 31 10 65 11 73 11 52 11 9 11-43 11-85 11-104 11-94 11-59 10-8 11 38 11 67 11 68 11 40 11-7 11-58 17 50-11 58-11 7-11-39-11-68-11-67-11-39-11 9-10 58-11 95-11 104-11 85-11 43-11-9-11-52-11-73-11-66-10-30-11 19-11 67-11 97-11 99-11 73-11 26-11-24-11-63-10-77-11-61-11-21-11 29-11 74-11 97-11 92-11 60-11 10-10-39-11-72-11-78-11-56-11-11-11 39-11 79-11 96-11 84-11 45-10-6-11-53-11-79-11-78-11-49-11-1-11 48-11 84-11 92-10 73-11 30-11-22-11-65-11-85-11-76-11-40-11 9-11 57-10 86-11 87-11 60-11 14-11-37-11-76-11-88-11-72-11-31-10 19-11 64-11 86-11 80-11 47-11-3-11-51-11-85-11-89-10-66-11-22-11 29-11 70-11 84-11 71-11 32-11-19-11-65-10-91-11-89-11-59-11-11-11 38-11 73-11 81-11 60-11 17-11-35-10-77-11-97-11-86-11-51-11-1-11 47-11 75-11 75-11 48-10 0-11-50z"/>
<path transform="translate(-12.7 -7.7)" d="M1350 4671l11 50 11 0 10-48 11-75 11-75 11-47 11 1 11 51 11 86 11 97 11 77 10 35 11-17 11-60 11-81 11-73 11-38 11 11 11 59 11 89 10 91 11 65 11 19 11-32 11-71 11-84 11-70 11-29 11 22 10 66 11 89 11 85 11 51 11 3 11-47 11-80 11-86 11-64 11-19 10 31 11 72 11 88 11 76 11 37 11-14 11-60 11-87 11-86 10-57 11-9 11 40 11 76 11 85 11 65 11 22 11-30 11-73 10-92 11-84 11-48 11 1 11 49 11 78 11 79 11 53 11 6 10-45 11-84 11-96 11-79 11-39 11 11 11 56 11 78 11 72 10 39 11-10 11-60 11-92 11-97 11-74 11-29 11 21 11 61 11 77 10 63 11 24 11-26 11-73 11-99 11-97 11-67 11-19 11 30 10 66 11 73 11 52 11 9 11-43 11-85 11-104 11-95 11-58 10-9 11 39 11 67 11 68 11 40 11-8 11-58 17-47-11 58-11 7-11-39-11-68-11-67-11-39-11 9-10 58-11 95-11 104-11 85-11 43-11-9-11-52-11-73-11-66-10-30-11 19-11 67-11 97-11 99-11 73-11 26-11-24-11-63-10-77-11-61-11-21-11 29-11 74-11 97-11 92-11 60-11 10-10-39-11-72-11-78-11-56-11-11-11 39-11 79-11 96-11 84-11 45-10-6-11-53-11-79-11-78-11-49-11-1-11 48-11 84-11 92-10 73-11 30-11-22-11-65-11-85-11-76-11-40-11 9-11 57-10 86-11 87-11 60-11 14-11-37-11-76-11-88-11-72-11-31-10 19-11 64-11 86-11 80-11 47-11-3-11-51-11-85-11-89-10-66-11-22-11 29-11 70-11 84-11 71-11 32-11-19-11-65-10-91-11-89-11-59-11-11-11 38-11 73-11 81-11 60-11 17-11-35-10-77-11-97-11-86-11-51-11-1-11 47-11 75-11 75-11 48-10 0-11-50z"/>
</g>
<path d="M255.2 507.5L135.4 550.6L42.4 493.8L42.4 370.8M136.8 550.1l2.7 1.7M195.3 529l2.7 1.7M253.8 508l2.7 1.7M134.3 549.9l-3 1.1M88.9 522.2l-3 1.1M43.5 494.5l-3 1.1M42.4 493.8l-2.7 -1.7M42.4 463.1l-2.7 -1.7M42.4 432.3l-2.7 -1.7M42.4 401.6l-2.7 -1.7M42.4 370.8l-2.7 -1.7" fill="none" stroke="#5a5a5a" stroke-width="0.85"/>
<g fill="#2e2e2e">
<text x="35.3" y="372.6" text-anchor="end" font-size="10.5">80</text>
<text x="35.3" y="403.3" text-anchor="end" font-size="10.5">60</text>
<text x="35.3" y="434.1" text-anchor="end" font-size="10.5">40</text>
<text x="35.3" y="464.8" text-anchor="end" font-size="10.5">20</text>
<text x="35.3" y="495.6" text-anchor="end" font-size="10.5">0</text>
<text transform="translate(15.5 432) rotate(-90)" text-anchor="middle" font-size="11.7">z</text>
<text x="32.7" y="508.8" text-anchor="middle" font-size="10.5">5</text>
<text x="78" y="536.8" text-anchor="middle" font-size="10.5">0</text>
<text x="121.3" y="564.8" text-anchor="middle" font-size="10.5">-5</text>
<text x="146.8" y="565.4" text-anchor="middle" font-size="10.5">-5</text>
<text x="204.3" y="544.2" text-anchor="middle" font-size="10.5">0</text>
<text x="263.1" y="523.1" text-anchor="middle" font-size="10.5">5</text>
<text x="82.3" y="565.7" text-anchor="middle" font-size="11.7">y</text>
<text x="193.3" y="567.7" text-anchor="middle" font-size="11.7">x</text>
</g>
</g>
<g>
<path d="M148.9 842.4L58.2 785L58.2 662.3M198.1 824.7L107.4 767.3L107.4 644.6M247.2 807L156.5 749.6L156.5 626.9M131.5 841.1L249.4 798.7L249.4 676M93.8 817.2L211.7 774.8L211.7 652.1M56 793.3L173.9 750.9L173.9 628.2M48.4 788.5L166.3 746.1L257 803.5M48.4 754.2L166.3 711.8L257 769.2M48.4 720L166.3 677.6L257 735M48.4 685.7L166.3 643.3L257 700.7" fill="none" stroke="#e9e9e9" stroke-width="0.8"/>
<g fill="none" stroke-width="0.8" stroke-linejoin="round">
<path transform="scale(.1)" stroke-width="8" d="M1392 7806l49-8 41-3 47-1 47 2 55 7 40 8 36 9 42 15 36 17 31 19 24 21 15 18 11 21 4 11 2 12 0 20-6 22-5 10-9 14-17 18-20 17-31 19-27 12-39 14-44 12-36 6-44 5-48 3-41-1-45-3-40-5-45-9-40-12-30-11-28-13-32-18-26-21-15-17-12-18-8-21-3-21 4-23 8-19 14-20 24-23 23-16 34-17 28-11 42-13 34-8" stroke="#3440f9"/>
<path transform="scale(.1)" stroke-width="8" d="M1319 7742l62-11 67-6 73-3 65 3 74 7 56 10 62 15 54 18 47 21 25 13 23 15 34 25 27 28 9 12 11 18 8 20 4 13 2 14 0 17-2 18-5 17-7 15-8 14-20 26-12 12-20 17-38 25-43 21-48 19-52 15-58 13-62 9-69 5-61 1-59-3-64-7-65-12-53-13-54-18-47-21-41-23-35-25-28-27-11-14-11-16-6-12-6-16-4-18-2-15 1-15 3-16 4-13 7-15 8-14 9-14 11-12 19-18 35-26 41-23 46-20 51-16 53-14" stroke="#0c64ff"/>
<path transform="scale(.1)" stroke-width="8" d="M1198 7711l75-19 41-8 44-7 80-7 89-2 49 1 43 3 85 10 42 7 47 10 70 20 32 11 39 16 36 17 25 14 30 19 21 15 24 21 16 17 15 17 15 25 9 19 7 20 4 21 0 22-2 20-4 17-9 21-9 17-9 13-16 20-30 29-21 16-23 15-49 27-56 24-39 13-32 10-67 16-74 12-79 7-75 2-72-1-68-6-75-11-66-13-70-20-62-23-53-26-47-28-21-15-18-16-17-16-15-17-13-18-10-18-6-14-7-20-3-15-2-21 2-18 3-18 7-21 9-17 12-20 11-14 30-30 20-17 22-15 49-28 54-24 62-21" stroke="#0084f7"/>
<path transform="scale(.1)" stroke-width="8" d="M1203 7656l45-9 48-9 90-11 55-4 45-1 94 1 92 7 46 6 50 8 47 10 48 12 36 10 44 14 68 28 35 18 33 18 29 20 27 20 24 21 21 23 18 23 14 25 11 26 6 21 3 21 0 23-3 23-7 25-8 19-12 21-15 20-16 19-24 23-21 17-21 16-32 19-24 14-35 17-67 26-73 22-79 18-87 13-95 8-88 1-85-3-89-9-86-14-76-18-34-10-44-14-68-28-35-18-25-13-30-20-27-20-25-21-17-16-19-23-13-18-10-19-9-19-6-21-4-21-1-22 2-23 4-20 9-24 11-22 14-21 15-19 18-18 26-23 21-16 26-16 29-17 26-13 36-16 68-25 76-22" stroke="#00acd6"/>
<path transform="scale(.1)" stroke-width="8" d="M1770 8323l-86 10-84 5-91 1-85-4-82-8-87-14-79-17-77-22M2278 7850l14 23 9 19 7 20 5 20 3 22 1 22-3 24-4 16-5 17-10 23-12 21-15 21-16 19-17 18-19 17-25 19M776 8070l-14-23-9-19-7-20-5-20-3-22-1-22 3-24 4-16 5-17 10-23 12-21 15-21 16-19 17-18 19-17 25-19M1284 7597l86-10 84-5 91-1 83 4 84 8 87 14 79 17 77 22" stroke="#00c696"/>
<path transform="scale(.1)" stroke-width="8" d="M1629 8373l-47 2-62 0-58-1-54-4-97-10-59-9-44-8M2387 7919l4 23 2 29-2 23-5 25-8 25-12 27-18 28-16 22M667 8001l-4-23-2-29 2-23 5-25 8-25 12-27 18-28 16-22M1425 7547l47-2 62 0 58 1 54 4 97 10 59 9 44 8" stroke="#0ccc53"/>
<path transform="scale(.1)" stroke-width="8" d="M1530 8409l-67-2-64-4-58-5-57-7M2463 7967l-2 28-5 29-10 30-15 31M591 7953l2-32 7-31 10-28 13-27M1524 7511l67 2 64 4 58 5 57 7" stroke="#e5c600"/>
<path transform="scale(.1)" stroke-width="8" d="M1450 8438l-104-8M2525 8006l-5 25-9 25M529 7914l5-25 9-25M1604 7482l104 8" stroke="#ffc407"/>
</g>
<linearGradient id="gc" gradientUnits="userSpaceOnUse" x1="1391" y1="8459" x2="995.9" y2="7360.4"><stop offset="0" stop-color="#482cde"/><stop offset="0.05" stop-color="#4432ee"/><stop offset="0.1" stop-color="#383cf8"/><stop offset="0.17" stop-color="#1e56ff"/><stop offset="0.234" stop-color="#0867ff"/><stop offset="0.275" stop-color="#0070ff"/><stop offset="0.305" stop-color="#0078ff"/><stop offset="0.338" stop-color="#0087f5"/><stop offset="0.365" stop-color="#0096eb"/><stop offset="0.4" stop-color="#00a5e1"/><stop offset="0.44" stop-color="#00acd7"/><stop offset="0.485" stop-color="#00b6c1"/><stop offset="0.52" stop-color="#00c0aa"/><stop offset="0.56" stop-color="#00c891"/><stop offset="0.6" stop-color="#00cb78"/><stop offset="0.64" stop-color="#00cc5f"/><stop offset="0.668" stop-color="#0fcc50"/><stop offset="0.685" stop-color="#5acd3c"/><stop offset="0.705" stop-color="#aac81e"/><stop offset="0.74" stop-color="#bec80a"/><stop offset="0.76" stop-color="#dcc800"/><stop offset="0.79" stop-color="#f0c300"/><stop offset="0.84" stop-color="#ffb414"/><stop offset="0.91" stop-color="#ffcd00"/><stop offset="0.94" stop-color="#fae100"/><stop offset="1" stop-color="#ffee00"/></linearGradient>
<g transform="scale(.1)" fill="url(#gc)" >
<path transform="translate(-900.5 -569.9)" d="M1385 7244l9 15 9 15 9 15 9 14 9 14 9 14 9 13 9 13 9 13 9 13 9 12 9 12 9 12 9 11 10 11 9 11 9 11 9 10 9 10 9 9 9 10 9 9 9 9 9 8 9 9 9 8 9 7 9 8 10 7 9 7 9 6 9 7 9 6 9 5 9 6 9 5 9 5 9 4 9 5 9 4 9 3 9 4 9 3 10 3 9 2 9 3 9 2 9 2 9 1 9 1 9 1 9 1 9 0 9 0 9-1 9 0 9-1 10-1 9-1 9-2 9-2 9-2 9-3 9-3 9-3 9-3 9-4 9-4 9-4 9-5 9-5 10-5 9-5 9-6 9-6 9-6 9-6 9-7 9-7 9-8 9-8 9-7 9-9 9-8 9-9 9-9 10-9 9-10 9-10 9-10 9-11 9-11 9-11 9-11 9-12 9-12 9-12 9-13 9-12 9-14 10-13 9-13 9-14 9-15 9-14 9-15 9-15 9-15 9-16 9-16 9-16 9-17 9-17 9-17 9-17 10-18 9-18 9-18 9-18 9-19 9-19 9-20 9-19 9-20 9-20 9-21 9-21 9-21 9-21 10-22 12 55-9 20-9 4-9 13-9 33-9 36-9 18-9 2-9 12-9 32-9 35-9 15-9 1-9 11-9 31-10 33-9 13-9 0-9 10-9 30-9 31-9 11-9-2-9 10-9 29-9 29-9 9-9-3-9 8-10 29-9 27-9 7-9-5-9 8-9 27-9 26-9 5-9-7-9 8-9 26-9 23-9 3-9-7-9 6-10 25-9 22-9 1-9-9-9 5-9 24-9 20-9-1-9-10-9 5-9 23-9 17-9-3-9-12-10 5-9 22-9 15-9-5-9-13-9 4-9 20-9 14-9-7-9-14-9 3-9 19-9 12-9-9-10-16-9 3-9 18-9 10-9-12-9-16-9 1-9 17-9 8-9-13-9-18-9 1-9 16-9 5-9-15-10-18-9 0-9 14-9 3-9-17-9-19-9-1-9 13-9 1-9-19-9-20-9-2-9 12-9-1-10-21-9-21-9-2-9 10-9-3-9-23-9-22-9-3-9 8-9-4-9-25-9-24-9-3-9 7-9-7-10-26-9-25-9-4-9 5-9-9-9-28-9-25-9-6-9 4-9-11-9-29-9-27-9-6-9 3-10-14z"/>
<path transform="translate(-900.5 -569.9)" d="M1385 7244l9 15 9 15 9 15 9 14 9 14 9 14 9 13 9 13 9 13 9 13 9 12 9 12 9 12 9 11 10 11 9 11 9 11 9 10 9 10 9 9 9 10 9 9 9 9 9 8 9 9 9 8 9 7 9 8 10 7 9 7 9 6 9 7 9 6 9 5 9 6 9 5 9 5 9 4 9 5 9 4 9 3 9 4 9 3 10 3 9 2 9 3 9 2 9 2 9 1 9 1 9 1 9 1 9 0 9 0 9-1 9 0 9-1 10-1 9-1 9-2 9-2 9-2 9-3 9-3 9-3 9-3 9-4 9-4 9-4 9-5 9-5 10-5 9-5 9-6 9-6 9-6 9-6 9-7 9-7 9-8 9-8 9-7 9-9 9-8 9-9 9-9 10-9 9-10 9-10 9-10 9-11 9-11 9-11 9-11 9-12 9-12 9-12 9-13 9-12 9-14 10-13 9-13 9-14 9-15 9-14 9-15 9-15 9-15 9-16 9-16 9-16 9-17 9-17 9-17 9-17 10-18 9-18 9-18 9-18 9-19 9-19 9-20 9-19 9-20 9-20 9-21 9-21 9-21 9-21 10-22 25 81-9 22-9 25-9 22-9 19-9 18-9 20-9 23-9 21-9 17-9 17-9 19-9 22-9 19-10 16-9 15-9 18-9 20-9 18-9 14-9 14-9 16-9 19-9 17-9 12-9 12-9 16-9 17-10 15-9 11-9 11-9 14-9 16-9 14-9 9-9 10-9 13-9 14-9 12-9 8-9 8-9 12-9 13-10 10-9 7-9 7-9 10-9 11-9 9-9 5-9 6-9 9-9 10-9 7-9 4-9 4-9 8-10 8-9 6-9 2-9 3-9 6-9 7-9 4-9 1-9 2-9 5-9 5-9 3-9-1-9 1-9 3-10 4-9 1-9-2-9-1-9 2-9 3-9 0-9-4-9-2-9 1-9 1-9-2-9-5-9-4-10 0-9 0-9-4-9-7-9-5-9-1-9-2-9-5-9-8-9-7-9-3-9-3-9-6-9-10-9-7-10-5-9-4-9-9-9-11-9-9-9-5-9-6-9-10-9-13-9-10-9-7-9-7-9-12-9-14-10-11-9-9-9-9-9-13-9-15-9-13-9-9-9-11-9-14-9-17-9-14-9-11-9-12-9-16-9-18-10-16z"/>
<path transform="translate(-887.6 -561.7)" d="M1385 7291l9 13 9-2 9 6 9 26 9 30 9 11 9-4 9 5 9 26 9 28 9 9 9-6 9 5 9 24 10 27 9 7 9-8 9 4 9 24 9 24 9 5 9-9 9 3 9 23 9 23 9 2 9-10 9 3 10 21 9 21 9 1 9-12 9 2 9 20 9 19 9-1 9-13 9 1 9 19 9 17 9-3 9-15 9 0 10 19 9 15 9-6 9-15 9-1 9 18 9 13 9-8 9-17 9-1 9 16 9 11 9-9 9-19 10-2 9 15 9 10 9-12 9-19 9-3 9 14 9 7 9-14 9-20 9-4 9 13 9 5 9-16 10-21 9-5 9 12 9 3 9-18 9-23 9-5 9 11 9 1 9-20 9-24 9-6 9 9 9 0 9-22 10-25 9-7 9 8 9-3 9-23 9-27 9-7 9 6 9-4 9-26 9-27 9-8 9 5 9-7 10-28 9-28 9-9 9 4 9-9 9-29 9-30 9-9 9 2 9-11 9-31 9-30 9-11 9 1 9-13 10-33 9-31 9-11 9-1 9-16 9-34 9-32 9-12 9-3 9-17 9-37 9-33 9-12 9-4 10-20 25 56-9 23-9 39-9 29-9 9-9 5-9 23-9 37-9 27-9 7-9 4-9 22-9 36-9 25-10 5-9 3-9 21-9 34-9 23-9 4-9 1-9 21-9 33-9 21-9 1-9 1-9 20-9 31-10 19-9 0-9 0-9 19-9 30-9 17-9-3-9-1-9 18-9 29-9 15-9-4-9-3-9 18-9 27-10 13-9-6-9-3-9 16-9 26-9 11-9-8-9-4-9 16-9 24-9 8-9-9-9-5-9 15-10 22-9 7-9-11-9-6-9 14-9 21-9 4-9-12-9-7-9 13-9 19-9 2-9-14-9-7-9 12-10 17-9 1-9-16-9-9-9 12-9 15-9-2-9-17-9-9-9 10-9 14-9-4-9-19-9-10-10 10-9 12-9-6-9-21-9-10-9 8-9 11-9-8-9-22-9-12-9 8-9 8-9-10-9-24-9-12-10 7-9 7-9-13-9-25-9-13-9 6-9 5-9-15-9-26-9-14-9 5-9 3-9-17-9-27-10-15-9 3-9 2-9-19-9-29-9-15-9 2-9 0-9-21-9-30-9-17-9 2-9-3-9-22-9-32-10-17z"/>
<path transform="translate(-874.6 -553.5)" d="M1385 7309l9 15 9 18 9 16 9 12 9 12 9 14 9 16 9 15 9 10 9 10 9 13 9 15 9 13 9 9 10 9 9 11 9 14 9 11 9 8 9 7 9 10 9 12 9 10 9 6 9 6 9 9 9 11 9 8 10 5 9 4 9 8 9 9 9 7 9 3 9 3 9 6 9 8 9 6 9 1 9 2 9 5 9 6 9 4 10 0 9 1 9 3 9 5 9 3 9-2 9-1 9 3 9 3 9 1 9-3 9-2 9 1 9 2 10-1 9-4 9-4 9 0 9 1 9-3 9-6 9-5 9-1 9-1 9-4 9-7 9-7 9-2 10-3 9-5 9-9 9-7 9-5 9-3 9-8 9-10 9-9 9-5 9-5 9-9 9-12 9-10 9-7 10-6 9-11 9-13 9-11 9-8 9-9 9-11 9-15 9-13 9-9 9-10 9-13 9-16 9-14 10-11 9-11 9-15 9-17 9-16 9-12 9-13 9-16 9-19 9-17 9-13 9-14 9-18 9-21 9-18 10-15 9-15 9-20 9-21 9-20 9-16 9-17 9-21 9-23 9-21 9-18 9-18 9-23 9-24 10-22 25 86-9 21-9 15-9 18-9 25-9 26-9 20-9 13-9 17-9 24-9 25-9 17-9 13-9 15-10 23-9 23-9 16-9 11-9 14-9 22-9 21-9 14-9 10-9 13-9 20-9 20-9 12-9 9-10 12-9 18-9 19-9 11-9 6-9 11-9 18-9 16-9 10-9 5-9 10-9 16-9 15-9 7-9 4-10 9-9 15-9 13-9 6-9 3-9 7-9 14-9 12-9 4-9 1-9 6-9 12-9 10-9 3-10 0-9 5-9 11-9 8-9 2-9-2-9 4-9 9-9 7-9 0-9-3-9 3-9 8-9 5-9-2-10-4-9 1-9 7-9 4-9-4-9-6-9 1-9 5-9 2-9-5-9-7-9-1-9 4-9 1-10-7-9-9-9-2-9 3-9-1-9-9-9-9-9-4-9 2-9-3-9-10-9-11-9-5-9 0-9-4-10-12-9-12-9-6-9-1-9-6-9-14-9-13-9-7-9-3-9-8-9-14-9-15-9-8-9-5-10-9-9-16-9-16-9-10-9-5-9-12-9-18-9-17-9-10-9-7-9-13-9-20-9-18-9-12-9-9-10-14z"/>
<path transform="translate(-861.6 -545.3)" d="M1385 7330l9 17 9 32 9 23 9 2 9-1 9 16 9 31 9 20 9 1 9-3 9 16 9 29 9 19 9-2 10-4 9 15 9 28 9 17 9-4 9-4 9 14 9 26 9 15 9-6 9-5 9 13 9 25 9 12 10-7 9-6 9 12 9 24 9 10 9-9 9-8 9 12 9 22 9 8 9-10 9-9 9 11 9 21 9 6 10-13 9-9 9 10 9 19 9 4 9-14 9-11 9 10 9 17 9 2 9-16 9-11 9 8 9 16 10 0 9-17 9-13 9 8 9 14 9-2 9-19 9-14 9 7 9 13 9-5 9-20 9-14 9 5 10 11 9-6 9-22 9-15 9 5 9 9 9-9 9-24 9-16 9 5 9 7 9-11 9-25 9-17 9 3 10 6 9-12 9-27 9-18 9 2 9 4 9-15 9-28 9-18 9 1 9 2 9-17 9-30 9-19 10 0 9 1 9-19 9-31 9-20 9-1 9-1 9-22 9-32 9-21 9-2 9-3 9-23 9-34 9-22 10-3 9-5 9-25 9-35 9-23 9-4 9-6 9-28 9-37 9-23 9-5 9-8 9-30 9-38 10-24 25 102-9 20-9 6-9 13-9 32-9 35-9 18-9 4-9 12-9 31-9 33-9 16-9 2-9 12-10 30-9 32-9 13-9 1-9 11-9 29-9 30-9 11-9 0-9 10-9 28-9 28-9 9-9-2-10 10-9 27-9 26-9 7-9-3-9 8-9 26-9 24-9 6-9-5-9 8-9 25-9 22-9 4-9-6-10 6-9 24-9 20-9 2-9-7-9 6-9 22-9 18-9 0-9-8-9 6-9 20-9 16-9-2-10-8-9 4-9 19-9 13-9-3-9-9-9 3-9 17-9 12-9-5-9-11-9 3-9 16-9 10-9-7-10-12-9 2-9 15-9 8-9-9-9-14-9 1-9 14-9 7-9-12-9-15-9 0-9 14-9 5-10-14-9-17-9 0-9 12-9 3-9-16-9-18-9-1-9 11-9 1-9-18-9-19-9-2-9 10-9-1-10-20-9-20-9-3-9 9-9-3-9-22-9-21-9-4-9 7-9-5-9-23-9-22-9-5-9 6-10-7-9-25-9-24-9-5-9 4-9-9-9-27-9-24-9-6-9 2-9-11-9-28-9-26-9-6-9 0-10-13z"/>
<path transform="translate(-848.7 -537.1)" d="M1385 7379l9 14 9 9 9 11 9 19 9 19 9 13 9 7 9 11 9 17 9 18 9 11 9 6 9 9 9 16 10 17 9 9 9 4 9 8 9 15 9 15 9 8 9 3 9 7 9 13 9 13 9 6 9 2 9 6 10 12 9 12 9 4 9 0 9 4 9 11 9 11 9 2 9-1 9 3 9 10 9 9 9 1 9-3 9 2 10 8 9 7 9 0 9-4 9 1 9 7 9 5 9-2 9-6 9 0 9 6 9 3 9-3 9-7 10-1 9 4 9 2 9-6 9-8 9-2 9 2 9 1 9-7 9-9 9-4 9 1 9-1 9-9 10-10 9-5 9 0 9-3 9-10 9-12 9-6 9-2 9-4 9-12 9-13 9-8 9-2 9-6 9-14 10-15 9-8 9-4 9-8 9-15 9-16 9-10 9-5 9-9 9-17 9-17 9-11 9-7 9-11 10-18 9-19 9-12 9-8 9-13 9-19 9-20 9-14 9-9 9-14 9-22 9-21 9-15 9-11 9-16 10-22 9-23 9-16 9-12 9-18 9-24 9-24 9-17 9-14 9-19 9-26 9-25 9-18 9-16 10-20 25 64-9 22-9 31-9 25-9 15-9 12-9 21-9 29-9 24-9 13-9 11-9 20-9 28-9 22-10 11-9 10-9 19-9 27-9 20-9 9-9 9-9 18-9 25-9 18-9 8-9 8-9 17-9 23-10 17-9 6-9 6-9 16-9 22-9 15-9 5-9 5-9 15-9 20-9 13-9 3-9 4-9 14-9 19-10 11-9 2-9 3-9 13-9 16-9 10-9 0-9 2-9 12-9 15-9 7-9 0-9 1-9 10-10 13-9 6-9-2-9 0-9 9-9 11-9 4-9-3-9-1-9 7-9 10-9 3-9-5-9-2-9 6-10 8-9 1-9-6-9-4-9 5-9 8-9-1-9-9-9-5-9 5-9 6-9-3-9-10-9-7-10 4-9 5-9-5-9-12-9-8-9 3-9 3-9-6-9-14-9-9-9 2-9 2-9-8-9-16-9-10-10 1-9 0-9-10-9-17-9-11-9 0-9-2-9-12-9-18-9-12-9-2-9-3-9-13-9-20-10-13-9-3-9-5-9-15-9-21-9-14-9-5-9-6-9-17-9-23-9-15-9-6-9-8-9-18-9-24-10-16z"/>
<path transform="translate(-835.7 -528.9)" d="M1385 7416l9 13 9-1 9 7 9 25 9 29 9 11 9-2 9 6 9 24 9 27 9 9 9-4 9 5 9 23 10 25 9 7 9-5 9 4 9 23 9 23 9 5 9-7 9 4 9 21 9 21 9 3 9-8 9 3 10 20 9 20 9 1 9-10 9 2 9 19 9 18 9-1 9-11 9 1 9 18 9 16 9-3 9-13 9 0 10 18 9 13 9-5 9-13 9 0 9 15 9 11 9-6 9-14 9-1 9 13 9 10 9-9 9-15 10-2 9 12 9 8 9-10 9-16 9-3 9 11 9 5 9-12 9-17 9-4 9 10 9 3 9-14 10-18 9-5 9 9 9 1 9-15 9-21 9-5 9 8 9 0 9-18 9-22 9-7 9 7 9-1 9-20 10-24 9-7 9 6 9-3 9-23 9-25 9-7 9 5 9-6 9-24 9-26 9-8 9 3 9-8 10-26 9-27 9-9 9 2 9-10 9-28 9-27 9-10 9 0 9-12 9-29 9-29 9-11 9-1 9-14 10-31 9-30 9-12 9-2 9-16 9-33 9-31 9-13 9-4 9-18 9-35 9-31 9-14 9-5 10-20 25 51-9 23-9 36-9 28-9 10-9 8-9 22-9 34-9 27-9 8-9 7-9 21-9 33-9 24-10 8-9 5-9 20-9 32-9 22-9 5-9 5-9 19-9 30-9 21-9 3-9 3-9 19-9 29-10 18-9 2-9 2-9 18-9 27-9 16-9 0-9 1-9 18-9 25-9 14-9-1-9 0-9 16-9 24-10 11-9-2-9 0-9 15-9 21-9 10-9-3-9-1-9 13-9 19-9 8-9-4-9-1-9 12-10 16-9 6-9-5-9-2-9 11-9 15-9 4-9-7-9-3-9 10-9 13-9 2-9-8-9-4-9 8-10 12-9 1-9-11-9-5-9 8-9 10-9-1-9-12-9-7-9 7-9 10-9-4-9-14-9-8-10 6-9 9-9-5-9-17-9-10-9 6-9 8-9-7-9-19-9-11-9 6-9 6-9-10-9-20-9-12-10 5-9 4-9-11-9-22-9-13-9 4-9 3-9-14-9-24-9-13-9 2-9 2-9-16-9-25-10-14-9 1-9 0-9-18-9-26-9-15-9 0-9-3-9-19-9-28-9-16-9-1-9-4-9-21-9-30-10-16z"/>
<path transform="translate(-822.8 -520.7)" d="M1385 7426l9 16 9 24 9 19 9 8 9 6 9 15 9 22 9 17 9 7 9 4 9 14 9 21 9 16 9 4 10 4 9 13 9 19 9 14 9 3 9 2 9 12 9 18 9 12 9 1 9 1 9 11 9 17 9 10 10-1 9 0 9 10 9 15 9 8 9-1 9-2 9 9 9 14 9 6 9-3 9-3 9 7 9 13 9 4 10-5 9-3 9 6 9 10 9 3 9-6 9-4 9 5 9 8 9 1 9-7 9-5 9 3 9 7 10-1 9-8 9-7 9 2 9 5 9-2 9-10 9-7 9 1 9 3 9-4 9-12 9-8 9-1 10 2 9-5 9-14 9-10 9-1 9 1 9-8 9-15 9-11 9-2 9-1 9-9 9-17 9-12 9-4 10-1 9-11 9-19 9-14 9-4 9-3 9-13 9-21 9-15 9-5 9-4 9-15 9-22 9-16 10-6 9-7 9-16 9-24 9-17 9-7 9-8 9-18 9-25 9-19 9-8 9-10 9-20 9-26 9-19 10-10 9-11 9-22 9-28 9-20 9-12 9-12 9-24 9-29 9-22 9-12 9-14 9-26 9-30 10-23 25 87-9 20-9 10-9 16-9 29-9 30-9 19-9 8-9 15-9 28-9 29-9 16-9 7-9 14-10 26-9 28-9 15-9 5-9 13-9 25-9 26-9 13-9 4-9 12-9 24-9 24-9 11-9 3-10 10-9 23-9 23-9 9-9 1-9 10-9 22-9 21-9 7-9 0-9 9-9 20-9 18-9 6-9 0-10 8-9 18-9 16-9 4-9 0-9 7-9 16-9 14-9 3-9-2-9 6-9 15-9 12-9 1-10-3-9 5-9 13-9 11-9-1-9-3-9 3-9 12-9 8-9-1-9-6-9 3-9 10-9 7-9-3-10-7-9 2-9 9-9 5-9-5-9-9-9 1-9 8-9 4-9-8-9-9-9-1-9 7-9 3-10-10-9-11-9-2-9 7-9 0-9-11-9-14-9-2-9 6-9-1-9-14-9-15-9-3-9 5-9-3-10-16-9-16-9-4-9 4-9-5-9-18-9-18-9-4-9 2-9-6-9-20-9-19-9-6-9 1-10-8-9-21-9-20-9-7-9 0-9-10-9-23-9-21-9-8-9-2-9-12-9-25-9-22-9-9-9-3-10-14z"/>
<path transform="translate(-809.8 -512.5)" d="M1385 7450l9 17 9 29 9 22 9 4 9 1 9 16 9 27 9 20 9 2 9 0 9 15 9 27 9 17 9 1 10-1 9 14 9 25 9 15 9-1 9-2 9 13 9 24 9 13 9-3 9-3 9 12 9 22 9 12 10-5 9-4 9 11 9 21 9 10 9-7 9-5 9 10 9 19 9 8 9-8 9-6 9 10 9 16 9 6 10-9 9-7 9 9 9 14 9 3 9-9 9-7 9 6 9 13 9 1 9-11 9-8 9 6 9 10 10 0 9-12 9-9 9 4 9 9 9-3 9-13 9-10 9 4 9 6 9-4 9-15 9-11 9 3 10 5 9-6 9-17 9-12 9 2 9 4 9-8 9-19 9-13 9 0 9 3 9-9 9-21 9-15 9 0 10 2 9-12 9-23 9-16 9-1 9 2 9-14 9-26 9-17 9-1 9 0 9-16 9-27 9-19 10-2 9-1 9-19 9-28 9-19 9-3 9-4 9-20 9-30 9-20 9-4 9-5 9-22 9-32 9-21 10-5 9-7 9-24 9-33 9-22 9-6 9-9 9-26 9-34 9-23 9-7 9-11 9-28 9-35 10-24 25 90-9 20-9 9-9 15-9 29-9 32-9 18-9 8-9 14-9 29-9 29-9 17-9 6-9 13-10 27-9 29-9 14-9 5-9 12-9 26-9 27-9 12-9 4-9 11-9 25-9 25-9 11-9 1-10 11-9 24-9 23-9 8-9 1-9 10-9 22-9 21-9 7-9 0-9 9-9 20-9 18-9 6-9 0-10 8-9 18-9 16-9 5-9-1-9 7-9 16-9 14-9 3-9-2-9 6-9 15-9 12-9 1-10-2-9 5-9 12-9 10-9 0-9-3-9 4-9 11-9 8-9-1-9-5-9 2-9 10-9 7-9-3-10-7-9 2-9 9-9 5-9-5-9-8-9 0-9 8-9 4-9-8-9-9-9-1-9 7-9 3-10-10-9-11-9-2-9 7-9 0-9-11-9-14-9-2-9 6-9-1-9-14-9-15-9-4-9 6-9-2-10-17-9-17-9-4-9 5-9-4-9-19-9-18-9-5-9 3-9-6-9-20-9-19-9-6-9 2-10-8-9-22-9-21-9-6-9 0-9-10-9-23-9-22-9-8-9-1-9-12-9-25-9-22-9-9-9-3-10-13z"/>
<path transform="translate(-796.9 -504.3)" d="M1385 7497l9 13 9 4 9 9 9 22 9 24 9 12 9 2 9 8 9 21 9 23 9 10 9 1 9 7 9 20 10 21 9 8 9-1 9 6 9 19 9 19 9 7 9-3 9 5 9 18 9 18 9 4 9-4 9 4 10 17 9 16 9 3 9-6 9 3 9 16 9 14 9 1 9-7 9 3 9 13 9 12 9-1 9-6 9 1 10 12 9 9 9-2 9-7 9 0 9 10 9 7 9-3 9-8 9-1 9 8 9 6 9-6 9-9 10-1 9 6 9 4 9-7 9-10 9-3 9 5 9 2 9-8 9-12 9-4 9 4 9 0 9-10 10-13 9-5 9 3 9-2 9-12 9-14 9-6 9 1 9-2 9-14 9-17 9-7 9 1 9-4 9-16 10-18 9-8 9 0 9-6 9-18 9-20 9-9 9-1 9-7 9-20 9-23 9-9 9-1 9-9 10-23 9-23 9-11 9-2 9-11 9-24 9-25 9-11 9-4 9-13 9-26 9-26 9-12 9-6 9-14 10-28 9-27 9-13 9-7 9-17 9-29 9-28 9-14 9-8 9-19 9-31 9-29 9-15 9-10 10-20 25 48-9 23-9 35-9 28-9 11-9 8-9 23-9 33-9 26-9 10-9 6-9 22-9 32-9 24-10 8-9 5-9 21-9 31-9 22-9 6-9 4-9 20-9 29-9 20-9 4-9 4-9 19-9 28-10 18-9 2-9 3-9 18-9 25-9 16-9 2-9 2-9 17-9 23-9 13-9 1-9 3-9 15-9 20-10 12-9 0-9 2-9 13-9 18-9 10-9-1-9 1-9 13-9 16-9 7-9-1-9 0-9 11-10 14-9 6-9-3-9-1-9 10-9 12-9 4-9-4-9-2-9 8-9 11-9 3-9-6-9-3-9 7-10 9-9 1-9-8-9-4-9 6-9 9-9-2-9-9-9-6-9 6-9 7-9-3-9-12-9-7-10 5-9 6-9-5-9-14-9-8-9 4-9 5-9-7-9-16-9-10-9 4-9 5-9-9-9-20-9-11-10 4-9 4-9-11-9-22-9-12-9 3-9 2-9-13-9-23-9-13-9 2-9 0-9-15-9-24-10-15-9 1-9-1-9-17-9-26-9-15-9 0-9-3-9-19-9-27-9-16-9-2-9-4-9-22-9-28-10-17z"/>
<path transform="translate(-783.9 -496.1)" d="M1385 7523l9 14 9 3 9 8 9 23 9 25 9 12 9 1 9 8 9 21 9 24 9 10 9-1 9 7 9 21 10 21 9 8 9-1 9 5 9 20 9 20 9 6 9-3 9 5 9 18 9 18 9 5 9-5 9 4 10 17 9 17 9 2 9-6 9 3 9 16 9 14 9 1 9-7 9 3 9 13 9 12 9-1 9-6 9 1 10 12 9 9 9-2 9-7 9 0 9 10 9 7 9-3 9-8 9-1 9 8 9 5 9-5 9-9 10-1 9 6 9 4 9-7 9-10 9-3 9 5 9 2 9-8 9-12 9-4 9 4 9 0 9-10 10-13 9-5 9 3 9-2 9-12 9-14 9-6 9 1 9-3 9-13 9-17 9-7 9 1 9-4 9-16 10-18 9-8 9 0 9-6 9-18 9-20 9-9 9-1 9-7 9-20 9-23 9-9 9-1 9-9 10-23 9-24 9-10 9-2 9-11 9-24 9-25 9-12 9-3 9-13 9-26 9-26 9-12 9-5 9-15 10-28 9-27 9-13 9-7 9-16 9-30 9-28 9-14 9-8 9-18 9-32 9-29 9-15 9-10 10-20 25 49-9 23-9 31-9 26-9 14-9 11-9 22-9 30-9 24-9 12-9 11-9 20-9 29-9 22-10 10-9 10-9 19-9 27-9 21-9 8-9 8-9 19-9 25-9 19-9 7-9 7-9 18-9 24-10 16-9 6-9 6-9 17-9 21-9 15-9 5-9 6-9 15-9 19-9 12-9 5-9 5-9 13-9 17-10 11-9 3-9 5-9 12-9 15-9 9-9 2-9 3-9 11-9 13-9 7-9 1-9 3-9 9-10 11-9 6-9-1-9 2-9 8-9 9-9 4-9-1-9 0-9 6-9 8-9 3-9-3-9-2-9 6-10 6-9 1-9-5-9-2-9 4-9 5-9 0-9-7-9-4-9 3-9 4-9-2-9-9-9-5-10 2-9 4-9-5-9-10-9-7-9 1-9 3-9-7-9-12-9-9-9 1-9 2-9-8-9-15-9-10-10 0-9 1-9-10-9-18-9-11-9 0-9-1-9-12-9-19-9-12-9-2-9-2-9-14-9-20-10-13-9-3-9-4-9-16-9-22-9-14-9-4-9-5-9-18-9-23-9-15-9-5-9-8-9-19-9-24-10-17z"/>
<path transform="translate(-770.9 -487.9)" d="M1385 7529l9 17 9 28 9 21 9 5 9 1 9 16 9 27 9 20 9 2 9 1 9 15 9 26 9 17 9 1 10-1 9 14 9 25 9 15 9-1 9-2 9 13 9 23 9 14 9-3 9-3 9 13 9 21 9 12 10-5 9-3 9 11 9 19 9 9 9-5 9-3 9 10 9 16 9 7 9-6 9-4 9 9 9 14 9 5 10-7 9-4 9 7 9 11 9 3 9-7 9-5 9 5 9 10 9 1 9-8 9-6 9 4 9 8 10-1 9-10 9-7 9 3 9 6 9-2 9-11 9-8 9 1 9 5 9-4 9-13 9-9 9 0 10 3 9-6 9-14 9-10 9-1 9 2 9-8 9-16 9-12 9-1 9 1 9-10 9-18 9-14 9-2 10 0 9-11 9-21 9-15 9-2 9-1 9-14 9-23 9-16 9-3 9-1 9-16 9-26 9-18 10-2 9-3 9-18 9-28 9-19 9-3 9-4 9-20 9-30 9-19 9-5 9-6 9-22 9-31 9-20 10-6 9-7 9-24 9-33 9-21 9-7 9-9 9-26 9-34 9-22 9-8 9-11 9-28 9-35 10-23 25 85-9 20-9 6-9 14-9 31-9 35-9 18-9 4-9 13-9 30-9 33-9 16-9 3-9 12-10 29-9 32-9 13-9 2-9 11-9 28-9 30-9 11-9 0-9 11-9 27-9 27-9 10-9 0-10 9-9 26-9 24-9 8-9 0-9 9-9 23-9 21-9 7-9 0-9 9-9 20-9 19-9 6-9-1-10 8-9 18-9 17-9 4-9-1-9 7-9 16-9 14-9 3-9-2-9 6-9 15-9 12-9 1-10-2-9 5-9 13-9 10-9 0-9-4-9 4-9 11-9 8-9-1-9-5-9 3-9 10-9 6-9-3-10-7-9 2-9 9-9 5-9-5-9-8-9 0-9 8-9 4-9-7-9-10-9-1-9 8-9 2-10-10-9-11-9-2-9 7-9 1-9-12-9-14-9-2-9 7-9-1-9-15-9-16-9-3-9 7-9-2-10-17-9-19-9-4-9 7-9-3-9-20-9-21-9-4-9 6-9-5-9-23-9-22-9-4-9 5-10-7-9-25-9-23-9-5-9 3-9-9-9-26-9-24-9-7-9 2-9-11-9-28-9-25-9-7-9 1-10-14z"/>
<path transform="translate(-758 -479.7)" d="M1385 7556l9 16 9 25 9 19 9 7 9 5 9 16 9 23 9 17 9 6 9 4 9 14 9 22 9 16 9 4 10 2 9 13 9 21 9 14 9 2 9 2 9 12 9 19 9 12 9 0 9 1 9 11 9 17 9 10 10 0 9-1 9 10 9 15 9 8 9-1 9-1 9 8 9 13 9 6 9-2 9-2 9 7 9 11 9 4 10-3 9-2 9 5 9 9 9 2 9-4 9-3 9 4 9 6 9 1 9-5 9-5 9 3 9 5 10-1 9-7 9-5 9 1 9 3 9-2 9-8 9-7 9 0 9 2 9-4 9-10 9-8 9-1 10 0 9-5 9-12 9-9 9-2 9-1 9-8 9-13 9-10 9-4 9-2 9-9 9-15 9-12 9-4 10-3 9-11 9-17 9-14 9-5 9-4 9-13 9-19 9-15 9-5 9-6 9-14 9-22 9-16 10-6 9-6 9-17 9-24 9-17 9-7 9-7 9-19 9-25 9-19 9-8 9-9 9-20 9-27 9-20 10-9 9-11 9-22 9-28 9-21 9-10 9-12 9-25 9-29 9-22 9-12 9-14 9-25 9-31 10-23 25 74-9 21-9 14-9 18-9 26-9 26-9 20-9 12-9 17-9 24-9 26-9 17-9 12-9 15-10 23-9 24-9 16-9 10-9 14-9 22-9 22-9 14-9 9-9 13-9 20-9 21-9 12-9 8-10 12-9 19-9 18-9 11-9 7-9 11-9 17-9 16-9 9-9 7-9 10-9 15-9 14-9 8-9 6-10 9-9 13-9 12-9 7-9 4-9 8-9 12-9 10-9 5-9 4-9 6-9 10-9 9-9 4-10 2-9 5-9 9-9 7-9 2-9 1-9 4-9 7-9 5-9 2-9-1-9 3-9 5-9 4-9 0-10-2-9 1-9 5-9 2-9-2-9-3-9 0-9 3-9 1-9-4-9-5-9-1-9 2-9-1-10-5-9-7-9-2-9 1-9-2-9-7-9-9-9-3-9 0-9-3-9-10-9-10-9-5-9-1-9-4-10-11-9-13-9-5-9-2-9-6-9-13-9-14-9-7-9-2-9-7-9-16-9-16-9-7-9-4-10-9-9-17-9-17-9-9-9-5-9-11-9-18-9-18-9-10-9-7-9-12-9-21-9-19-9-11-9-8-10-14z"/>
<path transform="translate(-745 -471.5)" d="M1385 7598l9 13 9 0 9 7 9 25 9 28 9 11 9-2 9 6 9 24 9 27 9 9 9-4 9 6 9 23 10 24 9 7 9-5 9 5 9 22 9 23 9 5 9-7 9 4 9 21 9 21 9 3 9-7 9 3 10 19 9 18 9 2 9-7 9 3 9 16 9 15 9 0 9-7 9 3 9 14 9 12 9-1 9-7 9 1 10 12 9 10 9-3 9-7 9 0 9 10 9 8 9-4 9-8 9-1 9 8 9 6 9-5 9-9 10-2 9 6 9 4 9-7 9-10 9-3 9 5 9 2 9-8 9-12 9-3 9 3 9 0 9-10 10-13 9-5 9 3 9-2 9-11 9-15 9-6 9 2 9-3 9-14 9-16 9-8 9 1 9-4 9-16 10-18 9-8 9 0 9-5 9-19 9-21 9-8 9 0 9-7 9-21 9-23 9-10 9 1 9-8 10-25 9-25 9-10 9 1 9-10 9-27 9-28 9-10 9 0 9-12 9-29 9-29 9-11 9-1 9-14 10-31 9-30 9-11 9-3 9-16 9-33 9-31 9-12 9-5 9-18 9-34 9-32 9-13 9-6 10-20 25 35-9 24-9 38-9 29-9 9-9 6-9 22-9 37-9 27-9 7-9 4-9 23-9 35-9 25-10 5-9 3-9 22-9 34-9 23-9 3-9 2-9 21-9 32-9 20-9 3-9 2-9 20-9 28-10 18-9 2-9 3-9 18-9 26-9 15-9 2-9 3-9 16-9 23-9 13-9 2-9 3-9 14-9 20-10 11-9 1-9 3-9 13-9 17-9 10-9 0-9 2-9 11-9 15-9 8-9-1-9 1-9 10-10 14-9 5-9-2-9 1-9 8-9 12-9 4-9-4-9 0-9 7-9 10-9 2-9-5-9-2-9 7-10 8-9 1-9-7-9-3-9 5-9 7-9-1-9-8-9-5-9 4-9 7-9-3-9-11-9-7-10 4-9 6-9-5-9-13-9-8-9 3-9 5-9-6-9-16-9-10-9 3-9 5-9-9-9-19-9-11-10 3-9 5-9-12-9-22-9-13-9 4-9 4-9-14-9-25-9-14-9 4-9 3-9-16-9-28-10-15-9 4-9 1-9-18-9-29-9-16-9 3-9-1-9-21-9-30-9-16-9 1-9-2-9-23-9-32-10-17z"/>
<path transform="translate(-732.1 -463.3)" d="M1385 7614l9 14 9 8 9 11 9 19 9 20 9 13 9 6 9 10 9 18 9 19 9 11 9 5 9 9 9 16 10 18 9 9 9 3 9 8 9 16 9 15 9 8 9 2 9 6 9 14 9 14 9 6 9 1 9 6 10 12 9 12 9 4 9 1 9 4 9 11 9 9 9 3 9 0 9 4 9 8 9 8 9 1 9-1 9 3 10 6 9 6 9 0 9-2 9 2 9 5 9 3 9-1 9-3 9 0 9 4 9 2 9-3 9-4 10-1 9 1 9 1 9-4 9-6 9-2 9 0 9-1 9-5 9-7 9-4 9-1 9-3 9-7 10-8 9-5 9-3 9-4 9-8 9-10 9-7 9-3 9-6 9-10 9-11 9-8 9-5 9-7 9-12 10-13 9-9 9-5 9-9 9-13 9-15 9-11 9-6 9-10 9-15 9-17 9-11 9-8 9-11 10-18 9-18 9-13 9-7 9-13 9-20 9-21 9-13 9-8 9-14 9-23 9-22 9-14 9-10 9-15 10-24 9-23 9-16 9-11 9-18 9-25 9-24 9-17 9-13 9-19 9-27 9-25 9-18 9-15 10-20 25 49-9 22-9 25-9 23-9 18-9 17-9 21-9 24-9 22-9 16-9 16-9 19-9 23-9 19-10 15-9 15-9 18-9 21-9 18-9 14-9 13-9 17-9 19-9 17-9 12-9 12-9 15-9 18-10 15-9 11-9 11-9 14-9 16-9 13-9 10-9 10-9 12-9 14-9 12-9 9-9 8-9 12-9 12-10 10-9 7-9 8-9 10-9 10-9 9-9 6-9 6-9 9-9 9-9 7-9 4-9 6-9 6-10 8-9 5-9 4-9 4-9 5-9 6-9 4-9 2-9 3-9 4-9 4-9 2-9 1-9 1-9 3-10 3-9 1-9-1-9 0-9 1-9 2-9-1-9-2-9-2-9 0-9 1-9-2-9-4-9-4-10-1-9-1-9-3-9-6-9-4-9-3-9-2-9-5-9-7-9-7-9-3-9-3-9-7-9-9-9-8-10-4-9-5-9-8-9-11-9-9-9-6-9-5-9-10-9-13-9-11-9-6-9-7-9-12-9-15-10-11-9-8-9-8-9-14-9-16-9-13-9-9-9-10-9-15-9-17-9-14-9-11-9-11-9-17-9-18-10-16z"/>
<path transform="translate(-719.1 -455.1)" d="M1385 7617l9 17 9 32 9 22 9 3 9-2 9 17 9 30 9 21 9 0 9-2 9 15 9 29 9 19 9-1 10-4 9 15 9 27 9 17 9-3 9-5 9 14 9 26 9 14 9-4 9-4 9 13 9 22 9 11 10-4 9-4 9 12 9 19 9 9 9-5 9-4 9 10 9 16 9 7 9-5 9-4 9 8 9 14 9 5 10-6 9-4 9 6 9 11 9 3 9-6 9-5 9 5 9 9 9 1 9-7 9-6 9 4 9 6 10 0 9-9 9-6 9 2 9 5 9-3 9-9 9-8 9 1 9 3 9-4 9-11 9-9 9 0 10 2 9-6 9-13 9-10 9-1 9 1 9-8 9-15 9-12 9-2 9 0 9-9 9-17 9-14 9-2 10-1 9-11 9-20 9-15 9-3 9-1 9-13 9-23 9-16 9-3 9-2 9-16 9-25 9-18 10-3 9-2 9-18 9-29 9-19 9-3 9-2 9-21 9-32 9-20 9-2 9-4 9-23 9-34 9-21 10-3 9-5 9-26 9-35 9-22 9-4 9-7 9-27 9-37 9-23 9-5 9-9 9-29 9-38 10-24 25 81-9 20-9 4-9 12-9 33-9 37-9 17-9 3-9 12-9 32-9 34-9 16-9 1-9 11-10 31-9 33-9 13-9-1-9 11-9 30-9 30-9 11-9 0-9 11-9 27-9 26-9 10-9 1-10 10-9 24-9 23-9 9-9 1-9 10-9 22-9 20-9 7-9 1-9 9-9 20-9 17-9 6-9 2-10 8-9 17-9 15-9 5-9 0-9 8-9 15-9 12-9 4-9 0-9 6-9 13-9 11-9 2-10 0-9 5-9 11-9 9-9 1-9-2-9 4-9 9-9 7-9 0-9-3-9 2-9 9-9 5-9-2-10-5-9 2-9 7-9 4-9-4-9-6-9 0-9 6-9 3-9-6-9-8-9-1-9 6-9 1-10-8-9-11-9-1-9 5-9 0-9-11-9-12-9-3-9 5-9 0-9-14-9-15-9-4-9 6-9-2-10-17-9-18-9-4-9 6-9-3-9-20-9-20-9-4-9 6-9-5-9-23-9-24-9-4-9 8-10-7-9-27-9-24-9-5-9 6-9-9-9-28-9-26-9-5-9 4-9-11-9-30-9-26-9-6-9 2-10-13z"/>
<path transform="translate(-706.2 -446.9)" d="M1385 7647l9 15 9 19 9 16 9 12 9 10 9 15 9 17 9 15 9 10 9 9 9 13 9 16 9 13 9 9 10 7 9 12 9 15 9 11 9 7 9 7 9 10 9 13 9 10 9 6 9 5 9 9 9 11 9 9 10 4 9 5 9 7 9 10 9 6 9 4 9 3 9 6 9 8 9 5 9 2 9 2 9 5 9 5 9 4 10 1 9 1 9 3 9 4 9 2 9 0 9 0 9 2 9 2 9 0 9-1 9-2 9 1 9 1 10-1 9-3 9-3 9-1 9-1 9-2 9-5 9-4 9-2 9-2 9-4 9-6 9-6 9-4 10-3 9-6 9-7 9-7 9-5 9-5 9-7 9-9 9-8 9-6 9-7 9-8 9-11 9-9 9-8 10-8 9-10 9-12 9-11 9-9 9-9 9-11 9-14 9-13 9-10 9-10 9-13 9-15 9-15 10-11 9-11 9-15 9-17 9-16 9-12 9-12 9-16 9-20 9-17 9-13 9-13 9-18 9-22 9-18 10-14 9-15 9-20 9-22 9-20 9-15 9-17 9-21 9-24 9-21 9-17 9-18 9-23 9-25 10-22 25 57-9 22-9 20-9 21-9 21-9 21-9 20-9 20-9 19-9 20-9 20-9 18-9 18-9 18-10 18-9 19-9 17-9 16-9 17-9 17-9 17-9 15-9 15-9 15-9 16-9 15-9 15-9 13-10 14-9 14-9 14-9 13-9 12-9 13-9 12-9 13-9 11-9 11-9 11-9 11-9 11-9 10-9 10-10 9-9 10-9 9-9 9-9 8-9 8-9 9-9 8-9 7-9 7-9 6-9 7-9 7-9 5-10 6-9 5-9 6-9 5-9 4-9 4-9 4-9 4-9 3-9 3-9 3-9 3-9 2-9 2-9 2-10 1-9 1-9 1-9 1-9 0-9 0-9-1-9 0-9-1-9-1-9-2-9-1-9-2-9-2-10-3-9-3-9-3-9-3-9-4-9-4-9-5-9-4-9-5-9-5-9-6-9-6-9-6-9-5-9-7-10-7-9-8-9-7-9-7-9-8-9-9-9-9-9-8-9-9-9-9-9-10-9-11-9-10-9-10-10-10-9-12-9-12-9-11-9-12-9-12-9-13-9-13-9-13-9-13-9-13-9-15-9-15-9-14-9-14-10-15z"/>
<path transform="translate(-693.2 -438.7)" d="M1385 7682l9 13 9-3 9 6 9 27 9 30 9 11 9-4 9 5 9 26 9 28 9 9 9-6 9 4 9 25 10 26 9 7 9-7 9 4 9 24 9 23 9 5 9-7 9 4 9 21 9 20 9 3 9-6 9 4 10 18 9 16 9 3 9-6 9 3 9 16 9 13 9 1 9-5 9 2 9 13 9 11 9 0 9-6 9 2 10 10 9 9 9-2 9-6 9 1 9 9 9 6 9-3 9-6 9-1 9 7 9 4 9-4 9-8 10-1 9 5 9 2 9-6 9-8 9-3 9 3 9 1 9-7 9-10 9-4 9 2 9-1 9-9 10-11 9-5 9 1 9-2 9-11 9-13 9-6 9 0 9-4 9-13 9-15 9-7 9-1 9-5 9-15 10-17 9-8 9-1 9-6 9-18 9-19 9-9 9-1 9-8 9-20 9-22 9-9 9-1 9-9 10-23 9-25 9-10 9 0 9-10 9-27 9-27 9-10 9 0 9-12 9-30 9-29 9-11 9 1 9-14 10-33 9-31 9-11 9-1 9-15 9-35 9-32 9-12 9-2 9-18 9-36 9-33 9-13 9-4 10-19 25 25-9 24-9 39-9 30-9 8-9 5-9 22-9 38-9 28-9 6-9 3-9 23-9 36-9 25-10 5-9 2-9 22-9 34-9 23-9 4-9 3-9 20-9 31-9 19-9 4-9 5-9 18-9 27-10 17-9 4-9 5-9 17-9 23-9 15-9 4-9 5-9 15-9 20-9 13-9 4-9 4-9 14-9 18-10 10-9 3-9 4-9 12-9 16-9 9-9 2-9 3-9 11-9 13-9 7-9 1-9 3-9 9-10 11-9 5-9 1-9 1-9 8-9 9-9 4-9-1-9 0-9 6-9 8-9 2-9-2-9-1-9 5-10 6-9 1-9-4-9-3-9 4-9 5-9-1-9-6-9-4-9 3-9 5-9-3-9-9-9-5-10 2-9 4-9-4-9-12-9-7-9 2-9 3-9-6-9-14-9-9-9 2-9 3-9-8-9-17-9-11-10 2-9 3-9-11-9-20-9-13-9 3-9 2-9-13-9-24-9-13-9 3-9 2-9-16-9-27-10-15-9 4-9 2-9-19-9-30-9-16-9 3-9 0-9-21-9-31-9-16-9 2-9-2-9-23-9-32-10-18z"/>
<path transform="translate(-680.2 -430.5)" d="M1385 7688l9 15 9 14 9 14 9 15 9 14 9 14 9 12 9 13 9 14 9 13 9 12 9 11 9 12 9 12 10 11 9 11 9 10 9 10 9 10 9 11 9 9 9 8 9 9 9 9 9 9 9 8 9 7 9 7 10 8 9 7 9 6 9 6 9 6 9 6 9 6 9 5 9 4 9 5 9 4 9 5 9 3 9 3 9 3 10 4 9 2 9 3 9 1 9 2 9 2 9 1 9 1 9 0 9 0 9 1 9-1 9 0 9-1 10-1 9-2 9-1 9-2 9-3 9-2 9-3 9-3 9-3 9-4 9-4 9-4 9-5 9-5 10-5 9-6 9-5 9-6 9-6 9-7 9-7 9-7 9-7 9-8 9-8 9-8 9-8 9-9 9-9 10-10 9-10 9-9 9-10 9-11 9-11 9-11 9-11 9-12 9-12 9-13 9-12 9-12 9-13 10-14 9-14 9-14 9-14 9-14 9-15 9-16 9-15 9-15 9-16 9-17 9-17 9-16 9-17 9-17 10-18 9-19 9-18 9-17 9-19 9-20 9-20 9-19 9-19 9-20 9-21 9-22 9-20 9-21 10-21 25 51-9 21-9 19-9 20-9 22-9 23-9 20-9 17-9 19-9 21-9 21-9 18-9 17-9 17-10 20-9 19-9 17-9 15-9 16-9 18-9 18-9 15-9 14-9 15-9 16-9 17-9 14-9 12-10 14-9 15-9 14-9 13-9 11-9 12-9 14-9 13-9 11-9 10-9 11-9 12-9 11-9 10-9 9-10 9-9 10-9 10-9 9-9 7-9 8-9 9-9 8-9 7-9 7-9 7-9 7-9 6-9 6-10 5-9 5-9 6-9 5-9 5-9 3-9 4-9 4-9 4-9 3-9 2-9 3-9 3-9 2-9 1-10 1-9 1-9 2-9 1-9-1-9 0-9 0-9 0-9-1-9-2-9-2-9-1-9-1-9-2-10-4-9-3-9-3-9-3-9-3-9-5-9-5-9-4-9-4-9-5-9-6-9-7-9-6-9-4-9-7-10-8-9-8-9-7-9-6-9-7-9-10-9-10-9-8-9-8-9-9-9-11-9-11-9-10-9-8-10-11-9-13-9-13-9-11-9-9-9-12-9-15-9-14-9-12-9-11-9-14-9-16-9-16-9-13-9-13-10-14z"/>
<path transform="translate(-667.3 -422.3)" d="M1385 7691l9 17 9 33 9 23 9 2 9-2 9 16 9 31 9 21 9 0 9-3 9 16 9 29 9 19 9-2 10-4 9 15 9 28 9 16 9-3 9-3 9 14 9 24 9 13 9-3 9-2 9 12 9 21 9 10 10-2 9-2 9 10 9 17 9 9 9-3 9-2 9 9 9 14 9 6 9-3 9-2 9 7 9 11 9 5 10-4 9-3 9 6 9 9 9 2 9-4 9-3 9 4 9 6 9 1 9-5 9-4 9 2 9 5 10-1 9-7 9-5 9 1 9 3 9-2 9-8 9-6 9-1 9 1 9-4 9-9 9-7 9-2 10 0 9-6 9-11 9-8 9-3 9-1 9-8 9-13 9-10 9-4 9-2 9-9 9-15 9-12 9-4 10-3 9-11 9-18 9-13 9-5 9-3 9-13 9-20 9-16 9-5 9-3 9-15 9-24 9-17 10-4 9-4 9-17 9-27 9-19 9-4 9-4 9-20 9-30 9-20 9-4 9-4 9-22 9-34 9-22 10-2 9-5 9-25 9-37 9-22 9-3 9-7 9-27 9-38 9-23 9-4 9-9 9-29 9-39 10-24 25 74-9 19-9 5-9 12-9 33-9 36-9 18-9 3-9 12-9 32-9 34-9 15-9 2-9 11-10 31-9 31-9 14-9 1-9 12-9 28-9 28-9 12-9 2-9 11-9 26-9 24-9 11-9 3-10 11-9 22-9 21-9 10-9 3-9 11-9 19-9 19-9 8-9 4-9 9-9 17-9 16-9 7-9 4-10 8-9 15-9 14-9 6-9 3-9 7-9 13-9 11-9 5-9 2-9 7-9 11-9 9-9 3-10 2-9 5-9 9-9 7-9 3-9 0-9 4-9 7-9 6-9 1-9-1-9 3-9 6-9 4-9-1-10-2-9 1-9 5-9 3-9-3-9-4-9 0-9 4-9 2-9-5-9-6-9-1-9 4-9 0-10-7-9-8-9-2-9 3-9-1-9-9-9-11-9-3-9 3-9-2-9-11-9-14-9-4-9 4-9-3-10-15-9-16-9-4-9 3-9-4-9-18-9-19-9-4-9 4-9-6-9-21-9-22-9-5-9 5-10-7-9-25-9-24-9-5-9 6-9-9-9-28-9-26-9-5-9 4-9-11-9-30-9-26-9-6-9 2-10-13z"/>
<path transform="translate(-654.3 -414.1)" d="M1385 7722l9 15 9 12 9 14 9 16 9 16 9 13 9 11 9 12 9 15 9 15 9 11 9 10 9 11 9 13 10 13 9 10 9 9 9 9 9 12 9 11 9 9 9 7 9 9 9 9 9 10 9 8 9 6 9 7 10 8 9 8 9 6 9 5 9 6 9 7 9 6 9 5 9 3 9 5 9 5 9 5 9 3 9 2 9 3 10 4 9 3 9 2 9 1 9 2 9 2 9 2 9 0 9 0 9 0 9 1 9 0 9-1 9-1 10-1 9-1 9-1 9-3 9-3 9-2 9-2 9-3 9-4 9-4 9-4 9-4 9-4 9-5 10-6 9-5 9-5 9-6 9-7 9-7 9-7 9-6 9-7 9-8 9-9 9-8 9-8 9-8 9-10 10-10 9-10 9-9 9-9 9-12 9-11 9-11 9-11 9-11 9-13 9-13 9-12 9-12 9-12 10-15 9-15 9-13 9-13 9-14 9-16 9-16 9-15 9-14 9-15 9-18 9-18 9-16 9-15 9-17 10-20 9-19 9-18 9-16 9-18 9-21 9-21 9-19 9-18 9-20 9-22 9-23 9-19 9-20 10-21 25 40-9 23-9 26-9 24-9 17-9 15-9 22-9 25-9 22-9 15-9 15-9 19-9 24-9 21-10 14-9 13-9 19-9 21-9 19-9 13-9 13-9 17-9 19-9 17-9 12-9 12-9 16-9 17-10 15-9 11-9 11-9 14-9 16-9 13-9 10-9 10-9 13-9 13-9 12-9 9-9 9-9 11-9 12-10 10-9 8-9 8-9 9-9 10-9 9-9 6-9 7-9 8-9 8-9 7-9 6-9 5-9 7-10 7-9 5-9 4-9 4-9 6-9 5-9 4-9 2-9 3-9 4-9 4-9 2-9 2-9 1-9 2-10 3-9 1-9 0-9-1-9 2-9 1-9-1-9-2-9-1-9 0-9 0-9-2-9-4-9-3-10-1-9-2-9-3-9-5-9-5-9-3-9-2-9-5-9-7-9-6-9-4-9-3-9-7-9-9-9-8-10-4-9-5-9-8-9-11-9-9-9-6-9-5-9-10-9-13-9-11-9-6-9-7-9-11-9-16-10-12-9-7-9-7-9-14-9-17-9-14-9-7-9-9-9-16-9-19-9-14-9-9-9-11-9-17-9-20-10-16z"/>
<path transform="translate(-641.4 -405.9)" d="M1385 7748l9 14 9-3 9 7 9 26 9 29 9 11 9-3 9 5 9 25 9 28 9 9 9-5 9 5 9 24 10 25 9 7 9-5 9 5 9 21 9 22 9 5 9-4 9 5 9 19 9 17 9 5 9-4 9 5 10 16 9 14 9 3 9-3 9 4 9 13 9 12 9 2 9-3 9 3 9 11 9 9 9 0 9-3 9 3 10 8 9 7 9-1 9-3 9 1 9 6 9 5 9-2 9-4 9 0 9 4 9 3 9-3 9-5 10-2 9 3 9 1 9-5 9-6 9-2 9 1 9-1 9-6 9-7 9-4 9-1 9-2 9-7 10-9 9-5 9-2 9-4 9-9 9-10 9-7 9-2 9-5 9-11 9-13 9-8 9-3 9-6 9-13 10-15 9-9 9-3 9-7 9-16 9-17 9-10 9-3 9-9 9-18 9-20 9-10 9-4 9-9 10-21 9-23 9-11 9-3 9-10 9-25 9-25 9-11 9-3 9-12 9-28 9-28 9-11 9-2 9-13 10-32 9-31 9-11 9-1 9-16 9-34 9-32 9-12 9-2 9-18 9-36 9-33 9-13 9-4 10-20 25 19-9 24-9 37-9 29-9 10-9 6-9 22-9 36-9 27-9 8-9 5-9 22-9 34-9 24-10 7-9 5-9 21-9 31-9 21-9 7-9 6-9 19-9 27-9 19-9 6-9 7-9 18-9 24-10 16-9 6-9 7-9 16-9 21-9 14-9 6-9 7-9 14-9 18-9 12-9 6-9 6-9 13-9 15-10 10-9 6-9 5-9 11-9 13-9 9-9 4-9 5-9 10-9 10-9 7-9 4-9 4-9 8-10 8-9 6-9 2-9 3-9 6-9 7-9 4-9 1-9 2-9 5-9 5-9 3-9-1-9 1-9 3-10 4-9 1-9-2-9-1-9 2-9 4-9-1-9-4-9-3-9 2-9 2-9-2-9-7-9-4-10 0-9 2-9-4-9-9-9-6-9 0-9 1-9-5-9-12-9-8-9 0-9 1-9-8-9-14-9-10-10 0-9 0-9-10-9-17-9-11-9 0-9 0-9-12-9-21-9-13-9 1-9 0-9-15-9-24-10-15-9 1-9 0-9-17-9-28-9-16-9 2-9-1-9-20-9-30-9-16-9 1-9-3-9-23-9-31-10-17z"/>
<path transform="translate(-628.4 -397.7)" d="M1385 7746l9 16 9 20 9 17 9 10 9 9 9 15 9 19 9 15 9 9 9 8 9 13 9 18 9 13 9 8 10 7 9 12 9 15 9 12 9 7 9 6 9 10 9 13 9 11 9 5 9 5 9 10 9 11 9 8 10 4 9 5 9 8 9 9 9 6 9 4 9 3 9 6 9 8 9 5 9 2 9 3 9 4 9 5 9 4 10 1 9 2 9 3 9 3 9 2 9 0 9 0 9 2 9 2 9 0 9-1 9-1 9 0 9 0 10-1 9-2 9-2 9-2 9-1 9-3 9-3 9-4 9-3 9-3 9-4 9-5 9-5 9-4 10-4 9-6 9-7 9-6 9-6 9-5 9-7 9-8 9-8 9-7 9-7 9-8 9-10 9-10 9-8 10-8 9-10 9-11 9-12 9-9 9-8 9-12 9-14 9-12 9-10 9-10 9-14 9-15 9-14 10-11 9-11 9-15 9-18 9-15 9-12 9-12 9-17 9-20 9-17 9-13 9-13 9-18 9-22 9-18 10-14 9-14 9-20 9-24 9-20 9-14 9-15 9-23 9-25 9-21 9-15 9-17 9-24 9-27 10-22 25 52-9 21-9 13-9 17-9 26-9 28-9 19-9 12-9 16-9 25-9 27-9 17-9 10-9 16-10 23-9 24-9 16-9 10-9 14-9 22-9 21-9 14-9 10-9 14-9 19-9 19-9 13-9 10-10 12-9 18-9 16-9 12-9 9-9 12-9 15-9 14-9 11-9 8-9 11-9 13-9 12-9 9-9 8-10 9-9 12-9 10-9 8-9 7-9 8-9 9-9 9-9 7-9 5-9 7-9 8-9 7-9 5-10 5-9 5-9 6-9 6-9 4-9 3-9 4-9 5-9 4-9 2-9 2-9 2-9 4-9 2-9 1-10 1-9 1-9 2-9 1-9 0-9-2-9 0-9 1-9 0-9-2-9-3-9-2-9 0-9-1-10-4-9-5-9-3-9-1-9-3-9-6-9-6-9-4-9-2-9-4-9-8-9-9-9-5-9-2-9-5-10-10-9-11-9-6-9-3-9-7-9-12-9-13-9-7-9-4-9-7-9-15-9-15-9-8-9-4-10-9-9-17-9-17-9-9-9-4-9-10-9-20-9-19-9-10-9-5-9-12-9-22-9-20-9-10-9-7-10-14z"/>
<path transform="translate(-615.5 -389.5)" d="M1385 7751l9 17 9 31 9 22 9 3 9 0 9 16 9 29 9 21 9 1 9-2 9 15 9 28 9 18 9 0 10-1 9 14 9 24 9 15 9 0 9 0 9 13 9 20 9 13 9-1 9 0 9 12 9 17 9 10 10 0 9 0 9 9 9 15 9 7 9 0 9 0 9 8 9 11 9 6 9-1 9 0 9 6 9 9 9 4 10-2 9-1 9 5 9 6 9 2 9-2 9-1 9 2 9 5 9 0 9-3 9-2 9 1 9 2 10-1 9-4 9-4 9 0 9 0 9-2 9-6 9-4 9-2 9-1 9-4 9-7 9-6 9-3 10-3 9-5 9-9 9-8 9-4 9-3 9-7 9-11 9-9 9-5 9-5 9-8 9-13 9-11 9-6 10-5 9-10 9-16 9-12 9-7 9-5 9-12 9-18 9-15 9-6 9-6 9-15 9-20 9-17 10-6 9-6 9-17 9-24 9-18 9-6 9-6 9-19 9-27 9-20 9-6 9-6 9-22 9-30 9-21 10-6 9-6 9-24 9-35 9-22 9-5 9-7 9-27 9-36 9-23 9-6 9-9 9-29 9-37 10-24 25 63-9 20-9 7-9 14-9 31-9 34-9 18-9 5-9 13-9 30-9 32-9 16-9 4-9 13-10 28-9 28-9 15-9 5-9 13-9 25-9 25-9 13-9 6-9 12-9 23-9 21-9 12-9 6-10 12-9 20-9 19-9 11-9 6-9 11-9 17-9 17-9 9-9 6-9 10-9 15-9 14-9 8-9 6-10 9-9 13-9 12-9 7-9 5-9 8-9 11-9 9-9 6-9 5-9 7-9 8-9 8-9 5-10 3-9 6-9 7-9 6-9 3-9 3-9 4-9 5-9 4-9 3-9 1-9 2-9 4-9 3-9 1-10-1-9 2-9 2-9 2-9-1-9-2-9 0-9 2-9 0-9-3-9-4-9-1-9 1-9-1-10-5-9-6-9-3-9 1-9-2-9-7-9-9-9-3-9 0-9-3-9-9-9-11-9-5-9 0-9-4-10-12-9-13-9-6-9 1-9-6-9-15-9-16-9-6-9 1-9-7-9-18-9-18-9-7-9 1-10-7-9-22-9-22-9-6-9 2-9-9-9-26-9-23-9-7-9 1-9-11-9-27-9-25-9-7-9-1-10-13z"/>
<path transform="translate(-602.5 -381.3)" d="M1385 7782l9 14 9 6 9 11 9 20 9 21 9 13 9 5 9 9 9 19 9 20 9 11 9 4 9 8 9 18 10 17 9 9 9 4 9 8 9 15 9 14 9 8 9 3 9 8 9 12 9 13 9 6 9 3 9 6 10 11 9 10 9 5 9 3 9 5 9 9 9 8 9 3 9 2 9 4 9 7 9 6 9 3 9 1 9 2 10 5 9 4 9 2 9 0 9 1 9 3 9 3 9 0 9-1 9 0 9 1 9 1 9-1 9-3 10-1 9 0 9-1 9-3 9-3 9-3 9-1 9-3 9-4 9-5 9-4 9-3 9-4 9-5 10-6 9-6 9-4 9-5 9-8 9-7 9-7 9-6 9-6 9-9 9-10 9-8 9-6 9-8 9-11 10-11 9-10 9-7 9-9 9-13 9-13 9-10 9-9 9-10 9-15 9-15 9-11 9-9 9-12 10-17 9-17 9-13 9-9 9-13 9-19 9-19 9-14 9-10 9-14 9-21 9-22 9-14 9-11 9-15 10-24 9-24 9-15 9-11 9-17 9-26 9-25 9-16 9-12 9-19 9-28 9-27 9-17 9-13 10-20 25 23-9 23-9 32-9 27-9 13-9 10-9 22-9 31-9 25-9 11-9 10-9 21-9 28-9 22-10 11-9 10-9 20-9 25-9 20-9 10-9 10-9 18-9 23-9 17-9 10-9 10-9 17-9 20-10 15-9 9-9 10-9 15-9 17-9 13-9 9-9 9-9 13-9 15-9 12-9 8-9 8-9 12-9 13-10 10-9 7-9 7-9 10-9 11-9 8-9 6-9 7-9 8-9 9-9 7-9 5-9 5-9 7-10 7-9 5-9 4-9 4-9 6-9 5-9 4-9 3-9 2-9 4-9 4-9 3-9 1-9 1-9 2-10 3-9 1-9 0-9-1-9 2-9 1-9 0-9-3-9-1-9 0-9 0-9-2-9-4-9-3-10-1-9-1-9-3-9-7-9-5-9-1-9-2-9-5-9-9-9-6-9-3-9-2-9-7-9-11-9-8-10-3-9-3-9-9-9-13-9-10-9-3-9-4-9-11-9-16-9-11-9-4-9-3-9-14-9-19-10-13-9-3-9-4-9-16-9-22-9-14-9-4-9-4-9-18-9-25-9-15-9-4-9-7-9-20-9-25-10-17z"/>
<path transform="translate(-589.5 -373.1)" d="M1385 7798l9 13 9 0 9 8 9 24 9 28 9 11 9-1 9 6 9 24 9 25 9 9 9-1 9 6 9 21 10 22 9 8 9-1 9 6 9 19 9 18 9 7 9-1 9 6 9 16 9 15 9 5 9 0 9 5 10 14 9 12 9 4 9 0 9 4 9 11 9 10 9 3 9-1 9 4 9 9 9 7 9 2 9-1 9 2 10 7 9 5 9 0 9-1 9 2 9 4 9 3 9-1 9-2 9 0 9 3 9 1 9-2 9-3 10-1 9 0 9 0 9-3 9-4 9-3 9-1 9-2 9-4 9-6 9-4 9-2 9-4 9-6 10-7 9-5 9-4 9-4 9-8 9-9 9-6 9-5 9-6 9-10 9-10 9-8 9-6 9-7 9-11 10-13 9-9 9-6 9-8 9-14 9-15 9-10 9-6 9-10 9-16 9-17 9-12 9-6 9-10 10-19 9-20 9-12 9-6 9-12 9-22 9-22 9-13 9-6 9-12 9-25 9-25 9-13 9-6 9-14 10-28 9-28 9-13 9-5 9-16 9-31 9-31 9-13 9-5 9-18 9-34 9-31 9-14 9-6 10-20 25 15-9 23-9 34-9 28-9 11-9 9-9 23-9 32-9 26-9 10-9 8-9 21-9 30-9 23-10 10-9 8-9 20-9 27-9 20-9 10-9 9-9 18-9 24-9 17-9 10-9 9-9 17-9 20-10 16-9 8-9 10-9 15-9 18-9 13-9 8-9 9-9 13-9 16-9 12-9 7-9 8-9 12-9 13-10 10-9 7-9 7-9 10-9 11-9 9-9 6-9 6-9 8-9 9-9 7-9 5-9 6-9 6-10 7-9 6-9 4-9 4-9 5-9 5-9 4-9 3-9 3-9 4-9 3-9 3-9 1-9 1-9 3-10 2-9 1-9 0-9 0-9 1-9 1-9 0-9-2-9-2-9 0-9 0-9-1-9-5-9-3-10-1-9 0-9-4-9-6-9-6-9-1-9-1-9-6-9-8-9-7-9-2-9-2-9-7-9-12-9-8-10-3-9-2-9-9-9-14-9-10-9-3-9-3-9-11-9-17-9-12-9-2-9-3-9-14-9-20-10-13-9-3-9-3-9-16-9-23-9-15-9-2-9-4-9-18-9-27-9-15-9-3-9-5-9-21-9-27-10-17z"/>
<path transform="translate(-576.6 -364.9)" d="M1385 7789l9 16 9 26 9 20 9 6 9 4 9 16 9 24 9 18 9 5 9 3 9 15 9 22 9 15 9 4 10 4 9 13 9 19 9 13 9 4 9 3 9 12 9 16 9 11 9 3 9 4 9 10 9 13 9 9 10 3 9 3 9 8 9 11 9 7 9 2 9 2 9 7 9 9 9 5 9 1 9 2 9 5 9 6 9 4 10 0 9 1 9 4 9 4 9 2 9-1 9 0 9 2 9 2 9 1 9-2 9-1 9 0 9 1 10-1 9-3 9-2 9-2 9-1 9-2 9-4 9-4 9-3 9-2 9-4 9-6 9-5 9-4 10-4 9-5 9-7 9-7 9-5 9-6 9-7 9-8 9-9 9-6 9-6 9-9 9-10 9-10 9-8 10-7 9-10 9-13 9-11 9-8 9-8 9-12 9-15 9-13 9-9 9-9 9-13 9-18 9-15 10-9 9-9 9-16 9-20 9-16 9-10 9-10 9-17 9-23 9-18 9-10 9-10 9-20 9-26 9-19 10-10 9-11 9-22 9-29 9-21 9-9 9-12 9-24 9-31 9-22 9-11 9-13 9-26 9-32 10-23 25 52-9 20-9 8-9 15-9 30-9 33-9 18-9 6-9 14-9 29-9 30-9 16-9 7-9 14-10 26-9 27-9 15-9 7-9 13-9 24-9 24-9 13-9 8-9 13-9 21-9 20-9 12-9 8-10 12-9 19-9 18-9 11-9 8-9 11-9 16-9 15-9 10-9 8-9 10-9 14-9 13-9 9-9 7-10 9-9 12-9 11-9 7-9 7-9 8-9 10-9 8-9 7-9 6-9 6-9 8-9 7-9 5-10 5-9 5-9 7-9 5-9 4-9 3-9 4-9 5-9 4-9 2-9 2-9 3-9 3-9 3-9 1-10 0-9 1-9 2-9 1-9 0-9-1-9-1-9 1-9 0-9-2-9-3-9-2-9 0-9-1-10-4-9-5-9-3-9-1-9-2-9-6-9-8-9-3-9-1-9-4-9-9-9-9-9-5-9-1-9-5-10-11-9-12-9-6-9-1-9-6-9-14-9-14-9-7-9-1-9-7-9-17-9-17-9-7-9-1-10-8-9-20-9-20-9-7-9 0-9-10-9-24-9-22-9-7-9 0-9-12-9-26-9-24-9-8-9-1-10-14z"/>
<path transform="translate(-563.6 -356.7)" d="M1385 7797l9 16 9 28 9 21 9 5 9 2 9 16 9 26 9 19 9 4 9 1 9 15 9 24 9 16 9 3 10 2 9 14 9 20 9 13 9 3 9 3 9 12 9 17 9 11 9 3 9 2 9 11 9 14 9 9 10 2 9 2 9 9 9 11 9 8 9 1 9 2 9 7 9 9 9 5 9 1 9 2 9 5 9 7 9 3 10 1 9 0 9 4 9 4 9 2 9 0 9 0 9 1 9 3 9 0 9-1 9-2 9 1 9 0 10-1 9-3 9-2 9-1 9-2 9-2 9-4 9-4 9-2 9-3 9-4 9-5 9-6 9-4 10-4 9-5 9-7 9-7 9-5 9-5 9-7 9-9 9-8 9-7 9-6 9-8 9-11 9-10 9-7 10-7 9-10 9-13 9-12 9-8 9-8 9-12 9-15 9-13 9-9 9-8 9-14 9-18 9-15 10-9 9-9 9-15 9-21 9-17 9-9 9-9 9-18 9-23 9-19 9-9 9-9 9-20 9-27 9-20 10-9 9-10 9-22 9-30 9-21 9-9 9-10 9-25 9-33 9-22 9-9 9-12 9-27 9-34 10-23 25 49-9 21-9 11-9 16-9 28-9 30-9 18-9 10-9 15-9 27-9 27-9 17-9 10-9 14-10 25-9 24-9 16-9 9-9 15-9 22-9 21-9 14-9 10-9 13-9 20-9 19-9 13-9 9-10 13-9 17-9 17-9 12-9 9-9 11-9 16-9 14-9 10-9 9-9 10-9 13-9 13-9 9-9 8-10 9-9 11-9 11-9 8-9 7-9 8-9 9-9 8-9 7-9 6-9 7-9 7-9 7-9 6-10 5-9 5-9 6-9 5-9 4-9 4-9 4-9 4-9 4-9 3-9 2-9 3-9 2-9 3-9 1-10 1-9 1-9 1-9 1-9 0-9-1-9 0-9 0-9 0-9-2-9-2-9-2-9 0-9-2-10-4-9-4-9-3-9-1-9-3-9-6-9-6-9-5-9-2-9-3-9-8-9-9-9-5-9-3-9-5-10-10-9-11-9-6-9-3-9-6-9-12-9-14-9-7-9-3-9-7-9-15-9-16-9-8-9-3-10-8-9-18-9-18-9-9-9-3-9-10-9-21-9-20-9-9-9-3-9-12-9-23-9-22-9-9-9-5-10-14z"/>
<path transform="translate(-550.7 -348.5)" d="M1385 7825l9 13 9 2 9 8 9 24 9 26 9 11 9 0 9 8 9 22 9 24 9 9 9 0 9 8 9 20 10 20 9 8 9 1 9 7 9 17 9 17 9 7 9 1 9 6 9 15 9 14 9 5 9 2 9 5 10 13 9 11 9 4 9 1 9 5 9 10 9 9 9 3 9 1 9 4 9 7 9 7 9 2 9 1 9 2 10 6 9 4 9 1 9 0 9 1 9 4 9 2 9 0 9-1 9 0 9 1 9 1 9-1 9-2 10-1 9-1 9-1 9-2 9-3 9-3 9-2 9-3 9-4 9-4 9-4 9-3 9-4 9-6 10-6 9-5 9-5 9-5 9-7 9-8 9-7 9-5 9-7 9-9 9-9 9-9 9-6 9-8 9-10 10-12 9-9 9-7 9-9 9-13 9-14 9-11 9-7 9-10 9-15 9-16 9-12 9-8 9-11 10-17 9-19 9-12 9-8 9-12 9-21 9-21 9-13 9-7 9-14 9-23 9-24 9-13 9-8 9-15 10-26 9-26 9-14 9-7 9-16 9-30 9-29 9-14 9-7 9-18 9-32 9-30 9-15 9-8 10-20 25 9-9 23-9 36-9 29-9 10-9 7-9 22-9 35-9 26-9 9-9 7-9 22-9 31-9 23-10 9-9 8-9 20-9 28-9 20-9 9-9 8-9 19-9 24-9 18-9 9-9 8-9 17-9 22-10 15-9 9-9 8-9 16-9 18-9 13-9 8-9 9-9 14-9 15-9 12-9 7-9 8-9 12-9 13-10 10-9 7-9 8-9 10-9 10-9 8-9 7-9 7-9 8-9 8-9 7-9 5-9 6-9 7-10 6-9 5-9 5-9 4-9 5-9 5-9 4-9 3-9 3-9 4-9 3-9 3-9 1-9 2-9 2-10 2-9 1-9 0-9 0-9 1-9 1-9 0-9-2-9-2-9 0-9 0-9-2-9-4-9-3-10-1-9 0-9-4-9-6-9-5-9-2-9-1-9-5-9-9-9-7-9-2-9-2-9-7-9-12-9-8-10-3-9-1-9-10-9-14-9-11-9-2-9-2-9-11-9-18-9-12-9-2-9-2-9-14-9-21-10-14-9-2-9-2-9-16-9-25-9-15-9-1-9-2-9-19-9-29-9-16-9 0-9-4-9-22-9-30-10-16z"/>
<path transform="translate(-537.7 -340.3)" d="M1385 7830l9 14 9 4 9 10 9 21 9 24 9 12 9 3 9 9 9 20 9 21 9 10 9 3 9 8 9 18 10 18 9 9 9 3 9 8 9 15 9 15 9 8 9 3 9 7 9 13 9 13 9 6 9 3 9 6 10 11 9 10 9 5 9 2 9 6 9 8 9 8 9 4 9 2 9 4 9 7 9 5 9 3 9 1 9 3 10 5 9 4 9 1 9 1 9 1 9 3 9 2 9 0 9 0 9 0 9 1 9 0 9-1 9-2 10-1 9 0 9-2 9-2 9-3 9-2 9-3 9-3 9-3 9-4 9-4 9-4 9-4 9-6 10-5 9-6 9-5 9-5 9-7 9-7 9-7 9-6 9-7 9-8 9-10 9-8 9-7 9-8 9-10 10-11 9-10 9-7 9-10 9-12 9-13 9-11 9-8 9-10 9-15 9-15 9-12 9-9 9-11 10-17 9-17 9-13 9-9 9-13 9-19 9-20 9-14 9-9 9-14 9-22 9-22 9-14 9-10 9-15 10-25 9-24 9-15 9-9 9-17 9-28 9-26 9-16 9-9 9-19 9-30 9-28 9-16 9-11 10-20 25 15-9 22-9 29-9 25-9 15-9 14-9 21-9 28-9 23-9 14-9 13-9 20-9 25-9 20-10 14-9 13-9 18-9 23-9 18-9 13-9 12-9 18-9 20-9 16-9 12-9 12-9 16-9 17-10 15-9 11-9 11-9 14-9 16-9 13-9 10-9 10-9 13-9 13-9 12-9 9-9 9-9 11-9 12-10 9-9 9-9 8-9 9-9 10-9 8-9 7-9 8-9 7-9 8-9 7-9 6-9 6-9 6-10 6-9 6-9 4-9 5-9 5-9 4-9 4-9 4-9 3-9 3-9 3-9 3-9 2-9 2-9 2-10 1-9 1-9 1-9 0-9 1-9 0-9 0-9-1-9-2-9 0-9-1-9-2-9-3-9-2-10-2-9-2-9-3-9-5-9-5-9-2-9-3-9-5-9-7-9-6-9-4-9-3-9-7-9-9-9-8-10-4-9-5-9-8-9-11-9-9-9-6-9-5-9-10-9-13-9-11-9-6-9-6-9-12-9-16-10-12-9-7-9-6-9-14-9-19-9-14-9-6-9-8-9-16-9-21-9-15-9-7-9-9-9-18-9-22-10-16z"/>
<path transform="translate(-524.8 -332.1)" d="M1385 7817l9 17 9 30 9 22 9 3 9 1 9 16 9 28 9 20 9 2 9 0 9 16 9 24 9 17 9 2 10 1 9 14 9 21 9 14 9 2 9 2 9 12 9 18 9 12 9 2 9 2 9 10 9 15 9 9 10 2 9 2 9 9 9 12 9 7 9 1 9 2 9 7 9 9 9 5 9 2 9 1 9 5 9 7 9 3 10 1 9 1 9 3 9 4 9 2 9 0 9 0 9 2 9 1 9 1 9-1 9-1 9 0 9 0 10-1 9-2 9-2 9-2 9-2 9-2 9-4 9-3 9-3 9-3 9-4 9-5 9-5 9-4 10-5 9-5 9-7 9-6 9-6 9-5 9-7 9-9 9-8 9-7 9-6 9-8 9-11 9-10 9-7 10-7 9-10 9-13 9-12 9-8 9-8 9-11 9-16 9-13 9-9 9-8 9-14 9-18 9-15 10-9 9-8 9-16 9-21 9-17 9-9 9-8 9-18 9-25 9-18 9-9 9-8 9-21 9-28 9-20 10-8 9-8 9-23 9-32 9-21 9-7 9-9 9-26 9-35 9-23 9-6 9-11 9-28 9-36 10-24 25 50-9 20-9 5-9 13-9 32-9 36-9 17-9 4-9 13-9 31-9 31-9 16-9 5-9 13-10 28-9 28-9 14-9 6-9 13-9 25-9 24-9 13-9 7-9 12-9 22-9 21-9 12-9 7-10 12-9 20-9 18-9 11-9 7-9 11-9 17-9 15-9 10-9 7-9 11-9 14-9 13-9 8-9 8-10 9-9 12-9 10-9 8-9 7-9 8-9 9-9 9-9 6-9 6-9 7-9 8-9 6-9 6-10 5-9 5-9 6-9 5-9 4-9 4-9 4-9 4-9 4-9 3-9 2-9 3-9 2-9 3-9 1-10 1-9 1-9 2-9 1-9-1-9 0-9-1-9 1-9 0-9-2-9-3-9-2-9 0-9-1-10-4-9-6-9-2-9-1-9-2-9-7-9-7-9-4-9-1-9-3-9-9-9-10-9-5-9-1-9-4-10-11-9-13-9-6-9 0-9-6-9-14-9-16-9-6-9 0-9-6-9-18-9-19-9-6-9 1-10-8-9-22-9-21-9-6-9 1-9-9-9-25-9-24-9-7-9 3-9-11-9-29-9-26-9-6-9 1-10-13z"/>
<path transform="translate(-511.8 -323.9)" d="M1385 7828l9 16 9 23 9 18 9 9 9 7 9 15 9 21 9 16 9 7 9 7 9 14 9 18 9 14 9 7 10 6 9 13 9 15 9 13 9 6 9 5 9 11 9 14 9 10 9 5 9 5 9 10 9 11 9 8 10 4 9 5 9 8 9 9 9 6 9 4 9 4 9 6 9 6 9 5 9 3 9 3 9 4 9 5 9 4 10 1 9 2 9 3 9 3 9 2 9 0 9 1 9 1 9 1 9 1 9-1 9 0 9-1 9 0 10-1 9-2 9-2 9-2 9-2 9-2 9-3 9-3 9-4 9-3 9-4 9-5 9-4 9-5 10-5 9-5 9-6 9-6 9-6 9-7 9-6 9-8 9-8 9-7 9-7 9-9 9-9 9-9 9-9 10-8 9-10 9-11 9-11 9-9 9-10 9-11 9-14 9-12 9-10 9-11 9-13 9-15 9-14 10-11 9-11 9-15 9-18 9-16 9-11 9-12 9-17 9-20 9-17 9-12 9-13 9-19 9-22 9-19 10-13 9-13 9-21 9-25 9-20 9-13 9-14 9-23 9-27 9-22 9-13 9-16 9-24 9-29 10-23 25 34-9 21-9 16-9 19-9 24-9 25-9 20-9 15-9 18-9 22-9 23-9 18-9 14-9 17-10 21-9 20-9 17-9 14-9 16-9 18-9 19-9 15-9 13-9 15-9 17-9 16-9 14-9 12-10 14-9 15-9 15-9 12-9 11-9 13-9 13-9 13-9 11-9 10-9 11-9 12-9 11-9 10-9 9-10 10-9 10-9 9-9 9-9 8-9 8-9 8-9 8-9 8-9 6-9 7-9 7-9 6-9 6-10 6-9 5-9 5-9 5-9 5-9 4-9 4-9 4-9 3-9 3-9 3-9 2-9 3-9 2-9 1-10 2-9 1-9 1-9 1-9 0-9-1-9 0-9 0-9-1-9-1-9-2-9-2-9-1-9-2-10-3-9-4-9-3-9-2-9-4-9-4-9-6-9-4-9-4-9-4-9-7-9-7-9-5-9-5-9-6-10-8-9-9-9-7-9-5-9-8-9-10-9-10-9-8-9-7-9-8-9-13-9-12-9-9-9-7-10-10-9-14-9-15-9-10-9-8-9-11-9-17-9-16-9-11-9-9-9-13-9-18-9-17-9-13-9-10-10-14z"/>
<path transform="translate(-498.8 -315.7)" d="M1385 7851l9 13 9-2 9 7 9 26 9 29 9 11 9-3 9 6 9 24 9 26 9 9 9-2 9 7 9 21 10 22 9 7 9-1 9 7 9 18 9 18 9 7 9 0 9 6 9 15 9 15 9 5 9 1 9 5 10 13 9 12 9 4 9 1 9 5 9 10 9 9 9 3 9 1 9 4 9 7 9 6 9 3 9 0 9 3 10 5 9 4 9 1 9 1 9 1 9 3 9 2 9 0 9 0 9 0 9 1 9 0 9-1 9-1 10-1 9-1 9-2 9-2 9-3 9-2 9-3 9-3 9-3 9-4 9-4 9-4 9-4 9-5 10-6 9-5 9-6 9-5 9-7 9-7 9-7 9-6 9-7 9-8 9-10 9-8 9-6 9-8 9-11 10-11 9-10 9-7 9-9 9-13 9-14 9-10 9-7 9-10 9-16 9-16 9-11 9-8 9-11 10-18 9-19 9-12 9-7 9-12 9-21 9-22 9-13 9-6 9-13 9-25 9-25 9-13 9-5 9-15 10-28 9-27 9-14 9-4 9-16 9-32 9-31 9-13 9-3 9-18 9-35 9-33 9-13 9-5 10-19 25-3-9 23-9 39-9 29-9 9-9 5-9 23-9 37-9 26-9 8-9 6-9 22-9 32-9 24-10 8-9 6-9 21-9 29-9 21-9 7-9 8-9 19-9 25-9 18-9 8-9 9-9 17-9 21-10 16-9 8-9 9-9 15-9 19-9 13-9 8-9 9-9 13-9 16-9 11-9 8-9 8-9 12-9 13-10 10-9 7-9 8-9 9-9 11-9 8-9 7-9 7-9 8-9 8-9 6-9 6-9 6-9 6-10 7-9 5-9 5-9 4-9 5-9 4-9 4-9 4-9 3-9 4-9 2-9 3-9 2-9 2-9 2-10 2-9 1-9 0-9 0-9 1-9 1-9-1-9-1-9-2-9 0-9 0-9-2-9-4-9-3-10-1-9-1-9-3-9-7-9-5-9-1-9-1-9-6-9-9-9-7-9-2-9-1-9-7-9-12-9-9-10-2-9-1-9-10-9-15-9-10-9-2-9-2-9-11-9-19-9-12-9-1-9-2-9-14-9-22-10-14-9-1-9-1-9-17-9-26-9-16-9 1-9-1-9-20-9-30-9-17-9 2-9-2-9-23-9-32-10-17z"/>
<path transform="translate(-485.9 -307.5)" d="M1385 7845l9 15 9 10 9 12 9 18 9 18 9 13 9 9 9 11 9 16 9 16 9 12 9 8 9 10 9 14 10 14 9 10 9 8 9 9 9 12 9 12 9 9 9 6 9 8 9 11 9 10 9 7 9 6 9 7 10 8 9 9 9 6 9 4 9 6 9 7 9 6 9 5 9 4 9 4 9 5 9 5 9 3 9 3 9 3 10 3 9 3 9 2 9 2 9 2 9 1 9 2 9 0 9 1 9 0 9 0 9 0 9-1 9 0 10-2 9-1 9-2 9-2 9-2 9-2 9-3 9-3 9-4 9-4 9-3 9-5 9-4 9-5 10-5 9-6 9-5 9-6 9-6 9-7 9-7 9-7 9-7 9-8 9-8 9-9 9-8 9-8 9-10 10-10 9-9 9-9 9-10 9-11 9-12 9-11 9-10 9-11 9-13 9-14 9-12 9-11 9-13 10-14 9-16 9-13 9-12 9-14 9-17 9-17 9-14 9-13 9-15 9-19 9-19 9-16 9-13 9-17 10-21 9-20 9-17 9-15 9-18 9-22 9-23 9-18 9-15 9-19 9-25 9-24 9-19 9-17 10-21 25 16-9 22-9 23-9 21-9 20-9 19-9 21-9 21-9 20-9 19-9 18-9 19-9 19-9 19-10 17-9 17-9 18-9 18-9 17-9 16-9 15-9 16-9 17-9 15-9 15-9 14-9 15-9 15-10 14-9 13-9 13-9 13-9 13-9 13-9 12-9 12-9 11-9 12-9 11-9 11-9 10-9 11-9 10-10 9-9 10-9 9-9 8-9 9-9 8-9 8-9 8-9 7-9 8-9 6-9 7-9 6-9 6-10 6-9 5-9 5-9 5-9 5-9 4-9 4-9 4-9 3-9 3-9 3-9 2-9 3-9 2-9 1-10 2-9 1-9 1-9 0-9 1-9 0-9-1-9 0-9-1-9-1-9-2-9-1-9-3-9-2-10-2-9-3-9-3-9-4-9-4-9-4-9-4-9-4-9-5-9-6-9-5-9-5-9-6-9-7-9-7-10-6-9-7-9-7-9-9-9-8-9-8-9-8-9-9-9-10-9-9-9-9-9-10-9-10-9-12-10-11-9-10-9-11-9-12-9-13-9-13-9-11-9-12-9-14-9-14-9-14-9-13-9-13-9-15-9-17-10-15z"/>
<path transform="translate(-472.9 -299.3)" d="M1385 7831l9 17 9 32 9 23 9 2 9-1 9 16 9 31 9 20 9 1 9-1 9 15 9 27 9 17 9 1 10 0 9 14 9 23 9 14 9 1 9 1 9 13 9 18 9 12 9 1 9 2 9 11 9 15 9 9 10 2 9 2 9 9 9 11 9 8 9 1 9 2 9 7 9 9 9 5 9 1 9 2 9 5 9 6 9 4 10 0 9 2 9 3 9 4 9 1 9 1 9 0 9 1 9 2 9 0 9 0 9-1 9 0 9-1 10-1 9-2 9-1 9-2 9-2 9-3 9-3 9-3 9-3 9-4 9-4 9-4 9-5 9-5 10-5 9-5 9-6 9-6 9-6 9-6 9-7 9-8 9-8 9-7 9-6 9-9 9-10 9-10 9-8 10-7 9-10 9-12 9-12 9-8 9-8 9-12 9-15 9-14 9-8 9-8 9-14 9-18 9-16 10-8 9-8 9-16 9-22 9-17 9-8 9-8 9-18 9-25 9-19 9-8 9-8 9-21 9-28 9-21 10-7 9-8 9-23 9-33 9-22 9-6 9-7 9-27 9-37 9-23 9-4 9-9 9-29 9-39 10-24 25 45-9 19-9 4-9 13-9 33-9 36-9 18-9 2-9 13-9 31-9 33-9 15-9 4-9 13-10 29-9 28-9 14-9 5-9 13-9 25-9 25-9 13-9 6-9 13-9 22-9 22-9 11-9 7-10 12-9 20-9 18-9 11-9 7-9 11-9 17-9 15-9 10-9 7-9 11-9 14-9 12-9 9-9 8-10 9-9 11-9 11-9 8-9 7-9 8-9 9-9 8-9 7-9 6-9 7-9 7-9 7-9 6-10 5-9 5-9 6-9 5-9 4-9 4-9 4-9 4-9 3-9 4-9 2-9 3-9 2-9 2-9 2-10 1-9 1-9 1-9 1-9 0-9 0-9-1-9 1-9-1-9-2-9-2-9-2-9 0-9-2-10-4-9-5-9-2-9-1-9-2-9-7-9-7-9-4-9-1-9-3-9-9-9-10-9-5-9-1-9-4-10-12-9-12-9-6-9 0-9-6-9-14-9-16-9-6-9 0-9-6-9-18-9-19-9-6-9 1-10-8-9-22-9-21-9-7-9 3-9-9-9-26-9-25-9-6-9 4-9-11-9-30-9-27-9-6-9 3-10-13z"/>
<path transform="translate(-460 -291.1)" d="M1385 7844l9 16 9 16 9 16 9 13 9 12 9 14 9 15 9 14 9 12 9 11 9 13 9 13 9 12 9 10 10 11 9 11 9 11 9 11 9 9 9 9 9 10 9 10 9 9 9 8 9 7 9 9 9 8 9 8 10 6 9 7 9 7 9 6 9 6 9 6 9 5 9 5 9 5 9 5 9 4 9 4 9 4 9 3 9 4 10 2 9 3 9 2 9 2 9 2 9 1 9 1 9 1 9 1 9 0 9 0 9 0 9-1 9 0 10-2 9-1 9-2 9-2 9-2 9-2 9-3 9-3 9-4 9-4 9-4 9-4 9-4 9-5 10-5 9-6 9-5 9-6 9-7 9-6 9-7 9-7 9-8 9-7 9-8 9-8 9-9 9-9 9-9 10-9 9-10 9-10 9-10 9-11 9-10 9-11 9-12 9-12 9-11 9-12 9-13 9-13 9-14 10-12 9-14 9-14 9-15 9-14 9-15 9-14 9-16 9-16 9-16 9-16 9-16 9-17 9-18 9-18 10-16 9-17 9-19 9-20 9-19 9-18 9-18 9-20 9-22 9-20 9-19 9-20 9-22 9-23 10-22 25 17-9 22-9 23-9 21-9 20-9 19-9 21-9 21-9 20-9 19-9 18-9 19-9 19-9 19-10 17-9 17-9 18-9 18-9 17-9 16-9 15-9 16-9 17-9 15-9 15-9 14-9 15-9 15-10 14-9 13-9 13-9 13-9 13-9 13-9 12-9 12-9 11-9 12-9 11-9 11-9 10-9 11-9 10-10 9-9 10-9 9-9 8-9 9-9 8-9 8-9 8-9 7-9 8-9 6-9 7-9 6-9 6-10 6-9 5-9 5-9 5-9 5-9 4-9 4-9 4-9 3-9 3-9 3-9 2-9 3-9 2-9 1-10 2-9 1-9 1-9 0-9 1-9 0-9-1-9 0-9-1-9-1-9-2-9-1-9-3-9-2-10-2-9-3-9-3-9-4-9-4-9-4-9-4-9-4-9-5-9-6-9-5-9-5-9-6-9-7-9-7-10-6-9-7-9-7-9-9-9-8-9-8-9-8-9-9-9-10-9-9-9-9-9-10-9-10-9-12-10-11-9-10-9-11-9-12-9-13-9-13-9-11-9-12-9-14-9-14-9-14-9-13-9-13-9-15-9-17-10-15z"/>
<path transform="translate(-447 -282.9)" d="M1385 7859l9 13 9-2 9 6 9 26 9 30 9 11 9-4 9 6 9 25 9 26 9 9 9-2 9 6 9 22 10 22 9 7 9-1 9 6 9 19 9 18 9 7 9-1 9 7 9 15 9 15 9 5 9 1 9 5 10 13 9 12 9 4 9 1 9 4 9 11 9 8 9 4 9 0 9 4 9 8 9 6 9 2 9 1 9 3 10 5 9 4 9 1 9 1 9 1 9 3 9 2 9 0 9 0 9 0 9 1 9 0 9-1 9-1 10-1 9-1 9-2 9-2 9-2 9-3 9-3 9-3 9-3 9-4 9-4 9-4 9-5 9-5 10-5 9-5 9-6 9-5 9-7 9-7 9-7 9-6 9-7 9-8 9-10 9-8 9-7 9-7 9-11 10-12 9-9 9-7 9-9 9-13 9-14 9-10 9-7 9-10 9-16 9-16 9-12 9-7 9-11 10-18 9-19 9-12 9-7 9-12 9-21 9-22 9-13 9-6 9-13 9-25 9-25 9-13 9-5 9-14 10-29 9-28 9-13 9-4 9-16 9-32 9-31 9-13 9-3 9-17 9-37 9-33 9-12 9-4 10-20 25-11-9 23-9 39-9 29-9 9-9 5-9 23-9 37-9 26-9 8-9 6-9 22-9 32-9 24-10 8-9 6-9 21-9 29-9 21-9 7-9 8-9 19-9 25-9 18-9 8-9 9-9 17-9 21-10 16-9 8-9 9-9 15-9 19-9 13-9 8-9 9-9 13-9 16-9 11-9 8-9 8-9 12-9 13-10 10-9 7-9 8-9 9-9 11-9 8-9 7-9 7-9 8-9 8-9 6-9 6-9 6-9 6-10 7-9 5-9 5-9 4-9 5-9 4-9 4-9 4-9 3-9 4-9 2-9 3-9 2-9 2-9 2-10 2-9 1-9 0-9 0-9 1-9 1-9-1-9-1-9-2-9 0-9 0-9-2-9-4-9-3-10-1-9-1-9-3-9-7-9-5-9-1-9-1-9-6-9-9-9-7-9-2-9-1-9-7-9-12-9-9-10-2-9-1-9-10-9-15-9-10-9-2-9-2-9-11-9-19-9-12-9-1-9-2-9-14-9-22-10-14-9-1-9-1-9-17-9-26-9-16-9 1-9-1-9-20-9-30-9-17-9 2-9-2-9-23-9-32-10-17z"/>
<path transform="translate(-434.1 -274.7)" d="M1385 7844l9 16 9 16 9 16 9 13 9 12 9 14 9 15 9 14 9 12 9 11 9 13 9 13 9 12 9 10 10 11 9 11 9 11 9 11 9 9 9 9 9 10 9 10 9 9 9 8 9 7 9 9 9 8 9 8 10 6 9 7 9 7 9 6 9 6 9 6 9 5 9 5 9 5 9 5 9 4 9 4 9 4 9 3 9 4 10 2 9 3 9 2 9 2 9 2 9 1 9 1 9 1 9 1 9 0 9 0 9 0 9-1 9 0 10-2 9-1 9-2 9-2 9-2 9-2 9-3 9-3 9-4 9-4 9-4 9-4 9-4 9-5 10-5 9-6 9-5 9-6 9-7 9-6 9-7 9-7 9-8 9-7 9-8 9-8 9-9 9-9 9-9 10-9 9-10 9-10 9-10 9-11 9-10 9-11 9-12 9-12 9-11 9-12 9-13 9-13 9-14 10-12 9-14 9-14 9-15 9-14 9-15 9-14 9-16 9-16 9-16 9-16 9-16 9-17 9-18 9-18 10-16 9-17 9-19 9-20 9-19 9-18 9-18 9-20 9-22 9-20 9-19 9-20 9-22 9-23 10-22 25 18-9 21-9 16-9 19-9 24-9 25-9 20-9 15-9 18-9 22-9 23-9 18-9 14-9 17-10 21-9 20-9 17-9 14-9 16-9 18-9 19-9 15-9 13-9 15-9 17-9 16-9 14-9 12-10 14-9 15-9 15-9 12-9 11-9 13-9 13-9 13-9 11-9 10-9 11-9 12-9 11-9 10-9 9-10 10-9 10-9 9-9 9-9 8-9 8-9 8-9 8-9 8-9 6-9 7-9 7-9 6-9 6-10 6-9 5-9 5-9 5-9 5-9 4-9 4-9 4-9 3-9 3-9 3-9 2-9 3-9 2-9 1-10 2-9 1-9 1-9 1-9 0-9-1-9 0-9 0-9-1-9-1-9-2-9-2-9-1-9-2-10-3-9-4-9-3-9-2-9-4-9-4-9-6-9-4-9-4-9-4-9-7-9-7-9-5-9-5-9-6-10-8-9-9-9-7-9-5-9-8-9-10-9-10-9-8-9-7-9-8-9-13-9-12-9-9-9-7-10-10-9-14-9-15-9-10-9-8-9-11-9-17-9-16-9-11-9-9-9-13-9-18-9-17-9-13-9-10-10-14z"/>
<path transform="translate(-421.1 -266.5)" d="M1385 7831l9 17 9 32 9 23 9 2 9-1 9 16 9 31 9 20 9 1 9-1 9 15 9 27 9 17 9 1 10 0 9 14 9 23 9 14 9 1 9 1 9 13 9 18 9 12 9 1 9 2 9 11 9 15 9 9 10 2 9 2 9 9 9 11 9 8 9 1 9 2 9 7 9 9 9 5 9 1 9 2 9 5 9 6 9 4 10 0 9 2 9 3 9 4 9 1 9 1 9 0 9 1 9 2 9 0 9 0 9-1 9 0 9-1 10-1 9-2 9-1 9-2 9-2 9-3 9-3 9-3 9-3 9-4 9-4 9-4 9-5 9-5 10-5 9-5 9-6 9-6 9-6 9-6 9-7 9-8 9-8 9-7 9-6 9-9 9-10 9-10 9-8 10-7 9-10 9-12 9-12 9-8 9-8 9-12 9-15 9-14 9-8 9-8 9-14 9-18 9-16 10-8 9-8 9-16 9-22 9-17 9-8 9-8 9-18 9-25 9-19 9-8 9-8 9-21 9-28 9-21 10-7 9-8 9-23 9-33 9-22 9-6 9-7 9-27 9-37 9-23 9-4 9-9 9-29 9-39 10-24 25 36-9 20-9 5-9 13-9 32-9 36-9 17-9 4-9 13-9 31-9 31-9 16-9 5-9 13-10 28-9 28-9 14-9 6-9 13-9 25-9 24-9 13-9 7-9 12-9 22-9 21-9 12-9 7-10 12-9 20-9 18-9 11-9 7-9 11-9 17-9 15-9 10-9 7-9 11-9 14-9 13-9 8-9 8-10 9-9 12-9 10-9 8-9 7-9 8-9 9-9 9-9 6-9 6-9 7-9 8-9 6-9 6-10 5-9 5-9 6-9 5-9 4-9 4-9 4-9 4-9 4-9 3-9 2-9 3-9 2-9 3-9 1-10 1-9 1-9 2-9 1-9-1-9 0-9-1-9 1-9 0-9-2-9-3-9-2-9 0-9-1-10-4-9-6-9-2-9-1-9-2-9-7-9-7-9-4-9-1-9-3-9-9-9-10-9-5-9-1-9-4-10-11-9-13-9-6-9 0-9-6-9-14-9-16-9-6-9 0-9-6-9-18-9-19-9-6-9 1-10-8-9-22-9-21-9-6-9 1-9-9-9-25-9-24-9-7-9 3-9-11-9-29-9-26-9-6-9 1-10-13z"/>
<path transform="translate(-408.1 -258.3)" d="M1385 7845l9 15 9 10 9 12 9 18 9 18 9 13 9 9 9 11 9 16 9 16 9 12 9 8 9 10 9 14 10 14 9 10 9 8 9 9 9 12 9 12 9 9 9 6 9 8 9 11 9 10 9 7 9 6 9 7 10 8 9 9 9 6 9 4 9 6 9 7 9 6 9 5 9 4 9 4 9 5 9 5 9 3 9 3 9 3 10 3 9 3 9 2 9 2 9 2 9 1 9 2 9 0 9 1 9 0 9 0 9 0 9-1 9 0 10-2 9-1 9-2 9-2 9-2 9-2 9-3 9-3 9-4 9-4 9-3 9-5 9-4 9-5 10-5 9-6 9-5 9-6 9-6 9-7 9-7 9-7 9-7 9-8 9-8 9-9 9-8 9-8 9-10 10-10 9-9 9-9 9-10 9-11 9-12 9-11 9-10 9-11 9-13 9-14 9-12 9-11 9-13 10-14 9-16 9-13 9-12 9-14 9-17 9-17 9-14 9-13 9-15 9-19 9-19 9-16 9-13 9-17 10-21 9-20 9-17 9-15 9-18 9-22 9-23 9-18 9-15 9-19 9-25 9-24 9-19 9-17 10-21 25 0-9 22-9 29-9 25-9 15-9 14-9 21-9 28-9 23-9 14-9 13-9 20-9 25-9 20-10 14-9 13-9 18-9 23-9 18-9 13-9 12-9 18-9 20-9 16-9 12-9 12-9 16-9 17-10 15-9 11-9 11-9 14-9 16-9 13-9 10-9 10-9 13-9 13-9 12-9 9-9 9-9 11-9 12-10 9-9 9-9 8-9 9-9 10-9 8-9 7-9 8-9 7-9 8-9 7-9 6-9 6-9 6-10 6-9 6-9 4-9 5-9 5-9 4-9 4-9 4-9 3-9 3-9 3-9 3-9 2-9 2-9 2-10 1-9 1-9 1-9 0-9 1-9 0-9 0-9-1-9-2-9 0-9-1-9-2-9-3-9-2-10-2-9-2-9-3-9-5-9-5-9-2-9-3-9-5-9-7-9-6-9-4-9-3-9-7-9-9-9-8-10-4-9-5-9-8-9-11-9-9-9-6-9-5-9-10-9-13-9-11-9-6-9-6-9-12-9-16-10-12-9-7-9-6-9-14-9-19-9-14-9-6-9-8-9-16-9-21-9-15-9-7-9-9-9-18-9-22-10-16z"/>
<path transform="translate(-395.2 -250.1)" d="M1385 7851l9 13 9-2 9 7 9 26 9 29 9 11 9-3 9 6 9 24 9 26 9 9 9-2 9 7 9 21 10 22 9 7 9-1 9 7 9 18 9 18 9 7 9 0 9 6 9 15 9 15 9 5 9 1 9 5 10 13 9 12 9 4 9 1 9 5 9 10 9 9 9 3 9 1 9 4 9 7 9 6 9 3 9 0 9 3 10 5 9 4 9 1 9 1 9 1 9 3 9 2 9 0 9 0 9 0 9 1 9 0 9-1 9-1 10-1 9-1 9-2 9-2 9-3 9-2 9-3 9-3 9-3 9-4 9-4 9-4 9-4 9-5 10-6 9-5 9-6 9-5 9-7 9-7 9-7 9-6 9-7 9-8 9-10 9-8 9-6 9-8 9-11 10-11 9-10 9-7 9-9 9-13 9-14 9-10 9-7 9-10 9-16 9-16 9-11 9-8 9-11 10-18 9-19 9-12 9-7 9-12 9-21 9-22 9-13 9-6 9-13 9-25 9-25 9-13 9-5 9-15 10-28 9-27 9-14 9-4 9-16 9-32 9-31 9-13 9-3 9-18 9-35 9-33 9-13 9-5 10-19 25-17-9 23-9 36-9 29-9 10-9 7-9 22-9 35-9 26-9 9-9 7-9 22-9 31-9 23-10 9-9 8-9 20-9 28-9 20-9 9-9 8-9 19-9 24-9 18-9 9-9 8-9 17-9 22-10 15-9 9-9 8-9 16-9 18-9 13-9 8-9 9-9 14-9 15-9 12-9 7-9 8-9 12-9 13-10 10-9 7-9 8-9 10-9 10-9 8-9 7-9 7-9 8-9 8-9 7-9 5-9 6-9 7-10 6-9 5-9 5-9 4-9 5-9 5-9 4-9 3-9 3-9 4-9 3-9 3-9 1-9 2-9 2-10 2-9 1-9 0-9 0-9 1-9 1-9 0-9-2-9-2-9 0-9 0-9-2-9-4-9-3-10-1-9 0-9-4-9-6-9-5-9-2-9-1-9-5-9-9-9-7-9-2-9-2-9-7-9-12-9-8-10-3-9-1-9-10-9-14-9-11-9-2-9-2-9-11-9-18-9-12-9-2-9-2-9-14-9-21-10-14-9-2-9-2-9-16-9-25-9-15-9-1-9-2-9-19-9-29-9-16-9 0-9-4-9-22-9-30-10-16z"/>
<path transform="translate(-382.2 -241.9)" d="M1385 7828l9 16 9 23 9 18 9 9 9 7 9 15 9 21 9 16 9 7 9 7 9 14 9 18 9 14 9 7 10 6 9 13 9 15 9 13 9 6 9 5 9 11 9 14 9 10 9 5 9 5 9 10 9 11 9 8 10 4 9 5 9 8 9 9 9 6 9 4 9 4 9 6 9 6 9 5 9 3 9 3 9 4 9 5 9 4 10 1 9 2 9 3 9 3 9 2 9 0 9 1 9 1 9 1 9 1 9-1 9 0 9-1 9 0 10-1 9-2 9-2 9-2 9-2 9-2 9-3 9-3 9-4 9-3 9-4 9-5 9-4 9-5 10-5 9-5 9-6 9-6 9-6 9-7 9-6 9-8 9-8 9-7 9-7 9-9 9-9 9-9 9-9 10-8 9-10 9-11 9-11 9-9 9-10 9-11 9-14 9-12 9-10 9-11 9-13 9-15 9-14 10-11 9-11 9-15 9-18 9-16 9-11 9-12 9-17 9-20 9-17 9-12 9-13 9-19 9-22 9-19 10-13 9-13 9-21 9-25 9-20 9-13 9-14 9-23 9-27 9-22 9-13 9-16 9-24 9-29 10-23 25 18-9 21-9 11-9 16-9 28-9 30-9 18-9 10-9 15-9 27-9 27-9 17-9 10-9 14-10 25-9 24-9 16-9 9-9 15-9 22-9 21-9 14-9 10-9 13-9 20-9 19-9 13-9 9-10 13-9 17-9 17-9 12-9 9-9 11-9 16-9 14-9 10-9 9-9 10-9 13-9 13-9 9-9 8-10 9-9 11-9 11-9 8-9 7-9 8-9 9-9 8-9 7-9 6-9 7-9 7-9 7-9 6-10 5-9 5-9 6-9 5-9 4-9 4-9 4-9 4-9 4-9 3-9 2-9 3-9 2-9 3-9 1-10 1-9 1-9 1-9 1-9 0-9-1-9 0-9 0-9 0-9-2-9-2-9-2-9 0-9-2-10-4-9-4-9-3-9-1-9-3-9-6-9-6-9-5-9-2-9-3-9-8-9-9-9-5-9-3-9-5-10-10-9-11-9-6-9-3-9-6-9-12-9-14-9-7-9-3-9-7-9-15-9-16-9-8-9-3-10-8-9-18-9-18-9-9-9-3-9-10-9-21-9-20-9-9-9-3-9-12-9-23-9-22-9-9-9-5-10-14z"/>
<path transform="translate(-369.3 -233.7)" d="M1385 7817l9 17 9 30 9 22 9 3 9 1 9 16 9 28 9 20 9 2 9 0 9 16 9 24 9 17 9 2 10 1 9 14 9 21 9 14 9 2 9 2 9 12 9 18 9 12 9 2 9 2 9 10 9 15 9 9 10 2 9 2 9 9 9 12 9 7 9 1 9 2 9 7 9 9 9 5 9 2 9 1 9 5 9 7 9 3 10 1 9 1 9 3 9 4 9 2 9 0 9 0 9 2 9 1 9 1 9-1 9-1 9 0 9 0 10-1 9-2 9-2 9-2 9-2 9-2 9-4 9-3 9-3 9-3 9-4 9-5 9-5 9-4 10-5 9-5 9-7 9-6 9-6 9-5 9-7 9-9 9-8 9-7 9-6 9-8 9-11 9-10 9-7 10-7 9-10 9-13 9-12 9-8 9-8 9-11 9-16 9-13 9-9 9-8 9-14 9-18 9-15 10-9 9-8 9-16 9-21 9-17 9-9 9-8 9-18 9-25 9-18 9-9 9-8 9-21 9-28 9-20 10-8 9-8 9-23 9-32 9-21 9-7 9-9 9-26 9-35 9-23 9-6 9-11 9-28 9-36 10-24 25 24-9 20-9 8-9 15-9 30-9 33-9 18-9 6-9 14-9 29-9 30-9 16-9 7-9 14-10 26-9 27-9 15-9 7-9 13-9 24-9 24-9 13-9 8-9 13-9 21-9 20-9 12-9 8-10 12-9 19-9 18-9 11-9 8-9 11-9 16-9 15-9 10-9 8-9 10-9 14-9 13-9 9-9 7-10 9-9 12-9 11-9 7-9 7-9 8-9 10-9 8-9 7-9 6-9 6-9 8-9 7-9 5-10 5-9 5-9 7-9 5-9 4-9 3-9 4-9 5-9 4-9 2-9 2-9 3-9 3-9 3-9 1-10 0-9 1-9 2-9 1-9 0-9-1-9-1-9 1-9 0-9-2-9-3-9-2-9 0-9-1-10-4-9-5-9-3-9-1-9-2-9-6-9-8-9-3-9-1-9-4-9-9-9-9-9-5-9-1-9-5-10-11-9-12-9-6-9-1-9-6-9-14-9-14-9-7-9-1-9-7-9-17-9-17-9-7-9-1-10-8-9-20-9-20-9-7-9 0-9-10-9-24-9-22-9-7-9 0-9-12-9-26-9-24-9-8-9-1-10-14z"/>
<path transform="translate(-356.3 -225.5)" d="M1385 7830l9 14 9 4 9 10 9 21 9 24 9 12 9 3 9 9 9 20 9 21 9 10 9 3 9 8 9 18 10 18 9 9 9 3 9 8 9 15 9 15 9 8 9 3 9 7 9 13 9 13 9 6 9 3 9 6 10 11 9 10 9 5 9 2 9 6 9 8 9 8 9 4 9 2 9 4 9 7 9 5 9 3 9 1 9 3 10 5 9 4 9 1 9 1 9 1 9 3 9 2 9 0 9 0 9 0 9 1 9 0 9-1 9-2 10-1 9 0 9-2 9-2 9-3 9-2 9-3 9-3 9-3 9-4 9-4 9-4 9-4 9-6 10-5 9-6 9-5 9-5 9-7 9-7 9-7 9-6 9-7 9-8 9-10 9-8 9-7 9-8 9-10 10-11 9-10 9-7 9-10 9-12 9-13 9-11 9-8 9-10 9-15 9-15 9-12 9-9 9-11 10-17 9-17 9-13 9-9 9-13 9-19 9-20 9-14 9-9 9-14 9-22 9-22 9-14 9-10 9-15 10-25 9-24 9-15 9-9 9-17 9-28 9-26 9-16 9-9 9-19 9-30 9-28 9-16 9-11 10-20 25-17-9 23-9 34-9 28-9 11-9 9-9 23-9 32-9 26-9 10-9 8-9 21-9 30-9 23-10 10-9 8-9 20-9 27-9 20-9 10-9 9-9 18-9 24-9 17-9 10-9 9-9 17-9 20-10 16-9 8-9 10-9 15-9 18-9 13-9 8-9 9-9 13-9 16-9 12-9 7-9 8-9 12-9 13-10 10-9 7-9 7-9 10-9 11-9 9-9 6-9 6-9 8-9 9-9 7-9 5-9 6-9 6-10 7-9 6-9 4-9 4-9 5-9 5-9 4-9 3-9 3-9 4-9 3-9 3-9 1-9 1-9 3-10 2-9 1-9 0-9 0-9 1-9 1-9 0-9-2-9-2-9 0-9 0-9-1-9-5-9-3-10-1-9 0-9-4-9-6-9-6-9-1-9-1-9-6-9-8-9-7-9-2-9-2-9-7-9-12-9-8-10-3-9-2-9-9-9-14-9-10-9-3-9-3-9-11-9-17-9-12-9-2-9-3-9-14-9-20-10-13-9-3-9-3-9-16-9-23-9-15-9-2-9-4-9-18-9-27-9-15-9-3-9-5-9-21-9-27-10-17z"/>
<path transform="translate(-343.4 -217.3)" d="M1385 7825l9 13 9 2 9 8 9 24 9 26 9 11 9 0 9 8 9 22 9 24 9 9 9 0 9 8 9 20 10 20 9 8 9 1 9 7 9 17 9 17 9 7 9 1 9 6 9 15 9 14 9 5 9 2 9 5 10 13 9 11 9 4 9 1 9 5 9 10 9 9 9 3 9 1 9 4 9 7 9 7 9 2 9 1 9 2 10 6 9 4 9 1 9 0 9 1 9 4 9 2 9 0 9-1 9 0 9 1 9 1 9-1 9-2 10-1 9-1 9-1 9-2 9-3 9-3 9-2 9-3 9-4 9-4 9-4 9-3 9-4 9-6 10-6 9-5 9-5 9-5 9-7 9-8 9-7 9-5 9-7 9-9 9-9 9-9 9-6 9-8 9-10 10-12 9-9 9-7 9-9 9-13 9-14 9-11 9-7 9-10 9-15 9-16 9-12 9-8 9-11 10-17 9-19 9-12 9-8 9-12 9-21 9-21 9-13 9-7 9-14 9-23 9-24 9-13 9-8 9-15 10-26 9-26 9-14 9-7 9-16 9-30 9-29 9-14 9-7 9-18 9-32 9-30 9-15 9-8 10-20 25-20-9 23-9 32-9 27-9 13-9 10-9 22-9 31-9 25-9 11-9 10-9 21-9 28-9 22-10 11-9 10-9 20-9 25-9 20-9 10-9 10-9 18-9 23-9 17-9 10-9 10-9 17-9 20-10 15-9 9-9 10-9 15-9 17-9 13-9 9-9 9-9 13-9 15-9 12-9 8-9 8-9 12-9 13-10 10-9 7-9 7-9 10-9 11-9 8-9 6-9 7-9 8-9 9-9 7-9 5-9 5-9 7-10 7-9 5-9 4-9 4-9 6-9 5-9 4-9 3-9 2-9 4-9 4-9 3-9 1-9 1-9 2-10 3-9 1-9 0-9-1-9 2-9 1-9 0-9-3-9-1-9 0-9 0-9-2-9-4-9-3-10-1-9-1-9-3-9-7-9-5-9-1-9-2-9-5-9-9-9-6-9-3-9-2-9-7-9-11-9-8-10-3-9-3-9-9-9-13-9-10-9-3-9-4-9-11-9-16-9-11-9-4-9-3-9-14-9-19-10-13-9-3-9-4-9-16-9-22-9-14-9-4-9-4-9-18-9-25-9-15-9-4-9-7-9-20-9-25-10-17z"/>
<path transform="translate(-330.4 -209.1)" d="M1385 7797l9 16 9 28 9 21 9 5 9 2 9 16 9 26 9 19 9 4 9 1 9 15 9 24 9 16 9 3 10 2 9 14 9 20 9 13 9 3 9 3 9 12 9 17 9 11 9 3 9 2 9 11 9 14 9 9 10 2 9 2 9 9 9 11 9 8 9 1 9 2 9 7 9 9 9 5 9 1 9 2 9 5 9 7 9 3 10 1 9 0 9 4 9 4 9 2 9 0 9 0 9 1 9 3 9 0 9-1 9-2 9 1 9 0 10-1 9-3 9-2 9-1 9-2 9-2 9-4 9-4 9-2 9-3 9-4 9-5 9-6 9-4 10-4 9-5 9-7 9-7 9-5 9-5 9-7 9-9 9-8 9-7 9-6 9-8 9-11 9-10 9-7 10-7 9-10 9-13 9-12 9-8 9-8 9-12 9-15 9-13 9-9 9-8 9-14 9-18 9-15 10-9 9-9 9-15 9-21 9-17 9-9 9-9 9-18 9-23 9-19 9-9 9-9 9-20 9-27 9-20 10-9 9-10 9-22 9-30 9-21 9-9 9-10 9-25 9-33 9-22 9-9 9-12 9-27 9-34 10-23 25 17-9 20-9 7-9 14-9 31-9 34-9 18-9 5-9 13-9 30-9 32-9 16-9 4-9 13-10 28-9 28-9 15-9 5-9 13-9 25-9 25-9 13-9 6-9 12-9 23-9 21-9 12-9 6-10 12-9 20-9 19-9 11-9 6-9 11-9 17-9 17-9 9-9 6-9 10-9 15-9 14-9 8-9 6-10 9-9 13-9 12-9 7-9 5-9 8-9 11-9 9-9 6-9 5-9 7-9 8-9 8-9 5-10 3-9 6-9 7-9 6-9 3-9 3-9 4-9 5-9 4-9 3-9 1-9 2-9 4-9 3-9 1-10-1-9 2-9 2-9 2-9-1-9-2-9 0-9 2-9 0-9-3-9-4-9-1-9 1-9-1-10-5-9-6-9-3-9 1-9-2-9-7-9-9-9-3-9 0-9-3-9-9-9-11-9-5-9 0-9-4-10-12-9-13-9-6-9 1-9-6-9-15-9-16-9-6-9 1-9-7-9-18-9-18-9-7-9 1-10-7-9-22-9-22-9-6-9 2-9-9-9-26-9-23-9-7-9 1-9-11-9-27-9-25-9-7-9-1-10-13z"/>
<path transform="translate(-317.4 -200.9)" d="M1385 7789l9 16 9 26 9 20 9 6 9 4 9 16 9 24 9 18 9 5 9 3 9 15 9 22 9 15 9 4 10 4 9 13 9 19 9 13 9 4 9 3 9 12 9 16 9 11 9 3 9 4 9 10 9 13 9 9 10 3 9 3 9 8 9 11 9 7 9 2 9 2 9 7 9 9 9 5 9 1 9 2 9 5 9 6 9 4 10 0 9 1 9 4 9 4 9 2 9-1 9 0 9 2 9 2 9 1 9-2 9-1 9 0 9 1 10-1 9-3 9-2 9-2 9-1 9-2 9-4 9-4 9-3 9-2 9-4 9-6 9-5 9-4 10-4 9-5 9-7 9-7 9-5 9-6 9-7 9-8 9-9 9-6 9-6 9-9 9-10 9-10 9-8 10-7 9-10 9-13 9-11 9-8 9-8 9-12 9-15 9-13 9-9 9-9 9-13 9-18 9-15 10-9 9-9 9-16 9-20 9-16 9-10 9-10 9-17 9-23 9-18 9-10 9-10 9-20 9-26 9-19 10-10 9-11 9-22 9-29 9-21 9-9 9-12 9-24 9-31 9-22 9-11 9-13 9-26 9-32 10-23 25 9-9 21-9 13-9 17-9 26-9 28-9 19-9 12-9 16-9 25-9 27-9 17-9 10-9 16-10 23-9 24-9 16-9 10-9 14-9 22-9 21-9 14-9 10-9 14-9 19-9 19-9 13-9 10-10 12-9 18-9 16-9 12-9 9-9 12-9 15-9 14-9 11-9 8-9 11-9 13-9 12-9 9-9 8-10 9-9 12-9 10-9 8-9 7-9 8-9 9-9 9-9 7-9 5-9 7-9 8-9 7-9 5-10 5-9 5-9 6-9 6-9 4-9 3-9 4-9 5-9 4-9 2-9 2-9 2-9 4-9 2-9 1-10 1-9 1-9 2-9 1-9 0-9-2-9 0-9 1-9 0-9-2-9-3-9-2-9 0-9-1-10-4-9-5-9-3-9-1-9-3-9-6-9-6-9-4-9-2-9-4-9-8-9-9-9-5-9-2-9-5-10-10-9-11-9-6-9-3-9-7-9-12-9-13-9-7-9-4-9-7-9-15-9-15-9-8-9-4-10-9-9-17-9-17-9-9-9-4-9-10-9-20-9-19-9-10-9-5-9-12-9-22-9-20-9-10-9-7-10-14z"/>
<path transform="translate(-304.5 -192.7)" d="M1385 7798l9 13 9 0 9 8 9 24 9 28 9 11 9-1 9 6 9 24 9 25 9 9 9-1 9 6 9 21 10 22 9 8 9-1 9 6 9 19 9 18 9 7 9-1 9 6 9 16 9 15 9 5 9 0 9 5 10 14 9 12 9 4 9 0 9 4 9 11 9 10 9 3 9-1 9 4 9 9 9 7 9 2 9-1 9 2 10 7 9 5 9 0 9-1 9 2 9 4 9 3 9-1 9-2 9 0 9 3 9 1 9-2 9-3 10-1 9 0 9 0 9-3 9-4 9-3 9-1 9-2 9-4 9-6 9-4 9-2 9-4 9-6 10-7 9-5 9-4 9-4 9-8 9-9 9-6 9-5 9-6 9-10 9-10 9-8 9-6 9-7 9-11 10-13 9-9 9-6 9-8 9-14 9-15 9-10 9-6 9-10 9-16 9-17 9-12 9-6 9-10 10-19 9-20 9-12 9-6 9-12 9-22 9-22 9-13 9-6 9-12 9-25 9-25 9-13 9-6 9-14 10-28 9-28 9-13 9-5 9-16 9-31 9-31 9-13 9-5 9-18 9-34 9-31 9-14 9-6 10-20 25-31-9 24-9 37-9 29-9 10-9 6-9 22-9 36-9 27-9 8-9 5-9 22-9 34-9 24-10 7-9 5-9 21-9 31-9 21-9 7-9 6-9 19-9 27-9 19-9 6-9 7-9 18-9 24-10 16-9 6-9 7-9 16-9 21-9 14-9 6-9 7-9 14-9 18-9 12-9 6-9 6-9 13-9 15-10 10-9 6-9 5-9 11-9 13-9 9-9 4-9 5-9 10-9 10-9 7-9 4-9 4-9 8-10 8-9 6-9 2-9 3-9 6-9 7-9 4-9 1-9 2-9 5-9 5-9 3-9-1-9 1-9 3-10 4-9 1-9-2-9-1-9 2-9 4-9-1-9-4-9-3-9 2-9 2-9-2-9-7-9-4-10 0-9 2-9-4-9-9-9-6-9 0-9 1-9-5-9-12-9-8-9 0-9 1-9-8-9-14-9-10-10 0-9 0-9-10-9-17-9-11-9 0-9 0-9-12-9-21-9-13-9 1-9 0-9-15-9-24-10-15-9 1-9 0-9-17-9-28-9-16-9 2-9-1-9-20-9-30-9-16-9 1-9-3-9-23-9-31-10-17z"/>
<path transform="translate(-291.5 -184.5)" d="M1385 7782l9 14 9 6 9 11 9 20 9 21 9 13 9 5 9 9 9 19 9 20 9 11 9 4 9 8 9 18 10 17 9 9 9 4 9 8 9 15 9 14 9 8 9 3 9 8 9 12 9 13 9 6 9 3 9 6 10 11 9 10 9 5 9 3 9 5 9 9 9 8 9 3 9 2 9 4 9 7 9 6 9 3 9 1 9 2 10 5 9 4 9 2 9 0 9 1 9 3 9 3 9 0 9-1 9 0 9 1 9 1 9-1 9-3 10-1 9 0 9-1 9-3 9-3 9-3 9-1 9-3 9-4 9-5 9-4 9-3 9-4 9-5 10-6 9-6 9-4 9-5 9-8 9-7 9-7 9-6 9-6 9-9 9-10 9-8 9-6 9-8 9-11 10-11 9-10 9-7 9-9 9-13 9-13 9-10 9-9 9-10 9-15 9-15 9-11 9-9 9-12 10-17 9-17 9-13 9-9 9-13 9-19 9-19 9-14 9-10 9-14 9-21 9-22 9-14 9-11 9-15 10-24 9-24 9-15 9-11 9-17 9-26 9-25 9-16 9-12 9-19 9-28 9-27 9-17 9-13 10-20 25-20-9 23-9 26-9 24-9 17-9 15-9 22-9 25-9 22-9 15-9 15-9 19-9 24-9 21-10 14-9 13-9 19-9 21-9 19-9 13-9 13-9 17-9 19-9 17-9 12-9 12-9 16-9 17-10 15-9 11-9 11-9 14-9 16-9 13-9 10-9 10-9 13-9 13-9 12-9 9-9 9-9 11-9 12-10 10-9 8-9 8-9 9-9 10-9 9-9 6-9 7-9 8-9 8-9 7-9 6-9 5-9 7-10 7-9 5-9 4-9 4-9 6-9 5-9 4-9 2-9 3-9 4-9 4-9 2-9 2-9 1-9 2-10 3-9 1-9 0-9-1-9 2-9 1-9-1-9-2-9-1-9 0-9 0-9-2-9-4-9-3-10-1-9-2-9-3-9-5-9-5-9-3-9-2-9-5-9-7-9-6-9-4-9-3-9-7-9-9-9-8-10-4-9-5-9-8-9-11-9-9-9-6-9-5-9-10-9-13-9-11-9-6-9-7-9-11-9-16-10-12-9-7-9-7-9-14-9-17-9-14-9-7-9-9-9-16-9-19-9-14-9-9-9-11-9-17-9-20-10-16z"/>
<path transform="translate(-278.6 -176.3)" d="M1385 7751l9 17 9 31 9 22 9 3 9 0 9 16 9 29 9 21 9 1 9-2 9 15 9 28 9 18 9 0 10-1 9 14 9 24 9 15 9 0 9 0 9 13 9 20 9 13 9-1 9 0 9 12 9 17 9 10 10 0 9 0 9 9 9 15 9 7 9 0 9 0 9 8 9 11 9 6 9-1 9 0 9 6 9 9 9 4 10-2 9-1 9 5 9 6 9 2 9-2 9-1 9 2 9 5 9 0 9-3 9-2 9 1 9 2 10-1 9-4 9-4 9 0 9 0 9-2 9-6 9-4 9-2 9-1 9-4 9-7 9-6 9-3 10-3 9-5 9-9 9-8 9-4 9-3 9-7 9-11 9-9 9-5 9-5 9-8 9-13 9-11 9-6 10-5 9-10 9-16 9-12 9-7 9-5 9-12 9-18 9-15 9-6 9-6 9-15 9-20 9-17 10-6 9-6 9-17 9-24 9-18 9-6 9-6 9-19 9-27 9-20 9-6 9-6 9-22 9-30 9-21 10-6 9-6 9-24 9-35 9-22 9-5 9-7 9-27 9-36 9-23 9-6 9-9 9-29 9-37 10-24 25 14-9 19-9 5-9 12-9 33-9 36-9 18-9 3-9 12-9 32-9 34-9 15-9 2-9 11-10 31-9 31-9 14-9 1-9 12-9 28-9 28-9 12-9 2-9 11-9 26-9 24-9 11-9 3-10 11-9 22-9 21-9 10-9 3-9 11-9 19-9 19-9 8-9 4-9 9-9 17-9 16-9 7-9 4-10 8-9 15-9 14-9 6-9 3-9 7-9 13-9 11-9 5-9 2-9 7-9 11-9 9-9 3-10 2-9 5-9 9-9 7-9 3-9 0-9 4-9 7-9 6-9 1-9-1-9 3-9 6-9 4-9-1-10-2-9 1-9 5-9 3-9-3-9-4-9 0-9 4-9 2-9-5-9-6-9-1-9 4-9 0-10-7-9-8-9-2-9 3-9-1-9-9-9-11-9-3-9 3-9-2-9-11-9-14-9-4-9 4-9-3-10-15-9-16-9-4-9 3-9-4-9-18-9-19-9-4-9 4-9-6-9-21-9-22-9-5-9 5-10-7-9-25-9-24-9-5-9 6-9-9-9-28-9-26-9-5-9 4-9-11-9-30-9-26-9-6-9 2-10-13z"/>
<path transform="translate(-265.6 -168.1)" d="M1385 7746l9 16 9 20 9 17 9 10 9 9 9 15 9 19 9 15 9 9 9 8 9 13 9 18 9 13 9 8 10 7 9 12 9 15 9 12 9 7 9 6 9 10 9 13 9 11 9 5 9 5 9 10 9 11 9 8 10 4 9 5 9 8 9 9 9 6 9 4 9 3 9 6 9 8 9 5 9 2 9 3 9 4 9 5 9 4 10 1 9 2 9 3 9 3 9 2 9 0 9 0 9 2 9 2 9 0 9-1 9-1 9 0 9 0 10-1 9-2 9-2 9-2 9-1 9-3 9-3 9-4 9-3 9-3 9-4 9-5 9-5 9-4 10-4 9-6 9-7 9-6 9-6 9-5 9-7 9-8 9-8 9-7 9-7 9-8 9-10 9-10 9-8 10-8 9-10 9-11 9-12 9-9 9-8 9-12 9-14 9-12 9-10 9-10 9-14 9-15 9-14 10-11 9-11 9-15 9-18 9-15 9-12 9-12 9-17 9-20 9-17 9-13 9-13 9-18 9-22 9-18 10-14 9-14 9-20 9-24 9-20 9-14 9-15 9-23 9-25 9-21 9-15 9-17 9-24 9-27 10-22 25-7-9 21-9 19-9 20-9 22-9 23-9 20-9 17-9 19-9 21-9 21-9 18-9 17-9 17-10 20-9 19-9 17-9 15-9 16-9 18-9 18-9 15-9 14-9 15-9 16-9 17-9 14-9 12-10 14-9 15-9 14-9 13-9 11-9 12-9 14-9 13-9 11-9 10-9 11-9 12-9 11-9 10-9 9-10 9-9 10-9 10-9 9-9 7-9 8-9 9-9 8-9 7-9 7-9 7-9 7-9 6-9 6-10 5-9 5-9 6-9 5-9 5-9 3-9 4-9 4-9 4-9 3-9 2-9 3-9 3-9 2-9 1-10 1-9 1-9 2-9 1-9-1-9 0-9 0-9 0-9-1-9-2-9-2-9-1-9-1-9-2-10-4-9-3-9-3-9-3-9-3-9-5-9-5-9-4-9-4-9-5-9-6-9-7-9-6-9-4-9-7-10-8-9-8-9-7-9-6-9-7-9-10-9-10-9-8-9-8-9-9-9-11-9-11-9-10-9-8-10-11-9-13-9-13-9-11-9-9-9-12-9-15-9-14-9-12-9-11-9-14-9-16-9-16-9-13-9-13-10-14z"/>
<path transform="translate(-252.7 -159.9)" d="M1385 7748l9 14 9-3 9 7 9 26 9 29 9 11 9-3 9 5 9 25 9 28 9 9 9-5 9 5 9 24 10 25 9 7 9-5 9 5 9 21 9 22 9 5 9-4 9 5 9 19 9 17 9 5 9-4 9 5 10 16 9 14 9 3 9-3 9 4 9 13 9 12 9 2 9-3 9 3 9 11 9 9 9 0 9-3 9 3 10 8 9 7 9-1 9-3 9 1 9 6 9 5 9-2 9-4 9 0 9 4 9 3 9-3 9-5 10-2 9 3 9 1 9-5 9-6 9-2 9 1 9-1 9-6 9-7 9-4 9-1 9-2 9-7 10-9 9-5 9-2 9-4 9-9 9-10 9-7 9-2 9-5 9-11 9-13 9-8 9-3 9-6 9-13 10-15 9-9 9-3 9-7 9-16 9-17 9-10 9-3 9-9 9-18 9-20 9-10 9-4 9-9 10-21 9-23 9-11 9-3 9-10 9-25 9-25 9-11 9-3 9-12 9-28 9-28 9-11 9-2 9-13 10-32 9-31 9-11 9-1 9-16 9-34 9-32 9-12 9-2 9-18 9-36 9-33 9-13 9-4 10-20 25-41-9 24-9 39-9 30-9 8-9 5-9 22-9 38-9 28-9 6-9 3-9 23-9 36-9 25-10 5-9 2-9 22-9 34-9 23-9 4-9 3-9 20-9 31-9 19-9 4-9 5-9 18-9 27-10 17-9 4-9 5-9 17-9 23-9 15-9 4-9 5-9 15-9 20-9 13-9 4-9 4-9 14-9 18-10 10-9 3-9 4-9 12-9 16-9 9-9 2-9 3-9 11-9 13-9 7-9 1-9 3-9 9-10 11-9 5-9 1-9 1-9 8-9 9-9 4-9-1-9 0-9 6-9 8-9 2-9-2-9-1-9 5-10 6-9 1-9-4-9-3-9 4-9 5-9-1-9-6-9-4-9 3-9 5-9-3-9-9-9-5-10 2-9 4-9-4-9-12-9-7-9 2-9 3-9-6-9-14-9-9-9 2-9 3-9-8-9-17-9-11-10 2-9 3-9-11-9-20-9-13-9 3-9 2-9-13-9-24-9-13-9 3-9 2-9-16-9-27-10-15-9 4-9 2-9-19-9-30-9-16-9 3-9 0-9-21-9-31-9-16-9 2-9-2-9-23-9-32-10-18z"/>
<path transform="translate(-239.7 -151.7)" d="M1385 7722l9 15 9 12 9 14 9 16 9 16 9 13 9 11 9 12 9 15 9 15 9 11 9 10 9 11 9 13 10 13 9 10 9 9 9 9 9 12 9 11 9 9 9 7 9 9 9 9 9 10 9 8 9 6 9 7 10 8 9 8 9 6 9 5 9 6 9 7 9 6 9 5 9 3 9 5 9 5 9 5 9 3 9 2 9 3 10 4 9 3 9 2 9 1 9 2 9 2 9 2 9 0 9 0 9 0 9 1 9 0 9-1 9-1 10-1 9-1 9-1 9-3 9-3 9-2 9-2 9-3 9-4 9-4 9-4 9-4 9-4 9-5 10-6 9-5 9-5 9-6 9-7 9-7 9-7 9-6 9-7 9-8 9-9 9-8 9-8 9-8 9-10 10-10 9-10 9-9 9-9 9-12 9-11 9-11 9-11 9-11 9-13 9-13 9-12 9-12 9-12 10-15 9-15 9-13 9-13 9-14 9-16 9-16 9-15 9-14 9-15 9-18 9-18 9-16 9-15 9-17 10-20 9-19 9-18 9-16 9-18 9-21 9-21 9-19 9-18 9-20 9-22 9-23 9-19 9-20 10-21 25-18-9 22-9 20-9 21-9 21-9 21-9 20-9 20-9 19-9 20-9 20-9 18-9 18-9 18-10 18-9 19-9 17-9 16-9 17-9 17-9 17-9 15-9 15-9 15-9 16-9 15-9 15-9 13-10 14-9 14-9 14-9 13-9 12-9 13-9 12-9 13-9 11-9 11-9 11-9 11-9 11-9 10-9 10-10 9-9 10-9 9-9 9-9 8-9 8-9 9-9 8-9 7-9 7-9 6-9 7-9 7-9 5-10 6-9 5-9 6-9 5-9 4-9 4-9 4-9 4-9 3-9 3-9 3-9 3-9 2-9 2-9 2-10 1-9 1-9 1-9 1-9 0-9 0-9-1-9 0-9-1-9-1-9-2-9-1-9-2-9-2-10-3-9-3-9-3-9-3-9-4-9-4-9-5-9-4-9-5-9-5-9-6-9-6-9-6-9-5-9-7-10-7-9-8-9-7-9-7-9-8-9-9-9-9-9-8-9-9-9-9-9-10-9-11-9-10-9-10-10-10-9-12-9-12-9-11-9-12-9-12-9-13-9-13-9-13-9-13-9-13-9-15-9-15-9-14-9-14-10-15z"/>
<path transform="translate(-226.7 -143.5)" d="M1385 7691l9 17 9 33 9 23 9 2 9-2 9 16 9 31 9 21 9 0 9-3 9 16 9 29 9 19 9-2 10-4 9 15 9 28 9 16 9-3 9-3 9 14 9 24 9 13 9-3 9-2 9 12 9 21 9 10 10-2 9-2 9 10 9 17 9 9 9-3 9-2 9 9 9 14 9 6 9-3 9-2 9 7 9 11 9 5 10-4 9-3 9 6 9 9 9 2 9-4 9-3 9 4 9 6 9 1 9-5 9-4 9 2 9 5 10-1 9-7 9-5 9 1 9 3 9-2 9-8 9-6 9-1 9 1 9-4 9-9 9-7 9-2 10 0 9-6 9-11 9-8 9-3 9-1 9-8 9-13 9-10 9-4 9-2 9-9 9-15 9-12 9-4 10-3 9-11 9-18 9-13 9-5 9-3 9-13 9-20 9-16 9-5 9-3 9-15 9-24 9-17 10-4 9-4 9-17 9-27 9-19 9-4 9-4 9-20 9-30 9-20 9-4 9-4 9-22 9-34 9-22 10-2 9-5 9-25 9-37 9-22 9-3 9-7 9-27 9-38 9-23 9-4 9-9 9-29 9-39 10-24 25 7-9 20-9 4-9 12-9 33-9 37-9 17-9 3-9 12-9 32-9 34-9 16-9 1-9 11-10 31-9 33-9 13-9-1-9 11-9 30-9 30-9 11-9 0-9 11-9 27-9 26-9 10-9 1-10 10-9 24-9 23-9 9-9 1-9 10-9 22-9 20-9 7-9 1-9 9-9 20-9 17-9 6-9 2-10 8-9 17-9 15-9 5-9 0-9 8-9 15-9 12-9 4-9 0-9 6-9 13-9 11-9 2-10 0-9 5-9 11-9 9-9 1-9-2-9 4-9 9-9 7-9 0-9-3-9 2-9 9-9 5-9-2-10-5-9 2-9 7-9 4-9-4-9-6-9 0-9 6-9 3-9-6-9-8-9-1-9 6-9 1-10-8-9-11-9-1-9 5-9 0-9-11-9-12-9-3-9 5-9 0-9-14-9-15-9-4-9 6-9-2-10-17-9-18-9-4-9 6-9-3-9-20-9-20-9-4-9 6-9-5-9-23-9-24-9-4-9 8-10-7-9-27-9-24-9-5-9 6-9-9-9-28-9-26-9-5-9 4-9-11-9-30-9-26-9-6-9 2-10-13z"/>
<path transform="translate(-213.8 -135.3)" d="M1385 7688l9 15 9 14 9 14 9 15 9 14 9 14 9 12 9 13 9 14 9 13 9 12 9 11 9 12 9 12 10 11 9 11 9 10 9 10 9 10 9 11 9 9 9 8 9 9 9 9 9 9 9 8 9 7 9 7 10 8 9 7 9 6 9 6 9 6 9 6 9 6 9 5 9 4 9 5 9 4 9 5 9 3 9 3 9 3 10 4 9 2 9 3 9 1 9 2 9 2 9 1 9 1 9 0 9 0 9 1 9-1 9 0 9-1 10-1 9-2 9-1 9-2 9-3 9-2 9-3 9-3 9-3 9-4 9-4 9-4 9-5 9-5 10-5 9-6 9-5 9-6 9-6 9-7 9-7 9-7 9-7 9-8 9-8 9-8 9-8 9-9 9-9 10-10 9-10 9-9 9-10 9-11 9-11 9-11 9-11 9-12 9-12 9-13 9-12 9-12 9-13 10-14 9-14 9-14 9-14 9-14 9-15 9-16 9-15 9-15 9-16 9-17 9-17 9-16 9-17 9-17 10-18 9-19 9-18 9-17 9-19 9-20 9-20 9-19 9-19 9-20 9-21 9-22 9-20 9-21 10-21 25-25-9 22-9 25-9 23-9 18-9 17-9 21-9 24-9 22-9 16-9 16-9 19-9 23-9 19-10 15-9 15-9 18-9 21-9 18-9 14-9 13-9 17-9 19-9 17-9 12-9 12-9 15-9 18-10 15-9 11-9 11-9 14-9 16-9 13-9 10-9 10-9 12-9 14-9 12-9 9-9 8-9 12-9 12-10 10-9 7-9 8-9 10-9 10-9 9-9 6-9 6-9 9-9 9-9 7-9 4-9 6-9 6-10 8-9 5-9 4-9 4-9 5-9 6-9 4-9 2-9 3-9 4-9 4-9 2-9 1-9 1-9 3-10 3-9 1-9-1-9 0-9 1-9 2-9-1-9-2-9-2-9 0-9 1-9-2-9-4-9-4-10-1-9-1-9-3-9-6-9-4-9-3-9-2-9-5-9-7-9-7-9-3-9-3-9-7-9-9-9-8-10-4-9-5-9-8-9-11-9-9-9-6-9-5-9-10-9-13-9-11-9-6-9-7-9-12-9-15-10-11-9-8-9-8-9-14-9-16-9-13-9-9-9-10-9-15-9-17-9-14-9-11-9-11-9-17-9-18-10-16z"/>
<path transform="translate(-200.8 -127.1)" d="M1385 7682l9 13 9-3 9 6 9 27 9 30 9 11 9-4 9 5 9 26 9 28 9 9 9-6 9 4 9 25 10 26 9 7 9-7 9 4 9 24 9 23 9 5 9-7 9 4 9 21 9 20 9 3 9-6 9 4 10 18 9 16 9 3 9-6 9 3 9 16 9 13 9 1 9-5 9 2 9 13 9 11 9 0 9-6 9 2 10 10 9 9 9-2 9-6 9 1 9 9 9 6 9-3 9-6 9-1 9 7 9 4 9-4 9-8 10-1 9 5 9 2 9-6 9-8 9-3 9 3 9 1 9-7 9-10 9-4 9 2 9-1 9-9 10-11 9-5 9 1 9-2 9-11 9-13 9-6 9 0 9-4 9-13 9-15 9-7 9-1 9-5 9-15 10-17 9-8 9-1 9-6 9-18 9-19 9-9 9-1 9-8 9-20 9-22 9-9 9-1 9-9 10-23 9-25 9-10 9 0 9-10 9-27 9-27 9-10 9 0 9-12 9-30 9-29 9-11 9 1 9-14 10-33 9-31 9-11 9-1 9-15 9-35 9-32 9-12 9-2 9-18 9-36 9-33 9-13 9-4 10-19 25-49-9 24-9 38-9 29-9 9-9 6-9 22-9 37-9 27-9 7-9 4-9 23-9 35-9 25-10 5-9 3-9 22-9 34-9 23-9 3-9 2-9 21-9 32-9 20-9 3-9 2-9 20-9 28-10 18-9 2-9 3-9 18-9 26-9 15-9 2-9 3-9 16-9 23-9 13-9 2-9 3-9 14-9 20-10 11-9 1-9 3-9 13-9 17-9 10-9 0-9 2-9 11-9 15-9 8-9-1-9 1-9 10-10 14-9 5-9-2-9 1-9 8-9 12-9 4-9-4-9 0-9 7-9 10-9 2-9-5-9-2-9 7-10 8-9 1-9-7-9-3-9 5-9 7-9-1-9-8-9-5-9 4-9 7-9-3-9-11-9-7-10 4-9 6-9-5-9-13-9-8-9 3-9 5-9-6-9-16-9-10-9 3-9 5-9-9-9-19-9-11-10 3-9 5-9-12-9-22-9-13-9 4-9 4-9-14-9-25-9-14-9 4-9 3-9-16-9-28-10-15-9 4-9 1-9-18-9-29-9-16-9 3-9-1-9-21-9-30-9-16-9 1-9-2-9-23-9-32-10-17z"/>
<path transform="translate(-187.9 -118.9)" d="M1385 7647l9 15 9 19 9 16 9 12 9 10 9 15 9 17 9 15 9 10 9 9 9 13 9 16 9 13 9 9 10 7 9 12 9 15 9 11 9 7 9 7 9 10 9 13 9 10 9 6 9 5 9 9 9 11 9 9 10 4 9 5 9 7 9 10 9 6 9 4 9 3 9 6 9 8 9 5 9 2 9 2 9 5 9 5 9 4 10 1 9 1 9 3 9 4 9 2 9 0 9 0 9 2 9 2 9 0 9-1 9-2 9 1 9 1 10-1 9-3 9-3 9-1 9-1 9-2 9-5 9-4 9-2 9-2 9-4 9-6 9-6 9-4 10-3 9-6 9-7 9-7 9-5 9-5 9-7 9-9 9-8 9-6 9-7 9-8 9-11 9-9 9-8 10-8 9-10 9-12 9-11 9-9 9-9 9-11 9-14 9-13 9-10 9-10 9-13 9-15 9-15 10-11 9-11 9-15 9-17 9-16 9-12 9-12 9-16 9-20 9-17 9-13 9-13 9-18 9-22 9-18 10-14 9-15 9-20 9-22 9-20 9-15 9-17 9-21 9-24 9-21 9-17 9-18 9-23 9-25 10-22 25-17-9 21-9 14-9 18-9 26-9 26-9 20-9 12-9 17-9 24-9 26-9 17-9 12-9 15-10 23-9 24-9 16-9 10-9 14-9 22-9 22-9 14-9 9-9 13-9 20-9 21-9 12-9 8-10 12-9 19-9 18-9 11-9 7-9 11-9 17-9 16-9 9-9 7-9 10-9 15-9 14-9 8-9 6-10 9-9 13-9 12-9 7-9 4-9 8-9 12-9 10-9 5-9 4-9 6-9 10-9 9-9 4-10 2-9 5-9 9-9 7-9 2-9 1-9 4-9 7-9 5-9 2-9-1-9 3-9 5-9 4-9 0-10-2-9 1-9 5-9 2-9-2-9-3-9 0-9 3-9 1-9-4-9-5-9-1-9 2-9-1-10-5-9-7-9-2-9 1-9-2-9-7-9-9-9-3-9 0-9-3-9-10-9-10-9-5-9-1-9-4-10-11-9-13-9-5-9-2-9-6-9-13-9-14-9-7-9-2-9-7-9-16-9-16-9-7-9-4-10-9-9-17-9-17-9-9-9-5-9-11-9-18-9-18-9-10-9-7-9-12-9-21-9-19-9-11-9-8-10-14z"/>
<path transform="translate(-174.9 -110.7)" d="M1385 7617l9 17 9 32 9 22 9 3 9-2 9 17 9 30 9 21 9 0 9-2 9 15 9 29 9 19 9-1 10-4 9 15 9 27 9 17 9-3 9-5 9 14 9 26 9 14 9-4 9-4 9 13 9 22 9 11 10-4 9-4 9 12 9 19 9 9 9-5 9-4 9 10 9 16 9 7 9-5 9-4 9 8 9 14 9 5 10-6 9-4 9 6 9 11 9 3 9-6 9-5 9 5 9 9 9 1 9-7 9-6 9 4 9 6 10 0 9-9 9-6 9 2 9 5 9-3 9-9 9-8 9 1 9 3 9-4 9-11 9-9 9 0 10 2 9-6 9-13 9-10 9-1 9 1 9-8 9-15 9-12 9-2 9 0 9-9 9-17 9-14 9-2 10-1 9-11 9-20 9-15 9-3 9-1 9-13 9-23 9-16 9-3 9-2 9-16 9-25 9-18 10-3 9-2 9-18 9-29 9-19 9-3 9-2 9-21 9-32 9-20 9-2 9-4 9-23 9-34 9-21 10-3 9-5 9-26 9-35 9-22 9-4 9-7 9-27 9-37 9-23 9-5 9-9 9-29 9-38 10-24 25-3-9 20-9 6-9 14-9 31-9 35-9 18-9 4-9 13-9 30-9 33-9 16-9 3-9 12-10 29-9 32-9 13-9 2-9 11-9 28-9 30-9 11-9 0-9 11-9 27-9 27-9 10-9 0-10 9-9 26-9 24-9 8-9 0-9 9-9 23-9 21-9 7-9 0-9 9-9 20-9 19-9 6-9-1-10 8-9 18-9 17-9 4-9-1-9 7-9 16-9 14-9 3-9-2-9 6-9 15-9 12-9 1-10-2-9 5-9 13-9 10-9 0-9-4-9 4-9 11-9 8-9-1-9-5-9 3-9 10-9 6-9-3-10-7-9 2-9 9-9 5-9-5-9-8-9 0-9 8-9 4-9-7-9-10-9-1-9 8-9 2-10-10-9-11-9-2-9 7-9 1-9-12-9-14-9-2-9 7-9-1-9-15-9-16-9-3-9 7-9-2-10-17-9-19-9-4-9 7-9-3-9-20-9-21-9-4-9 6-9-5-9-23-9-22-9-4-9 5-10-7-9-25-9-23-9-5-9 3-9-9-9-26-9-24-9-7-9 2-9-11-9-28-9-25-9-7-9 1-10-14z"/>
<path transform="translate(-162 -102.5)" d="M1385 7614l9 14 9 8 9 11 9 19 9 20 9 13 9 6 9 10 9 18 9 19 9 11 9 5 9 9 9 16 10 18 9 9 9 3 9 8 9 16 9 15 9 8 9 2 9 6 9 14 9 14 9 6 9 1 9 6 10 12 9 12 9 4 9 1 9 4 9 11 9 9 9 3 9 0 9 4 9 8 9 8 9 1 9-1 9 3 10 6 9 6 9 0 9-2 9 2 9 5 9 3 9-1 9-3 9 0 9 4 9 2 9-3 9-4 10-1 9 1 9 1 9-4 9-6 9-2 9 0 9-1 9-5 9-7 9-4 9-1 9-3 9-7 10-8 9-5 9-3 9-4 9-8 9-10 9-7 9-3 9-6 9-10 9-11 9-8 9-5 9-7 9-12 10-13 9-9 9-5 9-9 9-13 9-15 9-11 9-6 9-10 9-15 9-17 9-11 9-8 9-11 10-18 9-18 9-13 9-7 9-13 9-20 9-21 9-13 9-8 9-14 9-23 9-22 9-14 9-10 9-15 10-24 9-23 9-16 9-11 9-18 9-25 9-24 9-17 9-13 9-19 9-27 9-25 9-18 9-15 10-20 25-42-9 23-9 31-9 26-9 14-9 11-9 22-9 30-9 24-9 12-9 11-9 20-9 29-9 22-10 10-9 10-9 19-9 27-9 21-9 8-9 8-9 19-9 25-9 19-9 7-9 7-9 18-9 24-10 16-9 6-9 6-9 17-9 21-9 15-9 5-9 6-9 15-9 19-9 12-9 5-9 5-9 13-9 17-10 11-9 3-9 5-9 12-9 15-9 9-9 2-9 3-9 11-9 13-9 7-9 1-9 3-9 9-10 11-9 6-9-1-9 2-9 8-9 9-9 4-9-1-9 0-9 6-9 8-9 3-9-3-9-2-9 6-10 6-9 1-9-5-9-2-9 4-9 5-9 0-9-7-9-4-9 3-9 4-9-2-9-9-9-5-10 2-9 4-9-5-9-10-9-7-9 1-9 3-9-7-9-12-9-9-9 1-9 2-9-8-9-15-9-10-10 0-9 1-9-10-9-18-9-11-9 0-9-1-9-12-9-19-9-12-9-2-9-2-9-14-9-20-10-13-9-3-9-4-9-16-9-22-9-14-9-4-9-5-9-18-9-23-9-15-9-5-9-8-9-19-9-24-10-17z"/>
<path transform="translate(-149 -94.3)" d="M1385 7598l9 13 9 0 9 7 9 25 9 28 9 11 9-2 9 6 9 24 9 27 9 9 9-4 9 6 9 23 10 24 9 7 9-5 9 5 9 22 9 23 9 5 9-7 9 4 9 21 9 21 9 3 9-7 9 3 10 19 9 18 9 2 9-7 9 3 9 16 9 15 9 0 9-7 9 3 9 14 9 12 9-1 9-7 9 1 10 12 9 10 9-3 9-7 9 0 9 10 9 8 9-4 9-8 9-1 9 8 9 6 9-5 9-9 10-2 9 6 9 4 9-7 9-10 9-3 9 5 9 2 9-8 9-12 9-3 9 3 9 0 9-10 10-13 9-5 9 3 9-2 9-11 9-15 9-6 9 2 9-3 9-14 9-16 9-8 9 1 9-4 9-16 10-18 9-8 9 0 9-5 9-19 9-21 9-8 9 0 9-7 9-21 9-23 9-10 9 1 9-8 10-25 9-25 9-10 9 1 9-10 9-27 9-28 9-10 9 0 9-12 9-29 9-29 9-11 9-1 9-14 10-31 9-30 9-11 9-3 9-16 9-33 9-31 9-12 9-5 9-18 9-34 9-32 9-13 9-6 10-20 25-53-9 23-9 35-9 28-9 11-9 8-9 23-9 33-9 26-9 10-9 6-9 22-9 32-9 24-10 8-9 5-9 21-9 31-9 22-9 6-9 4-9 20-9 29-9 20-9 4-9 4-9 19-9 28-10 18-9 2-9 3-9 18-9 25-9 16-9 2-9 2-9 17-9 23-9 13-9 1-9 3-9 15-9 20-10 12-9 0-9 2-9 13-9 18-9 10-9-1-9 1-9 13-9 16-9 7-9-1-9 0-9 11-10 14-9 6-9-3-9-1-9 10-9 12-9 4-9-4-9-2-9 8-9 11-9 3-9-6-9-3-9 7-10 9-9 1-9-8-9-4-9 6-9 9-9-2-9-9-9-6-9 6-9 7-9-3-9-12-9-7-10 5-9 6-9-5-9-14-9-8-9 4-9 5-9-7-9-16-9-10-9 4-9 5-9-9-9-20-9-11-10 4-9 4-9-11-9-22-9-12-9 3-9 2-9-13-9-23-9-13-9 2-9 0-9-15-9-24-10-15-9 1-9-1-9-17-9-26-9-15-9 0-9-3-9-19-9-27-9-16-9-2-9-4-9-22-9-28-10-17z"/>
<path transform="translate(-136 -86.1)" d="M1385 7556l9 16 9 25 9 19 9 7 9 5 9 16 9 23 9 17 9 6 9 4 9 14 9 22 9 16 9 4 10 2 9 13 9 21 9 14 9 2 9 2 9 12 9 19 9 12 9 0 9 1 9 11 9 17 9 10 10 0 9-1 9 10 9 15 9 8 9-1 9-1 9 8 9 13 9 6 9-2 9-2 9 7 9 11 9 4 10-3 9-2 9 5 9 9 9 2 9-4 9-3 9 4 9 6 9 1 9-5 9-5 9 3 9 5 10-1 9-7 9-5 9 1 9 3 9-2 9-8 9-7 9 0 9 2 9-4 9-10 9-8 9-1 10 0 9-5 9-12 9-9 9-2 9-1 9-8 9-13 9-10 9-4 9-2 9-9 9-15 9-12 9-4 10-3 9-11 9-17 9-14 9-5 9-4 9-13 9-19 9-15 9-5 9-6 9-14 9-22 9-16 10-6 9-6 9-17 9-24 9-17 9-7 9-7 9-19 9-25 9-19 9-8 9-9 9-20 9-27 9-20 10-9 9-11 9-22 9-28 9-21 9-10 9-12 9-25 9-29 9-22 9-12 9-14 9-25 9-31 10-23 25-16-9 20-9 9-9 15-9 29-9 32-9 18-9 8-9 14-9 29-9 29-9 17-9 6-9 13-10 27-9 29-9 14-9 5-9 12-9 26-9 27-9 12-9 4-9 11-9 25-9 25-9 11-9 1-10 11-9 24-9 23-9 8-9 1-9 10-9 22-9 21-9 7-9 0-9 9-9 20-9 18-9 6-9 0-10 8-9 18-9 16-9 5-9-1-9 7-9 16-9 14-9 3-9-2-9 6-9 15-9 12-9 1-10-2-9 5-9 12-9 10-9 0-9-3-9 4-9 11-9 8-9-1-9-5-9 2-9 10-9 7-9-3-10-7-9 2-9 9-9 5-9-5-9-8-9 0-9 8-9 4-9-8-9-9-9-1-9 7-9 3-10-10-9-11-9-2-9 7-9 0-9-11-9-14-9-2-9 6-9-1-9-14-9-15-9-4-9 6-9-2-10-17-9-17-9-4-9 5-9-4-9-19-9-18-9-5-9 3-9-6-9-20-9-19-9-6-9 2-10-8-9-22-9-21-9-6-9 0-9-10-9-23-9-22-9-8-9-1-9-12-9-25-9-22-9-9-9-3-10-13z"/>
<path transform="translate(-123.1 -77.9)" d="M1385 7529l9 17 9 28 9 21 9 5 9 1 9 16 9 27 9 20 9 2 9 1 9 15 9 26 9 17 9 1 10-1 9 14 9 25 9 15 9-1 9-2 9 13 9 23 9 14 9-3 9-3 9 13 9 21 9 12 10-5 9-3 9 11 9 19 9 9 9-5 9-3 9 10 9 16 9 7 9-6 9-4 9 9 9 14 9 5 10-7 9-4 9 7 9 11 9 3 9-7 9-5 9 5 9 10 9 1 9-8 9-6 9 4 9 8 10-1 9-10 9-7 9 3 9 6 9-2 9-11 9-8 9 1 9 5 9-4 9-13 9-9 9 0 10 3 9-6 9-14 9-10 9-1 9 2 9-8 9-16 9-12 9-1 9 1 9-10 9-18 9-14 9-2 10 0 9-11 9-21 9-15 9-2 9-1 9-14 9-23 9-16 9-3 9-1 9-16 9-26 9-18 10-2 9-3 9-18 9-28 9-19 9-3 9-4 9-20 9-30 9-19 9-5 9-6 9-22 9-31 9-20 10-6 9-7 9-24 9-33 9-21 9-7 9-9 9-26 9-34 9-22 9-8 9-11 9-28 9-35 10-23 25-16-9 20-9 10-9 16-9 29-9 30-9 19-9 8-9 15-9 28-9 29-9 16-9 7-9 14-10 26-9 28-9 15-9 5-9 13-9 25-9 26-9 13-9 4-9 12-9 24-9 24-9 11-9 3-10 10-9 23-9 23-9 9-9 1-9 10-9 22-9 21-9 7-9 0-9 9-9 20-9 18-9 6-9 0-10 8-9 18-9 16-9 4-9 0-9 7-9 16-9 14-9 3-9-2-9 6-9 15-9 12-9 1-10-3-9 5-9 13-9 11-9-1-9-3-9 3-9 12-9 8-9-1-9-6-9 3-9 10-9 7-9-3-10-7-9 2-9 9-9 5-9-5-9-9-9 1-9 8-9 4-9-8-9-9-9-1-9 7-9 3-10-10-9-11-9-2-9 7-9 0-9-11-9-14-9-2-9 6-9-1-9-14-9-15-9-3-9 5-9-3-10-16-9-16-9-4-9 4-9-5-9-18-9-18-9-4-9 2-9-6-9-20-9-19-9-6-9 1-10-8-9-21-9-20-9-7-9 0-9-10-9-23-9-21-9-8-9-2-9-12-9-25-9-22-9-9-9-3-10-14z"/>
<path transform="translate(-110.1 -69.7)" d="M1385 7523l9 14 9 3 9 8 9 23 9 25 9 12 9 1 9 8 9 21 9 24 9 10 9-1 9 7 9 21 10 21 9 8 9-1 9 5 9 20 9 20 9 6 9-3 9 5 9 18 9 18 9 5 9-5 9 4 10 17 9 17 9 2 9-6 9 3 9 16 9 14 9 1 9-7 9 3 9 13 9 12 9-1 9-6 9 1 10 12 9 9 9-2 9-7 9 0 9 10 9 7 9-3 9-8 9-1 9 8 9 5 9-5 9-9 10-1 9 6 9 4 9-7 9-10 9-3 9 5 9 2 9-8 9-12 9-4 9 4 9 0 9-10 10-13 9-5 9 3 9-2 9-12 9-14 9-6 9 1 9-3 9-13 9-17 9-7 9 1 9-4 9-16 10-18 9-8 9 0 9-6 9-18 9-20 9-9 9-1 9-7 9-20 9-23 9-9 9-1 9-9 10-23 9-24 9-10 9-2 9-11 9-24 9-25 9-12 9-3 9-13 9-26 9-26 9-12 9-5 9-15 10-28 9-27 9-13 9-7 9-16 9-30 9-28 9-14 9-8 9-18 9-32 9-29 9-15 9-10 10-20 25-56-9 23-9 36-9 28-9 10-9 8-9 22-9 34-9 27-9 8-9 7-9 21-9 33-9 24-10 8-9 5-9 20-9 32-9 22-9 5-9 5-9 19-9 30-9 21-9 3-9 3-9 19-9 29-10 18-9 2-9 2-9 18-9 27-9 16-9 0-9 1-9 18-9 25-9 14-9-1-9 0-9 16-9 24-10 11-9-2-9 0-9 15-9 21-9 10-9-3-9-1-9 13-9 19-9 8-9-4-9-1-9 12-10 16-9 6-9-5-9-2-9 11-9 15-9 4-9-7-9-3-9 10-9 13-9 2-9-8-9-4-9 8-10 12-9 1-9-11-9-5-9 8-9 10-9-1-9-12-9-7-9 7-9 10-9-4-9-14-9-8-10 6-9 9-9-5-9-17-9-10-9 6-9 8-9-7-9-19-9-11-9 6-9 6-9-10-9-20-9-12-10 5-9 4-9-11-9-22-9-13-9 4-9 3-9-14-9-24-9-13-9 2-9 2-9-16-9-25-10-14-9 1-9 0-9-18-9-26-9-15-9 0-9-3-9-19-9-28-9-16-9-1-9-4-9-21-9-30-10-16z"/>
<path transform="translate(-97.2 -61.5)" d="M1385 7497l9 13 9 4 9 9 9 22 9 24 9 12 9 2 9 8 9 21 9 23 9 10 9 1 9 7 9 20 10 21 9 8 9-1 9 6 9 19 9 19 9 7 9-3 9 5 9 18 9 18 9 4 9-4 9 4 10 17 9 16 9 3 9-6 9 3 9 16 9 14 9 1 9-7 9 3 9 13 9 12 9-1 9-6 9 1 10 12 9 9 9-2 9-7 9 0 9 10 9 7 9-3 9-8 9-1 9 8 9 6 9-6 9-9 10-1 9 6 9 4 9-7 9-10 9-3 9 5 9 2 9-8 9-12 9-4 9 4 9 0 9-10 10-13 9-5 9 3 9-2 9-12 9-14 9-6 9 1 9-2 9-14 9-17 9-7 9 1 9-4 9-16 10-18 9-8 9 0 9-6 9-18 9-20 9-9 9-1 9-7 9-20 9-23 9-9 9-1 9-9 10-23 9-23 9-11 9-2 9-11 9-24 9-25 9-11 9-4 9-13 9-26 9-26 9-12 9-6 9-14 10-28 9-27 9-13 9-7 9-17 9-29 9-28 9-14 9-8 9-19 9-31 9-29 9-15 9-10 10-20 25-54-9 22-9 31-9 25-9 15-9 12-9 21-9 29-9 24-9 13-9 11-9 20-9 28-9 22-10 11-9 10-9 19-9 27-9 20-9 9-9 9-9 18-9 25-9 18-9 8-9 8-9 17-9 23-10 17-9 6-9 6-9 16-9 22-9 15-9 5-9 5-9 15-9 20-9 13-9 3-9 4-9 14-9 19-10 11-9 2-9 3-9 13-9 16-9 10-9 0-9 2-9 12-9 15-9 7-9 0-9 1-9 10-10 13-9 6-9-2-9 0-9 9-9 11-9 4-9-3-9-1-9 7-9 10-9 3-9-5-9-2-9 6-10 8-9 1-9-6-9-4-9 5-9 8-9-1-9-9-9-5-9 5-9 6-9-3-9-10-9-7-10 4-9 5-9-5-9-12-9-8-9 3-9 3-9-6-9-14-9-9-9 2-9 2-9-8-9-16-9-10-10 1-9 0-9-10-9-17-9-11-9 0-9-2-9-12-9-18-9-12-9-2-9-3-9-13-9-20-10-13-9-3-9-5-9-15-9-21-9-14-9-5-9-6-9-17-9-23-9-15-9-6-9-8-9-18-9-24-10-16z"/>
<path transform="translate(-84.2 -53.3)" d="M1385 7450l9 17 9 29 9 22 9 4 9 1 9 16 9 27 9 20 9 2 9 0 9 15 9 27 9 17 9 1 10-1 9 14 9 25 9 15 9-1 9-2 9 13 9 24 9 13 9-3 9-3 9 12 9 22 9 12 10-5 9-4 9 11 9 21 9 10 9-7 9-5 9 10 9 19 9 8 9-8 9-6 9 10 9 16 9 6 10-9 9-7 9 9 9 14 9 3 9-9 9-7 9 6 9 13 9 1 9-11 9-8 9 6 9 10 10 0 9-12 9-9 9 4 9 9 9-3 9-13 9-10 9 4 9 6 9-4 9-15 9-11 9 3 10 5 9-6 9-17 9-12 9 2 9 4 9-8 9-19 9-13 9 0 9 3 9-9 9-21 9-15 9 0 10 2 9-12 9-23 9-16 9-1 9 2 9-14 9-26 9-17 9-1 9 0 9-16 9-27 9-19 10-2 9-1 9-19 9-28 9-19 9-3 9-4 9-20 9-30 9-20 9-4 9-5 9-22 9-32 9-21 10-5 9-7 9-24 9-33 9-22 9-6 9-9 9-26 9-34 9-23 9-7 9-11 9-28 9-35 10-24 25-18-9 20-9 6-9 13-9 32-9 35-9 18-9 4-9 12-9 31-9 33-9 16-9 2-9 12-10 30-9 32-9 13-9 1-9 11-9 29-9 30-9 11-9 0-9 10-9 28-9 28-9 9-9-2-10 10-9 27-9 26-9 7-9-3-9 8-9 26-9 24-9 6-9-5-9 8-9 25-9 22-9 4-9-6-10 6-9 24-9 20-9 2-9-7-9 6-9 22-9 18-9 0-9-8-9 6-9 20-9 16-9-2-10-8-9 4-9 19-9 13-9-3-9-9-9 3-9 17-9 12-9-5-9-11-9 3-9 16-9 10-9-7-10-12-9 2-9 15-9 8-9-9-9-14-9 1-9 14-9 7-9-12-9-15-9 0-9 14-9 5-10-14-9-17-9 0-9 12-9 3-9-16-9-18-9-1-9 11-9 1-9-18-9-19-9-2-9 10-9-1-10-20-9-20-9-3-9 9-9-3-9-22-9-21-9-4-9 7-9-5-9-23-9-22-9-5-9 6-10-7-9-25-9-24-9-5-9 4-9-9-9-27-9-24-9-6-9 2-9-11-9-28-9-26-9-6-9 0-10-13z"/>
<path transform="translate(-71.3 -45.1)" d="M1385 7426l9 16 9 24 9 19 9 8 9 6 9 15 9 22 9 17 9 7 9 4 9 14 9 21 9 16 9 4 10 4 9 13 9 19 9 14 9 3 9 2 9 12 9 18 9 12 9 1 9 1 9 11 9 17 9 10 10-1 9 0 9 10 9 15 9 8 9-1 9-2 9 9 9 14 9 6 9-3 9-3 9 7 9 13 9 4 10-5 9-3 9 6 9 10 9 3 9-6 9-4 9 5 9 8 9 1 9-7 9-5 9 3 9 7 10-1 9-8 9-7 9 2 9 5 9-2 9-10 9-7 9 1 9 3 9-4 9-12 9-8 9-1 10 2 9-5 9-14 9-10 9-1 9 1 9-8 9-15 9-11 9-2 9-1 9-9 9-17 9-12 9-4 10-1 9-11 9-19 9-14 9-4 9-3 9-13 9-21 9-15 9-5 9-4 9-15 9-22 9-16 10-6 9-7 9-16 9-24 9-17 9-7 9-8 9-18 9-25 9-19 9-8 9-10 9-20 9-26 9-19 10-10 9-11 9-22 9-28 9-20 9-12 9-12 9-24 9-29 9-22 9-12 9-14 9-26 9-30 10-23 25-31-9 21-9 15-9 18-9 25-9 26-9 20-9 13-9 17-9 24-9 25-9 17-9 13-9 15-10 23-9 23-9 16-9 11-9 14-9 22-9 21-9 14-9 10-9 13-9 20-9 20-9 12-9 9-10 12-9 18-9 19-9 11-9 6-9 11-9 18-9 16-9 10-9 5-9 10-9 16-9 15-9 7-9 4-10 9-9 15-9 13-9 6-9 3-9 7-9 14-9 12-9 4-9 1-9 6-9 12-9 10-9 3-10 0-9 5-9 11-9 8-9 2-9-2-9 4-9 9-9 7-9 0-9-3-9 3-9 8-9 5-9-2-10-4-9 1-9 7-9 4-9-4-9-6-9 1-9 5-9 2-9-5-9-7-9-1-9 4-9 1-10-7-9-9-9-2-9 3-9-1-9-9-9-9-9-4-9 2-9-3-9-10-9-11-9-5-9 0-9-4-10-12-9-12-9-6-9-1-9-6-9-14-9-13-9-7-9-3-9-8-9-14-9-15-9-8-9-5-10-9-9-16-9-16-9-10-9-5-9-12-9-18-9-17-9-10-9-7-9-13-9-20-9-18-9-12-9-9-10-14z"/>
<path transform="translate(-58.3 -36.9)" d="M1385 7416l9 13 9-1 9 7 9 25 9 29 9 11 9-2 9 6 9 24 9 27 9 9 9-4 9 5 9 23 10 25 9 7 9-5 9 4 9 23 9 23 9 5 9-7 9 4 9 21 9 21 9 3 9-8 9 3 10 20 9 20 9 1 9-10 9 2 9 19 9 18 9-1 9-11 9 1 9 18 9 16 9-3 9-13 9 0 10 18 9 13 9-5 9-13 9 0 9 15 9 11 9-6 9-14 9-1 9 13 9 10 9-9 9-15 10-2 9 12 9 8 9-10 9-16 9-3 9 11 9 5 9-12 9-17 9-4 9 10 9 3 9-14 10-18 9-5 9 9 9 1 9-15 9-21 9-5 9 8 9 0 9-18 9-22 9-7 9 7 9-1 9-20 10-24 9-7 9 6 9-3 9-23 9-25 9-7 9 5 9-6 9-24 9-26 9-8 9 3 9-8 10-26 9-27 9-9 9 2 9-10 9-28 9-27 9-10 9 0 9-12 9-29 9-29 9-11 9-1 9-14 10-31 9-30 9-12 9-2 9-16 9-33 9-31 9-13 9-4 9-18 9-35 9-31 9-14 9-5 10-20 25-69-9 23-9 39-9 29-9 9-9 5-9 23-9 37-9 27-9 7-9 4-9 22-9 36-9 25-10 5-9 3-9 21-9 34-9 23-9 4-9 1-9 21-9 33-9 21-9 1-9 1-9 20-9 31-10 19-9 0-9 0-9 19-9 30-9 17-9-3-9-1-9 18-9 29-9 15-9-4-9-3-9 18-9 27-10 13-9-6-9-3-9 16-9 26-9 11-9-8-9-4-9 16-9 24-9 8-9-9-9-5-9 15-10 22-9 7-9-11-9-6-9 14-9 21-9 4-9-12-9-7-9 13-9 19-9 2-9-14-9-7-9 12-10 17-9 1-9-16-9-9-9 12-9 15-9-2-9-17-9-9-9 10-9 14-9-4-9-19-9-10-10 10-9 12-9-6-9-21-9-10-9 8-9 11-9-8-9-22-9-12-9 8-9 8-9-10-9-24-9-12-10 7-9 7-9-13-9-25-9-13-9 6-9 5-9-15-9-26-9-14-9 5-9 3-9-17-9-27-10-15-9 3-9 2-9-19-9-29-9-15-9 2-9 0-9-21-9-30-9-17-9 2-9-3-9-22-9-32-10-17z"/>
<path transform="translate(-45.3 -28.7)" d="M1385 7379l9 14 9 9 9 11 9 19 9 19 9 13 9 7 9 11 9 17 9 18 9 11 9 6 9 9 9 16 10 17 9 9 9 4 9 8 9 15 9 15 9 8 9 3 9 7 9 13 9 13 9 6 9 2 9 6 10 12 9 12 9 4 9 0 9 4 9 11 9 11 9 2 9-1 9 3 9 10 9 9 9 1 9-3 9 2 10 8 9 7 9 0 9-4 9 1 9 7 9 5 9-2 9-6 9 0 9 6 9 3 9-3 9-7 10-1 9 4 9 2 9-6 9-8 9-2 9 2 9 1 9-7 9-9 9-4 9 1 9-1 9-9 10-10 9-5 9 0 9-3 9-10 9-12 9-6 9-2 9-4 9-12 9-13 9-8 9-2 9-6 9-14 10-15 9-8 9-4 9-8 9-15 9-16 9-10 9-5 9-9 9-17 9-17 9-11 9-7 9-11 10-18 9-19 9-12 9-8 9-13 9-19 9-20 9-14 9-9 9-14 9-22 9-21 9-15 9-11 9-16 10-22 9-23 9-16 9-12 9-18 9-24 9-24 9-17 9-14 9-19 9-26 9-25 9-18 9-16 10-20 25-54-9 22-9 25-9 22-9 19-9 18-9 20-9 23-9 21-9 17-9 17-9 19-9 22-9 19-10 16-9 15-9 18-9 20-9 18-9 14-9 14-9 16-9 19-9 17-9 12-9 12-9 16-9 17-10 15-9 11-9 11-9 14-9 16-9 14-9 9-9 10-9 13-9 14-9 12-9 8-9 8-9 12-9 13-10 10-9 7-9 7-9 10-9 11-9 9-9 5-9 6-9 9-9 10-9 7-9 4-9 4-9 8-10 8-9 6-9 2-9 3-9 6-9 7-9 4-9 1-9 2-9 5-9 5-9 3-9-1-9 1-9 3-10 4-9 1-9-2-9-1-9 2-9 3-9 0-9-4-9-2-9 1-9 1-9-2-9-5-9-4-10 0-9 0-9-4-9-7-9-5-9-1-9-2-9-5-9-8-9-7-9-3-9-3-9-6-9-10-9-7-10-5-9-4-9-9-9-11-9-9-9-5-9-6-9-10-9-13-9-10-9-7-9-7-9-12-9-14-10-11-9-9-9-9-9-13-9-15-9-13-9-9-9-11-9-14-9-17-9-14-9-11-9-12-9-16-9-18-10-16z"/>
<path transform="translate(-32.4 -20.5)" d="M1385 7330l9 17 9 32 9 23 9 2 9-1 9 16 9 31 9 20 9 1 9-3 9 16 9 29 9 19 9-2 10-4 9 15 9 28 9 17 9-4 9-4 9 14 9 26 9 15 9-6 9-5 9 13 9 25 9 12 10-7 9-6 9 12 9 24 9 10 9-9 9-8 9 12 9 22 9 8 9-10 9-9 9 11 9 21 9 6 10-13 9-9 9 10 9 19 9 4 9-14 9-11 9 10 9 17 9 2 9-16 9-11 9 8 9 16 10 0 9-17 9-13 9 8 9 14 9-2 9-19 9-14 9 7 9 13 9-5 9-20 9-14 9 5 10 11 9-6 9-22 9-15 9 5 9 9 9-9 9-24 9-16 9 5 9 7 9-11 9-25 9-17 9 3 10 6 9-12 9-27 9-18 9 2 9 4 9-15 9-28 9-18 9 1 9 2 9-17 9-30 9-19 10 0 9 1 9-19 9-31 9-20 9-1 9-1 9-22 9-32 9-21 9-2 9-3 9-23 9-34 9-22 10-3 9-5 9-25 9-35 9-23 9-4 9-6 9-28 9-37 9-23 9-5 9-8 9-30 9-38 10-24 25-22-9 19-9 4-9 13-9 33-9 36-9 18-9 2-9 12-9 32-9 35-9 15-9 1-9 11-10 31-9 33-9 13-9 0-9 10-9 30-9 31-9 11-9-2-9 10-9 29-9 29-9 9-9-3-10 9-9 28-9 27-9 7-9-5-9 8-9 27-9 26-9 5-9-6-9 7-9 26-9 24-9 2-9-7-10 6-9 25-9 22-9 1-9-9-9 6-9 24-9 19-9-1-9-10-9 5-9 23-9 18-9-4-10-11-9 4-9 22-9 16-9-6-9-13-9 4-9 21-9 13-9-7-9-14-9 3-9 19-9 12-9-9-10-15-9 2-9 18-9 10-9-12-9-16-9 2-9 16-9 8-9-13-9-17-9 0-9 16-9 6-10-16-9-18-9 0-9 14-9 4-9-17-9-20-9-1-9 13-9 2-9-19-9-21-9-1-9 11-9 0-10-21-9-22-9-2-9 10-9-3-9-22-9-23-9-3-9 8-9-4-9-25-9-23-9-4-9 7-10-7-9-26-9-25-9-4-9 5-9-8-9-29-9-25-9-6-9 5-9-11-9-30-9-27-9-6-9 3-10-13z"/>
<path transform="translate(-19.4 -12.3)" d="M1385 7309l9 15 9 18 9 16 9 12 9 12 9 14 9 16 9 15 9 10 9 10 9 13 9 15 9 13 9 9 10 9 9 11 9 14 9 11 9 8 9 7 9 10 9 12 9 10 9 6 9 6 9 9 9 11 9 8 10 5 9 4 9 8 9 9 9 7 9 3 9 3 9 6 9 8 9 6 9 1 9 2 9 5 9 6 9 4 10 0 9 1 9 3 9 5 9 3 9-2 9-1 9 3 9 3 9 1 9-3 9-2 9 1 9 2 10-1 9-4 9-4 9 0 9 1 9-3 9-6 9-5 9-1 9-1 9-4 9-7 9-7 9-2 10-3 9-5 9-9 9-7 9-5 9-3 9-8 9-10 9-9 9-5 9-5 9-9 9-12 9-10 9-7 10-6 9-11 9-13 9-11 9-8 9-9 9-11 9-15 9-13 9-9 9-10 9-13 9-16 9-14 10-11 9-11 9-15 9-17 9-16 9-12 9-13 9-16 9-19 9-17 9-13 9-14 9-18 9-21 9-18 10-15 9-15 9-20 9-21 9-20 9-16 9-17 9-21 9-23 9-21 9-18 9-18 9-23 9-24 10-22 25-48-9 21-9 22-9 21-9 21-9 20-9 20-9 20-9 20-9 19-9 19-9 19-9 19-9 18-10 18-9 17-9 18-9 17-9 17-9 16-9 16-9 16-9 16-9 15-9 15-9 15-9 15-9 14-10 14-9 14-9 13-9 13-9 13-9 12-9 13-9 11-9 12-9 12-9 11-9 10-9 11-9 10-9 10-10 10-9 9-9 9-9 9-9 9-9 8-9 8-9 8-9 7-9 7-9 7-9 6-9 7-9 6-10 5-9 6-9 5-9 5-9 4-9 5-9 4-9 3-9 3-9 4-9 3-9 2-9 2-9 2-9 2-10 1-9 2-9 0-9 1-9 0-9 0-9 0-9-1-9-1-9-1-9-1-9-2-9-2-9-2-10-3-9-3-9-3-9-3-9-4-9-4-9-4-9-5-9-5-9-5-9-5-9-6-9-6-9-6-9-7-10-7-9-7-9-7-9-8-9-8-9-8-9-9-9-9-9-9-9-9-9-10-9-10-9-10-9-11-10-11-9-11-9-11-9-12-9-12-9-12-9-13-9-12-9-13-9-14-9-14-9-14-9-14-9-14-9-15-10-15z"/>
</g>
<path d="M257 803.5L139.1 845.9L48.4 788.5L48.4 665.8M148.9 842.4l2.7 1.7M198.1 824.7l2.7 1.7M247.2 807l2.7 1.7M131.5 841.1l-3 1.1M93.8 817.2l-3 1.1M56 793.3l-3 1.1M48.4 788.5l-2.7 -1.7M48.4 754.2l-2.7 -1.7M48.4 720l-2.7 -1.7M48.4 685.7l-2.7 -1.7" fill="none" stroke="#5a5a5a" stroke-width="0.85"/>
<g fill="#2e2e2e">
<text x="41.6" y="687.3" text-anchor="end" font-size="10.5">150</text>
<text x="41.6" y="721.7" text-anchor="end" font-size="10.5">100</text>
<text x="41.6" y="756.1" text-anchor="end" font-size="10.5">50</text>
<text x="41.6" y="790.5" text-anchor="end" font-size="10.5">0</text>
<text transform="translate(16.5 729) rotate(-90)" text-anchor="middle" font-size="11.7">z</text>
<text x="39.8" y="808.3" text-anchor="middle" font-size="10.5">500</text>
<text x="83.6" y="831.8" text-anchor="middle" font-size="10.5">0</text>
<text x="114.1" y="855.4" text-anchor="middle" font-size="10.5">-500</text>
<text x="165.6" y="857.9" text-anchor="middle" font-size="10.5">-500</text>
<text x="207.2" y="840.3" text-anchor="middle" font-size="10.5">0</text>
<text x="262.6" y="821.8" text-anchor="middle" font-size="10.5">500</text>
<text x="76.5" y="860.2" text-anchor="middle" font-size="11.7">y</text>
<text x="208.6" y="863.2" text-anchor="middle" font-size="11.7">x</text>
</g>
</g>
<g>
<path d="M332.5 231.61H536.7M332.5 220.23H536.7M332.5 208.84H536.7M332.5 186.07H536.7M332.5 174.69H536.7M332.5 163.3H536.7M332.5 140.53H536.7M332.5 129.15H536.7M332.5 117.76H536.7M332.5 94.99H536.7M332.5 83.61H536.7M332.5 72.22H536.7M332.5 49.45H536.7M332.5 38.07H536.7M332.5 26.68H536.7" stroke="#eeeeee" stroke-width="0.6" fill="none"/>
<path d="M332.5 60.84H536.7M332.5 106.38H536.7M332.5 151.92H536.7M332.5 197.46H536.7M373.34 15.3V243M414.18 15.3V243M455.02 15.3V243M495.86 15.3V243" stroke="#e4e4e4" stroke-width="0.7" fill="none"/>
<path d="M332.5 243v-2.2M332.5 15.3v2.2M373.34 243v-2.2M373.34 15.3v2.2M414.18 243v-2.2M414.18 15.3v2.2M455.02 243v-2.2M455.02 15.3v2.2M495.86 243v-2.2M495.86 15.3v2.2M536.7 243v-2.2M536.7 15.3v2.2M332.5 15.3h2.2M536.7 15.3h-2.2M332.5 60.84h2.2M536.7 60.84h-2.2M332.5 106.38h2.2M536.7 106.38h-2.2M332.5 151.92h2.2M536.7 151.92h-2.2M332.5 197.46h2.2M536.7 197.46h-2.2M332.5 243h2.2M536.7 243h-2.2M332.5 231.61h1.3M536.7 231.61h-1.3M332.5 220.23h1.3M536.7 220.23h-1.3M332.5 208.84h1.3M536.7 208.84h-1.3M332.5 186.07h1.3M536.7 186.07h-1.3M332.5 174.69h1.3M536.7 174.69h-1.3M332.5 163.3h1.3M536.7 163.3h-1.3M332.5 140.53h1.3M536.7 140.53h-1.3M332.5 129.15h1.3M536.7 129.15h-1.3M332.5 117.76h1.3M536.7 117.76h-1.3M332.5 94.99h1.3M536.7 94.99h-1.3M332.5 83.61h1.3M536.7 83.61h-1.3M332.5 72.22h1.3M536.7 72.22h-1.3M332.5 49.45h1.3M536.7 49.45h-1.3M332.5 38.07h1.3M536.7 38.07h-1.3M332.5 26.68h1.3M536.7 26.68h-1.3" stroke="#5a5a5a" stroke-width="0.8" fill="none"/>
<rect x="332.5" y="15.3" width="204.2" height="227.7" fill="none" stroke="#5a5a5a" stroke-width="0.85"/>
<path d="M332.5 49.6L343.2 54L354 56.2L364.7 57.5L375.5 58L386.2 59.5L397 61.2L407.7 62.7L418.5 64.3L429.2 65.7L440 67L450.7 68.4L461.5 69.8L472.2 71.2L483 72.6L493.7 74L504.5 75.4L515.2 76.8L526 78.2L536.7 79.5" fill="none" stroke="#0000ff" stroke-width="1.45" stroke-linejoin="round"/><path d="M329.3 49.6L335.7 49.6M332.5 46.4L332.5 52.8M330.24 47.34L334.76 51.86M330.24 51.86L334.76 47.34M340.05 54L346.45 54M343.25 50.8L343.25 57.2M340.98 51.74L345.51 56.26M340.98 56.26L345.51 51.74M350.79 56.2L357.19 56.2M353.99 53L353.99 59.4M351.73 53.94L356.26 58.46M351.73 58.46L356.26 53.94M361.54 57.5L367.94 57.5M364.74 54.3L364.74 60.7M362.48 55.24L367 59.76M362.48 59.76L367 55.24M372.29 58L378.69 58M375.49 54.8L375.49 61.2M373.23 55.74L377.75 60.26M373.23 60.26L377.75 55.74M383.04 59.5L389.44 59.5M386.24 56.3L386.24 62.7M383.97 57.24L388.5 61.76M383.97 61.76L388.5 57.24M393.78 61.2L400.18 61.2M396.98 58L396.98 64.4M394.72 58.94L399.25 63.46M394.72 63.46L399.25 58.94M404.53 62.7L410.93 62.7M407.73 59.5L407.73 65.9M405.47 60.44L409.99 64.96M405.47 64.96L409.99 60.44M415.28 64.3L421.68 64.3M418.48 61.1L418.48 67.5M416.22 62.04L420.74 66.56M416.22 66.56L420.74 62.04M426.03 65.7L432.43 65.7M429.23 62.5L429.23 68.9M426.96 63.44L431.49 67.96M426.96 67.96L431.49 63.44M436.77 67L443.17 67M439.97 63.8L439.97 70.2M437.71 64.74L442.24 69.26M437.71 69.26L442.24 64.74M447.52 68.4L453.92 68.4M450.72 65.2L450.72 71.6M448.46 66.14L452.98 70.66M448.46 70.66L452.98 66.14M458.27 69.8L464.67 69.8M461.47 66.6L461.47 73M459.21 67.54L463.73 72.06M459.21 72.06L463.73 67.54M469.02 71.2L475.42 71.2M472.22 68L472.22 74.4M469.95 68.94L474.48 73.46M469.95 73.46L474.48 68.94M479.76 72.6L486.16 72.6M482.96 69.4L482.96 75.8M480.7 70.34L485.23 74.86M480.7 74.86L485.23 70.34M490.51 74L496.91 74M493.71 70.8L493.71 77.2M491.45 71.74L495.97 76.26M491.45 76.26L495.97 71.74M501.26 75.4L507.66 75.4M504.46 72.2L504.46 78.6M502.2 73.14L506.72 77.66M502.2 77.66L506.72 73.14M512.01 76.8L518.41 76.8M515.21 73.6L515.21 80M512.94 74.54L517.47 79.06M512.94 79.06L517.47 74.54M522.75 78.2L529.15 78.2M525.95 75L525.95 81.4M523.69 75.94L528.22 80.46M523.69 80.46L528.22 75.94M533.5 79.5L539.9 79.5M536.7 76.3L536.7 82.7M534.44 77.24L538.96 81.76M534.44 81.76L538.96 77.24" fill="none" stroke="#0000ff" stroke-width="1.4"/>
<path d="M332.5 49.6L343.2 54L354 56.2L364.7 57.9L375.5 61.2L386.2 64.3L397 69.9L407.7 78.4L418.5 85.6L429.2 94.6L440 106.2L450.7 117.9L461.5 134.9L472.2 150L483 163L493.7 180.8L504.5 186.9L515.2 218.6L526 233.9L536.7 238.9" fill="none" stroke="#00ff00" stroke-width="1.4" stroke-linejoin="round"/><path d="M332.5 45.8L333.4 48.4L336.1 48.4L333.9 50L334.7 52.7L332.5 51.1L330.3 52.7L331.1 50L328.9 48.4L331.6 48.4ZM343.2 50.2L344.1 52.8L346.9 52.8L344.6 54.4L345.5 57.1L343.2 55.5L341 57.1L341.9 54.4L339.6 52.8L342.4 52.8ZM354 52.4L354.8 55L357.6 55L355.4 56.6L356.2 59.3L354 57.7L351.8 59.3L352.6 56.6L350.4 55L353.1 55ZM364.7 54.1L365.6 56.7L368.4 56.7L366.1 58.3L367 61L364.7 59.4L362.5 61L363.4 58.3L361.1 56.7L363.9 56.7ZM375.5 57.4L376.3 60L379.1 60L376.9 61.6L377.7 64.3L375.5 62.7L373.3 64.3L374.1 61.6L371.9 60L374.6 60ZM386.2 60.5L387.1 63.1L389.9 63.1L387.6 64.7L388.5 67.4L386.2 65.8L384 67.4L384.9 64.7L382.6 63.1L385.4 63.1ZM397 66.1L397.8 68.7L400.6 68.7L398.4 70.3L399.2 73L397 71.4L394.8 73L395.6 70.3L393.4 68.7L396.1 68.7ZM407.7 74.6L408.6 77.2L411.3 77.2L409.1 78.8L410 81.5L407.7 79.9L405.5 81.5L406.4 78.8L404.1 77.2L406.9 77.2ZM418.5 81.8L419.3 84.4L422.1 84.4L419.9 86L420.7 88.7L418.5 87.1L416.2 88.7L417.1 86L414.9 84.4L417.6 84.4ZM429.2 90.8L430.1 93.4L432.8 93.4L430.6 95L431.5 97.7L429.2 96.1L427 97.7L427.8 95L425.6 93.4L428.4 93.4ZM440 102.4L440.8 105L443.6 105L441.4 106.6L442.2 109.3L440 107.7L437.7 109.3L438.6 106.6L436.4 105L439.1 105ZM450.7 114.1L451.6 116.7L454.3 116.7L452.1 118.3L453 121L450.7 119.4L448.5 121L449.3 118.3L447.1 116.7L449.9 116.7ZM461.5 131.1L462.3 133.7L465.1 133.7L462.8 135.3L463.7 138L461.5 136.4L459.2 138L460.1 135.3L457.9 133.7L460.6 133.7ZM472.2 146.2L473.1 148.8L475.8 148.8L473.6 150.4L474.4 153.1L472.2 151.5L470 153.1L470.8 150.4L468.6 148.8L471.4 148.8ZM483 159.2L483.8 161.8L486.6 161.8L484.3 163.4L485.2 166.1L483 164.5L480.7 166.1L481.6 163.4L479.3 161.8L482.1 161.8ZM493.7 177L494.6 179.6L497.3 179.6L495.1 181.2L495.9 183.9L493.7 182.3L491.5 183.9L492.3 181.2L490.1 179.6L492.9 179.6ZM504.5 183.1L505.3 185.7L508.1 185.7L505.8 187.3L506.7 190L504.5 188.4L502.2 190L503.1 187.3L500.8 185.7L503.6 185.7ZM515.2 214.8L516.1 217.4L518.8 217.4L516.6 219L517.4 221.7L515.2 220.1L513 221.7L513.8 219L511.6 217.4L514.4 217.4ZM526 230.1L526.8 232.7L529.6 232.7L527.3 234.3L528.2 237L526 235.4L523.7 237L524.6 234.3L522.3 232.7L525.1 232.7ZM536.7 235.1L537.6 237.7L540.3 237.7L538.1 239.3L538.9 242L536.7 240.4L534.5 242L535.3 239.3L533.1 237.7L535.8 237.7Z" fill="#00ff00" stroke="#00ff00" stroke-width="0.9" stroke-linejoin="miter"/>
<rect x="471.8" y="15.8" width="64.4" height="27.5" fill="#fff" stroke="#5a5a5a" stroke-width="0.85"/>
<path d="M475.1 23.6H506.9" stroke="#0000ff" stroke-width="1.45"/>
<path d="M487.8 23.6L494.2 23.6M491 20.4L491 26.8M488.74 21.34L493.26 25.86M488.74 25.86L493.26 21.34" fill="none" stroke="#0000ff" stroke-width="1.4"/>
<path d="M475.1 36H506.9" stroke="#00ff00" stroke-width="1.4"/>
<path d="M491 32.3L491.8 34.9L494.5 34.9L492.3 36.4L493.2 39L491 37.4L488.8 39L489.7 36.4L487.5 34.9L490.2 34.9Z" fill="#00ff00" stroke="#00ff00" stroke-width="0.9"/>
<g font-size="9.9" fill="#222"><text x="510" y="27.1">PSO</text><text x="510" y="39.5">IPSO</text></g>
<g font-size="10.5" fill="#2e2e2e">
<text x="332.5" y="258.9" text-anchor="middle">0</text>
<text x="373.3" y="258.9" text-anchor="middle">200</text>
<text x="414.2" y="258.9" text-anchor="middle">400</text>
<text x="455" y="258.9" text-anchor="middle">600</text>
<text x="495.9" y="258.9" text-anchor="middle">800</text>
<text x="536.7" y="258.9" text-anchor="middle">1000</text>
<text x="327.5" y="20.7" text-anchor="end">10<tspan dx="0.4" dy="-4.1" font-size="8.3">20</tspan></text>
<text x="327.5" y="66.2" text-anchor="end">10<tspan dx="0.4" dy="-4.1" font-size="8.3">0</tspan></text>
<text x="327.5" y="111.8" text-anchor="end">10<tspan dx="0.4" dy="-4.1" font-size="8.3">-20</tspan></text>
<text x="327.5" y="157.3" text-anchor="end">10<tspan dx="0.4" dy="-4.1" font-size="8.3">-40</tspan></text>
<text x="327.5" y="202.9" text-anchor="end">10<tspan dx="0.4" dy="-4.1" font-size="8.3">-60</tspan></text>
<text x="327.5" y="248.4" text-anchor="end">10<tspan dx="0.4" dy="-4.1" font-size="8.3">-80</tspan></text>
</g>
<g font-size="11.7" fill="#2e2e2e">
<text x="434.6" y="274.5" text-anchor="middle">Iterations</text>
<text transform="translate(296.5 129.2) rotate(-90)" text-anchor="middle">Fitness value</text>
</g>
</g>
<g>
<path d="M322.8 536.46H536.6M322.8 521.52H536.6M322.8 506.58H536.6M322.8 491.64H536.6M322.8 461.76H536.6M322.8 446.82H536.6M322.8 431.88H536.6M322.8 416.94H536.6M322.8 387.06H536.6M322.8 372.12H536.6M322.8 357.18H536.6M322.8 342.24H536.6" stroke="#eeeeee" stroke-width="0.6" fill="none"/>
<path d="M322.8 402H536.6M322.8 476.7H536.6M365.56 327.3V551.4M408.32 327.3V551.4M451.08 327.3V551.4M493.84 327.3V551.4" stroke="#e4e4e4" stroke-width="0.7" fill="none"/>
<path d="M322.8 551.4v-2.2M322.8 327.3v2.2M365.56 551.4v-2.2M365.56 327.3v2.2M408.32 551.4v-2.2M408.32 327.3v2.2M451.08 551.4v-2.2M451.08 327.3v2.2M493.84 551.4v-2.2M493.84 327.3v2.2M536.6 551.4v-2.2M536.6 327.3v2.2M322.8 327.3h2.2M536.6 327.3h-2.2M322.8 402h2.2M536.6 402h-2.2M322.8 476.7h2.2M536.6 476.7h-2.2M322.8 551.4h2.2M536.6 551.4h-2.2M322.8 536.46h1.3M536.6 536.46h-1.3M322.8 521.52h1.3M536.6 521.52h-1.3M322.8 506.58h1.3M536.6 506.58h-1.3M322.8 491.64h1.3M536.6 491.64h-1.3M322.8 461.76h1.3M536.6 461.76h-1.3M322.8 446.82h1.3M536.6 446.82h-1.3M322.8 431.88h1.3M536.6 431.88h-1.3M322.8 416.94h1.3M536.6 416.94h-1.3M322.8 387.06h1.3M536.6 387.06h-1.3M322.8 372.12h1.3M536.6 372.12h-1.3M322.8 357.18h1.3M536.6 357.18h-1.3M322.8 342.24h1.3M536.6 342.24h-1.3" stroke="#5a5a5a" stroke-width="0.8" fill="none"/>
<rect x="322.8" y="327.3" width="213.8" height="224.1" fill="none" stroke="#5a5a5a" stroke-width="0.85"/>
<path d="M322.8 362.5L334.1 367.7L345.3 373.2L356.6 374.9L367.8 376.4L379.1 377.5L390.3 378.8L401.6 378.8L412.8 378.8L424.1 378.8L435.3 378.8L446.6 378.8L457.8 378.8L469.1 378.8L480.3 378.8L491.6 378.8L502.8 378.8L514.1 378.8L525.3 378.8L536.6 378.8" fill="none" stroke="#0000ff" stroke-width="1.45" stroke-linejoin="round"/><path d="M319.6 362.5L326 362.5M322.8 359.3L322.8 365.7M320.54 360.24L325.06 364.76M320.54 364.76L325.06 360.24M330.85 367.7L337.25 367.7M334.05 364.5L334.05 370.9M331.79 365.44L336.32 369.96M331.79 369.96L336.32 365.44M342.11 373.2L348.51 373.2M345.31 370L345.31 376.4M343.04 370.94L347.57 375.46M343.04 375.46L347.57 370.94M353.36 374.9L359.76 374.9M356.56 371.7L356.56 378.1M354.3 372.64L358.82 377.16M354.3 377.16L358.82 372.64M364.61 376.4L371.01 376.4M367.81 373.2L367.81 379.6M365.55 374.14L370.07 378.66M365.55 378.66L370.07 374.14M375.86 377.5L382.26 377.5M379.06 374.3L379.06 380.7M376.8 375.24L381.33 379.76M376.8 379.76L381.33 375.24M387.12 378.8L393.52 378.8M390.32 375.6L390.32 382M388.05 376.54L392.58 381.06M388.05 381.06L392.58 376.54M398.37 378.8L404.77 378.8M401.57 375.6L401.57 382M399.31 376.54L403.83 381.06M399.31 381.06L403.83 376.54M409.62 378.8L416.02 378.8M412.82 375.6L412.82 382M410.56 376.54L415.08 381.06M410.56 381.06L415.08 376.54M420.87 378.8L427.27 378.8M424.07 375.6L424.07 382M421.81 376.54L426.34 381.06M421.81 381.06L426.34 376.54M432.13 378.8L438.53 378.8M435.33 375.6L435.33 382M433.06 376.54L437.59 381.06M433.06 381.06L437.59 376.54M443.38 378.8L449.78 378.8M446.58 375.6L446.58 382M444.32 376.54L448.84 381.06M444.32 381.06L448.84 376.54M454.63 378.8L461.03 378.8M457.83 375.6L457.83 382M455.57 376.54L460.09 381.06M455.57 381.06L460.09 376.54M465.88 378.8L472.28 378.8M469.08 375.6L469.08 382M466.82 376.54L471.35 381.06M466.82 381.06L471.35 376.54M477.14 378.8L483.54 378.8M480.34 375.6L480.34 382M478.07 376.54L482.6 381.06M478.07 381.06L482.6 376.54M488.39 378.8L494.79 378.8M491.59 375.6L491.59 382M489.33 376.54L493.85 381.06M489.33 381.06L493.85 376.54M499.64 378.8L506.04 378.8M502.84 375.6L502.84 382M500.58 376.54L505.1 381.06M500.58 381.06L505.1 376.54M510.89 378.8L517.29 378.8M514.09 375.6L514.09 382M511.83 376.54L516.36 381.06M511.83 381.06L516.36 376.54M522.15 378.8L528.55 378.8M525.35 375.6L525.35 382M523.08 376.54L527.61 381.06M523.08 381.06L527.61 376.54M533.4 378.8L539.8 378.8M536.6 375.6L536.6 382M534.34 376.54L538.86 381.06M534.34 381.06L538.86 376.54" fill="none" stroke="#0000ff" stroke-width="1.4"/>
<path d="M322.8 361.2L334.1 373.2L345.3 373.8L356.6 374.9L367.8 374.5L379.1 381.5L390.3 441.7L401.6 469.5L412.8 549.5" fill="none" stroke="#00ff00" stroke-width="1.4" stroke-linejoin="round"/><path d="M322.8 357.4L323.7 360L326.4 360L324.2 361.6L325 364.3L322.8 362.7L320.6 364.3L321.4 361.6L319.2 360L321.9 360ZM334.1 369.4L334.9 372L337.7 372L335.4 373.6L336.3 376.3L334.1 374.7L331.8 376.3L332.7 373.6L330.4 372L333.2 372ZM345.3 370L346.2 372.6L348.9 372.6L346.7 374.2L347.5 376.9L345.3 375.3L343.1 376.9L343.9 374.2L341.7 372.6L344.5 372.6ZM356.6 371.1L357.4 373.7L360.2 373.7L357.9 375.3L358.8 378L356.6 376.4L354.3 378L355.2 375.3L352.9 373.7L355.7 373.7ZM367.8 370.7L368.7 373.3L371.4 373.3L369.2 374.9L370 377.6L367.8 376L365.6 377.6L366.4 374.9L364.2 373.3L367 373.3ZM379.1 377.7L379.9 380.3L382.7 380.3L380.4 381.9L381.3 384.6L379.1 383L376.8 384.6L377.7 381.9L375.4 380.3L378.2 380.3ZM390.3 437.9L391.2 440.5L393.9 440.5L391.7 442.1L392.5 444.8L390.3 443.2L388.1 444.8L388.9 442.1L386.7 440.5L389.5 440.5ZM401.6 465.7L402.4 468.3L405.2 468.3L402.9 469.9L403.8 472.6L401.6 471L399.3 472.6L400.2 469.9L398 468.3L400.7 468.3ZM412.8 545.7L413.7 548.3L416.4 548.3L414.2 549.9L415.1 552.6L412.8 551L410.6 552.6L411.4 549.9L409.2 548.3L412 548.3Z" fill="#00ff00" stroke="#00ff00" stroke-width="0.9" stroke-linejoin="miter"/>
<rect x="471.8" y="326.9" width="63.8" height="27.6" fill="#fff" stroke="#5a5a5a" stroke-width="0.85"/>
<path d="M475 334.5H506.7" stroke="#0000ff" stroke-width="1.45"/>
<path d="M487.65 334.5L494.05 334.5M490.85 331.3L490.85 337.7M488.59 332.24L493.11 336.76M488.59 336.76L493.11 332.24" fill="none" stroke="#0000ff" stroke-width="1.4"/>
<path d="M475 347.3H506.7" stroke="#00ff00" stroke-width="1.4"/>
<path d="M490.9 343.6L491.7 346.2L494.4 346.2L492.2 347.7L493 350.3L490.9 348.7L488.7 350.3L489.5 347.7L487.3 346.2L490 346.2Z" fill="#00ff00" stroke="#00ff00" stroke-width="0.9"/>
<g font-size="9.9" fill="#222"><text x="509.6" y="338">PSO</text><text x="509.6" y="350.8">IPSO</text></g>
<g font-size="10.5" fill="#2e2e2e">
<text x="322.8" y="567.1" text-anchor="middle">0</text>
<text x="365.6" y="567.1" text-anchor="middle">200</text>
<text x="408.3" y="567.1" text-anchor="middle">400</text>
<text x="451.1" y="567.1" text-anchor="middle">600</text>
<text x="493.8" y="567.1" text-anchor="middle">800</text>
<text x="536.6" y="567.1" text-anchor="middle">1000</text>
<text x="317.8" y="332.7" text-anchor="end">10<tspan dx="0.4" dy="-4.1" font-size="8.3">5</tspan></text>
<text x="317.8" y="407.4" text-anchor="end">10<tspan dx="0.4" dy="-4.1" font-size="8.3">0</tspan></text>
<text x="317.8" y="482.1" text-anchor="end">10<tspan dx="0.4" dy="-4.1" font-size="8.3">-5</tspan></text>
<text x="317.8" y="556.8" text-anchor="end">10<tspan dx="0.4" dy="-4.1" font-size="8.3">-10</tspan></text>
</g>
<g font-size="11.7" fill="#2e2e2e">
<text x="429.7" y="582.4" text-anchor="middle">Iterations</text>
<text transform="translate(288.8 439.4) rotate(-90)" text-anchor="middle">Fitness value</text>
</g>
</g>
<g>
<path d="M327.9 835.24H537M327.9 824.08H537M327.9 812.92H537M327.9 801.76H537M327.9 779.44H537M327.9 768.28H537M327.9 757.12H537M327.9 745.96H537M327.9 723.64H537M327.9 712.48H537M327.9 701.32H537M327.9 690.16H537M327.9 667.84H537M327.9 656.68H537M327.9 645.52H537M327.9 634.36H537" stroke="#eeeeee" stroke-width="0.6" fill="none"/>
<path d="M327.9 679H537M327.9 734.8H537M327.9 790.6H537M369.72 623.2V846.4M411.54 623.2V846.4M453.36 623.2V846.4M495.18 623.2V846.4" stroke="#e4e4e4" stroke-width="0.7" fill="none"/>
<path d="M327.9 846.4v-2.2M327.9 623.2v2.2M369.72 846.4v-2.2M369.72 623.2v2.2M411.54 846.4v-2.2M411.54 623.2v2.2M453.36 846.4v-2.2M453.36 623.2v2.2M495.18 846.4v-2.2M495.18 623.2v2.2M537 846.4v-2.2M537 623.2v2.2M327.9 623.2h2.2M537 623.2h-2.2M327.9 679h2.2M537 679h-2.2M327.9 734.8h2.2M537 734.8h-2.2M327.9 790.6h2.2M537 790.6h-2.2M327.9 846.4h2.2M537 846.4h-2.2M327.9 835.24h1.3M537 835.24h-1.3M327.9 824.08h1.3M537 824.08h-1.3M327.9 812.92h1.3M537 812.92h-1.3M327.9 801.76h1.3M537 801.76h-1.3M327.9 779.44h1.3M537 779.44h-1.3M327.9 768.28h1.3M537 768.28h-1.3M327.9 757.12h1.3M537 757.12h-1.3M327.9 745.96h1.3M537 745.96h-1.3M327.9 723.64h1.3M537 723.64h-1.3M327.9 712.48h1.3M537 712.48h-1.3M327.9 701.32h1.3M537 701.32h-1.3M327.9 690.16h1.3M537 690.16h-1.3M327.9 667.84h1.3M537 667.84h-1.3M327.9 656.68h1.3M537 656.68h-1.3M327.9 645.52h1.3M537 645.52h-1.3M327.9 634.36h1.3M537 634.36h-1.3" stroke="#5a5a5a" stroke-width="0.8" fill="none"/>
<rect x="327.9" y="623.2" width="209.1" height="223.2" fill="none" stroke="#5a5a5a" stroke-width="0.85"/>
<path d="M327.9 647.9L338.9 668.2L349.9 673.6L360.9 676.9L371.9 678.4L382.9 679.1L393.9 679.7L404.9 684.7L415.9 688.7L426.9 694.4L438 706.5L449 710.8L460 717.3L471 723.8L482 728.7L493 733.4L504 740.2L515 747L526 751.3L537 762.4" fill="none" stroke="#0000ff" stroke-width="1.45" stroke-linejoin="round"/><path d="M324.7 647.9L331.1 647.9M327.9 644.7L327.9 651.1M325.64 645.64L330.16 650.16M325.64 650.16L330.16 645.64M335.71 668.2L342.11 668.2M338.91 665L338.91 671.4M336.64 665.94L341.17 670.46M336.64 670.46L341.17 665.94M346.71 673.6L353.11 673.6M349.91 670.4L349.91 676.8M347.65 671.34L352.17 675.86M347.65 675.86L352.17 671.34M357.72 676.9L364.12 676.9M360.92 673.7L360.92 680.1M358.65 674.64L363.18 679.16M358.65 679.16L363.18 674.64M368.72 678.4L375.12 678.4M371.92 675.2L371.92 681.6M369.66 676.14L374.18 680.66M369.66 680.66L374.18 676.14M379.73 679.1L386.13 679.1M382.93 675.9L382.93 682.3M380.66 676.84L385.19 681.36M380.66 681.36L385.19 676.84M390.73 679.7L397.13 679.7M393.93 676.5L393.93 682.9M391.67 677.44L396.19 681.96M391.67 681.96L396.19 677.44M401.74 684.7L408.14 684.7M404.94 681.5L404.94 687.9M402.67 682.44L407.2 686.96M402.67 686.96L407.2 682.44M412.74 688.7L419.14 688.7M415.94 685.5L415.94 691.9M413.68 686.44L418.2 690.96M413.68 690.96L418.2 686.44M423.75 694.4L430.15 694.4M426.95 691.2L426.95 697.6M424.68 692.14L429.21 696.66M424.68 696.66L429.21 692.14M434.75 706.5L441.15 706.5M437.95 703.3L437.95 709.7M435.69 704.24L440.22 708.76M435.69 708.76L440.22 704.24M445.76 710.8L452.16 710.8M448.96 707.6L448.96 714M446.7 708.54L451.22 713.06M446.7 713.06L451.22 708.54M456.76 717.3L463.16 717.3M459.96 714.1L459.96 720.5M457.7 715.04L462.23 719.56M457.7 719.56L462.23 715.04M467.77 723.8L474.17 723.8M470.97 720.6L470.97 727M468.71 721.54L473.23 726.06M468.71 726.06L473.23 721.54M478.77 728.7L485.17 728.7M481.97 725.5L481.97 731.9M479.71 726.44L484.24 730.96M479.71 730.96L484.24 726.44M489.78 733.4L496.18 733.4M492.98 730.2L492.98 736.6M490.72 731.14L495.24 735.66M490.72 735.66L495.24 731.14M500.78 740.2L507.18 740.2M503.98 737L503.98 743.4M501.72 737.94L506.25 742.46M501.72 742.46L506.25 737.94M511.79 747L518.19 747M514.99 743.8L514.99 750.2M512.73 744.74L517.25 749.26M512.73 749.26L517.25 744.74M522.79 751.3L529.19 751.3M525.99 748.1L525.99 754.5M523.73 749.04L528.26 753.56M523.73 753.56L528.26 749.04M533.8 762.4L540.2 762.4M537 759.2L537 765.6M534.74 760.14L539.26 764.66M534.74 764.66L539.26 760.14" fill="none" stroke="#0000ff" stroke-width="1.4"/>
<path d="M327.9 645.3L338.9 668.8L349.9 673.6L360.9 678.4L371.9 684.1L382.9 708.2L393.9 740.7L404.9 781.6L415.9 838.2" fill="none" stroke="#00ff00" stroke-width="1.4" stroke-linejoin="round"/><path d="M327.9 641.5L328.8 644.1L331.5 644.1L329.3 645.7L330.1 648.4L327.9 646.8L325.7 648.4L326.5 645.7L324.3 644.1L327 644.1ZM338.9 665L339.8 667.6L342.5 667.6L340.3 669.2L341.1 671.9L338.9 670.3L336.7 671.9L337.5 669.2L335.3 667.6L338.1 667.6ZM349.9 669.8L350.8 672.4L353.5 672.4L351.3 674L352.1 676.7L349.9 675.1L347.7 676.7L348.5 674L346.3 672.4L349.1 672.4ZM360.9 674.6L361.8 677.2L364.5 677.2L362.3 678.8L363.1 681.5L360.9 679.9L358.7 681.5L359.5 678.8L357.3 677.2L360.1 677.2ZM371.9 680.3L372.8 682.9L375.5 682.9L373.3 684.5L374.2 687.2L371.9 685.6L369.7 687.2L370.5 684.5L368.3 682.9L371.1 682.9ZM382.9 704.4L383.8 707L386.5 707L384.3 708.6L385.2 711.3L382.9 709.7L380.7 711.3L381.5 708.6L379.3 707L382.1 707ZM393.9 736.9L394.8 739.5L397.5 739.5L395.3 741.1L396.2 743.8L393.9 742.2L391.7 743.8L392.6 741.1L390.3 739.5L393.1 739.5ZM404.9 777.8L405.8 780.4L408.6 780.4L406.3 782L407.2 784.7L404.9 783.1L402.7 784.7L403.6 782L401.3 780.4L404.1 780.4ZM415.9 834.4L416.8 837L419.6 837L417.3 838.6L418.2 841.3L415.9 839.7L413.7 841.3L414.6 838.6L412.3 837L415.1 837Z" fill="#00ff00" stroke="#00ff00" stroke-width="0.9" stroke-linejoin="miter"/>
<rect x="464.5" y="631.3" width="64" height="27.8" fill="#fff" stroke="#5a5a5a" stroke-width="0.85"/>
<path d="M468.2 639.1H499.5" stroke="#0000ff" stroke-width="1.45"/>
<path d="M480.65 639.1L487.05 639.1M483.85 635.9L483.85 642.3M481.59 636.84L486.11 641.36M481.59 641.36L486.11 636.84" fill="none" stroke="#0000ff" stroke-width="1.4"/>
<path d="M468.2 652.2H499.5" stroke="#00ff00" stroke-width="1.4"/>
<path d="M483.9 648.5L484.7 651.1L487.4 651.1L485.2 652.6L486 655.2L483.9 653.6L481.7 655.2L482.5 652.6L480.3 651.1L483 651.1Z" fill="#00ff00" stroke="#00ff00" stroke-width="0.9"/>
<g font-size="9.9" fill="#222"><text x="502.7" y="642.6">PSO</text><text x="502.7" y="655.7">IPSO</text></g>
<g font-size="10.5" fill="#2e2e2e">
<text x="327.9" y="861.6" text-anchor="middle">0</text>
<text x="369.7" y="861.6" text-anchor="middle">200</text>
<text x="411.5" y="861.6" text-anchor="middle">400</text>
<text x="453.4" y="861.6" text-anchor="middle">600</text>
<text x="495.2" y="861.6" text-anchor="middle">800</text>
<text x="537" y="861.6" text-anchor="middle">1000</text>
<text x="322.9" y="628.6" text-anchor="end">10<tspan dx="0.4" dy="-4.1" font-size="8.3">5</tspan></text>
<text x="322.9" y="684.4" text-anchor="end">10<tspan dx="0.4" dy="-4.1" font-size="8.3">0</tspan></text>
<text x="322.9" y="740.2" text-anchor="end">10<tspan dx="0.4" dy="-4.1" font-size="8.3">-5</tspan></text>
<text x="322.9" y="796" text-anchor="end">10<tspan dx="0.4" dy="-4.1" font-size="8.3">-10</tspan></text>
<text x="322.9" y="851.8" text-anchor="end">10<tspan dx="0.4" dy="-4.1" font-size="8.3">-15</tspan></text>
</g>
<g font-size="11.7" fill="#2e2e2e">
<text x="432.4" y="877.2" text-anchor="middle">Iterations</text>
<text transform="translate(293 734.8) rotate(-90)" text-anchor="middle">Fitness value</text>
</g>
</g>
<g class="cap" font-family="'Liberation Serif','Times New Roman',serif" font-size="15.5" fill="#111" text-anchor="middle"><text x="278.5" y="305.7">(<tspan font-weight="bold">a</tspan>)</text><text x="278.5" y="610.7">(<tspan font-weight="bold">b</tspan>)</text><text x="278.6" y="897.7">(<tspan font-weight="bold">c</tspan>)</text></g>
</svg></body></html>
